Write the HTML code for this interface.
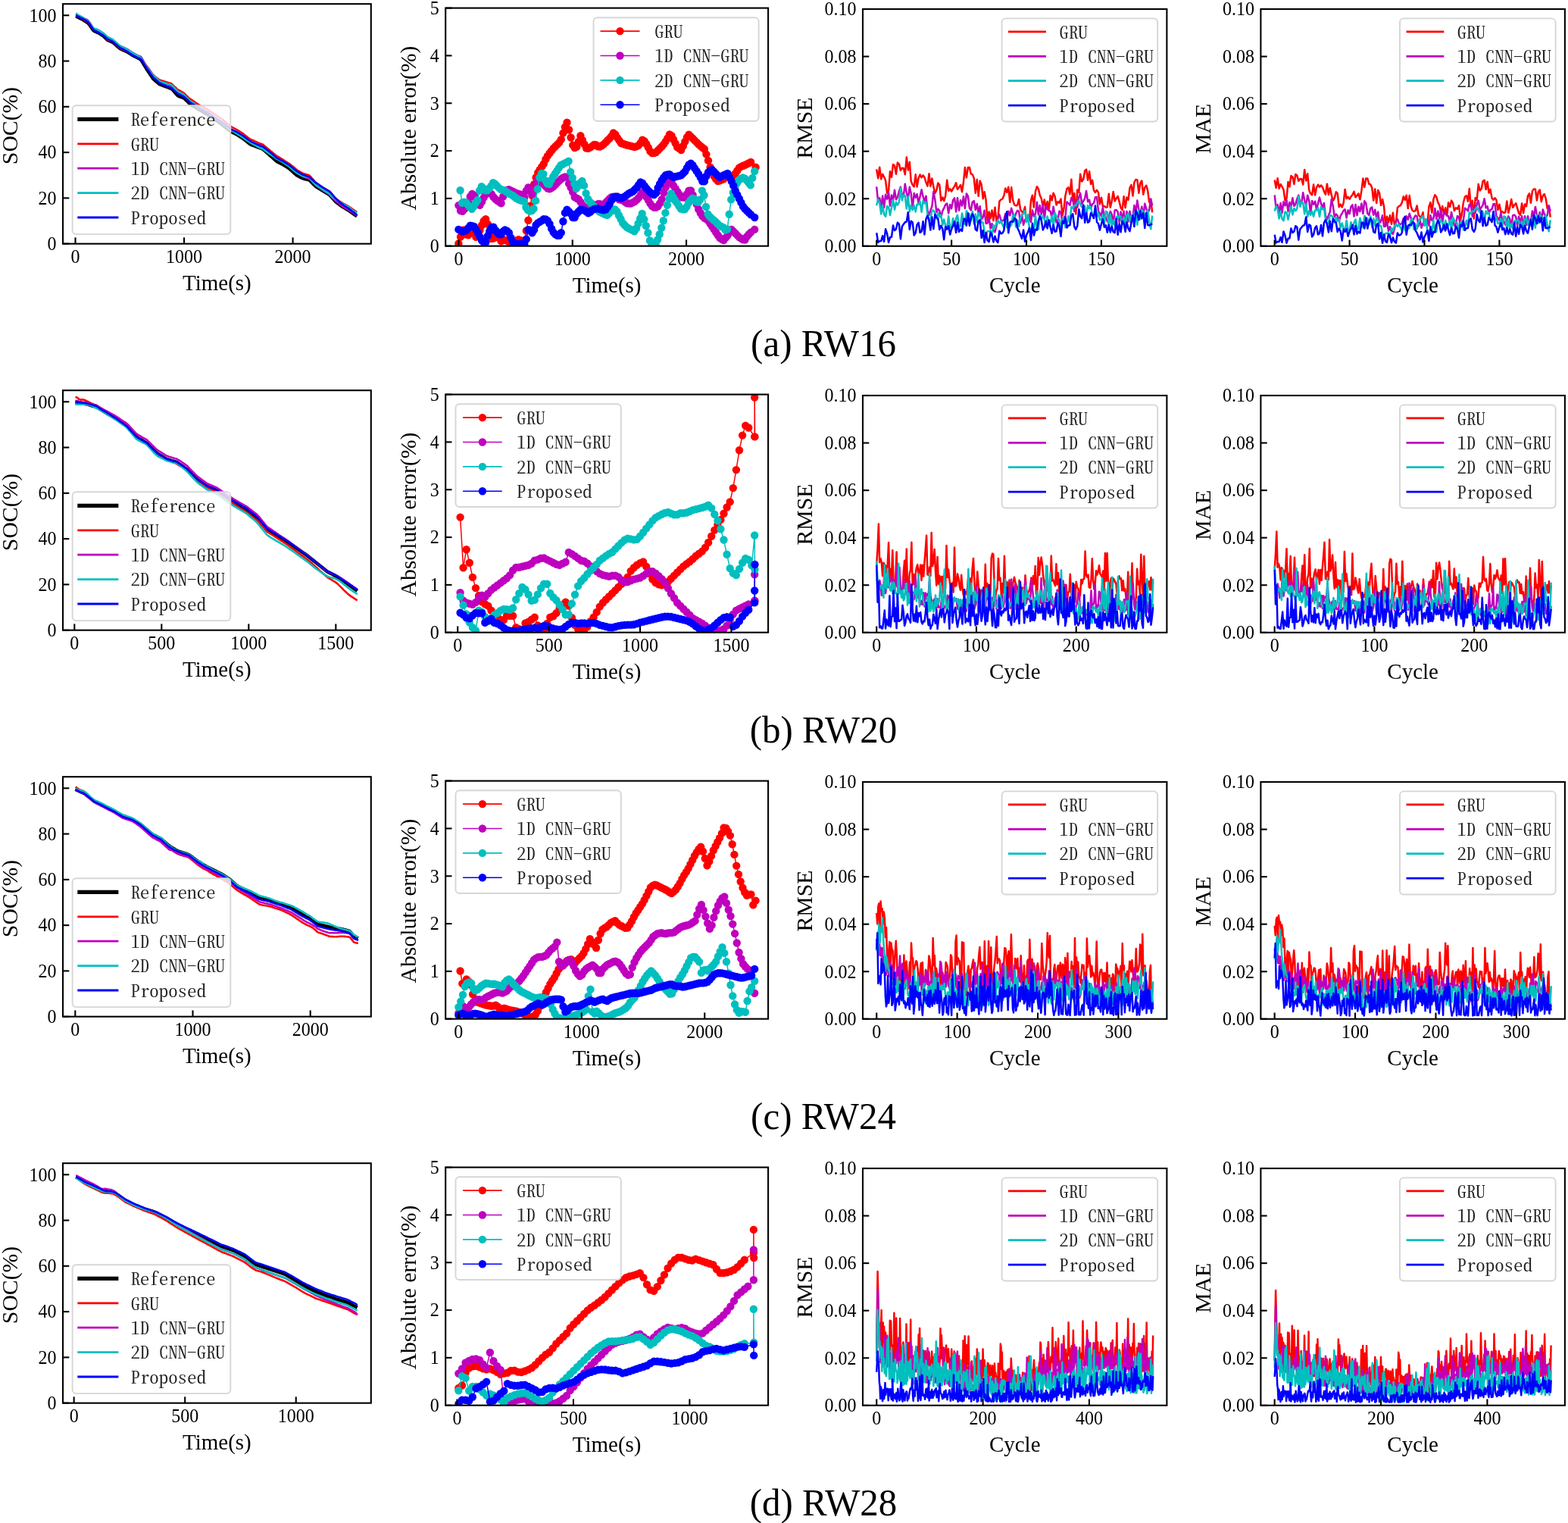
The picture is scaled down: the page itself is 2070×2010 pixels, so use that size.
<!DOCTYPE html>
<html><head><meta charset="utf-8"><title>SOC estimation results</title>
<style>
html,body{margin:0;padding:0;background:#fff;}
body{width:2070px;height:2010px;overflow:hidden;}
svg{display:block;}

.tk{stroke:#000;stroke-width:2.1;}
.fr{fill:none;stroke:#000;stroke-width:2.1;}
.lg{fill:#fff;fill-opacity:0.8;stroke:#d6d6d6;stroke-width:1.9;}
</style></head><body>
<svg width="2070" height="2010" viewBox="0 0 2070 2010">
<svg x="588.2" y="10.6" width="425.9" height="314.1" viewBox="588.2 10.6 425.9 314.1" overflow="hidden"><g>
<path d="M605.4 321.5l2.6-8.9 2.5-8.9 2.6 .1 2.5 5.8 2.6 .7 2.6-3.6 2.5-3.5 2.6 4.5 2.5 5.2 2.6-3.7 2.5-5.5 2.6-6.4 2.5-5.5 2.6-2.6 2.6 6.6 2.5 10.7 2.6 8.6 2.5-.5 2.6-7.6 2.5-.4 2.6 7.7 2.5 4.1 2.6-1.3 2.5-.5 2.6 1.3 2.6 1.3 2.5 .8 2.6-1 2.5-.9 2.6-1 2.5-.8 2.6 .8 2.5 .9 2.6 .8 2.5-14.3 2.6-13.7 2.6-19 2.5-13.7 2.6-14.9 2.5-9 2.6-6.3 2.5-4.3 2.6-3.7 2.5-3.6 2.6-6 2.5-4.6 2.6-3.4 2.6-3.4 2.5-3.1 2.6-2.5 2.5-2.6 2.6-2.6 2.5-4 2.6-8.5 2.5-7.9 2.6-6 2.6 9.5 2.5 10.3 2.6 10.1 2.5 3.4 2.6-1.3 2.5-6.8 2.6-7.6 2.5 5.6 2.6 5.5 2.5 5.1 2.6 .4 2.6-1.3 2.5-1.7 2.6-1.9 2.5 .3 2.6 2 2.5 .2 2.6-1.3 2.5-1.8 2.6-2.5 2.5-2.6 2.6-2.6 2.6-3 2.5-4.3 2.6 2 2.5 4.2 2.6 3.8 2.5 3.6 2.6 .8 2.5 .9 2.6 .8 2.6 .6 2.5 .7 2.6 .6 2.5 .7 2.6-1 2.5-1.2 2.6-3.2 2.5-3.9 2.6 1.3 2.5 3.9 2.6 4.6 2.6 5.1 2.5 2.4 2.6 0 2.5-1.1 2.6-2.5 2.5-2.6 2.6-2.5 2.5-3 2.6-3.8 2.5-4.1 2.6-5.1 2.6 1.5 2.5 5.1 2.6 5.1 2.5 5.1 2.6 1.9 2.5 1.9 2.6-5.2 2.5-5.8 2.6-5.9 2.5-3.4 2.6 2.6 2.6 2.5 2.5 2.6 2.6 2.5 2.5 2.6 2.6 2.2 2.5 2.1 2.6 2 2.5 6.8 2.6 8.3 2.6 8.7 2.5 6.4 2.6 5.6 2.5 3.8 2.6 2.7 2.5-.9 2.6-.8 2.5-1.1 2.6-2.6 2.5-2.3 2.6 1.3 2.6 1.2 2.5-2.4 2.6-2.6 2.5-3.7 2.6-3.8 2.5-1.5 2.6-1.1 2.5-1 2.6-1.3 2.5-1.3 2.6-1.3 6.4 6.8" fill="none" stroke="#ff0000" stroke-width="1.5"/>
<path d="M605.4 321.5h0M608 312.6h0M610.5 303.7h0M613.1 303.8h0M615.6 309.6h0M618.2 310.3h0M620.8 306.7h0M623.3 303.2h0M625.9 307.7h0M628.4 312.9h0M631 309.2h0M633.5 303.7h0M636.1 297.3h0M638.6 291.8h0M641.2 289.2h0M643.8 295.8h0M646.3 306.5h0M648.9 315.1h0M651.4 314.6h0M654 307h0M656.5 306.6h0M659.1 314.3h0M661.6 318.4h0M664.2 317.1h0M666.7 316.6h0M669.3 317.9h0M671.9 319.2h0M674.4 320h0M677 319h0M679.5 318.1h0M682.1 317.1h0M684.6 316.3h0M687.2 317.1h0M689.7 318h0M692.3 318.8h0M694.8 304.5h0M697.4 290.8h0M700 271.8h0M702.5 258.1h0M705.1 243.2h0M707.6 234.2h0M710.2 227.9h0M712.7 223.6h0M715.3 219.9h0M717.8 216.3h0M720.4 210.3h0M722.9 205.7h0M725.5 202.3h0M728.1 198.9h0M730.6 195.8h0M733.2 193.3h0M735.7 190.7h0M738.3 188.1h0M740.8 184.1h0M743.4 175.6h0M745.9 167.7h0M748.5 161.7h0M751.1 171.2h0M753.6 181.5h0M756.2 191.6h0M758.7 195h0M761.3 193.7h0M763.8 186.9h0M766.4 179.3h0M768.9 184.9h0M771.5 190.4h0M774 195.5h0M776.6 195.9h0M779.2 194.6h0M781.7 192.9h0M784.3 191h0M786.8 191.3h0M789.4 193.3h0M791.9 193.5h0M794.5 192.2h0M797 190.4h0M799.6 187.9h0M802.1 185.3h0M804.7 182.7h0M807.3 179.7h0M809.8 175.4h0M812.4 177.4h0M814.9 181.6h0M817.5 185.4h0M820 189h0M822.6 189.8h0M825.1 190.7h0M827.7 191.5h0M830.3 192.1h0M832.8 192.8h0M835.4 193.4h0M837.9 194.1h0M840.5 193.1h0M843 191.9h0M845.6 188.7h0M848.1 184.8h0M850.7 186.1h0M853.2 190h0M855.8 194.6h0M858.4 199.7h0M860.9 202.1h0M863.5 202.1h0M866 201h0M868.6 198.5h0M871.1 195.9h0M873.7 193.4h0M876.2 190.4h0M878.8 186.6h0M881.3 182.5h0M883.9 177.4h0M886.5 178.9h0M889 184h0M891.6 189.1h0M894.1 194.2h0M896.7 196.1h0M899.2 198h0M901.8 192.8h0M904.3 187h0M906.9 181.1h0M909.4 177.7h0M912 180.3h0M914.6 182.8h0M917.1 185.4h0M919.7 187.9h0M922.2 190.5h0M924.8 192.7h0M927.3 194.8h0M929.9 196.8h0M932.4 203.6h0M935 211.9h0M937.6 220.6h0M940.1 227h0M942.7 232.6h0M945.2 236.4h0M947.8 239.1h0M950.3 238.2h0M952.9 237.4h0M955.4 236.3h0M958 233.7h0M960.5 231.4h0M963.1 232.7h0M965.7 233.9h0M968.2 231.5h0M970.8 228.9h0M973.3 225.2h0M975.9 221.4h0M978.4 219.9h0M981 218.8h0M983.5 217.8h0M986.1 216.5h0M988.6 215.2h0M991.2 213.9h0M997.6 220.7h0" fill="none" stroke="#ff0000" stroke-width="10.4" stroke-linecap="round"/>
<path d="M605.4 271.1l2.6 6.9 2.5 .7 2.6-2.6 2.5-3.4 2.6-5.7 2.6-7.6 2.5-3.4 2.6 1.7 2.5 6.3 2.6 5 2.5 1.7 2.6-4.3 2.5-5.5 2.6-4.3 2.6-1.8 2.5-.7 2.6 2 2.5 3.9 2.6 2.8 2.5 1.9 2.6 1.9 2.5 1.7 2.6-8.8 2.5-7.4 2.6-1.2 2.6-.7 2.5 1.3 2.6 1.3 2.5 1.2 2.6 1.3 2.5 .6 2.6 .7 2.5 1.9 2.6 1.9 2.5-8.7 2.6-4.2 2.6 4.3 2.5 4.9 2.6-4.9 2.5-8.3 2.6-6.6 2.5 1.7 2.6 2.3 2.5 2.5 2.6 2.6 2.5 2.6 2.6 .7 2.6-1.3 2.5-1.8 2.6-2.5 2.5-2.6 2.6-2.5 2.5-2.4 2.6-1.7 2.5-1.1 2.6 .4 2.6 8.6 2.5 5.1 2.6 6 2.5 6.8 2.6 1.4 2.5 1.3 2.6 3.6 2.5 3.8 2.6 3.9 2.5 3.8 2.6-2.8 2.6-5.2 2.5-.8 2.6 1.3 2.5-.2 2.6-1.3 2.5 0 2.6 1.3 2.5-.4 2.6-2.6 2.5-2.5 2.6-2.6 2.6-2 2.5-.6 2.6-.1 2.5 1.9 2.6 1.7 2.5 .7 2.6 .7 2.5 1.9 2.6 1.9 2.6 .1 2.5 0 2.6-1.2 2.5-1.3 2.6-2.3 2.5-2.6 2.6-3.5 2.5-3.8 2.6 1.6 2.5 4.3 2.6 4.4 2.6 4.5 2.5 3.4 2.6 1.8 2.5 0 2.6-1.6 2.5-3.8 2.6-5.3 2.5-8.6 2.6-7.2 2.5-6.1 2.6-3.4 2.6 2.1 2.5 5 2.6 3.9 2.5 3.8 2.6 3.8 2.5 3.9 2.6 .2 2.5 0 2.6-4.4 2.5-4.3 2.6-.3 2.6 5.9 2.5 6 2.6 6.1 2.5 6.8 2.6 5 2.5 3.9 2.6 2.5 2.5 1.3 2.6 2.4 2.6 3.8 2.5 3.8 2.6 3.9 2.5 3.8 2.6 3.8 2.5 3.5 2.6 1.9 2.5 1.2 2.6-3.2 2.5-3.2 2.6-3.8 2.6-3.9 2.5 2.4 2.6 2.6 2.5 2.6 2.6 2.5 2.5 1.7 2.6 1.6 2.5 .2 2.6-4.3 2.5-3.1 2.6-2.6 5-3.7" fill="none" stroke="#bf00bf" stroke-width="1.5"/>
<path d="M605.4 271.1h0M608 278h0M610.5 278.7h0M613.1 276.1h0M615.6 272.7h0M618.2 267h0M620.8 259.4h0M623.3 256h0M625.9 257.7h0M628.4 264h0M631 269h0M633.5 270.7h0M636.1 266.4h0M638.6 260.9h0M641.2 256.6h0M643.8 254.8h0M646.3 254.1h0M648.9 256.1h0M651.4 260h0M654 262.8h0M656.5 264.7h0M659.1 266.6h0M661.6 268.3h0M664.2 259.5h0M666.7 252.1h0M669.3 250.9h0M671.9 250.2h0M674.4 251.5h0M677 252.8h0M679.5 254h0M682.1 255.3h0M684.6 255.9h0M687.2 256.6h0M689.7 258.5h0M692.3 260.4h0M694.8 251.7h0M697.4 247.5h0M700 251.8h0M702.5 256.7h0M705.1 251.8h0M707.6 243.5h0M710.2 236.9h0M712.7 238.6h0M715.3 240.9h0M717.8 243.4h0M720.4 246h0M722.9 248.6h0M725.5 249.3h0M728.1 248h0M730.6 246.2h0M733.2 243.7h0M735.7 241.1h0M738.3 238.6h0M740.8 236.2h0M743.4 234.5h0M745.9 233.4h0M748.5 233.8h0M751.1 242.4h0M753.6 247.5h0M756.2 253.5h0M758.7 260.3h0M761.3 261.7h0M763.8 263h0M766.4 266.6h0M768.9 270.4h0M771.5 274.3h0M774 278.1h0M776.6 275.3h0M779.2 270.1h0M781.7 269.3h0M784.3 270.6h0M786.8 270.4h0M789.4 269.1h0M791.9 269.1h0M794.5 270.4h0M797 270h0M799.6 267.4h0M802.1 264.9h0M804.7 262.3h0M807.3 260.3h0M809.8 259.7h0M812.4 259.6h0M814.9 261.5h0M817.5 263.2h0M820 263.9h0M822.6 264.6h0M825.1 266.5h0M827.7 268.4h0M830.3 268.5h0M832.8 268.5h0M835.4 267.3h0M837.9 266h0M840.5 263.7h0M843 261.1h0M845.6 257.6h0M848.1 253.8h0M850.7 255.4h0M853.2 259.7h0M855.8 264.1h0M858.4 268.6h0M860.9 272h0M863.5 273.8h0M866 273.8h0M868.6 272.2h0M871.1 268.4h0M873.7 263.1h0M876.2 254.5h0M878.8 247.3h0M881.3 241.2h0M883.9 237.8h0M886.5 239.9h0M889 244.9h0M891.6 248.8h0M894.1 252.6h0M896.7 256.4h0M899.2 260.3h0M901.8 260.5h0M904.3 260.5h0M906.9 256.1h0M909.4 251.8h0M912 251.5h0M914.6 257.4h0M917.1 263.4h0M919.7 269.5h0M922.2 276.3h0M924.8 281.3h0M927.3 285.2h0M929.9 287.7h0M932.4 289h0M935 291.4h0M937.6 295.2h0M940.1 299h0M942.7 302.9h0M945.2 306.7h0M947.8 310.5h0M950.3 314h0M952.9 315.9h0M955.4 317.1h0M958 313.9h0M960.5 310.7h0M963.1 306.9h0M965.7 303h0M968.2 305.4h0M970.8 308h0M973.3 310.6h0M975.9 313.1h0M978.4 314.8h0M981 316.4h0M983.5 316.6h0M986.1 312.3h0M988.6 309.2h0M991.2 306.6h0M996.2 302.9h0" fill="none" stroke="#bf00bf" stroke-width="10.4" stroke-linecap="round"/>
<path d="M607.6 251.2l2.5 16.6 2.6-1 2.5 .4 2.6 3.4 2.5 2.7 2.6 2.5 2.5-3.3 2.6-4.8 2.5-3.4 2.6-12.8 2.6-5.3 2.5 2.5 2.6 2.6 2.5 0 2.6-2.6 2.5-3.3 2.6-4.2 2.5 1.6 2.6 2.6 2.5 2.5 2.6 2.1 2.6 .7 2.5 .8 2.6 1.9 2.5 1.9 2.6 1.3 2.5 1.2 2.6 2 2.5 1.9 2.6 1.3 2.5 1.3 2.6 .7 2.6 .7 2.5 8 2.6 3.7 2.5 1.2 2.6-.6 2.5-2.6 2.6-10.5 2.5-15.3 2.6-15.3 2.6-5.3 2.5 .6 2.6 8.5 2.5 4.1 2.6 .8 2.5-5.1 2.6-4.8 2.5-3.8 2.6-3.9 2.5-3.8 2.6-3.6 2.6-1.3 2.5-1.3 2.6-1.3 2.5-1.3 2.6 14.1 2.5 7.8 2.6 7.9 2.5 6.3 2.6-3.4 2.5-4 2.6-2.5 2.6 5.9 2.5 10.2 2.6 7.6 2.5 3.8 2.6 3.2 2.5 2.6 2.6 2.5 2.5 2.6 2.6 2.1 2.6 1.3 2.5 1.3 2.6 1.2 2.5 .6 2.6-2.6 2.5-2.4 2.6-1.7 2.5-.8 2.6 2.7 2.5 5.1 2.6 5.1 2.6 5.1 2.5 2.8 2.6 2.6 2.5 1.5 2.6 1.3 2.5 1.3 2.6 1.3 2.5-3.8 2.6-6.4 2.5-6.6 2.6-6.5 2.6 7.6 2.5 8.5 2.6 9.3 2.5 10.2 2.6 4.3 2.5 1.8 2.6-1.7 2.5-5.5 2.6-7.1 2.6-8.5 2.5-9.6 2.6-10.3 2.5-10.2 2.6-8.4 2.5-6.8 2.6 4.6 2.5 4.4 2.6 3.4 2.5 3.8 2.6 3.8 2.6 .9 2.5 0 2.6-3.5 2.5-5.1 2.6-3.6 2.5-2.5 2.6 .9 2.5 3.8 2.6 .5 2.5-3.4 2.6-11.9 2.6 6.2 2.5 15.2 2.6 9.6 2.5 3.4 2.6 2.5 2.5 2 2.6 2.1 2.5 2.6 2.6 2.5 2.5 1.3 2.6 1.2 2.6 3.4 2.5-1.1 2.6-19.8 2.5-19.3 2.6-9.1 2.5-7.7 2.6-4.8 2.5-3.8 2.6-2.2 2.6-1.3 2.5 .9 2.6 2.6 2.5 3 2.6 3.4 2.5-9.4 2.9-9" fill="none" stroke="#00bfbf" stroke-width="1.5"/>
<path d="M607.6 251.2h0M610.1 267.8h0M612.7 266.8h0M615.2 267.2h0M617.8 270.6h0M620.3 273.3h0M622.9 275.8h0M625.4 272.5h0M628 267.7h0M630.5 264.3h0M633.1 251.5h0M635.7 246.2h0M638.2 248.7h0M640.8 251.3h0M643.3 251.3h0M645.9 248.7h0M648.4 245.4h0M651 241.2h0M653.5 242.8h0M656.1 245.4h0M658.6 247.9h0M661.2 250h0M663.8 250.7h0M666.3 251.5h0M668.9 253.4h0M671.4 255.3h0M674 256.6h0M676.5 257.8h0M679.1 259.8h0M681.6 261.7h0M684.2 263h0M686.7 264.3h0M689.3 265h0M691.9 265.7h0M694.4 273.7h0M697 277.4h0M699.5 278.6h0M702.1 278h0M704.6 275.4h0M707.2 264.9h0M709.7 249.6h0M712.3 234.3h0M714.9 229h0M717.4 229.6h0M720 238.1h0M722.5 242.2h0M725.1 243h0M727.6 237.9h0M730.2 233.1h0M732.7 229.3h0M735.3 225.4h0M737.8 221.6h0M740.4 218h0M743 216.7h0M745.5 215.4h0M748.1 214.1h0M750.6 212.8h0M753.2 226.9h0M755.7 234.7h0M758.3 242.6h0M760.8 248.9h0M763.4 245.5h0M765.9 241.5h0M768.5 239h0M771.1 244.9h0M773.6 255.1h0M776.2 262.7h0M778.7 266.5h0M781.3 269.7h0M783.8 272.3h0M786.4 274.8h0M788.9 277.4h0M791.5 279.5h0M794.1 280.8h0M796.6 282.1h0M799.2 283.3h0M801.7 283.9h0M804.3 281.3h0M806.8 278.9h0M809.4 277.2h0M811.9 276.4h0M814.5 279.1h0M817 284.2h0M819.6 289.3h0M822.2 294.4h0M824.7 297.2h0M827.3 299.8h0M829.8 301.3h0M832.4 302.6h0M834.9 303.9h0M837.5 305.2h0M840 301.4h0M842.6 295h0M845.1 288.4h0M847.7 281.9h0M850.3 289.5h0M852.8 298h0M855.4 307.3h0M857.9 317.5h0M860.5 321.8h0M863 323.6h0M865.6 321.9h0M868.1 316.4h0M870.7 309.3h0M873.3 300.8h0M875.8 291.2h0M878.4 280.9h0M880.9 270.7h0M883.5 262.3h0M886 255.5h0M888.6 260.1h0M891.1 264.5h0M893.7 267.9h0M896.2 271.7h0M898.8 275.5h0M901.4 276.4h0M903.9 276.4h0M906.5 272.9h0M909 267.8h0M911.6 264.2h0M914.1 261.7h0M916.7 262.6h0M919.2 266.4h0M921.8 266.9h0M924.3 263.5h0M926.9 251.6h0M929.5 257.8h0M932 273h0M934.6 282.6h0M937.1 286h0M939.7 288.5h0M942.2 290.5h0M944.8 292.6h0M947.3 295.2h0M949.9 297.7h0M952.4 299h0M955 300.2h0M957.6 303.6h0M960.1 302.5h0M962.7 282.7h0M965.2 263.4h0M967.8 254.3h0M970.3 246.6h0M972.9 241.8h0M975.4 238h0M978 235.8h0M980.6 234.5h0M983.1 235.4h0M985.7 238h0M988.2 241h0M990.8 244.4h0M993.3 235h0M996.2 226h0" fill="none" stroke="#00bfbf" stroke-width="10.4" stroke-linecap="round"/>
<path d="M605.4 302.9l2.6 1.5 2.5 1.1 2.6-.6 2.5-.8 2.6-3.2 2.6-3.2 2.5 .6 2.6 .6 2.5 4.1 2.6 4.5 2.5 5 2.6 5.1 2.5 2.5 2.6-.2 2.6-8.5 2.5-6.4 2.6-5.1 2.5-.1 2.6 3.8 2.5 3.2 2.6 2.6 2.5 0 2.6-3.9 2.5-2.1 2.6 1.2 2.6 2.6 2.5 6.4 2.6 5.6 2.5 1.9 2.6 1.7 2.5-.7 2.6-.6 2.5 .7 2.6 .6 2.5-7.1 2.6-12.6 2.6 .5 2.5 3.8 2.6-4.2 2.5-6.3 2.6-2.8 2.5-1.3 2.6-1.7 2.5-1.9 2.6 .2 2.5 1.9 2.6 4.1 2.6 6.4 2.5 4.8 2.6 2.6 2.5 1.7 2.6 0 2.5-3.8 2.6-14.8 2.5-11.4 2.6-4.1 2.6 2.5 2.5 2.7 2.6 5.1 2.5 0 2.6-5.1 2.5-2.7 2.6-2.5 2.5 .2 2.6 .6 2.5 1.6 2.6 2 2.6-1.3 2.5-2.5 2.6-1.4 2.5-.6 2.6 0 2.5 .7 2.6 .6 2.5 .7 2.6-.9 2.5-3.2 2.6-3.8 2.6-5.1 2.5-4.1 2.6-.6 2.5-.3 2.6 1.3 2.5 1 2.6-1.3 2.5-1.3 2.6-1.9 2.6-1.9 2.5-1.3 2.6-1.3 2.5-2.4 2.6-2.5 2.5-3.6 2.6-3.8 2.5 1.3 2.6 3.4 2.5 3.4 2.6 2.9 2.6 2.6 2.5 1.9 2.6 1.2 2.5-2.2 2.6-6.9 2.5-5.3 2.6-4.7 2.5-3.8 2.6-3 2.5-.7 2.6-.2 2.6 1.9 2.5 1.7 2.6-.6 2.5-.7 2.6-.6 2.5-.6 2.6-2.5 2.5-2.5 2.6-4.8 2.5-4.1 2.6-1.7 2.6 2.5 2.5 3.8 2.6 3.8 2.5 3.9 2.6 4.5 2.5 5 2.6 0 2.5-6.8 2.6-5 2.6-2.5 2.5-.7 2.6 2.5 2.5 2.6 2.6 2.5 2.5 1.8 2.6-1.3 2.5-1.2 2.6-1.3 2.5-1 2.6 5.2 2.6 5.1 2.5 5.8 2.6 6.9 2.5 5.2 2.6 5.1 2.5 5.2 2.6 5.1 2.5 3.2 2.6 2.5 2.5 2.6 2.6 2.5 5 3.7" fill="none" stroke="#0000ff" stroke-width="1.5"/>
<path d="M605.4 302.9h0M608 304.4h0M610.5 305.5h0M613.1 304.9h0M615.6 304.1h0M618.2 300.9h0M620.8 297.7h0M623.3 298.3h0M625.9 298.9h0M628.4 303h0M631 307.5h0M633.5 312.5h0M636.1 317.6h0M638.6 320.1h0M641.2 319.9h0M643.8 311.4h0M646.3 305h0M648.9 299.9h0M651.4 299.8h0M654 303.6h0M656.5 306.8h0M659.1 309.4h0M661.6 309.4h0M664.2 305.5h0M666.7 303.4h0M669.3 304.6h0M671.9 307.2h0M674.4 313.6h0M677 319.2h0M679.5 321.1h0M682.1 322.8h0M684.6 322.1h0M687.2 321.5h0M689.7 322.2h0M692.3 322.8h0M694.8 315.7h0M697.4 303.1h0M700 303.6h0M702.5 307.4h0M705.1 303.2h0M707.6 296.9h0M710.2 294.1h0M712.7 292.8h0M715.3 291.1h0M717.8 289.2h0M720.4 289.4h0M722.9 291.3h0M725.5 295.4h0M728.1 301.8h0M730.6 306.6h0M733.2 309.2h0M735.7 310.9h0M738.3 310.9h0M740.8 307.1h0M743.4 292.3h0M745.9 280.9h0M748.5 276.8h0M751.1 279.3h0M753.6 282h0M756.2 287.1h0M758.7 287.1h0M761.3 282h0M763.8 279.3h0M766.4 276.8h0M768.9 277h0M771.5 277.6h0M774 279.2h0M776.6 281.2h0M779.2 279.9h0M781.7 277.4h0M784.3 276h0M786.8 275.4h0M789.4 275.4h0M791.9 276.1h0M794.5 276.7h0M797 277.4h0M799.6 276.5h0M802.1 273.3h0M804.7 269.5h0M807.3 264.4h0M809.8 260.3h0M812.4 259.7h0M814.9 259.4h0M817.5 260.7h0M820 261.7h0M822.6 260.4h0M825.1 259.1h0M827.7 257.2h0M830.3 255.3h0M832.8 254h0M835.4 252.7h0M837.9 250.3h0M840.5 247.8h0M843 244.2h0M845.6 240.4h0M848.1 241.7h0M850.7 245.1h0M853.2 248.5h0M855.8 251.4h0M858.4 254h0M860.9 255.9h0M863.5 257.1h0M866 254.9h0M868.6 248h0M871.1 242.7h0M873.7 238h0M876.2 234.2h0M878.8 231.2h0M881.3 230.5h0M883.9 230.3h0M886.5 232.2h0M889 233.9h0M891.6 233.3h0M894.1 232.6h0M896.7 232h0M899.2 231.4h0M901.8 228.9h0M904.3 226.4h0M906.9 221.6h0M909.4 217.5h0M912 215.8h0M914.6 218.3h0M917.1 222.1h0M919.7 225.9h0M922.2 229.8h0M924.8 234.3h0M927.3 239.3h0M929.9 239.3h0M932.4 232.5h0M935 227.5h0M937.6 225h0M940.1 224.3h0M942.7 226.8h0M945.2 229.4h0M947.8 231.9h0M950.3 233.7h0M952.9 232.4h0M955.4 231.2h0M958 229.9h0M960.5 228.9h0M963.1 234.1h0M965.7 239.2h0M968.2 245h0M970.8 251.9h0M973.3 257.1h0M975.9 262.2h0M978.4 267.4h0M981 272.5h0M983.5 275.7h0M986.1 278.2h0M988.6 280.8h0M991.2 283.3h0M996.2 287h0" fill="none" stroke="#0000ff" stroke-width="10.4" stroke-linecap="round"/>
</g></svg>
<svg x="83" y="5.2" width="406.8" height="316.5" viewBox="83 5.2 406.8 316.5" overflow="hidden"><g fill="none" stroke-linejoin="round">
<path d="M100.2 21.2l1.4 .7 1.5 .8 1.4 .7 1.4 .7 1.5 .7 1.4 .8 1.5 .9 1.4 .9 1.4 .9 1.5 .9 1.4 .9 1.4 1.6 1.5 2 1.4 2.1 1.4 2 1.5 2.1 1.4 1.1 1.4 .6 1.5 .6 1.4 .7 1.4 .6 1.5 .8 1.4 1 1.5 .9 1.4 1 1.4 1.1 1.5 1.5 1.4 1.4 1.4 1.4 1.5 .8 1.4 .6 1.4 .6 1.5 .6 1.4 .6 1.4 1.2 1.5 1.3 1.4 1.3 1.5 1.3 1.4 1.2 1.4 1.3 1.5 1 1.4 .6 1.4 .7 1.5 .6 1.4 .6 1.4 .7 1.5 .6 1.4 .9 1.4 .9 1.5 .9 1.4 .9 1.4 .9 1.5 .8 1.4 .8 1.5 .7 1.4 .7 1.4 .7 1.5 .7 1.4 .8 1.4 1.1 1.5 2.4 1.4 2.3 1.4 2.3 1.5 2.4 1.4 2.3 1.4 2.2 1.5 2.2 1.4 2.1 1.4 2.2 1.5 2.1 1.4 2.2 1.5 1.3 1.4 1.3 1.4 1.2 1.5 1.3 1.4 1.2 1.4 1.1 1.5 .6 1.4 .5 1.4 .6 1.5 .5 1.4 .5 1.4 .6 1.5 .5 1.4 .5 1.5 .6 1.4 .5 1.4 .6 1.5 1.4 1.4 1.6 1.4 1.6 1.5 1.7 1.4 1.6 1.4 1.4 1.5 .6 1.4 .5 1.4 .5 1.5 .6 1.4 .5 1.4 1 1.5 1.4 1.4 1.4 1.5 1.5 1.4 1.4 1.4 1.5 1.5 1 1.4 .9 1.4 .9 1.5 .9 1.4 .8 1.4 .9 1.5 .9 1.4 .8 1.4 .8 1.5 .8 1.4 .8 1.4 .9 1.5 .8 1.4 .8 1.5 .8 1.4 .9 1.4 .9 1.5 1 1.4 .9 1.4 1 1.5 .9 1.4 1 1.4 1 1.5 .9 1.4 1 1.4 1.1 1.5 1.1 1.4 1.1 1.5 1.1 1.4 1 1.4 1.2 1.5 1.1 1.4 1.2 1.4 1.1 1.5 1.2 1.4 1.1 1.4 1.2 1.5 .8 1.4 .7 1.4 .7 1.5 .7 1.4 .7 1.4 .8 1.5 .9 1.4 .9 1.5 .9 1.4 .9 1.4 .9 1.5 1 1.4 1.1 1.4 1.2 1.5 1.1 1.4 1.2 1.4 1.1 1.5 1.2 1.4 .9 1.4 .5 1.5 .6 1.4 .5 1.4 .5 1.5 .6 1.4 .5 1.5 .6 1.4 .5 1.4 .5 1.5 .6 1.4 .5 1.4 1.3 1.5 1.2 1.4 1.3 1.4 1.2 1.5 1.3 1.4 1.2 1.4 1.3 1.5 1.3 1.4 1.3 1.5 1.3 1.4 1.3 1.4 1.3 1.5 1.2 1.4 .7 1.4 .7 1.5 .7 1.4 .8 1.4 .7 1.5 .8 1.4 .9 1.4 .9 1.5 .9 1.4 .9 1.4 .9 1.5 1.2 1.4 1.3 1.5 1.3 1.4 1.3 1.4 1.2 1.5 1.3 1.4 1.3 1.4 .9 1.5 .7 1.4 .8 1.4 .7 1.5 .7 1.4 .7 1.4 .4 1.5 .3 1.4 .4 1.5 .3 1.4 .4 1.4 .7 1.5 1.4 1.4 1.5 1.4 1.4 1.5 1.4 1.4 1.5 1.4 1.1 1.5 .9 1.4 .9 1.4 .9 1.5 .9 1.4 .9 1.4 .8 1.5 .9 1.4 .9 1.5 .8 1.4 .9 1.4 .8 1.5 .9 1.4 1.5 1.4 1.6 1.5 1.6 1.4 1.6 1.4 1.6 1.5 1.6 1.4 1.1 1.4 1 1.5 1.1 1.4 1.1 1.4 1.1 1.5 .9 1.4 .9 1.5 .9 1.4 .8 1.4 .9 1.5 .8 1.4 .9 1.4 .9 1.5 1.1 1.4 1 1.4 1.1 1.5 1 1.4 1.1 1.4 1 .7 .5" stroke="#000" stroke-width="4.6"/>
<path d="M100.2 20.9l1.4 .5 1.5 .5 1.4 .4 1.4 .7 1.5 .9 1.4 .9 1.5 1.1 1.4 .8 1.4 .8 1.5 .8 1.4 .8 1.4 1.6 1.5 2.2 1.4 2.2 1.4 2.2 1.5 1.9 1.4 1 1.4 .4 1.5 .5 1.4 .4 1.4 .5 1.5 .7 1.4 .9 1.5 .9 1.4 1.3 1.4 1.5 1.5 1.7 1.4 1.7 1.4 1.6 1.5 .6 1.4 .4 1.4 .4 1.5 .6 1.4 .8 1.4 1.4 1.5 1.5 1.4 1.3 1.5 1.2 1.4 1.3 1.4 1.2 1.5 1 1.4 .7 1.4 .7 1.5 .6 1.4 .7 1.4 .6 1.5 .7 1.4 .8 1.4 .9 1.5 .9 1.4 .8 1.4 .9 1.5 .9 1.4 .7 1.5 .7 1.4 .8 1.4 .7 1.5 .5 1.4 .3 1.4 .8 1.5 1.8 1.4 1.8 1.4 2 1.5 1.9 1.4 1.9 1.4 1.8 1.5 1.9 1.4 2 1.4 2 1.5 2 1.4 2 1.5 1.3 1.4 1.1 1.4 1.2 1.5 1.1 1.4 1.1 1.4 .9 1.5 .4 1.4 .5 1.4 .4 1.5 .5 1.4 .4 1.4 .5 1.5 .4 1.4 .5 1.5 .5 1.4 .4 1.4 .5 1.5 1.4 1.4 1.4 1.4 1.4 1.5 1.3 1.4 1.4 1.4 1.3 1.5 .4 1.4 .9 1.4 .8 1.5 .9 1.4 .8 1.4 1.2 1.5 1.5 1.4 1.6 1.5 1.3 1.4 1.3 1.4 1.2 1.5 .8 1.4 .8 1.4 1.1 1.5 1.1 1.4 1 1.4 1 1.5 1 1.4 .8 1.4 .8 1.5 .8 1.4 .8 1.4 .7 1.5 .8 1.4 .8 1.5 .8 1.4 .9 1.4 1 1.5 1 1.4 .9 1.4 .9 1.5 1 1.4 .9 1.4 .8 1.5 .9 1.4 1 1.4 1 1.5 1 1.4 1 1.5 1 1.4 .9 1.4 1.1 1.5 1.2 1.4 1.3 1.4 1.3 1.5 1.2 1.4 1.3 1.4 1.2 1.5 .9 1.4 .7 1.4 .7 1.5 .8 1.4 .7 1.4 .8 1.5 .9 1.4 .9 1.5 .9 1.4 1 1.4 .9 1.5 1 1.4 1.1 1.4 1.1 1.5 1.2 1.4 1.1 1.4 1 1.5 1.1 1.4 .8 1.4 .5 1.5 .7 1.4 .6 1.4 .7 1.5 .6 1.4 .7 1.5 .7 1.4 .6 1.4 .6 1.5 .5 1.4 .5 1.4 1.2 1.5 1.2 1.4 1.2 1.4 1.2 1.5 1.1 1.4 1.2 1.4 1.3 1.5 1.1 1.4 1.2 1.5 1.2 1.4 1.2 1.4 1.1 1.5 1.1 1.4 .7 1.4 .9 1.5 .9 1.4 .8 1.4 .9 1.5 .9 1.4 1 1.4 1 1.5 .9 1.4 1 1.4 .7 1.5 1.1 1.4 1.1 1.5 1.2 1.4 1.1 1.4 1.1 1.5 1.3 1.4 1.4 1.4 .9 1.5 .8 1.4 .8 1.4 .8 1.5 .8 1.4 .8 1.4 .4 1.5 .4 1.4 .5 1.5 .4 1.4 .4 1.4 .7 1.5 1.6 1.4 1.7 1.4 1.6 1.5 1.7 1.4 1.7 1.4 1.3 1.5 1.1 1.4 1 1.4 1.1 1.5 1 1.4 1 1.4 .9 1.5 .9 1.4 .8 1.5 .8 1.4 .9 1.4 .8 1.5 .8 1.4 1.4 1.4 1.6 1.5 1.5 1.4 1.7 1.4 1.6 1.5 1.6 1.4 1 1.4 1.1 1.5 1 1.4 1 1.4 .9 1.5 .9 1.4 .7 1.5 .9 1.4 .8 1.4 .8 1.5 .8 1.4 .9 1.4 .9 1.5 1 1.4 1 1.4 1 1.5 1 1.4 1 1.4 1.1 .7 .5" stroke="#ff0000" stroke-width="2.6"/>
<path d="M100.2 18.8l1.4 .9 1.5 .8 1.4 .7 1.4 .6 1.5 .6 1.4 .7 1.5 .8 1.4 .7 1.4 .7 1.5 .7 1.4 .8 1.4 1.6 1.5 2.1 1.4 2.2 1.4 2.3 1.5 2.2 1.4 1.2 1.4 .6 1.5 .6 1.4 .4 1.4 .5 1.5 .7 1.4 .8 1.5 .9 1.4 .9 1.4 1.2 1.5 1.4 1.4 1.5 1.4 1.5 1.5 .9 1.4 .7 1.4 .7 1.5 .6 1.4 .7 1.4 1.2 1.5 1.4 1.4 1.3 1.5 1 1.4 1 1.4 1 1.5 1 1.4 .6 1.4 .6 1.5 .6 1.4 .7 1.4 .7 1.5 .7 1.4 .9 1.4 .9 1.5 1 1.4 .9 1.4 .9 1.5 .9 1.4 .7 1.5 .8 1.4 .7 1.4 .8 1.5 .6 1.4 .4 1.4 1 1.5 2.4 1.4 2.5 1.4 2.4 1.5 2.5 1.4 2.3 1.4 2 1.5 1.9 1.4 1.9 1.4 2 1.5 2.2 1.4 2.2 1.5 1.4 1.4 1.3 1.4 1.3 1.5 1.3 1.4 1.4 1.4 1.1 1.5 .6 1.4 .6 1.4 .5 1.5 .5 1.4 .5 1.4 .5 1.5 .5 1.4 .4 1.5 .5 1.4 .5 1.4 .4 1.5 1.4 1.4 1.6 1.4 1.5 1.5 1.6 1.4 1.6 1.4 1.4 1.5 .7 1.4 .8 1.4 .7 1.5 .7 1.4 .6 1.4 1.2 1.5 1.6 1.4 1.6 1.5 1.5 1.4 1.4 1.4 1.5 1.5 1.1 1.4 1 1.4 1 1.5 1 1.4 1 1.4 1 1.5 1 1.4 .7 1.4 .6 1.5 .7 1.4 .8 1.4 .8 1.5 .9 1.4 .8 1.5 .8 1.4 .8 1.4 .9 1.5 1 1.4 1 1.4 1 1.5 1 1.4 .9 1.4 .9 1.5 .8 1.4 1 1.4 1 1.5 1 1.4 1 1.5 1.1 1.4 1 1.4 1.1 1.5 1.2 1.4 1.2 1.4 1.2 1.5 1.2 1.4 1.2 1.4 1.1 1.5 .9 1.4 .7 1.4 .8 1.5 .7 1.4 .8 1.4 .8 1.5 .9 1.4 .9 1.5 .9 1.4 .8 1.4 .9 1.5 1 1.4 1.1 1.4 1 1.5 1.1 1.4 1.1 1.4 1 1.5 1.1 1.4 .8 1.4 .5 1.5 .7 1.4 .6 1.4 .7 1.5 .7 1.4 .6 1.5 .7 1.4 .6 1.4 .7 1.5 .5 1.4 .6 1.4 1.2 1.5 1.3 1.4 1.1 1.4 1.1 1.5 1.2 1.4 1.1 1.4 1 1.5 1.1 1.4 1.1 1.5 1.1 1.4 1.1 1.4 1.2 1.5 1.1 1.4 .8 1.4 .8 1.5 .9 1.4 .8 1.4 .8 1.5 1 1.4 1 1.4 1 1.5 1 1.4 1 1.4 .9 1.5 1.2 1.4 1.3 1.5 1.2 1.4 1.2 1.4 1.1 1.5 1.2 1.4 1.2 1.4 1.1 1.5 .9 1.4 .9 1.4 .9 1.5 .8 1.4 .9 1.4 .6 1.5 .5 1.4 .5 1.5 .5 1.4 .4 1.4 .8 1.5 1.5 1.4 1.5 1.4 1.4 1.5 1.6 1.4 1.5 1.4 1.2 1.5 1 1.4 1 1.4 1 1.5 1 1.4 1 1.4 1 1.5 1 1.4 .9 1.5 1 1.4 .9 1.4 .9 1.5 .8 1.4 1.4 1.4 1.5 1.5 1.5 1.4 1.5 1.4 1.5 1.5 1.5 1.4 1.1 1.4 1.1 1.5 1.2 1.4 1.1 1.4 1.2 1.5 1 1.4 .9 1.5 1 1.4 .9 1.4 .9 1.5 .9 1.4 .8 1.4 .8 1.5 1 1.4 .9 1.4 1 1.5 1 1.4 .9 1.4 1 .7 .5" stroke="#bf00bf" stroke-width="2.6"/>
<path d="M100.2 17.7l1.4 .8 1.5 1.2 1.4 1 1.4 .6 1.5 .7 1.4 .8 1.5 1 1.4 1 1.4 1 1.5 1 1.4 .9 1.4 1.6 1.5 1.9 1.4 1.9 1.4 2 1.5 1.9 1.4 .9 1.4 .2 1.5 .3 1.4 .7 1.4 .7 1.5 .9 1.4 1.1 1.5 1 1.4 .8 1.4 1.1 1.5 1.4 1.4 1.3 1.4 1.3 1.5 .6 1.4 .7 1.4 .7 1.5 .7 1.4 .7 1.4 1.3 1.5 1.3 1.4 1.3 1.5 1.3 1.4 1.3 1.4 1.3 1.5 1 1.4 .7 1.4 .7 1.5 .7 1.4 .7 1.4 .6 1.5 .7 1.4 1 1.4 .9 1.5 1 1.4 .9 1.4 1 1.5 .8 1.4 .8 1.5 .7 1.4 .8 1.4 .7 1.5 .9 1.4 1 1.4 1.2 1.5 2.4 1.4 2.4 1.4 2.3 1.5 2.3 1.4 2.3 1.4 2 1.5 1.9 1.4 1.7 1.4 1.7 1.5 1.8 1.4 1.8 1.5 1.2 1.4 1.1 1.4 1.4 1.5 1.5 1.4 1.5 1.4 1.1 1.5 .7 1.4 .5 1.4 .4 1.5 .4 1.4 .4 1.4 .4 1.5 .5 1.4 .4 1.5 .4 1.4 .4 1.4 .5 1.5 1.3 1.4 1.6 1.4 1.6 1.5 1.5 1.4 1.6 1.4 1.4 1.5 .5 1.4 .5 1.4 .9 1.5 1 1.4 .7 1.4 1.2 1.5 1.6 1.4 1.7 1.5 1.5 1.4 1.4 1.4 1.3 1.5 .9 1.4 .8 1.4 .8 1.5 1.1 1.4 1.1 1.4 1.2 1.5 1.1 1.4 1 1.4 .9 1.5 1 1.4 .9 1.4 .9 1.5 .9 1.4 .8 1.5 .9 1.4 .9 1.4 1.1 1.5 1 1.4 1 1.4 1 1.5 1 1.4 1 1.4 1 1.5 1 1.4 1 1.4 1 1.5 1 1.4 1 1.5 1 1.4 1.1 1.4 1.1 1.5 1.1 1.4 1.2 1.4 1.3 1.5 1.3 1.4 1.3 1.4 1.3 1.5 .9 1.4 .9 1.4 .7 1.5 .8 1.4 .8 1.4 .8 1.5 1 1.4 .9 1.5 .9 1.4 1 1.4 .9 1.5 1 1.4 1.1 1.4 1 1.5 .9 1.4 1 1.4 1 1.5 .9 1.4 .9 1.4 .8 1.5 .7 1.4 .8 1.4 .8 1.5 .8 1.4 .8 1.5 .8 1.4 .6 1.4 .7 1.5 .5 1.4 .5 1.4 1.2 1.5 1.1 1.4 1 1.4 1.1 1.5 1 1.4 1 1.4 1 1.5 1 1.4 1 1.5 1 1.4 1.1 1.4 1 1.5 1 1.4 .5 1.4 .8 1.5 .9 1.4 .8 1.4 .8 1.5 .9 1.4 1 1.4 1 1.5 1 1.4 1 1.4 .9 1.5 1.3 1.4 1.3 1.5 1.2 1.4 1.1 1.4 1.2 1.5 1.1 1.4 1.2 1.4 .9 1.5 .6 1.4 .7 1.4 .8 1.5 .9 1.4 .8 1.4 .3 1.5 .3 1.4 .2 1.5 0 1.4 .1 1.4 1 1.5 2 1.4 1.8 1.4 1.7 1.5 1.6 1.4 1.5 1.4 1.2 1.5 .9 1.4 1 1.4 1 1.5 .9 1.4 1 1.4 .9 1.5 .9 1.4 1 1.5 .9 1.4 .9 1.4 .9 1.5 .9 1.4 1.6 1.4 1.6 1.5 1.4 1.4 1 1.4 .9 1.5 1.1 1.4 .8 1.4 .9 1.5 .8 1.4 .9 1.4 1 1.5 .9 1.4 .7 1.5 .8 1.4 .8 1.4 .9 1.5 .8 1.4 .9 1.4 1 1.5 1.2 1.4 1.1 1.4 1.1 1.5 1.2 1.4 .7 1.4 .8 .7 .3" stroke="#00bfbf" stroke-width="2.6"/>
<path d="M100.2 20.2l1.4 .8 1.5 .7 1.4 .8 1.4 .7 1.5 .7 1.4 .7 1.5 .8 1.4 .8 1.4 .8 1.5 .9 1.4 .9 1.4 1.6 1.5 2.1 1.4 2.2 1.4 2.1 1.5 2.2 1.4 1.3 1.4 .7 1.5 .8 1.4 .7 1.4 .7 1.5 .9 1.4 1 1.5 .7 1.4 .7 1.4 1 1.5 1.3 1.4 1.3 1.4 1.3 1.5 .8 1.4 .7 1.4 .7 1.5 .7 1.4 .7 1.4 1.3 1.5 1.3 1.4 1.2 1.5 1.2 1.4 1.2 1.4 1.2 1.5 1 1.4 .7 1.4 .6 1.5 .8 1.4 .8 1.4 .9 1.5 .8 1.4 .9 1.4 1 1.5 .9 1.4 .9 1.4 .9 1.5 .8 1.4 .7 1.5 .8 1.4 .7 1.4 .7 1.5 .6 1.4 .5 1.4 1 1.5 1.8 1.4 2.4 1.4 2.5 1.5 2.4 1.4 2.3 1.4 2.1 1.5 1.9 1.4 2 1.4 2.1 1.5 2.1 1.4 2.2 1.5 1.2 1.4 1.2 1.4 1.2 1.5 1.2 1.4 1.4 1.4 1.1 1.5 .6 1.4 .6 1.4 .8 1.5 .7 1.4 .7 1.4 .6 1.5 .6 1.4 .6 1.5 .6 1.4 .6 1.4 .5 1.5 1.5 1.4 1.2 1.4 1.2 1.5 1.2 1.4 1.4 1.4 1.3 1.5 .5 1.4 .6 1.4 .6 1.5 .6 1.4 .7 1.4 1.1 1.5 1.5 1.4 1.3 1.5 1.3 1.4 1.3 1.4 1.4 1.5 .9 1.4 .8 1.4 1 1.5 .9 1.4 .9 1.4 .9 1.5 .9 1.4 .9 1.4 .8 1.5 .8 1.4 .7 1.4 .8 1.5 .8 1.4 .8 1.5 .8 1.4 .8 1.4 1 1.5 .9 1.4 1 1.4 1 1.5 1 1.4 .9 1.4 1 1.5 .9 1.4 .9 1.4 1 1.5 1 1.4 .9 1.5 .9 1.4 1 1.4 1.1 1.5 1.1 1.4 1.1 1.4 1.2 1.5 1.2 1.4 1.2 1.4 1.1 1.5 .8 1.4 .7 1.4 .7 1.5 .6 1.4 .7 1.4 .7 1.5 .8 1.4 .9 1.5 .9 1.4 .8 1.4 .9 1.5 .9 1.4 1.1 1.4 1.1 1.5 1 1.4 1.1 1.4 1 1.5 1.1 1.4 1 1.4 .6 1.5 .7 1.4 .6 1.4 .7 1.5 .6 1.4 .6 1.5 .6 1.4 .6 1.4 .6 1.5 .5 1.4 .6 1.4 1.1 1.5 1 1.4 1.1 1.4 1.1 1.5 1.1 1.4 1.2 1.4 1.2 1.5 1.1 1.4 1.2 1.5 1.3 1.4 1.3 1.4 1.3 1.5 1.2 1.4 .7 1.4 .8 1.5 .8 1.4 .7 1.4 .7 1.5 .8 1.4 .9 1.4 .8 1.5 .9 1.4 .9 1.4 .8 1.5 1.2 1.4 1.2 1.5 1.2 1.4 1.1 1.4 1.2 1.5 1.2 1.4 1.2 1.4 .9 1.5 .8 1.4 .8 1.4 .9 1.5 .8 1.4 .8 1.4 .5 1.5 .5 1.4 .5 1.5 .5 1.4 .4 1.4 .7 1.5 1.3 1.4 1.3 1.4 1.2 1.5 1.4 1.4 1.3 1.4 1.1 1.5 .8 1.4 1 1.4 1 1.5 1 1.4 .9 1.4 1 1.5 .9 1.4 .9 1.5 .8 1.4 .8 1.4 .9 1.5 .8 1.4 1.4 1.4 1.6 1.5 1.7 1.4 1.7 1.4 1.8 1.5 1.6 1.4 1.3 1.4 1.2 1.5 1.3 1.4 1.3 1.4 1.2 1.5 1.1 1.4 1 1.5 1 1.4 1 1.4 1 1.5 1 1.4 .9 1.4 1 1.5 1.2 1.4 1.1 1.4 1.1 1.5 1.1 1.4 1.1 1.4 1.1 .7 .6" stroke="#0000ff" stroke-width="2.6"/>
</g></svg>
<svg x="1139" y="12" width="401.4" height="312.8" viewBox="1139 12 401.4 312.8" overflow="hidden"><g fill="none" stroke-linejoin="round">
<path d="M1157.2 223.4l2 11.9 2-14.6 2 15.7 2-6.6 1.9 3.7 2 4.7 2 16.6 2-3.2 1.9-25.3 2 7.5 2-16.9 2 1.6 2 11.2 1.9-15.1 2 1.8 2 8.5 2-3.2 1.9 .2 2 8.4 2-22.8 2 16.9 2-10.6 1.9 25.2 2 5 2 2.4 2-16.1 1.9 16.1 2-11.4 2-4.5 2 3.8 2-2.9 1.9 2.9 2 6.4 2 5 2-16.4 1.9 16.5 2-10.2 2 11 2 8.4 2-4 1.9-9.4 2 2.3 2 20.9 2-4.3 1.9 4.6 2-6.7 2-20.6 2 14.1 2-2.6 1.9 3.4 2-3.8 2-2.9 2-4.7 1.9 8.6 2-2.6 2-3.2 2 9.2 2-13.2 1.9-19 2 13.3 2-13.4 2 .1 1.9 8.4 2 .6 2 5 2 19.8 2-17.8 1.9 21.7 2-20 2 4.6 2 18.8 1.9-9.1 2 11.2 2 27.5 2-12.3 2 8.8 1.9-10.8 2 13.7 2-17.5 2 18.4 1.9-3.2 2-23.3 2-2.1 2-1 2-4.5 1.9-9.4 2 5.3 2-7.1 2 20.1 1.9-19.6 2 17 2 6.1 2 1.1 2-.9 1.9-7.7 2 13.8 2 2.7 2 1.4 2-7.8 1.9 19.7 2-2.6 2 .5 2-26 1.9-6.9 2 15.8 2-20.7 2-6.5 2 3.1 1.9 8.3 2 4.4 2 10.7 2-9.4 1.9 12.2 2-9.6 2 11.2 2-19.3 2 6.6 1.9-9.7 2 4.2 2 11.6 2-4.4 1.9 1.5 2-5.2 2 22.1 2-9.5 2-17.2 1.9-8.8 2-1.7 2 8.8 2-19.4 1.9 28.4 2-10.2 2 27.5 2-32 2 3.2 1.9-23.9 2 9.8 2-2.8 2-11.4 1.9-1.8 2 14.2 2-11.6 2 16.8 2-5.2 1.9 13.3 2 2.8 2-3 2 3.2 1.9 15.3 2-8.6 2 11.3 2-.2 2 1.9 1.9-.7 2-17.4 2 18.1 2-8.6 1.9-12.3 2 12.6 2-3.5 2-3 2 7.4 1.9 7.9 2 2.8 2-17.9 2 15 1.9-13.8 2 3.4 2-15.8 2-4 2 14.5 1.9-17.9 2-3.5 2 .3 2 17.4 1.9-13.1 2-3.2 2 18.2 2-9.3 2-2.6 1.9 6.9 2 15.2 2-3.8 2 17.2" stroke="#ff0000" stroke-width="2.5"/>
<path d="M1157.2 246.4l2 20 2-5.2 2 12.9 2-15.5 1.9 15.5 2-17.4 2 6 2-8.5 1.9 17.3 2-13.9 2 7 2-13.8 2 12.6 1.9-3 2-8.1 2-5.6 2 11.3 1.9 .4 2-15.7 2 11.8 2 7.9 2-15.6 1.9 8.5 2 19.5 2-19.7 2 5.8 1.9-4.8 2 12.5 2-9.4 2-9 2 9.4 1.9 6.1 2-7 2 19.3 2 5.8 1.9-6.2 2-5.3 2-19.3 2 10.8 2 16.1 1.9-4.2 2 2.4 2 8.7 2-8.5 1.9-3.6 2-4.6 2-1.6 2 13.1 2-11.7 1.9 5.5 2-11.1 2-2.9 2 18 1.9-18.3 2 16.6 2-13.5 2 7.4 2-12.3 1.9 15.7 2-19.5 2 3.4 2 15.8 1.9 2.7 2-10.6 2-1.7 2 11.9 2-8 1.9 12.8 2-9.6 2 17.4 2-3 1.9-8.9 2 17.2 2-.4 2-7.2 2 14.4 1.9-6.6 2 8.6 2 2.5 2-7.7 1.9-12.6 2-2.6 2 7.1 2 1.1 2-1.5 1.9-8 2 7.1 2-10.4 2 5.7 1.9-9.6 2 7.2 2 6.2 2-6.3 2-4.1 1.9 1.2 2 15.2 2-11.1 2 13.8 2-6.8 1.9-2.9 2 .5 2-2.6 2 8 1.9-15.7 2 8 2-2.8 2-15.8 2 16.6 1.9-12.4 2 11.9 2-13.2 2 19.8 1.9-18 2 4.3 2 2.3 2 .6 2 9.3 1.9-15.3 2 12.1 2 8.8 2-3.3 1.9-11.9 2 2.2 2 13.8 2-7.6 2-1.4 1.9-18.9 2 1.9 2 2.3 2-9.8 1.9 .5 2 17.6 2-14.4 2 9.2 2-13.6 1.9-5.3 2 14.2 2-3.7 2-3.6 1.9-9.7 2 14.1 2-2.4 2 10.7 2-5.2 1.9-1.2 2-7.8 2-.3 2 18.8 1.9 2.6 2 3.9 2-11.8 2 14.5 2-1.4 1.9 5.6 2-6.2 2-7 2 4.1 1.9 12.1 2-17.7 2-.6 2 2.8 2 13.9 1.9-14.2 2 10.6 2-11.2 2 19.9 1.9-19.8 2 13.5 2-13.6 2 14.8 2-6.5 1.9-16 2 8.5 2-15.2 2 12.6 1.9 5.5 2-9.7 2 13.4 2-17.5 2 7 1.9 4.8 2-3.1 2-15 2 8.9" stroke="#bf00bf" stroke-width="2.5"/>
<path d="M1157.2 271.2l2-8.1 2 4.4 2 15.1 2-11.5 1.9 11.8 2 3 2-13.8 2 1.2 1.9 10.8 2-10.4 2-10 2 13 2-9.9 1.9 3.8 2-3.4 2-19.2 2 16.4 1.9-7.4 2 1.5 2 17 2-16.1 2 20.1 1.9-8.8 2 6.5 2-5.9 2 8.2 1.9-9.7 2 .1 2-4 2 13.9 2-15.1 1.9 3.7 2-1.6 2 16.5 2 6.7 1.9 .1 2-12.7 2 .4 2 3.4 2 7.5 1.9-7.7 2 5.3 2-2.8 2 13.4 1.9-7.3 2 8.2 2 4.1 2-16.8 2 14.9 1.9 1.1 2-12.9 2 10.4 2-9.8 1.9-5 2 16.1 2-1.7 2-16.6 2 8.6 1.9 6.1 2-18 2 3.5 2 .5 1.9 9 2-12.3 2 16.7 2-13.2 2 10.9 1.9-12.3 2 3.1 2 9.2 2 .1 1.9 12.4 2 5.8 2-6.5 2-.3 2-.4 1.9 7.1 2-14.6 2 4.2 2-6.9 1.9-3.6 2 4 2-2.9 2 4.5 2 4.8 1.9-11.4 2 10.6 2-3.5 2 2 1.9-2.1 2-12.6 2-.9 2 16.3 2-8.9 1.9 8.1 2-11.3 2-2.8 2-3.1 2-3.4 1.9 15.2 2-10.1 2 18.4 2 1.4 1.9-2.4 2 3.9 2-19.8 2 15.8 2 2.2 1.9-19.1 2 5.6 2-4.1 2 4 1.9 10.5 2-14.2 2 11 2-2.8 2-8.9 1.9 14.8 2-18.8 2 4.7 2 3 1.9 1.5 2 10.4 2-10.9 2-2.5 2 13.3 1.9-3 2-12 2 8.6 2-20.9 1.9 2 2-3.7 2 .1 2-3.6 2-2.7 1.9 4.9 2 3.5 2-2.4 2 1.3 1.9 13.9 2-15.2 2 4.2 2-2.3 2 11.3 1.9 1.9 2-11.7 2 11.6 2-5.3 1.9 9.6 2-.6 2-6.8 2 12.6 2-16.5 1.9 .9 2 20.9 2-17.9 2 14.5 1.9-6.8 2 7.1 2-11.6 2 2.7 2-4.5 1.9 2.1 2 9.4 2-9.3 2 8.6 1.9-11.5 2-1.7 2 10.6 2-8.3 2-.6 1.9-1.9 2 1.4 2 13.7 2-19.1 1.9 11.7 2-12.4 2 2.6 2 2.6 2 4.8 1.9-10 2 15.6 2 9.7 2-17.7" stroke="#00bfbf" stroke-width="2.5"/>
<path d="M1157.2 307.3l2 12.5 2-1.6 2-.1 2-6.9 1.9 7.7 2-16.6 2 6.1 2 11.6 1.9-6.9 2-.2 2-15.3 2 6.6 2-1.9 1.9-8.5 2 1.8 2 19.8 2-16.6 1.9-2.8 2-2.7 2-.7 2-12.3 2 22.6 1.9-11.1 2 1.6 2 17.1 2-3.1 1.9-10.6 2-2.9 2 13.1 2-1.5 2-13.2 1.9 17.2 2-20.5 2-4.4 2 6.7 1.9 12.3 2-17.2 2 15.8 2-19.3 2 4.2 1.9 1.4 2 14.6 2-5.2 2 4.1 1.9 14.3 2-17.4 2 3.8 2-4.3 2 11.2 1.9-7.2 2-4.3 2-5.6 2 14.6 1.9-13.6 2 12.5 2-3.5 2 2.5 2-15.7 1.9-.7 2 9.1 2-16.2 2 16.3 1.9-9.9 2-5.8 2 4.6 2 16.1 2 1.6 1.9-12.2 2-2.1 2 23.9 2-9.9 1.9 15.9 2-13.1 2 10.6 2 1.6 2-12.6 1.9 3.9 2 9.2 2-7.9 2 6.1 1.9 2.3 2-15.4 2 3.6 2-.6 2-3.5 1.9-18.1 2-6.8 2 28.1 2-13.9 1.9-1.5 2 1 2-5 2 1.2 2 11.6 1.9 3.8 2 5.5 2 4.8 2-11.4 2 15.3 1.9-8.4 2-4.1 2-5.6 2 16.3 1.9-22.2 2 15.9 2-8 2 1 2-12.3 1.9-5.9 2 5.3 2 12.7 2-4.2 1.9-7.3 2 9.4 2-10.8 2 9.6 2 7.7 1.9-11.1 2 8.9 2-.4 2-11.5 1.9 4.9 2 13.3 2-20.2 2 2.9 2-8.3 1.9 14.1 2-3 2-.3 2-12.6 1.9-2.3 2 16.9 2 3.6 2-4.8 2-21.7 1.9 9.1 2 2.8 2-17.6 2 23.3 1.9-12.8 2 12.6 2-1.5 2-11.1 2 2.9 1.9 4.1 2-16.7 2 21.6 2 2.3 1.9 8.5 2-8.2 2-6.2 2 10.4 2-2.6 1.9 9.5 2-10 2 9.8 2-7.8 1.9 7.2 2 1.4 2-18.5 2 21 2-14.3 1.9 10.8 2-14.6 2 3.2 2 11 1.9-12.6 2 8.1 2 3.7 2-11.1 2-10 1.9 15.1 2-22.1 2 5.5 2 7.8 1.9-11.7 2 9.7 2-7.2 2 20 2-20.2 1.9 16.2 2 .3 2-1.1 2-1.2" stroke="#0000ff" stroke-width="2.5"/>
</g></svg>
<svg x="1664.4" y="12" width="401.5" height="312.8" viewBox="1664.4 12 401.5 312.8" overflow="hidden"><g fill="none" stroke-linejoin="round">
<path d="M1682.7 237.6l1.9 10.3 2-12.6 2 13.5 2-5.7 1.9 3.1 2 4.1 2 14.3 2-2.8 2-21.7 1.9 6.4 2-14.5 2 1.4 2 9.6 1.9-13 2 1.6 2 7.3 2-2.8 2 .2 1.9 7.2 2-19.6 2 14.6 2-9.2 2 21.7 1.9 4.4 2 2 2-13.8 2 13.8 1.9-9.8 2-3.9 2 3.2 2-2.4 2 2.5 1.9 5.5 2 4.3 2-14.1 2 14.2 1.9-8.8 2 9.5 2 7.2 2-3.5 2-8 1.9 1.9 2 18 2-3.7 2 4 2-5.8 1.9-17.7 2 12.1 2-2.2 2 2.9 1.9-3.3 2-2.5 2-4.1 2 7.4 2-2.2 1.9-2.7 2 7.9 2-11.4 2-16.3 1.9 11.4 2-11.5 2 .1 2 7.2 2 .6 1.9 4.3 2 17 2-15.3 2 18.6 2-17.1 1.9 3.9 2 16.2 2-7.9 2 9.6 1.9 23.7 2-10.6 2 7.6 2-9.2 2 11.7 1.9-15.1 2 15.8 2-2.7 2-20 2-1.8 1.9-.9 2-3.8 2-8.1 2 4.6 1.9-6.2 2 17.3 2-16.9 2 14.6 2 5.3 1.9 1 2-.8 2-6.7 2 11.9 1.9 2.4 2 1.1 2-6.6 2 16.9 2-2.2 1.9 .4 2-22.4 2-5.9 2 13.6 2-17.8 1.9-5.6 2 2.6 2 7.2 2 3.8 1.9 9.2 2-8.1 2 10.5 2-8.2 2 9.6 1.9-16.6 2 5.7 2-8.4 2 3.6 1.9 10 2-3.8 2 1.3 2-4.5 2 19 1.9-8.1 2-14.9 2-7.5 2-1.4 2 7.5 1.9-16.7 2 24.4 2-8.7 2 23.6 1.9-27.5 2 2.8 2-20.6 2 8.4 2-2.3 1.9-9.9 2-1.5 2 12.2 2-10 1.9 14.4 2-4.5 2 11.5 2 2.4 2-2.6 1.9 2.8 2 13.1 2-7.3 2 9.7 2-.2 1.9 1.7 2-.6 2-15 2 15.5 1.9-7.4 2-10.6 2 10.9 2-3 2-2.6 1.9 6.4 2 6.8 2 2.3 2-15.3 2 12.8 1.9-11.8 2 2.9 2-13.6 2-3.4 1.9 12.5 2-15.4 2-3 2 .3 2 14.9 1.9-11.3 2-2.7 2 15.6 2-8 1.9-2.2 2 5.9 2 13.1 2-3.3 2 14.9" stroke="#ff0000" stroke-width="2.5"/>
<path d="M1682.7 257.4l1.9 17.2 2-4.5 2 11.1 2-13.3 1.9 13.3 2-15 2 5.2 2-7.3 2 14.9 1.9-12 2 6 2-11.8 2 10.8 1.9-2.6 2-6.9 2-4.9 2 9.8 2 .3 1.9-13.5 2 10.1 2 6.9 2-13.5 2 7.3 1.9 16.8 2-16.9 2 4.9 2-4.1 1.9 10.8 2-8.1 2-7.8 2 8.1 2 5.3 1.9-6 2 16.6 2 4.9 2-5.3 1.9-4.5 2-16.7 2 9.3 2 13.9 2-3.6 1.9 2 2 7.6 2-7.4 2-3.1 2-3.9 1.9-1.5 2 11.3 2-10 2 4.7 1.9-9.5 2-2.5 2 15.4 2-15.7 2 14.3 1.9-11.6 2 6.4 2-10.6 2 13.5 1.9-16.8 2 2.9 2 13.6 2 2.3 2-9.1 1.9-1.5 2 10.3 2-6.9 2 11.1 2-8.3 1.9 14.9 2-2.5 2-7.7 2 14.8 1.9-.4 2-6.1 2 12.3 2-5.7 2 7.5 1.9 2.1 2-6.6 2-10.9 2-2.2 2 6.1 1.9 .9 2-1.3 2-6.8 2 6.1 1.9-8.9 2 4.8 2-8.2 2 6.2 2 5.4 1.9-5.5 2-3.5 2 1 2 13.1 1.9-9.5 2 11.8 2-5.8 2-2.6 2 .5 1.9-2.3 2 7 2-13.5 2 6.8 2-2.4 1.9-13.6 2 14.3 2-10.7 2 10.2 1.9-11.3 2 17.1 2-15.6 2 3.7 2 2 1.9 .6 2 8 2-13.2 2 10.4 1.9 7.6 2-2.9 2-10.2 2 1.9 2 11.8 1.9-6.5 2-1.2 2-16.2 2 1.6 2 2 1.9-8.4 2 .4 2 15.2 2-12.5 1.9 8 2-11.7 2-4.6 2 12.2 2-3.2 1.9-3.1 2-8.3 2 12.1 2-2.1 1.9 9.2 2-4.4 2-1 2-6.8 2-.2 1.9 16.1 2 2.3 2 3.4 2-10.2 2 12.4 1.9-1.1 2 4.8 2-5.3 2-6.1 1.9 3.5 2 10.5 2-15.2 2-.6 2 2.4 1.9 11.9 2-12.2 2 9.1 2-9.6 2 17.1 1.9-17 2 11.6 2-11.6 2 12.7 1.9-5.7 2-13.7 2 7.3 2-13 2 10.8 1.9 4.7 2-8.3 2 11.5 2-15 1.9 5.9 2 4.2 2-2.7 2-12.8 2 7.6" stroke="#bf00bf" stroke-width="2.5"/>
<path d="M1682.7 278.7l1.9-6.9 2 3.7 2 13 2-9.8 1.9 10.1 2 2.5 2-11.8 2 1 2 9.3 1.9-8.9 2-8.6 2 11.1 2-8.4 1.9 3.2 2-3 2-16.5 2 14.1 2-6.3 1.9 1.3 2 14.6 2-13.9 2 17.4 2-7.6 1.9 5.5 2-5 2 7 2-8.3 1.9 .1 2-3.4 2 11.9 2-13 2 3.2 1.9-1.4 2 14.2 2 5.7 2 .1 1.9-10.9 2 .4 2 2.9 2 6.4 2-6.5 1.9 4.5 2-2.4 2 11.5 2-6.2 2 7 1.9 3.5 2-14.4 2 12.7 2 1 1.9-11.1 2 9 2-8.4 2-4.4 2 13.9 1.9-1.4 2-14.3 2 7.3 2 5.3 1.9-15.5 2 3 2 .4 2 7.8 2-10.6 1.9 14.4 2-11.3 2 9.3 2-10.6 2 2.7 1.9 7.9 2 .1 2 10.7 2 4.9 1.9-5.6 2-.2 2-.3 2 6 2-12.5 1.9 3.6 2-6 2-3 2 3.4 2-2.5 1.9 3.8 2 4.2 2-9.8 2 9.2 1.9-3.1 2 1.7 2-1.8 2-10.8 2-.8 1.9 14.1 2-7.7 2 6.9 2-9.7 1.9-2.4 2-2.7 2-2.8 2 13 2-8.7 1.9 15.9 2 1.1 2-2 2 3.3 2-17 1.9 13.6 2 1.9 2-16.4 2 4.8 1.9-3.6 2 3.5 2 9 2-12.2 2 9.5 1.9-2.4 2-7.7 2 12.7 2-16.1 1.9 4 2 2.6 2 1.3 2 8.9 2-9.4 1.9-2.1 2 11.4 2-2.5 2-10.3 2 7.3 1.9-18 2 1.8 2-3.2 2 .1 1.9-3.1 2-2.3 2 4.2 2 3 2-2 1.9 1 2 12 2-13.1 2 3.7 1.9-2 2 9.7 2 1.6 2-10 2 9.9 1.9-4.5 2 8.2 2-.5 2-5.9 2 10.9 1.9-14.2 2 .8 2 18 2-15.4 1.9 12.4 2-5.8 2 6.1 2-10 2 2.3 1.9-3.8 2 1.7 2 8.2 2-8 2 7.3 1.9-9.8 2-1.5 2 9.1 2-7.1 1.9-.5 2-1.6 2 1.1 2 11.8 2-16.4 1.9 10.1 2-10.8 2 2.3 2 2.3 1.9 4.1 2-8.6 2 13.4 2 8.3 2-15.1" stroke="#00bfbf" stroke-width="2.5"/>
<path d="M1682.7 309.8l1.9 10.7 2-1.4 2-.1 2-5.9 1.9 6.7 2-14.3 2 5.2 2 10 2-5.9 1.9-.2 2-13.2 2 5.7 2-1.6 1.9-7.3 2 1.5 2 17 2-14.3 2-2.4 1.9-2.3 2-.6 2-10.6 2 19.5 2-9.6 1.9 1.4 2 14.7 2-2.7 2-9.1 1.9-2.5 2 11.3 2-1.3 2-11.3 2 14.7 1.9-17.6 2-3.8 2 5.8 2 10.5 1.9-14.7 2 13.5 2-16.6 2 3.7 2 1.2 1.9 12.5 2-4.5 2 3.6 2 12.3 2-15 1.9 3.3 2-3.7 2 9.7 2-6.3 1.9-3.7 2-4.8 2 12.5 2-11.6 2 10.8 1.9-3.1 2 2.1 2-13.5 2-.5 1.9 7.8 2-13.9 2 14 2-8.6 2-4.9 1.9 3.9 2 13.9 2 1.4 2-10.6 2-1.8 1.9 20.6 2-8.5 2 13.7 2-11.3 1.9 9.1 2 1.4 2-10.9 2 3.4 2 7.9 1.9-6.8 2 5.3 2 1.9 2-13.2 2 3.1 1.9-.5 2-3 2-15.6 2-5.8 1.9 24.1 2-11.9 2-1.3 2 .8 2-4.3 1.9 1.1 2 10 2 3.2 2 4.8 1.9 4.1 2-9.8 2 13.1 2-7.2 2-3.5 1.9-4.9 2 14.1 2-19.1 2 13.7 2-6.9 1.9 .9 2-10.6 2-5.1 2 4.6 1.9 10.9 2-3.6 2-6.3 2 8 2-9.2 1.9 8.3 2 6.6 2-9.6 2 7.7 1.9-.4 2-9.8 2 4.2 2 11.4 2-17.4 1.9 2.5 2-7.2 2 12.2 2-2.6 2-.2 1.9-10.9 2-1.9 2 14.5 2 3.1 1.9-4.1 2-18.7 2 7.8 2 2.4 2-15.1 1.9 20 2-11 2 10.8 2-1.2 1.9-9.6 2 2.5 2 3.5 2-14.3 2 18.5 1.9 2 2 7.3 2-7 2-5.4 2 9 1.9-2.2 2 8.1 2-8.5 2 8.3 1.9-6.6 2 6.1 2 1.3 2-16 2 18.1 1.9-12.3 2 9.3 2-12.5 2 2.7 2 9.4 1.9-10.8 2 7 2 3.1 2-9.5 1.9-8.6 2 13 2-19 2 4.7 2 6.7 1.9-10 2 8.3 2-6.1 2 17.1 1.9-17.3 2 13.9 2 .2 2-.9 2-1.1" stroke="#0000ff" stroke-width="2.5"/>
</g></svg>
<line x1="99.51" y1="321.7" x2="99.51" y2="313.4" class="tk"/>
<text transform="translate(99.51 347.3) scale(1 1.05)" font-family="'Liberation Serif', serif" font-size="24" text-anchor="middle">0</text>
<line x1="243.05" y1="321.7" x2="243.05" y2="313.4" class="tk"/>
<text transform="translate(243.05 347.3) scale(1 1.05)" font-family="'Liberation Serif', serif" font-size="24" text-anchor="middle">1000</text>
<line x1="386.59" y1="321.7" x2="386.59" y2="313.4" class="tk"/>
<text transform="translate(386.59 347.3) scale(1 1.05)" font-family="'Liberation Serif', serif" font-size="24" text-anchor="middle">2000</text>
<line x1="83" y1="321.7" x2="91.3" y2="321.7" class="tk"/>
<text transform="translate(74.6 330.02) scale(1 1.05)" font-family="'Liberation Serif', serif" font-size="24" text-anchor="end">0</text>
<line x1="83" y1="261.41" x2="91.3" y2="261.41" class="tk"/>
<text transform="translate(74.6 269.73) scale(1 1.05)" font-family="'Liberation Serif', serif" font-size="24" text-anchor="end">20</text>
<line x1="83" y1="201.13" x2="91.3" y2="201.13" class="tk"/>
<text transform="translate(74.6 209.44) scale(1 1.05)" font-family="'Liberation Serif', serif" font-size="24" text-anchor="end">40</text>
<line x1="83" y1="140.84" x2="91.3" y2="140.84" class="tk"/>
<text transform="translate(74.6 149.16) scale(1 1.05)" font-family="'Liberation Serif', serif" font-size="24" text-anchor="end">60</text>
<line x1="83" y1="80.56" x2="91.3" y2="80.56" class="tk"/>
<text transform="translate(74.6 88.87) scale(1 1.05)" font-family="'Liberation Serif', serif" font-size="24" text-anchor="end">80</text>
<line x1="83" y1="20.27" x2="91.3" y2="20.27" class="tk"/>
<text transform="translate(74.6 28.59) scale(1 1.05)" font-family="'Liberation Serif', serif" font-size="24" text-anchor="end">100</text>
<text transform="translate(286.4 382.8) scale(1 1.03)" font-family="'Liberation Serif', serif" font-size="29" text-anchor="middle">Time(s)</text>
<text transform="translate(23 165.95) rotate(-90) scale(1.025 1)" font-family="'Liberation Serif', serif" font-size="29" text-anchor="middle">SOC(%)</text>
<line x1="605.48" y1="324.7" x2="605.48" y2="316.4" class="tk"/>
<text transform="translate(605.48 350.3) scale(1 1.05)" font-family="'Liberation Serif', serif" font-size="24" text-anchor="middle">0</text>
<line x1="755.76" y1="324.7" x2="755.76" y2="316.4" class="tk"/>
<text transform="translate(755.76 350.3) scale(1 1.05)" font-family="'Liberation Serif', serif" font-size="24" text-anchor="middle">1000</text>
<line x1="906.05" y1="324.7" x2="906.05" y2="316.4" class="tk"/>
<text transform="translate(906.05 350.3) scale(1 1.05)" font-family="'Liberation Serif', serif" font-size="24" text-anchor="middle">2000</text>
<line x1="588.2" y1="324.7" x2="596.5" y2="324.7" class="tk"/>
<text transform="translate(579.8 333.02) scale(1 1.05)" font-family="'Liberation Serif', serif" font-size="24" text-anchor="end">0</text>
<line x1="588.2" y1="261.88" x2="596.5" y2="261.88" class="tk"/>
<text transform="translate(579.8 270.2) scale(1 1.05)" font-family="'Liberation Serif', serif" font-size="24" text-anchor="end">1</text>
<line x1="588.2" y1="199.06" x2="596.5" y2="199.06" class="tk"/>
<text transform="translate(579.8 207.38) scale(1 1.05)" font-family="'Liberation Serif', serif" font-size="24" text-anchor="end">2</text>
<line x1="588.2" y1="136.24" x2="596.5" y2="136.24" class="tk"/>
<text transform="translate(579.8 144.56) scale(1 1.05)" font-family="'Liberation Serif', serif" font-size="24" text-anchor="end">3</text>
<line x1="588.2" y1="73.42" x2="596.5" y2="73.42" class="tk"/>
<text transform="translate(579.8 81.74) scale(1 1.05)" font-family="'Liberation Serif', serif" font-size="24" text-anchor="end">4</text>
<line x1="588.2" y1="10.6" x2="596.5" y2="10.6" class="tk"/>
<text transform="translate(579.8 18.92) scale(1 1.05)" font-family="'Liberation Serif', serif" font-size="24" text-anchor="end">5</text>
<text transform="translate(801.15 385.8) scale(1 1.03)" font-family="'Liberation Serif', serif" font-size="29" text-anchor="middle">Time(s)</text>
<text transform="translate(548.5 169.05) rotate(-90) scale(1.025 1)" font-family="'Liberation Serif', serif" font-size="29" text-anchor="middle">Absolute error(%)</text>
<line x1="1157.25" y1="324.8" x2="1157.25" y2="316.5" class="tk"/>
<text transform="translate(1157.25 350.4) scale(1 1.05)" font-family="'Liberation Serif', serif" font-size="24" text-anchor="middle">0</text>
<line x1="1256.14" y1="324.8" x2="1256.14" y2="316.5" class="tk"/>
<text transform="translate(1256.14 350.4) scale(1 1.05)" font-family="'Liberation Serif', serif" font-size="24" text-anchor="middle">50</text>
<line x1="1355.03" y1="324.8" x2="1355.03" y2="316.5" class="tk"/>
<text transform="translate(1355.03 350.4) scale(1 1.05)" font-family="'Liberation Serif', serif" font-size="24" text-anchor="middle">100</text>
<line x1="1453.92" y1="324.8" x2="1453.92" y2="316.5" class="tk"/>
<text transform="translate(1453.92 350.4) scale(1 1.05)" font-family="'Liberation Serif', serif" font-size="24" text-anchor="middle">150</text>
<line x1="1139" y1="324.8" x2="1147.3" y2="324.8" class="tk"/>
<text transform="translate(1130.6 333.12) scale(1 1.05)" font-family="'Liberation Serif', serif" font-size="24" text-anchor="end">0.00</text>
<line x1="1139" y1="262.24" x2="1147.3" y2="262.24" class="tk"/>
<text transform="translate(1130.6 270.56) scale(1 1.05)" font-family="'Liberation Serif', serif" font-size="24" text-anchor="end">0.02</text>
<line x1="1139" y1="199.68" x2="1147.3" y2="199.68" class="tk"/>
<text transform="translate(1130.6 208) scale(1 1.05)" font-family="'Liberation Serif', serif" font-size="24" text-anchor="end">0.04</text>
<line x1="1139" y1="137.12" x2="1147.3" y2="137.12" class="tk"/>
<text transform="translate(1130.6 145.44) scale(1 1.05)" font-family="'Liberation Serif', serif" font-size="24" text-anchor="end">0.06</text>
<line x1="1139" y1="74.56" x2="1147.3" y2="74.56" class="tk"/>
<text transform="translate(1130.6 82.88) scale(1 1.05)" font-family="'Liberation Serif', serif" font-size="24" text-anchor="end">0.08</text>
<line x1="1139" y1="12" x2="1147.3" y2="12" class="tk"/>
<text transform="translate(1130.6 20.32) scale(1 1.05)" font-family="'Liberation Serif', serif" font-size="24" text-anchor="end">0.10</text>
<text transform="translate(1339.7 385.9) scale(1 1.03)" font-family="'Liberation Serif', serif" font-size="29" text-anchor="middle">Cycle</text>
<text transform="translate(1072 169) rotate(-90) scale(1.025 1)" font-family="'Liberation Serif', serif" font-size="29" text-anchor="middle">RMSE</text>
<line x1="1682.65" y1="324.8" x2="1682.65" y2="316.5" class="tk"/>
<text transform="translate(1682.65 350.4) scale(1 1.05)" font-family="'Liberation Serif', serif" font-size="24" text-anchor="middle">0</text>
<line x1="1781.57" y1="324.8" x2="1781.57" y2="316.5" class="tk"/>
<text transform="translate(1781.57 350.4) scale(1 1.05)" font-family="'Liberation Serif', serif" font-size="24" text-anchor="middle">50</text>
<line x1="1880.48" y1="324.8" x2="1880.48" y2="316.5" class="tk"/>
<text transform="translate(1880.48 350.4) scale(1 1.05)" font-family="'Liberation Serif', serif" font-size="24" text-anchor="middle">100</text>
<line x1="1979.4" y1="324.8" x2="1979.4" y2="316.5" class="tk"/>
<text transform="translate(1979.4 350.4) scale(1 1.05)" font-family="'Liberation Serif', serif" font-size="24" text-anchor="middle">150</text>
<line x1="1664.4" y1="324.8" x2="1672.7" y2="324.8" class="tk"/>
<text transform="translate(1656 333.12) scale(1 1.05)" font-family="'Liberation Serif', serif" font-size="24" text-anchor="end">0.00</text>
<line x1="1664.4" y1="262.24" x2="1672.7" y2="262.24" class="tk"/>
<text transform="translate(1656 270.56) scale(1 1.05)" font-family="'Liberation Serif', serif" font-size="24" text-anchor="end">0.02</text>
<line x1="1664.4" y1="199.68" x2="1672.7" y2="199.68" class="tk"/>
<text transform="translate(1656 208) scale(1 1.05)" font-family="'Liberation Serif', serif" font-size="24" text-anchor="end">0.04</text>
<line x1="1664.4" y1="137.12" x2="1672.7" y2="137.12" class="tk"/>
<text transform="translate(1656 145.44) scale(1 1.05)" font-family="'Liberation Serif', serif" font-size="24" text-anchor="end">0.06</text>
<line x1="1664.4" y1="74.56" x2="1672.7" y2="74.56" class="tk"/>
<text transform="translate(1656 82.88) scale(1 1.05)" font-family="'Liberation Serif', serif" font-size="24" text-anchor="end">0.08</text>
<line x1="1664.4" y1="12" x2="1672.7" y2="12" class="tk"/>
<text transform="translate(1656 20.32) scale(1 1.05)" font-family="'Liberation Serif', serif" font-size="24" text-anchor="end">0.10</text>
<text transform="translate(1865.15 385.9) scale(1 1.03)" font-family="'Liberation Serif', serif" font-size="29" text-anchor="middle">Cycle</text>
<text transform="translate(1598.2 169.8) rotate(-90) scale(1.025 1)" font-family="'Liberation Serif', serif" font-size="29" text-anchor="middle">MAE</text>
<rect x="95.6" y="139.3" width="208.7" height="169.8" rx="5" ry="5" class="lg"/>
<line x1="102.3" y1="157.4" x2="156.4" y2="157.4" stroke="#000000" stroke-width="5.1"/>
<text transform="translate(172.4 166.1) scale(1 0.9)" font-family="'Noto Serif CJK SC', 'IPAGothic', monospace" font-size="24.9" text-anchor="start" fill="#222" style="font-feature-settings:'hwid'">Reference</text>
<line x1="102.3" y1="189.8" x2="156.4" y2="189.8" stroke="#ff0000" stroke-width="2.8"/>
<text transform="translate(172.4 198.5) scale(1 0.9)" font-family="'Noto Serif CJK SC', 'IPAGothic', monospace" font-size="24.9" text-anchor="start" fill="#222" style="font-feature-settings:'hwid'">GRU</text>
<line x1="102.3" y1="222.2" x2="156.4" y2="222.2" stroke="#bf00bf" stroke-width="2.8"/>
<text transform="translate(172.4 230.9) scale(1 0.9)" font-family="'Noto Serif CJK SC', 'IPAGothic', monospace" font-size="24.9" text-anchor="start" fill="#222" style="font-feature-settings:'hwid'">1D CNN-GRU</text>
<line x1="102.3" y1="254.6" x2="156.4" y2="254.6" stroke="#00bfbf" stroke-width="2.8"/>
<text transform="translate(172.4 263.3) scale(1 0.9)" font-family="'Noto Serif CJK SC', 'IPAGothic', monospace" font-size="24.9" text-anchor="start" fill="#222" style="font-feature-settings:'hwid'">2D CNN-GRU</text>
<line x1="102.3" y1="287" x2="156.4" y2="287" stroke="#0000ff" stroke-width="2.8"/>
<text transform="translate(172.4 295.7) scale(1 0.9)" font-family="'Noto Serif CJK SC', 'IPAGothic', monospace" font-size="24.9" text-anchor="start" fill="#222" style="font-feature-settings:'hwid'">Proposed</text>
<rect x="783.5" y="23.3" width="218.1" height="136.4" rx="5" ry="5" class="lg"/>
<line x1="792.5" y1="41.1" x2="844.5" y2="41.1" stroke="#ff0000" stroke-width="1.6"/>
<circle cx="818.5" cy="41.1" r="5.2" fill="#ff0000"/>
<text transform="translate(863.9 49.8) scale(1 0.9)" font-family="'Noto Serif CJK SC', 'IPAGothic', monospace" font-size="24.9" text-anchor="start" fill="#222" style="font-feature-settings:'hwid'">GRU</text>
<line x1="792.5" y1="73.5" x2="844.5" y2="73.5" stroke="#bf00bf" stroke-width="1.6"/>
<circle cx="818.5" cy="73.5" r="5.2" fill="#bf00bf"/>
<text transform="translate(863.9 82.2) scale(1 0.9)" font-family="'Noto Serif CJK SC', 'IPAGothic', monospace" font-size="24.9" text-anchor="start" fill="#222" style="font-feature-settings:'hwid'">1D CNN-GRU</text>
<line x1="792.5" y1="105.9" x2="844.5" y2="105.9" stroke="#00bfbf" stroke-width="1.6"/>
<circle cx="818.5" cy="105.9" r="5.2" fill="#00bfbf"/>
<text transform="translate(863.9 114.6) scale(1 0.9)" font-family="'Noto Serif CJK SC', 'IPAGothic', monospace" font-size="24.9" text-anchor="start" fill="#222" style="font-feature-settings:'hwid'">2D CNN-GRU</text>
<line x1="792.5" y1="138.3" x2="844.5" y2="138.3" stroke="#0000ff" stroke-width="1.6"/>
<circle cx="818.5" cy="138.3" r="5.2" fill="#0000ff"/>
<text transform="translate(863.9 147) scale(1 0.9)" font-family="'Noto Serif CJK SC', 'IPAGothic', monospace" font-size="24.9" text-anchor="start" fill="#222" style="font-feature-settings:'hwid'">Proposed</text>
<rect x="1322.6" y="24.4" width="205.6" height="136.1" rx="5" ry="5" class="lg"/>
<line x1="1331" y1="41.9" x2="1381" y2="41.9" stroke="#ff0000" stroke-width="2.8"/>
<text transform="translate(1398.3 50.6) scale(1 0.9)" font-family="'Noto Serif CJK SC', 'IPAGothic', monospace" font-size="24.9" text-anchor="start" fill="#222" style="font-feature-settings:'hwid'">GRU</text>
<line x1="1331" y1="74.3" x2="1381" y2="74.3" stroke="#bf00bf" stroke-width="2.8"/>
<text transform="translate(1398.3 83) scale(1 0.9)" font-family="'Noto Serif CJK SC', 'IPAGothic', monospace" font-size="24.9" text-anchor="start" fill="#222" style="font-feature-settings:'hwid'">1D CNN-GRU</text>
<line x1="1331" y1="106.7" x2="1381" y2="106.7" stroke="#00bfbf" stroke-width="2.8"/>
<text transform="translate(1398.3 115.4) scale(1 0.9)" font-family="'Noto Serif CJK SC', 'IPAGothic', monospace" font-size="24.9" text-anchor="start" fill="#222" style="font-feature-settings:'hwid'">2D CNN-GRU</text>
<line x1="1331" y1="139.1" x2="1381" y2="139.1" stroke="#0000ff" stroke-width="2.8"/>
<text transform="translate(1398.3 147.8) scale(1 0.9)" font-family="'Noto Serif CJK SC', 'IPAGothic', monospace" font-size="24.9" text-anchor="start" fill="#222" style="font-feature-settings:'hwid'">Proposed</text>
<rect x="1848" y="24.4" width="205.6" height="136.1" rx="5" ry="5" class="lg"/>
<line x1="1856.5" y1="41.9" x2="1906.3" y2="41.9" stroke="#ff0000" stroke-width="2.8"/>
<text transform="translate(1923.4 50.6) scale(1 0.9)" font-family="'Noto Serif CJK SC', 'IPAGothic', monospace" font-size="24.9" text-anchor="start" fill="#222" style="font-feature-settings:'hwid'">GRU</text>
<line x1="1856.5" y1="74.3" x2="1906.3" y2="74.3" stroke="#bf00bf" stroke-width="2.8"/>
<text transform="translate(1923.4 83) scale(1 0.9)" font-family="'Noto Serif CJK SC', 'IPAGothic', monospace" font-size="24.9" text-anchor="start" fill="#222" style="font-feature-settings:'hwid'">1D CNN-GRU</text>
<line x1="1856.5" y1="106.7" x2="1906.3" y2="106.7" stroke="#00bfbf" stroke-width="2.8"/>
<text transform="translate(1923.4 115.4) scale(1 0.9)" font-family="'Noto Serif CJK SC', 'IPAGothic', monospace" font-size="24.9" text-anchor="start" fill="#222" style="font-feature-settings:'hwid'">2D CNN-GRU</text>
<line x1="1856.5" y1="139.1" x2="1906.3" y2="139.1" stroke="#0000ff" stroke-width="2.8"/>
<text transform="translate(1923.4 147.8) scale(1 0.9)" font-family="'Noto Serif CJK SC', 'IPAGothic', monospace" font-size="24.9" text-anchor="start" fill="#222" style="font-feature-settings:'hwid'">Proposed</text>
<rect x="83" y="5.2" width="406.8" height="316.5" class="fr"/>
<rect x="588.2" y="10.6" width="425.9" height="314.1" class="fr"/>
<rect x="1139" y="12" width="401.4" height="312.8" class="fr"/>
<rect x="1664.4" y="12" width="401.5" height="312.8" class="fr"/>
<text transform="translate(1087 469.6) scale(1 1.02)" font-family="'Liberation Serif', serif" font-size="49" text-anchor="middle">(a) RW16</text>
<svg x="588.2" y="520.6" width="425.9" height="314.1" viewBox="588.2 520.6 425.9 314.1" overflow="hidden"><g>
<path d="M607.6 682.6l4 66.6 4.1-23.9 4.1 17.4 4.1 19.2 4.1 14.2 4.1 10.1 4.1 8.2 4.1 2.8 4.1 2.4 4.1 6.1 4.1 4.9 4.1 3.4 4.1 4.1 4.1 .1 4.1-5.5 4.1 0 4 0 4.1 15.6 4.1 1.8 4.1 1.1 4.1-8.7 4.1-1.8 4.1-3 4.1-2.9 4.1 10.6 4.1 6 4.1 0 4.1-8.4 4.1-8.2 4.1-1.6 4.1-4.1 4.1-5.9 4.1-4.9 4-3.7 4.1 4.9 4.1 15.8 4.1 9.8 4.1 5.2 4.1 1.7 4.1-.9 4.1-3.8 4.1-7.1 4.1-5.4 4.1-6.9 4.1-7.3 4.1-5.1 4.1-4.2 4.1-4 4.1-4.1 4.1-4.1 4-4.1 4.1-4.1 4.1-4.1 4.1-5 4.1-8.2 4.1-4.4 4.1-3.5 4.1-2.6 4.1-1.6 4.1 6.2 4.1 9.3 4.1 7.5 4.1 4.6 4.1 2.1 4.1 1.2 4.1-1.3 4.1-3.3 4-4.1 4.1-4.1 4.1-4.1 4.1-4.1 4.1-4 4.1-3.1 4.1-3 4.1-3.6 4.1-3.9 4.1-3.1 4.1-3.1 4.1-4.8 4.1-6.8 4.1-8.2 4.1-8.2 4.1-7.1 4-6.6 4.1-8.2 4.1-8.2 4.1-7.1 4.1-18.3 4.1-24 4.1-25.8 4.1-19.7 4.1-12.8 4.1 2.7 7.9 11.9 0-51.8 .3 51.8" fill="none" stroke="#ff0000" stroke-width="1.5"/>
<path d="M607.6 682.6h0M611.6 749.2h0M615.7 725.3h0M619.8 742.7h0M623.9 761.9h0M628 776.1h0M632.1 786.2h0M636.2 794.4h0M640.3 797.2h0M644.4 799.6h0M648.5 805.7h0M652.6 810.6h0M656.7 814h0M660.8 818.1h0M664.9 818.2h0M669 812.7h0M673.1 812.7h0M677.1 812.7h0M681.2 828.3h0M685.3 830.1h0M689.4 831.2h0M693.5 822.5h0M697.6 820.7h0M701.7 817.7h0M705.8 814.8h0M709.9 825.4h0M714 831.4h0M718.1 831.4h0M722.2 823h0M726.3 814.8h0M730.4 813.2h0M734.5 809.1h0M738.6 803.2h0M742.7 798.3h0M746.7 794.6h0M750.8 799.5h0M754.9 815.3h0M759 825.1h0M763.1 830.3h0M767.2 832h0M771.3 831.1h0M775.4 827.3h0M779.5 820.2h0M783.6 814.8h0M787.7 807.9h0M791.8 800.6h0M795.9 795.5h0M800 791.3h0M804.1 787.3h0M808.2 783.2h0M812.3 779.1h0M816.3 775h0M820.4 770.9h0M824.5 766.8h0M828.6 761.8h0M832.7 753.6h0M836.8 749.2h0M840.9 745.7h0M845 743.1h0M849.1 741.5h0M853.2 747.7h0M857.3 757h0M861.4 764.5h0M865.5 769.1h0M869.6 771.2h0M873.7 772.4h0M877.8 771.1h0M881.9 767.8h0M885.9 763.7h0M890 759.6h0M894.1 755.5h0M898.2 751.4h0M902.3 747.4h0M906.4 744.3h0M910.5 741.3h0M914.6 737.7h0M918.7 733.8h0M922.8 730.7h0M926.9 727.6h0M931 722.8h0M935.1 716h0M939.2 707.8h0M943.3 699.6h0M947.4 692.5h0M951.4 685.9h0M955.5 677.7h0M959.6 669.5h0M963.7 662.4h0M967.8 644.1h0M971.9 620.1h0M976 594.3h0M980.1 574.6h0M984.2 561.8h0M988.3 564.5h0M996.2 576.4h0M996.2 524.6h0M996.5 576.4h0" fill="none" stroke="#ff0000" stroke-width="10.4" stroke-linecap="round"/>
<path d="M607.6 782.1l4 10.7 4.1 2.7 4.1 1.3 4.1 1 4.1-2.8 4.1-5.3 4.1-3.9 4.1 2.1 4.1-4.7 4.1-4.6 4.1-3.1 4.1-3 4.1-3.1 4.1-3.1 4.1-3.1 4.1-4.1 4-6.3 4.1-3.9 4.1-.2 4.1-1 4.1-1 4.1-1 4.1-2 4.1-4.1 4.1-1 4.1-1.8 4.1-.3 4.1 2.1 4.1 2 4.1 2.1 4.1 2 4.1 1.1 4.1-2.1 4-2 4.1-12.7 4.1 2.1 4.1 2.8 4.1 3 4.1 2.9 4.1 1 4.1 2.7 4.1 3.6 4.1 3.9 4.1 3 4.1 3.1 4.1 1.8 4.1 1 4.1 .9 4.1-1 4.1-.2 4 1.8 4.1 4 4.1 3 4.1-.4 4.1-1.6 4.1-1.8 4.1-1 4.1-1.1 4.1-2.4 4.1-3 4.1-2.8 4.1 0 4.1 2.4 4.1 3.6 4.1 4 4.1 4.1 4.1 7.8 4 7 4.1 6.1 4.1 6.2 4.1 4.1 4.1 4.1 4.1 4 4.1 4.1 4.1 4.1 4.1 2.4 4.1 2.1 4.1 2.3 4.1 3.1 4.1 3 4.1 2.4 4.1 1.4 4.1 0 4-.7 4.1-1.6 4.1-4.7 4.1-7.6 4.1-7.2 4.1-5.2 4.1-2.1 4.1-2 4.1-2.1 4.1-2 7.9-4.7 0-34.5 .3 34.5" fill="none" stroke="#bf00bf" stroke-width="1.5"/>
<path d="M607.6 782.1h0M611.6 792.8h0M615.7 795.5h0M619.8 796.8h0M623.9 797.8h0M628 795h0M632.1 789.7h0M636.2 785.8h0M640.3 787.9h0M644.4 783.2h0M648.5 778.6h0M652.6 775.5h0M656.7 772.5h0M660.8 769.4h0M664.9 766.3h0M669 763.2h0M673.1 759.1h0M677.1 752.8h0M681.2 748.9h0M685.3 748.7h0M689.4 747.7h0M693.5 746.7h0M697.6 745.7h0M701.7 743.7h0M705.8 739.6h0M709.9 738.6h0M714 736.8h0M718.1 736.5h0M722.2 738.6h0M726.3 740.6h0M730.4 742.7h0M734.5 744.7h0M738.6 745.8h0M742.7 743.7h0M746.7 741.7h0M750.8 729h0M754.9 731.1h0M759 733.9h0M763.1 736.9h0M767.2 739.8h0M771.3 740.8h0M775.4 743.5h0M779.5 747.1h0M783.6 751h0M787.7 754h0M791.8 757.1h0M795.9 758.9h0M800 759.9h0M804.1 760.8h0M808.2 759.8h0M812.3 759.6h0M816.3 761.4h0M820.4 765.4h0M824.5 768.4h0M828.6 768h0M832.7 766.4h0M836.8 764.6h0M840.9 763.6h0M845 762.5h0M849.1 760.1h0M853.2 757.1h0M857.3 754.3h0M861.4 754.3h0M865.5 756.7h0M869.6 760.3h0M873.7 764.3h0M877.8 768.4h0M881.9 776.2h0M885.9 783.2h0M890 789.3h0M894.1 795.5h0M898.2 799.6h0M902.3 803.7h0M906.4 807.7h0M910.5 811.8h0M914.6 815.9h0M918.7 818.3h0M922.8 820.4h0M926.9 822.7h0M931 825.8h0M935.1 828.8h0M939.2 831.2h0M943.3 832.6h0M947.4 832.6h0M951.4 831.9h0M955.5 830.3h0M959.6 825.6h0M963.7 818h0M967.8 810.8h0M971.9 805.6h0M976 803.5h0M980.1 801.5h0M984.2 799.4h0M988.3 797.4h0M996.2 792.7h0M996.2 758.2h0M996.5 792.7h0" fill="none" stroke="#bf00bf" stroke-width="10.4" stroke-linecap="round"/>
<path d="M607.6 787.4l4 11.4 4.1 11.6 4.1 11.1 4.1 6.7 4.1 3.9 4.1-26.3 4.1 1.8 4.1 6.4 4.1 5.8 4.1-3.6 4.1-4.8 4.1-2.4 4.1-3.1 4.1-2 4.1 .2 4.1 .6 4-2.2 4.1-11.2 4.1-8.2 4.1-8.2 4.1 3 4.1 6.7 4.1 8.1 4.1-1 4.1-7.3 4.1-8.2 4.1-5.6 4.1 .1 4.1 12.3 4.1 5.2 4.1 4.1 4.1 5.9 4.1 6.2 4 6.8 4.1 0 4.1-14.4 4.1-12 4.1-11.4 4.1-6.4 4.1-4.2 4.1-5.1 4.1-4.3 4.1-4.1 4.1-4.3 4.1-5.2 4.1-3.1 4.1-3.1 4.1-2.7 4.1-2.2 4.1-4.1 4-4.1 4.1-4.1 4.1-3.7 4.1-2 4.1 .7 4.1 1 4.1-.5 4.1-4.1 4.1-5.1 4.1-5.2 4.1-5.1 4.1-5 4.1-4.1 4.1-2.4 4.1-2.1 4.1-1.8 4.1-1 4 1.8 4.1 1.4 4.1 0 4.1-1.9 4.1 0 4.1-.8 4.1-1.5 4.1-1.9 4.1-1 4.1-1 4.1-1.1 4.1-1.3 4.1-2 4.1 3.9 4.1 8.2 4.1 8.3 4 11.2 4.1 14.2 4.1 19.3 4.1 18.3 4.1 6.5 4.1 2.5 4.1-8.2 4.1-8.2 4.1-5.7 4.1 1.8 4.1 7.4 3.8-39.7 .3 45.1" fill="none" stroke="#00bfbf" stroke-width="1.5"/>
<path d="M607.6 787.4h0M611.6 798.8h0M615.7 810.4h0M619.8 821.5h0M623.9 828.2h0M628 832.1h0M632.1 805.8h0M636.2 807.6h0M640.3 814h0M644.4 819.8h0M648.5 816.2h0M652.6 811.4h0M656.7 809h0M660.8 805.9h0M664.9 803.9h0M669 804.1h0M673.1 804.7h0M677.1 802.5h0M681.2 791.3h0M685.3 783.1h0M689.4 774.9h0M693.5 777.9h0M697.6 784.6h0M701.7 792.7h0M705.8 791.7h0M709.9 784.4h0M714 776.2h0M718.1 770.6h0M722.2 770.7h0M726.3 783h0M730.4 788.2h0M734.5 792.3h0M738.6 798.2h0M742.7 804.4h0M746.7 811.2h0M750.8 811.2h0M754.9 796.8h0M759 784.8h0M763.1 773.4h0M767.2 767h0M771.3 762.8h0M775.4 757.7h0M779.5 753.4h0M783.6 749.3h0M787.7 745h0M791.8 739.8h0M795.9 736.7h0M800 733.6h0M804.1 730.9h0M808.2 728.7h0M812.3 724.6h0M816.3 720.5h0M820.4 716.4h0M824.5 712.7h0M828.6 710.7h0M832.7 711.4h0M836.8 712.4h0M840.9 711.9h0M845 707.8h0M849.1 702.7h0M853.2 697.5h0M857.3 692.4h0M861.4 687.4h0M865.5 683.3h0M869.6 680.9h0M873.7 678.8h0M877.8 677h0M881.9 676h0M885.9 677.8h0M890 679.2h0M894.1 679.2h0M898.2 677.3h0M902.3 677.3h0M906.4 676.5h0M910.5 675h0M914.6 673.1h0M918.7 672.1h0M922.8 671.1h0M926.9 670h0M931 668.7h0M935.1 666.7h0M939.2 670.6h0M943.3 678.8h0M947.4 687.1h0M951.4 698.3h0M955.5 712.5h0M959.6 731.8h0M963.7 750.1h0M967.8 756.6h0M971.9 759.1h0M976 750.9h0M980.1 742.7h0M984.2 737h0M988.3 738.8h0M992.4 746.2h0M996.2 706.5h0M996.5 751.6h0" fill="none" stroke="#00bfbf" stroke-width="10.4" stroke-linecap="round"/>
<path d="M607.6 808.7l4 2.7 4.1 4 4.1 .9 4.1-4.1 4.1-3.3 4.1 .4 4.1-.1 4.1 12.5 4.1-2.4 4.1-2.6 4.1 5.2 4.1 1.1 4.1 2.4 4.1 3.1 4.1 2.8 4.1 1.1 4 .2 4.1 0 4.1-.2 4.1-1.1 4.1-1 4.1-.6 4.1-.5 4.1-.6 4.1 1 4.1-1.9 4.1-1.8 4.1 .3 4.1 2.1 4.1 1.2 4.1 1 4.1 .5 4.1-1 4-3 4.1-3.1 4.1-1.9 4.1 0 4.1 1 4.1-.5 4.1-.1 4.1 .7 4.1-1 4.1-.1 4.1 1.1 4.1 1.8 4.1 1 4.1 1.1 4.1 1 4.1 .2 4.1-1 4-1.1 4.1-.7 4.1-.5 4.1-.3 4.1 0 4.1-.4 4.1-1.1 4.1-1.5 4.1-1 4.1-1 4.1-1.1 4.1-1 4.1-1 4.1-1 4.1-1 4.1-.7 4.1-.2 4 .4 4.1 1 4.1 1 4.1 1 4.1 1 4.1 1.1 4.1 1.8 4.1 2.5 4.1 3.1 4.1 3.1 4.1 2.1 4.1 .3 4.1-1.4 4.1-2 4.1-3.1 4.1-3.8 4-3.6 4.1-2.9 4.1-1 4.1 .6 4.1 12.1 4.1-2.1 4.1-5.1 4.1-6.1 4.1-4.8 4.1-4.1 7.9-9.3 0-15.9 .3-34.5" fill="none" stroke="#0000ff" stroke-width="1.5"/>
<path d="M607.6 808.7h0M611.6 811.4h0M615.7 815.4h0M619.8 816.3h0M623.9 812.2h0M628 808.9h0M632.1 809.3h0M636.2 809.2h0M640.3 821.7h0M644.4 819.3h0M648.5 816.7h0M652.6 821.9h0M656.7 823h0M660.8 825.4h0M664.9 828.5h0M669 831.3h0M673.1 832.4h0M677.1 832.6h0M681.2 832.6h0M685.3 832.4h0M689.4 831.3h0M693.5 830.3h0M697.6 829.7h0M701.7 829.2h0M705.8 828.6h0M709.9 829.6h0M714 827.7h0M718.1 825.9h0M722.2 826.2h0M726.3 828.3h0M730.4 829.5h0M734.5 830.5h0M738.6 831h0M742.7 830h0M746.7 827h0M750.8 823.9h0M754.9 822h0M759 822h0M763.1 823h0M767.2 822.5h0M771.3 822.4h0M775.4 823.1h0M779.5 822.1h0M783.6 822h0M787.7 823.1h0M791.8 824.9h0M795.9 825.9h0M800 827h0M804.1 828h0M808.2 828.2h0M812.3 827.2h0M816.3 826.1h0M820.4 825.4h0M824.5 824.9h0M828.6 824.6h0M832.7 824.6h0M836.8 824.2h0M840.9 823.1h0M845 821.6h0M849.1 820.6h0M853.2 819.6h0M857.3 818.5h0M861.4 817.5h0M865.5 816.5h0M869.6 815.5h0M873.7 814.5h0M877.8 813.8h0M881.9 813.6h0M885.9 814h0M890 815h0M894.1 816h0M898.2 817h0M902.3 818h0M906.4 819.1h0M910.5 820.9h0M914.6 823.4h0M918.7 826.5h0M922.8 829.6h0M926.9 831.7h0M931 832h0M935.1 830.6h0M939.2 828.6h0M943.3 825.5h0M947.4 821.7h0M951.4 818.1h0M955.5 815.2h0M959.6 814.2h0M963.7 814.8h0M967.8 826.9h0M971.9 824.8h0M976 819.7h0M980.1 813.6h0M984.2 808.8h0M988.3 804.7h0M996.2 795.4h0M996.2 779.5h0M996.5 745h0" fill="none" stroke="#0000ff" stroke-width="10.4" stroke-linecap="round"/>
</g></svg>
<svg x="83" y="515.2" width="406.8" height="316.5" viewBox="83 515.2 406.8 316.5" overflow="hidden"><g fill="none" stroke-linejoin="round">
<path d="M99.5 531.3l2.3 .3 2.3 .3 2.3 .3 2.3 .3 2.3 .3 2.3 .3 2.3 .5 2.3 .7 2.3 .7 2.3 .7 2.3 .7 2.3 .7 2.3 1.3 2.3 1.4 2.3 1.3 2.3 1.4 2.3 1.4 2.3 1.4 2.3 1.4 2.3 1.3 2.3 1.4 2.3 1.4 2.3 1.4 2.3 1.4 2.3 1.6 2.3 1.7 2.3 1.6 2.3 1.6 2.3 1.6 2.3 2.1 2.3 2.6 2.3 2.5 2.3 2.5 2.3 2.6 2.3 2.5 2.3 1.6 2.3 1.4 2.3 1.3 2.3 1.4 2.3 1.4 2.3 1.4 2.3 2.3 2.3 2.3 2.3 2.3 2.3 2.3 2.3 2.3 2.3 2.1 2.3 1.3 2.3 1.4 2.3 1.4 2.3 1.4 2.3 1.4 2.3 1 2.3 .7 2.3 .7 2.3 .7 2.3 .6 2.3 .7 2.3 1.4 2.3 1.6 2.3 1.6 2.3 1.6 2.3 1.7 2.3 1.6 2.3 2.3 2.3 2.3 2.3 2.3 2.3 2.3 2.3 2.3 2.3 2.1 2.3 1.6 2.3 1.6 2.3 1.6 2.3 1.6 2.3 1.7 2.3 1.3 2.3 .9 2.3 .9 2.3 .9 2.3 .9 2.3 1 2.3 1.4 2.3 1.6 2.3 1.6 2.3 1.6 2.3 1.6 2.3 1.6 2.3 1.4 2.3 1.4 2.3 1.4 2.3 1.3 2.3 1.4 2.3 1.4 2.3 1.4 2.3 1.4 2.3 1.3 2.3 1.4 2.3 1.4 2.3 1.6 2.3 1.8 2.3 1.8 2.3 1.9 2.3 1.8 2.3 1.9 2.3 2.4 2.3 2.7 2.3 2.8 2.3 2.8 2.3 2.7 2.3 2.8 2.3 1.6 2.3 1.3 2.3 1.4 2.3 1.4 2.3 1.4 2.3 1.4 2.3 1.3 2.3 1.4 2.3 1.4 2.3 1.4 2.3 1.4 2.3 1.4 2.3 1.6 2.3 1.6 2.3 1.6 2.3 1.7 2.3 1.6 2.3 1.6 2.3 1.6 2.3 1.6 2.3 1.6 2.3 1.6 2.3 1.6 2.3 1.8 2.3 1.9 2.3 1.8 2.3 1.8 2.3 1.9 2.3 1.8 2.3 1.9 2.3 1.8 2.3 1.8 2.3 1.9 2.3 1.8 2.3 1.7 2.3 1.1 2.3 1.2 2.3 1.1 2.3 1.2 2.3 1.1 2.3 1.4 2.3 1.6 2.3 1.6 2.3 1.6 2.3 1.6 2.3 1.7 2.3 1.6 2.3 1.7 2.3 1.7 2.3 1.6 2.3 1.7 1.9 1.4" stroke="#000" stroke-width="4.6"/>
<path d="M99.5 524l2.3 .6 2.3 2.2 2.3 .8 2.3-.4 2.3 .6 2.3 .9 2.3 1.1 2.3 1.2 2.3 1.1 2.3 1 2.3 .9 2.3 1 2.3 1.5 2.3 1.4 2.3 1.5 2.3 1.4 2.3 1.5 2.3 1.6 2.3 1.5 2.3 1.5 2.3 1.5 2.3 1.5 2.3 1.5 2.3 1.6 2.3 1.4 2.3 1.4 2.3 1.6 2.3 1.6 2.3 1.6 2.3 4.3 2.3 1.8 2.3 2.5 2.3 2.5 2.3 2.5 2.3 2.5 2.3 1.8 2.3 1.6 2.3 1.4 2.3 1.4 2.3 1.5 2.3 1.5 2.3 2.4 2.3 1.9 2.3 1.9 2.3 2.3 2.3 2.2 2.3 2.1 2.3 1.6 2.3 1.8 2.3 1.6 2.3 1.4 2.3 1.4 2.3 1.1 2.3 .9 2.3 .8 2.3 .9 2.3 .8 2.3 .8 2.3 1.5 2.3 1.5 2.3 1.1 2.3 1.2 2.3 1.3 2.3 1.4 2.3 2.1 2.3 2.2 2.3 2.3 2.3 2.3 2.3 2.3 2.3 2.3 2.3 1.8 2.3 1.8 2.3 1.8 2.3 1.7 2.3 1.8 2.3 1.5 2.3 1.2 2.3 1 2.3 1.1 2.3 1 2.3 1.1 2.3 1.5 2.3 1.7 2.3 1.7 2.3 1.8 2.3 1.7 2.3 1.7 2.3 1.5 2.3 1.5 2.3 1.5 2.3 1.5 2.3 1.5 2.3 1.6 2.3 1.6 2.3 1.5 2.3 1.5 2.3 1.5 2.3 1.5 2.3 1.6 2.3 1.9 2.3 1.9 2.3 1.8 2.3 1.6 2.3 1.5 2.3 2.2 2.3 2.5 2.3 2.7 2.3 2.6 2.3 2.7 2.3 2.7 2.3 1.6 2.3 1.3 2.3 1.5 2.3 1.4 2.3 1.5 2.3 1.5 2.3 1.5 2.3 1.5 2.3 1.5 2.3 1.5 2.3 1.5 2.3 1.6 2.3 1.7 2.3 1.7 2.3 1.7 2.3 1.7 2.3 1.7 2.3 1.7 2.3 1.7 2.3 1.7 2.3 1.7 2.3 1.7 2.3 1.7 2.3 1.9 2.3 2 2.3 2 2.3 2.1 2.3 2 2.3 2.1 2.3 2.1 2.3 2 2.3 2.1 2.3 2 2.3 2 2.3 1.9 2.3 1.4 2.3 1.4 2.3 1.4 2.3 1.3 2.3 1.7 2.3 2 2.3 2.3 2.3 2.3 2.3 2.4 2.3 2.1 2.3 2.2 2.3 2 2.3 1.7 2.3 1.5 2.3 1.5 2.3 1.5 1.9 1.2" stroke="#ff0000" stroke-width="2.6"/>
<path d="M99.5 528.8l2.3 .3 2.3 .6 2.3 .5 2.3 .4 2.3 .3 2.3 .3 2.3 .6 2.3 .7 2.3 .6 2.3 .6 2.3 .5 2.3 .3 2.3 1.6 2.3 1.5 2.3 1.2 2.3 1.3 2.3 1.2 2.3 1.3 2.3 1.3 2.3 1.3 2.3 1.2 2.3 1.3 2.3 1.3 2.3 1.4 2.3 1.5 2.3 1.6 2.3 1.5 2.3 1.5 2.3 1.4 2.3 2 2.3 2.4 2.3 2.5 2.3 2.5 2.3 2.5 2.3 2.5 2.3 1.6 2.3 1.3 2.3 1.4 2.3 1.3 2.3 1.3 2.3 1.3 2.3 2.3 2.3 2.2 2.3 2.3 2.3 2.2 2.3 2.3 2.3 2.1 2.3 1.4 2.3 1.4 2.3 1.5 2.3 1.4 2.3 1.5 2.3 1 2.3 .8 2.3 .7 2.3 .6 2.3 .7 2.3 .6 2.3 1.3 2.3 1.2 2.3 1.5 2.3 1.7 2.3 1.7 2.3 1.6 2.3 2.4 2.3 2.4 2.3 2.4 2.3 2.3 2.3 2.4 2.3 2.2 2.3 1.7 2.3 1.7 2.3 1.7 2.3 1.7 2.3 1.7 2.3 1.4 2.3 1 2.3 1 2.3 1 2.3 .9 2.3 1 2.3 1.4 2.3 1.6 2.3 1.6 2.3 1.6 2.3 1.6 2.3 1.6 2.3 1.5 2.3 1.5 2.3 1.5 2.3 1.5 2.3 1.3 2.3 1.4 2.3 1.3 2.3 1.3 2.3 1.4 2.3 1.3 2.3 1.4 2.3 1.5 2.3 1.8 2.3 1.8 2.3 1.7 2.3 1.8 2.3 1.7 2.3 2.4 2.3 2.8 2.3 2.8 2.3 2.8 2.3 2.9 2.3 2.8 2.3 1.7 2.3 1.5 2.3 1.5 2.3 1.6 2.3 1.6 2.3 1.6 2.3 1.6 2.3 1.5 2.3 1.6 2.3 1.5 2.3 1.5 2.3 1.6 2.3 1.7 2.3 1.7 2.3 1.8 2.3 1.7 2.3 1.7 2.3 1.7 2.3 1.7 2.3 1.7 2.3 1.7 2.3 1.6 2.3 1.7 2.3 1.9 2.3 1.9 2.3 1.9 2.3 2 2.3 1.9 2.3 1.9 2.3 1.9 2.3 1.8 2.3 1.8 2.3 1.9 2.3 1.8 2.3 1.6 2.3 1.1 2.3 1 2.3 .9 2.3 .9 2.3 1 2.3 1.2 2.3 1.4 2.3 1.6 2.3 1.5 2.3 1.6 2.3 1.5 2.3 1.6 2.3 1.7 2.3 1.6 2.3 1.6 2.3 1.6 1.9 1.3" stroke="#bf00bf" stroke-width="2.6"/>
<path d="M99.5 533.6l2.3 .2 2.3 0 2.3 0 2.3 0 2.3-.2 2.3 .1 2.3 .4 2.3 .4 2.3 .7 2.3 .9 2.3 1.6 2.3 .8 2.3 1.1 2.3 1.2 2.3 1.2 2.3 1.3 2.3 1.2 2.3 1.7 2.3 1.5 2.3 1.5 2.3 1.4 2.3 1.5 2.3 1.5 2.3 1.5 2.3 1.6 2.3 1.6 2.3 1.6 2.3 1.6 2.3 1.6 2.3 2.4 2.3 2.8 2.3 2.8 2.3 2.8 2.3 2.7 2.3 2.8 2.3 1.5 2.3 1.2 2.3 1.2 2.3 1.2 2.3 1.1 2.3 1.4 2.3 2.4 2.3 2.6 2.3 2.5 2.3 2.5 2.3 2.6 2.3 2 2.3 1.5 2.3 1.1 2.3 1 2.3 1.2 2.3 1.3 2.3 .9 2.3 .5 2.3 .6 2.3 .5 2.3 .5 2.3 .5 2.3 1.2 2.3 1.5 2.3 2.1 2.3 1.9 2.3 2 2.3 2 2.3 2.6 2.3 2.5 2.3 2.5 2.3 2.4 2.3 2.4 2.3 2.3 2.3 1.8 2.3 1.7 2.3 1.7 2.3 1.7 2.3 1.8 2.3 1.4 2.3 1.1 2.3 1 2.3 1 2.3 1 2.3 1 2.3 1.5 2.3 1.7 2.3 1.6 2.3 1.8 2.3 1.7 2.3 1.7 2.3 1.5 2.3 1.5 2.3 1.5 2.3 1.5 2.3 1.4 2.3 1.5 2.3 1.3 2.3 1.4 2.3 1.3 2.3 1.4 2.3 1.4 2.3 1.7 2.3 2 2.3 2 2.3 1.9 2.3 2 2.3 2 2.3 2.6 2.3 2.9 2.3 2.8 2.3 2.9 2.3 2.9 2.3 2.8 2.3 1.6 2.3 1.5 2.3 1.4 2.3 1.4 2.3 1.4 2.3 1.3 2.3 1.3 2.3 1.4 2.3 1.3 2.3 1.4 2.3 1.5 2.3 1.5 2.3 1.6 2.3 1.6 2.3 1.6 2.3 1.7 2.3 1.6 2.3 1.7 2.3 1.7 2.3 1.6 2.3 1.6 2.3 1.7 2.3 1.6 2.3 1.8 2.3 1.9 2.3 1.9 2.3 1.9 2.3 1.7 2.3 1.7 2.3 1.6 2.3 1.6 2.3 1.6 2.3 1.5 2.3 1.5 2.3 1.3 2.3 .7 2.3 .6 2.3 .5 2.3 .8 2.3 1 2.3 1.2 2.3 1.5 2.3 1.8 2.3 1.9 2.3 1.8 2.3 1.9 2.3 1.8 2.3 1.7 2.3 1.6 2.3 1.5 2.3 1.4 1.9 1.6" stroke="#00bfbf" stroke-width="2.6"/>
<path d="M99.5 530.1l2.3 .3 2.3 .3 2.3 .4 2.3 .4 2.3 .4 2.3 .3 2.3 .4 2.3 .6 2.3 .6 2.3 .7 2.3 .7 2.3 .5 2.3 1.6 2.3 1.8 2.3 1.4 2.3 1.3 2.3 1.2 2.3 1.4 2.3 1.6 2.3 1.4 2.3 1.4 2.3 1.5 2.3 1.4 2.3 1.6 2.3 1.7 2.3 1.7 2.3 1.6 2.3 1.7 2.3 1.6 2.3 2.1 2.3 2.6 2.3 2.5 2.3 2.5 2.3 2.5 2.3 2.5 2.3 1.6 2.3 1.3 2.3 1.4 2.3 1.4 2.3 1.3 2.3 1.4 2.3 2.3 2.3 2.4 2.3 2.3 2.3 2.2 2.3 2.2 2.3 2 2.3 1.4 2.3 1.4 2.3 1.5 2.3 1.4 2.3 1.4 2.3 1.1 2.3 .7 2.3 .7 2.3 .7 2.3 .6 2.3 .6 2.3 1.3 2.3 1.5 2.3 1.6 2.3 1.5 2.3 1.6 2.3 1.7 2.3 2.3 2.3 2.3 2.3 2.3 2.3 2.3 2.3 2.3 2.3 2.2 2.3 1.5 2.3 1.6 2.3 1.6 2.3 1.6 2.3 1.7 2.3 1.3 2.3 1 2.3 .9 2.3 1 2.3 .9 2.3 1 2.3 1.4 2.3 1.7 2.3 1.6 2.3 1.5 2.3 1.6 2.3 1.6 2.3 1.4 2.3 1.3 2.3 1.4 2.3 1.4 2.3 1.3 2.3 1.4 2.3 1.4 2.3 1.4 2.3 1.3 2.3 1.4 2.3 1.3 2.3 1.5 2.3 1.9 2.3 1.8 2.3 1.8 2.3 1.8 2.3 1.8 2.3 2.4 2.3 2.7 2.3 2.7 2.3 2.8 2.3 2.7 2.3 2.7 2.3 1.6 2.3 1.3 2.3 1.4 2.3 1.4 2.3 1.4 2.3 1.4 2.3 1.4 2.3 1.4 2.3 1.4 2.3 1.4 2.3 1.4 2.3 1.5 2.3 1.6 2.3 1.7 2.3 1.6 2.3 1.7 2.3 1.6 2.3 1.7 2.3 1.7 2.3 1.7 2.3 1.7 2.3 1.7 2.3 1.7 2.3 1.8 2.3 1.8 2.3 1.8 2.3 1.8 2.3 1.8 2.3 1.8 2.3 1.7 2.3 1.8 2.3 1.7 2.3 1.7 2.3 1.8 2.3 1.6 2.3 1.1 2.3 1.1 2.3 1.2 2.3 1.1 2.3 1.5 2.3 1.7 2.3 1.5 2.3 1.4 2.3 1.5 2.3 1.4 2.3 1.5 2.3 1.5 2.3 1.6 2.3 1.5 2.3 1.6 2.3 1.5 1.9 1.3" stroke="#0000ff" stroke-width="2.6"/>
</g></svg>
<svg x="1139" y="522" width="401.4" height="312.8" viewBox="1139 522 401.4 312.8" overflow="hidden"><g fill="none" stroke-linejoin="round">
<path d="M1157.2 745.3l1.4-21.9 1.3-32 1.3 50.7 1.3-4.9 1.3 4.8 1.3 18.2 1.4-17.4 1.3 2.2 1.3 1.8 1.3 9.6 1.3-10.4 1.4-30 1.3 48.3 1.3-13.2 1.3 8.8 1.3-33.6 1.3 43.6 1.4 8.9 1.3-16.7 1.3-33.7 1.3 47.3 1.3-18.7 1.3-3.7 1.4 29 1.3-5 1.3 1.4 1.3-23.3 1.3-15.6 1.3 29.5 1.4-44.7 1.3 52.6 1.3-2.6 1.3-16.7 1.3-6 1.4-36.1 1.3 56.3 1.3-14 1.3 12.9 1.3-13.4 1.3-8.3 1.4-4.2 1.3 14.7 1.3-5.2 1.3-9 1.3 20.3 1.3-20.1 1.4 14.9 1.3-19.2 1.3-16.2 1.3-18.5 1.3 51.4 1.3 .8 1.4-10.6 1.3 11.7 1.3-57.2 1.3 44.4 1.3-5.4 1.4-17 1.3 28.8 1.3 19 1.3-37.8 1.3 35.7 1.3-10.8 1.4 23.8 1.3-22.7 1.3 .1 1.3 22 1.3-25.8 1.3 19.8 1.4-57.1 1.3 42.1 1.3-10.5 1.3 12.8 1.3 10.5 1.3-3 1.4-2.7 1.3 12.4 1.3-59 1.3 51.2 1.3-1.4 1.4-15.1 1.3 5.8 1.3 9.8 1.3 5.9 1.3-19.9 1.3 16.7 1.4 9.7 1.3-4.3 1.3 .4 1.3 3 1.3-8.1 1.3-16.8 1.4 28.3 1.3-24.2 1.3 9.2 1.3-21.9 1.3-13.9 1.3 30.1 1.4 25.8 1.3-15 1.3-23.4 1.3 16.4 1.3 22.4 1.4-12.2 1.3-2.5 1.3 10.6 1.3-4.4 1.3 5.1 1.3-45.1 1.4 45.7 1.3-20.4 1.3 12.3 1.3-8.8 1.3 17.1 1.3-54.2 1.4-5.9 1.3 1.2 1.3 39.7 1.3 17.7 1.3-9.2 1.3-3 1.4-39.9 1.3 28.8 1.3-2.9 1.3 24.2 1.3-17 1.4 13 1.3-49.3 1.3 40.8 1.3 7.6 1.3-13.9 1.3 20.3 1.4-23 1.3 24.9 1.3 .2 1.3-15.6 1.3-7 1.3-6.3 1.4 6.8 1.3 3.9 1.3 3.9 1.3 5.9 1.3-16.6 1.3 21.5 1.4-11.8 1.3 0 1.3 5.5 1.3 5.3 1.3-27 1.3 17.5 1.4 8.9 1.3-5 1.3-.9 1.3-6.4 1.3-10.9 1.4 14.2 1.3-16.7 1.3 10.9 1.3-23.8 1.3 37.8 1.3-1.7 1.4-47.2 1.3 23.1 1.3-15.4 1.3-8.1 1.3 9.5 1.3 14.8 1.4 13.1 1.3-4.5 1.3 11.3 1.3-23 1.3 24.5 1.3-6.9 1.4 4.9 1.3-45.6 1.3 33 1.3-1.6 1.3 4.7 1.4 3.4 1.3-28.9 1.3 27.1 1.3-15.4 1.3 24.2 1.3 7.2 1.4 9.6 1.3-8.6 1.3 9.1 1.3-17 1.3-.6 1.3-7.7 1.4 19.3 1.3-9.4 1.3-1.3 1.3-23 1.3 25.6 1.3 6.1 1.4-13.3 1.3-4.4 1.3 23.6 1.3-27.5 1.3 6.8 1.4 2 1.3 12.9 1.3-4.3 1.3-20.3 1.3 5.4 1.3-5.8 1.4-.9 1.3-36 1.3 31.8 1.3 2.3 1.3-3.1 1.3 16.5 1.4 .9 1.3-11.4 1.3-27.4 1.3 28.2 1.3 12.1 1.3-7.7 1.4-16.6 1.3 5.4 1.3-4.3 1.3-8 1.3 11 1.4 1.9 1.3 2.7 1.3-8.4 1.3 25.6 1.3-49 1.3 36.7 1.4-36.9 1.3 37.1 1.3 16.3 1.3-14 1.3-6.3 1.3 18.2 1.4-18 1.3 2 1.3 2.7 1.3 2.7 1.3 13.4 1.3-18.2 1.4-5.6 1.3 3.8 1.3-.7 1.3 16 1.3-13.1 1.4 13.6 1.3-2.7 1.3 12.2 1.3 .6 1.3-35.1 1.3 40.9 1.4-12.2 1.3 1.7 1.3-41.9 1.3 39.9 1.3 8.3 1.3 4.2 1.4-7.6 1.3-37.4 1.3 20.6 1.3-4.2 1.3 18.7 1.3-54 1.4 33.4 1.3 23.1 1.3-54.2 1.3 46.3 1.3 7.9 1.4-10.2 1.3-6.7 1.3-4.1 1.3 11.1 1.3-16.3 1.3 16.9 1.4-10.9" stroke="#ff0000" stroke-width="2.5"/>
<path d="M1157.2 764.1l1.4 2 1.3 11.2 1.3-11.6 1.3 5.9 1.3 14.2 1.3-11.5 1.4-1 1.3-24.9 1.3 34.7 1.3-9.8 1.3-1 1.4 3 1.3-9 1.3 1.2 1.3-6.7 1.3 6.5 1.3 8.3 1.4-8 1.3 6.6 1.3-26.6 1.3 26.2 1.3-22.5 1.3-2.5 1.4 29.4 1.3 5.9 1.3-5.8 1.3-13.9 1.3 12.1 1.3 .5 1.4 6.9 1.3-4.2 1.3 4.2 1.3-16.9 1.3 17.4 1.4 6.6 1.3-9.4 1.3 10 1.3-1.8 1.3-29.5 1.3 20.8 1.4 7.1 1.3-7.7 1.3 14.5 1.3 2.9 1.3-5.2 1.3 5.4 1.4-15.8 1.3 18.3 1.3-18 1.3 7.2 1.3-6 1.3 .9 1.4-20 1.3 20.7 1.3 6.8 1.3 10.1 1.3-9.7 1.4-2.2 1.3 11.2 1.3 1.1 1.3-12.5 1.3 11.3 1.3-.2 1.4 .7 1.3-9.3 1.3 5.4 1.3 .8 1.3 3.3 1.3-1.1 1.4-5 1.3-10.3 1.3 14.8 1.3-14.3 1.3 4.5 1.3 2.3 1.4 7.4 1.3-10.7 1.3 3.2 1.3-1.1 1.3-1.9 1.4 13.8 1.3-4.3 1.3 8.9 1.3-16.9 1.3 11.9 1.3 2.1 1.4-6.2 1.3-7.4 1.3-1.3 1.3 16.1 1.3-15.4 1.3-18.7 1.4 33.2 1.3 .1 1.3-11.7 1.3 10.2 1.3-21.9 1.3 21.5 1.4-5.2 1.3-24.5 1.3 20 1.3 9.5 1.3-3.2 1.4-6.3 1.3-.6 1.3 .6 1.3-2.4 1.3 11.9 1.3-1.3 1.4-14.8 1.3-.7 1.3 5.7 1.3 12.8 1.3-.7 1.3-.1 1.4-15.9 1.3 15.8 1.3-17 1.3-1.7 1.3 17.4 1.3-10.9 1.4 5.9 1.3 1.2 1.3-12.4 1.3 16 1.3-17.6 1.4 15 1.3-6.6 1.3-26.7 1.3 23.1 1.3-2.9 1.3 14.8 1.4-2.9 1.3 3.4 1.3-38.1 1.3 28.2 1.3-4.7 1.3-13.4 1.4-3.8 1.3 33.4 1.3-16.6 1.3-11.8 1.3 27.2 1.3-32.6 1.4 32.1 1.3-1.4 1.3-3.5 1.3-13.3 1.3-18.1 1.3 29.9 1.4-7 1.3 1.1 1.3 .9 1.3 3.7 1.3-30.4 1.4 10.9 1.3 13.5 1.3 8.5 1.3 4.8 1.3-11.7 1.3-4.8 1.4 11 1.3-4.1 1.3 3.3 1.3-32.9 1.3 41.5 1.3-.7 1.4-12.8 1.3-24.7 1.3 24.8 1.3 1.5 1.3-2.5 1.3-13 1.4 14.9 1.3 6.1 1.3-10.6 1.3 15.7 1.3-2 1.4-12.3 1.3 8.1 1.3-18.4 1.3 12.6 1.3 1.8 1.3 2.3 1.4-1.9 1.3 6.2 1.3-33.2 1.3 35.1 1.3-29.9 1.3 17.7 1.4 12.5 1.3 3.1 1.3-9.4 1.3-7 1.3 3.7 1.3-14.2 1.4 28.2 1.3-3.1 1.3 4.8 1.3-8.5 1.3-2.7 1.4-14.4 1.3-1.1 1.3 22.8 1.3 3.2 1.3 1.2 1.3 2.1 1.4-3.2 1.3 3.9 1.3 .2 1.3-.8 1.3 0 1.3 2.8 1.4-8.2 1.3-25.8 1.3 23.2 1.3-4.6 1.3-2.7 1.3-23.8 1.4 35.3 1.3-8 1.3 1.7 1.3-19.7 1.3 1.3 1.4 14.1 1.3-23.4 1.3 32.6 1.3 .5 1.3-5.3 1.3 .9 1.4-3.8 1.3 12.2 1.3-34.7 1.3 35.4 1.3-2.1 1.3-17 1.4 2.9 1.3 11.3 1.3-9.9 1.3-10.9 1.3 19.6 1.3-10.6 1.4 10.2 1.3-1.7 1.3 7.6 1.3-12.9 1.3 9.9 1.4-15.8 1.3-.3 1.3 14.3 1.3-23 1.3 28.7 1.3-19.1 1.4-1.1 1.3 11.1 1.3-21 1.3-11 1.3 28.4 1.3 6.4 1.4-10.6 1.3 9.2 1.3-2.3 1.3-5.6 1.3 .5 1.3-6.1 1.4 1.2 1.3 3 1.3 8.2 1.3-1.4 1.3-9.7 1.4 3.1 1.3 13.9 1.3-1.8 1.3-1.3 1.3 1.8 1.3-1.4 1.4-8.1" stroke="#bf00bf" stroke-width="2.5"/>
<path d="M1157.2 740.3l1.4 24.5 1.3 5.1 1.3 8.2 1.3-4.4 1.3-1.7 1.3 6.4 1.4 10.4 1.3-43.2 1.3 28.1 1.3 3.4 1.3-26.5 1.4 21.2 1.3 4.4 1.3 3.4 1.3-10.5 1.3 14.1 1.3-14.8 1.4 3.1 1.3 11.5 1.3-.1 1.3 8.1 1.3-47.3 1.3 39.3 1.4-3.1 1.3 8.9 1.3-10.2 1.3 13.9 1.3-2.4 1.3-16.3 1.4-4 1.3 28.9 1.3-15.8 1.3 13.2 1.3-3.6 1.4-5.2 1.3 11.9 1.3-15.1 1.3-1.1 1.3-6.6 1.3 17.2 1.4-17.5 1.3-18.9 1.3 43.2 1.3-20.3 1.3-2.8 1.3 7.9 1.4 9.9 1.3 2.7 1.3 .4 1.3 10.9 1.3-21.4 1.3 19.4 1.4-50.4 1.3 49.8 1.3-5.3 1.3-7.1 1.3 13.4 1.4-3.8 1.3-18.2 1.3 14.4 1.3-8.3 1.3 5 1.3-4.9 1.4-22.1 1.3 13.4 1.3 24.8 1.3-11.9 1.3-44.4 1.3 34.7 1.4 19.8 1.3-1.6 1.3-10.7 1.3-3 1.3 22.6 1.3-25.6 1.4 24.4 1.3-19 1.3-4.9 1.3 5 1.3-2.5 1.4 4.2 1.3-4.3 1.3 18.4 1.3-17.7 1.3 4.9 1.3-4.4 1.4 11.8 1.3-8.1 1.3 3.4 1.3 3.2 1.3-7.6 1.3-43.5 1.4 48.6 1.3-9.1 1.3-21 1.3 25.9 1.3 6.6 1.3-21.9 1.4 1.8 1.3 10.4 1.3-7.2 1.3 21.6 1.3-13.5 1.4 14 1.3-10 1.3-14.7 1.3 16.2 1.3 8.2 1.3-10.4 1.4-19.9 1.3 10.5 1.3-6.2 1.3 .1 1.3 3 1.3 19.4 1.4-8.6 1.3-2 1.3-28.1 1.3 33.8 1.3 2.9 1.3-1 1.4-14.8 1.3 17.4 1.3-17.4 1.3 8.3 1.3 7.1 1.4-7.1 1.3-9.9 1.3-19.5 1.3 30.7 1.3-5.9 1.3 5.8 1.4 6.2 1.3-5.4 1.3 2.2 1.3 2.5 1.3-21.8 1.3 18.1 1.4 1.4 1.3-7 1.3-7.9 1.3 14.5 1.3-28.4 1.3 30.4 1.4-6.8 1.3-11.2 1.3-4.3 1.3 15.3 1.3 6.1 1.3-26.2 1.4 14.5 1.3-2.9 1.3 4 1.3 1.2 1.3 1.5 1.4 11.5 1.3-1.6 1.3-12.8 1.3 15 1.3-10.1 1.3-12.8 1.4 18.2 1.3-9.4 1.3-10 1.3 3.1 1.3 11.3 1.3-5.8 1.4-9.4 1.3 16.7 1.3-48.3 1.3 .4 1.3 37.8 1.3 10.6 1.4-39.5 1.3 32.5 1.3 3.1 1.3 4.9 1.3 .1 1.4-1.3 1.3 .7 1.3-14.1 1.3 10.4 1.3 12.3 1.3-15.4 1.4-36.7 1.3 35.8 1.3 24.9 1.3-15.9 1.3 21.1 1.3-10.2 1.4 6.3 1.3-9.1 1.3-6.5 1.3 7.6 1.3-10.6 1.3-26.4 1.4 39.7 1.3-14.6 1.3 23.8 1.3-15.5 1.3 14.9 1.4-3.6 1.3-19.9 1.3 18.5 1.3-4.9 1.3-7 1.3 5.4 1.4-4.5 1.3 12.1 1.3-9.1 1.3 .9 1.3-.5 1.3-5.4 1.4 23.2 1.3-15.7 1.3 14.8 1.3-22.1 1.3 1.7 1.3 2.1 1.4 3.8 1.3-3.6 1.3 7.8 1.3-7.9 1.3-5.6 1.4 23.6 1.3-58.8 1.3 29.7 1.3 10.7 1.3-26.6 1.3 33.1 1.4-19.1 1.3-22.1 1.3 31.2 1.3 19.8 1.3-24.5 1.3-33.5 1.4 48.9 1.3 9.2 1.3-26.6 1.3 20.7 1.3-16.3 1.3-36.4 1.4 36.7 1.3-5 1.3 19.8 1.3-18.2 1.3 0 1.4 13.5 1.3-1.5 1.3-13.1 1.3 .9 1.3-1.3 1.3 22 1.4-54.4 1.3 37 1.3 6.3 1.3 12.1 1.3-6.8 1.3 4.1 1.4-5.6 1.3-5.3 1.3-14.9 1.3 19.9 1.3 9.4 1.3-14.5 1.4-7.7 1.3-7.4 1.3 21.5 1.3-2.8 1.3-8.8 1.4-33 1.3 25.9 1.3 .5 1.3 20.9 1.3-19.2 1.3 17.2 1.4-45.8" stroke="#00bfbf" stroke-width="2.5"/>
<path d="M1157.2 745.6l1.4 49.1 1.3-27 1.3 60.6 1.3-1.9 1.3 2.8 1.3 .3 1.4-11.6 1.3-12.4 1.3 23.9 1.3-12 1.3 6.3 1.4 2.3 1.3-39.7 1.3 40.9 1.3-13.3 1.3-.4 1.3-33.9 1.4 40.6 1.3-17.7 1.3 26.6 1.3-44.9 1.3 35.6 1.3-.1 1.4-1.6 1.3-.6 1.3-18.8 1.3 9.6 1.3 17.5 1.3-4.5 1.4-8.5 1.3-2.4 1.3 6.5 1.3 .8 1.3 4.1 1.4-50.5 1.3 32.5 1.3 15.7 1.3-8.7 1.3 9.6 1.3-20.7 1.4 21.6 1.3-12.3 1.3 4.1 1.3-5.1 1.3 12.8 1.3 2.6 1.4-3.9 1.3 .8 1.3-11.2 1.3-13.9 1.3 19.4 1.3 10.6 1.4-7.7 1.3 12.4 1.3-3.8 1.3-1.9 1.3-13.5 1.4 6.8 1.3 5.2 1.3-18.1 1.3 25.4 1.3-11.4 1.3-7.6 1.4-6.7 1.3 10.3 1.3-11.2 1.3 .1 1.3 17.9 1.3-9.6 1.4-4.1 1.3-3.1 1.3 5.5 1.3 19.8 1.3-54.3 1.3-5.4 1.4 51.7 1.3-11.4 1.3-4.5 1.3-4.2 1.3 16 1.4 9.8 1.3-8.3 1.3-4.5 1.3-12.6 1.3 9.1 1.3 12.3 1.4-23.8 1.3-21.9 1.3 43.9 1.3-5.5 1.3 3.1 1.3 .9 1.4-22.3 1.3 27.2 1.3-39.1 1.3 27 1.3-14.3 1.3 14.4 1.4 12.1 1.3-14.6 1.3 13.3 1.3-12.6 1.3-33.9 1.4 29.5 1.3 12.7 1.3-7.1 1.3-37.1 1.3 30.7 1.3 18.3 1.4-23 1.3 18.4 1.3-14.7 1.3-33.1 1.3 30.9 1.3 3 1.4 20.2 1.3-22.1 1.3 7.2 1.3 16.7 1.3 .3 1.3-23.3 1.4 21 1.3-37.3 1.3 20.1 1.3 3.7 1.3-5.9 1.4 1.8 1.3-5.6 1.3 2.9 1.3-1.4 1.3-29.4 1.3 43.8 1.4-6.7 1.3 7.4 1.3 5.6 1.3-19.9 1.3-29.2 1.3 44.9 1.4-4.1 1.3-.4 1.3-18.4 1.3 15.1 1.3 10 1.3-55.1 1.4 35.5 1.3-5.2 1.3-1.7 1.3 25.8 1.3-14 1.3-1.5 1.4 8.1 1.3-9.2 1.3-6.4 1.3 20.6 1.3-26.8 1.4 25.5 1.3-12.1 1.3 12.5 1.3-3.2 1.3-22.4 1.3 12.9 1.4 2.9 1.3-10.5 1.3 10.1 1.3-1.3 1.3-10.1 1.3 19.6 1.4-14.1 1.3 15.2 1.3-22.5 1.3-.2 1.3 14 1.3-15.3 1.4 20.1 1.3-6 1.3-4 1.3 7.5 1.3-8.8 1.4-3.2 1.3-16.6 1.3 30.5 1.3 10.7 1.3-21.7 1.3-38.1 1.4 44.5 1.3-1.1 1.3 7.2 1.3-39.6 1.3 50.5 1.3-6 1.4-30 1.3 22.7 1.3 .9 1.3-25.7 1.3 18.8 1.3-2.4 1.4-34.2 1.3 35.4 1.3 19 1.3-15.7 1.3 13.2 1.4 3.3 1.3-2.6 1.3-9.3 1.3 5.3 1.3-2.2 1.3 6.5 1.4-37.7 1.3 29.3 1.3 14.8 1.3 .5 1.3-34.4 1.3 33.9 1.4-19.5 1.3-4.4 1.3 7.3 1.3 2.4 1.3-5 1.3 11.8 1.4-4.7 1.3 9.6 1.3-12.6 1.3 14.7 1.3-20.4 1.4 21.2 1.3 .2 1.3-22.1 1.3 11.2 1.3-9.2 1.3 7.5 1.4 7.8 1.3-15 1.3 9.3 1.3-22.4 1.3 31.2 1.3-49.9 1.4 50 1.3-38.2 1.3 5.5 1.3 26.8 1.3-15.6 1.3 18.8 1.4 .5 1.3-.4 1.3-14.3 1.3-2.4 1.3 18.3 1.4 2.5 1.3-12.6 1.3-5.5 1.3 3.3 1.3 2 1.3 10.5 1.4-15.3 1.3-25.6 1.3 42.7 1.3-3.8 1.3-18.2 1.3 22.4 1.4 .1 1.3-10.5 1.3 0 1.3-32.3 1.3 19.1 1.3-21.4 1.4 38.1 1.3 5.9 1.3-55.3 1.3-3.1 1.3 42.5 1.4 2.3 1.3 5.9 1.3-2.1 1.3-34.8 1.3 40.5 1.3-9.9 1.4-13.5" stroke="#0000ff" stroke-width="2.5"/>
</g></svg>
<svg x="1664.4" y="522" width="401.5" height="312.8" viewBox="1664.4 522 401.5 312.8" overflow="hidden"><g fill="none" stroke-linejoin="round">
<path d="M1682.7 751.6l1.3-20.4 1.3-29.7 1.3 47.1 1.3-4.6 1.3 4.5 1.4 16.9 1.3-16.2 1.3 2.1 1.3 1.7 1.3 8.9 1.3-9.7 1.4-27.9 1.3 44.9 1.3-12.2 1.3 8.2 1.3-31.3 1.4 40.6 1.3 8.2 1.3-15.5 1.3-31.4 1.3 44.1 1.3-17.4 1.4-3.5 1.3 27 1.3-4.6 1.3 1.2 1.3-21.6 1.3-14.6 1.4 27.5 1.3-41.6 1.3 49 1.3-2.5 1.3-15.5 1.4-5.6 1.3-33.6 1.3 52.4 1.3-13 1.3 12 1.3-12.5 1.4-7.8 1.3-3.8 1.3 13.7 1.3-4.9 1.3-8.3 1.3 18.8 1.4-18.7 1.3 13.9 1.3-17.9 1.3-15 1.3-17.3 1.4 47.9 1.3 .7 1.3-9.8 1.3 10.8 1.3-53.2 1.3 41.3 1.4-5 1.3-15.8 1.3 26.8 1.3 17.6 1.3-35.1 1.3 33.2 1.4-10.1 1.3 22.2 1.3-21.1 1.3 .1 1.3 20.4 1.4-23.9 1.3 18.4 1.3-53.2 1.3 39.2 1.3-9.8 1.3 12 1.4 9.7 1.3-2.8 1.3-2.5 1.3 11.5 1.3-54.8 1.3 47.6 1.4-1.3 1.3-14.1 1.3 5.4 1.3 9.2 1.3 5.4 1.4-18.4 1.3 15.5 1.3 9 1.3-4 1.3 .3 1.3 2.9 1.4-7.6 1.3-15.6 1.3 26.3 1.3-22.5 1.3 8.6 1.3-20.5 1.4-12.8 1.3 28 1.3 23.9 1.3-13.9 1.3-21.7 1.4 15.2 1.3 20.9 1.3-11.4 1.3-2.4 1.3 9.9 1.3-4.1 1.4 4.8 1.3-42 1.3 42.5 1.3-19 1.3 11.5 1.3-8.2 1.4 15.9 1.3-50.4 1.3-5.5 1.3 1.1 1.3 37 1.4 16.4 1.3-8.5 1.3-2.9 1.3-37.1 1.3 26.8 1.3-2.6 1.4 22.4 1.3-15.8 1.3 12.1 1.3-45.9 1.3 38 1.3 7.1 1.4-12.9 1.3 18.9 1.3-21.5 1.3 23.2 1.3 .2 1.4-14.5 1.3-6.5 1.3-5.9 1.3 6.4 1.3 3.6 1.3 3.6 1.4 5.5 1.3-15.4 1.3 20 1.3-11 1.3 0 1.4 5.1 1.3 4.9 1.3-25.1 1.3 16.3 1.3 8.2 1.3-4.6 1.4-.8 1.3-6 1.3-10.1 1.3 13.2 1.3-15.6 1.3 10.1 1.4-22.1 1.3 35.2 1.3-1.6 1.3-43.9 1.3 21.5 1.4-14.3 1.3-7.6 1.3 8.9 1.3 13.7 1.3 12.2 1.3-4.2 1.4 10.6 1.3-21.4 1.3 22.8 1.3-6.5 1.3 4.6 1.3-42.4 1.4 30.7 1.3-1.5 1.3 4.3 1.3 3.3 1.3-27 1.4 25.2 1.3-14.3 1.3 22.5 1.3 6.7 1.3 8.9 1.3-8 1.4 8.6 1.3-15.9 1.3-.5 1.3-7.2 1.3 17.9 1.3-8.7 1.4-1.2 1.3-21.4 1.3 23.8 1.3 5.7 1.3-12.4 1.4-4.1 1.3 21.9 1.3-25.5 1.3 6.3 1.3 1.8 1.3 12 1.4-3.9 1.3-18.9 1.3 5 1.3-5.4 1.3-.8 1.3-33.5 1.4 29.6 1.3 2.1 1.3-2.9 1.3 15.4 1.3 .8 1.4-10.6 1.3-25.5 1.3 26.3 1.3 11.3 1.3-7.3 1.3-15.4 1.4 5.1 1.3-4.1 1.3-7.4 1.3 10.2 1.3 1.8 1.3 2.5 1.4-7.8 1.3 23.8 1.3-45.6 1.3 34.1 1.3-34.3 1.4 34.6 1.3 15.1 1.3-13 1.3-5.9 1.3 17 1.3-16.7 1.4 1.8 1.3 2.5 1.3 2.5 1.3 12.5 1.3-17 1.3-5.2 1.4 3.5 1.3-.6 1.3 14.8 1.3-12.1 1.3 12.7 1.4-2.5 1.3 11.3 1.3 .5 1.3-32.6 1.3 38.1 1.3-11.4 1.4 1.6 1.3-39 1.3 37.1 1.3 7.8 1.3 3.8 1.3-7.1 1.4-34.7 1.3 19.2 1.3-3.9 1.3 17.3 1.3-50.2 1.4 31.1 1.3 21.5 1.3-50.5 1.3 43.1 1.3 7.3 1.3-9.4 1.4-6.2 1.3-3.9 1.3 10.4 1.3-15.2 1.3 15.7 1.4-10.1" stroke="#ff0000" stroke-width="2.5"/>
<path d="M1682.7 769.1l1.3 1.8 1.3 10.4 1.3-10.7 1.3 5.4 1.3 13.2 1.4-10.6 1.3-1 1.3-23.1 1.3 32.2 1.3-9.1 1.3-1 1.4 2.9 1.3-8.4 1.3 1.1 1.3-6.2 1.3 6 1.4 7.8 1.3-7.5 1.3 6.1 1.3-24.7 1.3 24.4 1.3-21 1.4-2.3 1.3 27.3 1.3 5.6 1.3-5.4 1.3-13 1.3 11.3 1.4 .5 1.3 6.4 1.3-4 1.3 3.9 1.3-15.7 1.4 16.3 1.3 6.1 1.3-8.7 1.3 9.2 1.3-1.7 1.3-27.4 1.4 19.4 1.3 6.5 1.3-7.1 1.3 13.5 1.3 2.7 1.3-4.8 1.4 5 1.3-14.8 1.3 17.1 1.3-16.8 1.3 6.8 1.4-5.6 1.3 .8 1.3-18.6 1.3 19.2 1.3 6.4 1.3 9.4 1.4-9.1 1.3-2 1.3 10.4 1.3 1 1.3-11.6 1.3 10.6 1.4-.2 1.3 .6 1.3-8.7 1.3 5.1 1.3 .7 1.4 3.1 1.3-1.1 1.3-4.6 1.3-9.6 1.3 13.8 1.3-13.3 1.4 4.2 1.3 2.2 1.3 6.8 1.3-9.9 1.3 2.9 1.3-1 1.4-1.8 1.3 12.9 1.3-4.1 1.3 8.3 1.3-15.7 1.4 11.1 1.3 2 1.3-5.8 1.3-6.9 1.3-1.2 1.3 15 1.4-14.3 1.3-17.4 1.3 30.9 1.3 .1 1.3-10.9 1.3 9.5 1.4-20.4 1.3 20 1.3-4.9 1.3-22.7 1.3 18.5 1.4 8.9 1.3-3 1.3-5.9 1.3-.5 1.3 .5 1.3-2.2 1.4 11.1 1.3-1.2 1.3-13.8 1.3-.6 1.3 5.2 1.3 12 1.4-.7 1.3-.1 1.3-14.8 1.3 14.7 1.3-15.8 1.4-1.5 1.3 16.1 1.3-10.1 1.3 5.4 1.3 1.1 1.3-11.5 1.4 14.9 1.3-16.3 1.3 13.9 1.3-6.2 1.3-24.8 1.3 21.5 1.4-2.6 1.3 13.7 1.3-2.7 1.3 3.2 1.3-35.5 1.4 26.2 1.3-4.4 1.3-12.4 1.3-3.5 1.3 31 1.3-15.4 1.4-11 1.3 25.3 1.3-30.3 1.3 29.8 1.3-1.3 1.4-3.2 1.3-12.4 1.3-16.8 1.3 27.8 1.3-6.5 1.3 1 1.4 .9 1.3 3.4 1.3-28.2 1.3 10.1 1.3 12.5 1.3 7.9 1.4 4.5 1.3-10.9 1.3-4.5 1.3 10.3 1.3-3.8 1.4 3.1 1.3-30.7 1.3 38.6 1.3-.6 1.3-11.9 1.3-23 1.4 23 1.3 1.4 1.3-2.3 1.3-12.1 1.3 13.9 1.3 5.7 1.4-9.9 1.3 14.6 1.3-1.9 1.3-11.4 1.3 7.6 1.4-17.2 1.3 11.7 1.3 1.7 1.3 2.1 1.3-1.7 1.3 5.7 1.4-30.9 1.3 32.7 1.3-27.7 1.3 16.4 1.3 11.6 1.3 2.9 1.4-8.7 1.3-6.5 1.3 3.4 1.3-13.2 1.3 26.2 1.4-2.9 1.3 4.5 1.3-7.9 1.3-2.5 1.3-13.4 1.3-1 1.4 21.1 1.3 3 1.3 1.1 1.3 2 1.3-3 1.3 3.6 1.4 .2 1.3-.7 1.3 0 1.3 2.6 1.3-7.7 1.4-23.9 1.3 21.5 1.3-4.2 1.3-2.6 1.3-22.1 1.3 32.8 1.4-7.4 1.3 1.6 1.3-18.3 1.3 1.2 1.3 13.1 1.3-21.8 1.4 30.3 1.3 .5 1.3-4.9 1.3 .8 1.3-3.5 1.4 11.4 1.3-32.3 1.3 32.9 1.3-2 1.3-15.7 1.3 2.7 1.4 10.4 1.3-9.2 1.3-10.1 1.3 18.2 1.3-9.9 1.3 9.6 1.4-1.7 1.3 7.1 1.3-12 1.3 9.2 1.3-14.7 1.4-.3 1.3 13.4 1.3-21.4 1.3 26.6 1.3-17.7 1.3-1 1.4 10.3 1.3-19.5 1.3-10.3 1.3 26.4 1.3 6 1.3-9.8 1.4 8.5 1.3-2.1 1.3-5.2 1.3 .4 1.3-5.6 1.4 1 1.3 2.9 1.3 7.6 1.3-1.3 1.3-9 1.3 2.9 1.4 12.9 1.3-1.7 1.3-1.2 1.3 1.6 1.3-1.3 1.4-7.5" stroke="#bf00bf" stroke-width="2.5"/>
<path d="M1682.7 746.9l1.3 22.8 1.3 4.7 1.3 7.6 1.3-4 1.3-1.6 1.4 6 1.3 9.6 1.3-40.2 1.3 26.2 1.3 3.1 1.3-24.6 1.4 19.7 1.3 4.1 1.3 3.2 1.3-9.8 1.3 13.2 1.4-13.8 1.3 2.9 1.3 10.6 1.3-.1 1.3 7.6 1.3-44 1.4 36.5 1.3-2.9 1.3 8.3 1.3-9.5 1.3 13 1.3-2.3 1.4-15.1 1.3-3.7 1.3 26.8 1.3-14.7 1.3 12.3 1.4-3.4 1.3-4.7 1.3 11 1.3-14.1 1.3-1 1.3-6.1 1.4 16 1.3-16.3 1.3-17.6 1.3 40.2 1.3-18.9 1.3-2.6 1.4 7.4 1.3 9.2 1.3 2.5 1.3 .4 1.3 10.1 1.4-19.9 1.3 18.1 1.3-46.9 1.3 46.3 1.3-5 1.3-6.5 1.4 12.4 1.3-3.6 1.3-16.9 1.3 13.5 1.3-7.8 1.3 4.7 1.4-4.6 1.3-20.6 1.3 12.5 1.3 23.1 1.3-11.1 1.4-41.2 1.3 32.2 1.3 18.4 1.3-1.4 1.3-10.1 1.3-2.7 1.4 21 1.3-23.8 1.3 22.7 1.3-17.7 1.3-4.5 1.3 4.6 1.4-2.3 1.3 3.9 1.3-4 1.3 17.2 1.3-16.6 1.4 4.6 1.3-4.1 1.3 11 1.3-7.5 1.3 3.1 1.3 3 1.4-7 1.3-40.6 1.3 45.2 1.3-8.4 1.3-19.5 1.3 24 1.4 6.2 1.3-20.3 1.3 1.6 1.3 9.7 1.3-6.7 1.4 20.1 1.3-12.5 1.3 13 1.3-9.4 1.3-13.7 1.3 15.1 1.4 7.6 1.3-9.7 1.3-18.4 1.3 9.7 1.3-5.7 1.3 .1 1.4 2.8 1.3 18 1.3-8 1.3-1.9 1.3-26.1 1.4 31.5 1.3 2.7 1.3-1 1.3-13.7 1.3 16.2 1.3-16.2 1.4 7.7 1.3 6.6 1.3-6.6 1.3-9.3 1.3-18.1 1.3 28.6 1.4-5.5 1.3 5.4 1.3 5.8 1.3-5.1 1.3 2.1 1.4 2.3 1.3-20.3 1.3 16.8 1.3 1.4 1.3-6.6 1.3-7.3 1.4 13.5 1.3-26.4 1.3 28.2 1.3-6.3 1.3-10.4 1.4-4 1.3 14.2 1.3 5.7 1.3-24.4 1.3 13.5 1.3-2.6 1.4 3.6 1.3 1.2 1.3 1.3 1.3 10.8 1.3-1.5 1.3-12 1.4 14 1.3-9.4 1.3-11.8 1.3 16.8 1.3-8.7 1.4-9.3 1.3 2.9 1.3 10.5 1.3-5.4 1.3-8.7 1.3 15.5 1.4-44.9 1.3 .3 1.3 35.2 1.3 9.8 1.3-36.7 1.3 30.3 1.4 2.9 1.3 4.5 1.3 .1 1.3-1.3 1.3 .7 1.4-13.1 1.3 9.6 1.3 11.5 1.3-14.3 1.3-34.1 1.3 33.3 1.4 23.1 1.3-14.7 1.3 19.5 1.3-9.4 1.3 5.8 1.3-8.4 1.4-6.1 1.3 7.1 1.3-9.8 1.3-24.7 1.3 37 1.4-13.6 1.3 22.1 1.3-14.4 1.3 13.9 1.3-3.3 1.3-18.6 1.4 17.2 1.3-4.6 1.3-6.4 1.3 5 1.3-4.2 1.3 11.3 1.4-8.5 1.3 .9 1.3-.5 1.3-5.1 1.3 21.6 1.4-14.5 1.3 13.7 1.3-20.5 1.3 1.5 1.3 2 1.3 3.5 1.4-3.4 1.3 7.3 1.3-7.3 1.3-5.2 1.3 21.9 1.3-54.7 1.4 27.7 1.3 9.9 1.3-24.8 1.3 30.8 1.3-17.7 1.4-20.6 1.3 29 1.3 18.4 1.3-22.7 1.3-31.2 1.3 45.5 1.4 8.6 1.3-24.8 1.3 19.3 1.3-15.2 1.3-33.8 1.3 34.1 1.4-4.7 1.3 18.4 1.3-16.9 1.3 0 1.3 12.6 1.4-1.4 1.3-12.2 1.3 .8 1.3-1.2 1.3 20.4 1.3-50.5 1.4 34.4 1.3 5.9 1.3 11.2 1.3-6.3 1.3 3.8 1.3-5.3 1.4-4.9 1.3-13.8 1.3 18.5 1.3 8.8 1.3-13.5 1.4-7.2 1.3-6.9 1.3 20 1.3-2.5 1.3-8.2 1.3-30.8 1.4 24.2 1.3 .4 1.3 19.4 1.3-17.8 1.3 16 1.4-42.6" stroke="#00bfbf" stroke-width="2.5"/>
<path d="M1682.7 751.8l1.3 45.7 1.3-25.1 1.3 56.3 1.3-1.7 1.3 2.6 1.4 .3 1.3-10.8 1.3-11.5 1.3 22.2 1.3-11.2 1.3 5.8 1.4 2.3 1.3-37 1.3 38 1.3-12.4 1.3-.3 1.4-31.5 1.3 37.7 1.3-16.4 1.3 24.7 1.3-41.8 1.3 33.1 1.4-.1 1.3-1.4 1.3-.6 1.3-17.5 1.3 9 1.3 16.3 1.4-4.3 1.3-7.9 1.3-2.2 1.3 6.1 1.3 .7 1.4 3.8 1.3-46.9 1.3 30.1 1.3 14.6 1.3-8 1.3 8.9 1.4-19.2 1.3 20 1.3-11.4 1.3 3.8 1.3-4.7 1.3 11.9 1.4 2.4 1.3-3.6 1.3 .7 1.3-10.4 1.3-12.9 1.4 18 1.3 9.8 1.3-7 1.3 11.4 1.3-3.5 1.3-1.7 1.4-12.6 1.3 6.3 1.3 4.8 1.3-16.8 1.3 23.6 1.3-10.5 1.4-7.1 1.3-6.3 1.3 9.6 1.3-10.4 1.3 .1 1.4 16.6 1.3-8.9 1.3-3.8 1.3-2.9 1.3 5.1 1.3 18.5 1.4-50.6 1.3-5 1.3 48.1 1.3-10.6 1.3-4.1 1.3-4 1.4 14.9 1.3 9.1 1.3-7.7 1.3-4.2 1.3-11.8 1.4 8.6 1.3 11.4 1.3-22.2 1.3-20.3 1.3 40.8 1.3-5.1 1.4 2.9 1.3 .9 1.3-20.8 1.3 25.3 1.3-36.4 1.3 25.1 1.4-13.3 1.3 13.4 1.3 11.2 1.3-13.5 1.3 12.3 1.4-11.7 1.3-31.5 1.3 27.4 1.3 11.9 1.3-6.7 1.3-34.4 1.4 28.5 1.3 17 1.3-21.4 1.3 17.1 1.3-13.7 1.3-30.7 1.4 28.8 1.3 2.7 1.3 18.8 1.3-20.5 1.3 6.7 1.4 15.5 1.3 .2 1.3-21.6 1.3 19.5 1.3-34.6 1.3 18.6 1.4 3.5 1.3-5.5 1.3 1.6 1.3-5.2 1.3 2.8 1.3-1.4 1.4-27.3 1.3 40.7 1.3-6.2 1.3 6.9 1.3 5.2 1.4-18.5 1.3-27.2 1.3 41.8 1.3-3.8 1.3-.4 1.3-17.1 1.4 14 1.3 9.4 1.3-51.3 1.3 33 1.3-4.8 1.4-1.6 1.3 24 1.3-13.1 1.3-1.3 1.3 7.5 1.3-8.5 1.4-6 1.3 19.2 1.3-25 1.3 23.8 1.3-11.3 1.3 11.6 1.4-3 1.3-20.8 1.3 12 1.3 2.7 1.3-9.8 1.4 9.4 1.3-1.2 1.3-9.4 1.3 18.2 1.3-13.1 1.3 14.2 1.4-20.9 1.3-.3 1.3 13.1 1.3-14.3 1.3 18.7 1.3-5.5 1.4-3.8 1.3 7 1.3-8.2 1.3-2.9 1.3-15.5 1.4 28.4 1.3 9.9 1.3-20.1 1.3-35.5 1.3 41.4 1.3-1.1 1.4 6.8 1.3-36.8 1.3 46.9 1.3-5.6 1.3-27.9 1.3 21.1 1.4 .9 1.3-23.9 1.3 17.5 1.3-2.3 1.3-31.7 1.4 32.9 1.3 17.6 1.3-14.6 1.3 12.3 1.3 3.1 1.3-2.5 1.4-8.6 1.3 4.9 1.3-2 1.3 6 1.3-35 1.3 27.2 1.4 13.8 1.3 .5 1.3-32.1 1.3 31.6 1.3-18.1 1.4-4.1 1.3 6.8 1.3 2.2 1.3-4.7 1.3 11 1.3-4.4 1.4 8.9 1.3-11.7 1.3 13.7 1.3-18.9 1.3 19.6 1.3 .2 1.4-20.5 1.3 10.4 1.3-8.6 1.3 7.1 1.3 7.2 1.4-14 1.3 8.6 1.3-20.8 1.3 29.1 1.3-46.4 1.3 46.4 1.4-35.5 1.3 5.1 1.3 25 1.3-14.6 1.3 17.5 1.3 .5 1.4-.3 1.3-13.3 1.3-2.3 1.3 17 1.3 2.4 1.4-11.8 1.3-5.1 1.3 3.1 1.3 1.9 1.3 9.7 1.3-14.3 1.4-23.8 1.3 39.8 1.3-3.5 1.3-17 1.3 20.9 1.3 0 1.4-9.7 1.3 0 1.3-30.1 1.3 17.8 1.3-19.9 1.4 35.4 1.3 5.5 1.3-51.4 1.3-2.9 1.3 39.6 1.3 2.1 1.4 5.5 1.3-2 1.3-32.3 1.3 37.6 1.3-9.2 1.4-12.6" stroke="#0000ff" stroke-width="2.5"/>
</g></svg>
<line x1="98.3" y1="831.7" x2="98.3" y2="823.4" class="tk"/>
<text transform="translate(98.3 857.3) scale(1 1.05)" font-family="'Liberation Serif', serif" font-size="24" text-anchor="middle">0</text>
<line x1="213.31" y1="831.7" x2="213.31" y2="823.4" class="tk"/>
<text transform="translate(213.31 857.3) scale(1 1.05)" font-family="'Liberation Serif', serif" font-size="24" text-anchor="middle">500</text>
<line x1="328.32" y1="831.7" x2="328.32" y2="823.4" class="tk"/>
<text transform="translate(328.32 857.3) scale(1 1.05)" font-family="'Liberation Serif', serif" font-size="24" text-anchor="middle">1000</text>
<line x1="443.33" y1="831.7" x2="443.33" y2="823.4" class="tk"/>
<text transform="translate(443.33 857.3) scale(1 1.05)" font-family="'Liberation Serif', serif" font-size="24" text-anchor="middle">1500</text>
<line x1="83" y1="831.7" x2="91.3" y2="831.7" class="tk"/>
<text transform="translate(74.6 840.02) scale(1 1.05)" font-family="'Liberation Serif', serif" font-size="24" text-anchor="end">0</text>
<line x1="83" y1="771.41" x2="91.3" y2="771.41" class="tk"/>
<text transform="translate(74.6 779.73) scale(1 1.05)" font-family="'Liberation Serif', serif" font-size="24" text-anchor="end">20</text>
<line x1="83" y1="711.13" x2="91.3" y2="711.13" class="tk"/>
<text transform="translate(74.6 719.44) scale(1 1.05)" font-family="'Liberation Serif', serif" font-size="24" text-anchor="end">40</text>
<line x1="83" y1="650.84" x2="91.3" y2="650.84" class="tk"/>
<text transform="translate(74.6 659.16) scale(1 1.05)" font-family="'Liberation Serif', serif" font-size="24" text-anchor="end">60</text>
<line x1="83" y1="590.56" x2="91.3" y2="590.56" class="tk"/>
<text transform="translate(74.6 598.87) scale(1 1.05)" font-family="'Liberation Serif', serif" font-size="24" text-anchor="end">80</text>
<line x1="83" y1="530.27" x2="91.3" y2="530.27" class="tk"/>
<text transform="translate(74.6 538.59) scale(1 1.05)" font-family="'Liberation Serif', serif" font-size="24" text-anchor="end">100</text>
<text transform="translate(286.4 892.8) scale(1 1.03)" font-family="'Liberation Serif', serif" font-size="29" text-anchor="middle">Time(s)</text>
<text transform="translate(23 675.95) rotate(-90) scale(1.025 1)" font-family="'Liberation Serif', serif" font-size="29" text-anchor="middle">SOC(%)</text>
<line x1="604.21" y1="834.7" x2="604.21" y2="826.4" class="tk"/>
<text transform="translate(604.21 860.3) scale(1 1.05)" font-family="'Liberation Serif', serif" font-size="24" text-anchor="middle">0</text>
<line x1="724.63" y1="834.7" x2="724.63" y2="826.4" class="tk"/>
<text transform="translate(724.63 860.3) scale(1 1.05)" font-family="'Liberation Serif', serif" font-size="24" text-anchor="middle">500</text>
<line x1="845.04" y1="834.7" x2="845.04" y2="826.4" class="tk"/>
<text transform="translate(845.04 860.3) scale(1 1.05)" font-family="'Liberation Serif', serif" font-size="24" text-anchor="middle">1000</text>
<line x1="965.45" y1="834.7" x2="965.45" y2="826.4" class="tk"/>
<text transform="translate(965.45 860.3) scale(1 1.05)" font-family="'Liberation Serif', serif" font-size="24" text-anchor="middle">1500</text>
<line x1="588.2" y1="834.7" x2="596.5" y2="834.7" class="tk"/>
<text transform="translate(579.8 843.02) scale(1 1.05)" font-family="'Liberation Serif', serif" font-size="24" text-anchor="end">0</text>
<line x1="588.2" y1="771.88" x2="596.5" y2="771.88" class="tk"/>
<text transform="translate(579.8 780.2) scale(1 1.05)" font-family="'Liberation Serif', serif" font-size="24" text-anchor="end">1</text>
<line x1="588.2" y1="709.06" x2="596.5" y2="709.06" class="tk"/>
<text transform="translate(579.8 717.38) scale(1 1.05)" font-family="'Liberation Serif', serif" font-size="24" text-anchor="end">2</text>
<line x1="588.2" y1="646.24" x2="596.5" y2="646.24" class="tk"/>
<text transform="translate(579.8 654.56) scale(1 1.05)" font-family="'Liberation Serif', serif" font-size="24" text-anchor="end">3</text>
<line x1="588.2" y1="583.42" x2="596.5" y2="583.42" class="tk"/>
<text transform="translate(579.8 591.74) scale(1 1.05)" font-family="'Liberation Serif', serif" font-size="24" text-anchor="end">4</text>
<line x1="588.2" y1="520.6" x2="596.5" y2="520.6" class="tk"/>
<text transform="translate(579.8 528.92) scale(1 1.05)" font-family="'Liberation Serif', serif" font-size="24" text-anchor="end">5</text>
<text transform="translate(801.15 895.8) scale(1 1.03)" font-family="'Liberation Serif', serif" font-size="29" text-anchor="middle">Time(s)</text>
<text transform="translate(548.5 679.05) rotate(-90) scale(1.025 1)" font-family="'Liberation Serif', serif" font-size="29" text-anchor="middle">Absolute error(%)</text>
<line x1="1157.25" y1="834.8" x2="1157.25" y2="826.5" class="tk"/>
<text transform="translate(1157.25 860.4) scale(1 1.05)" font-family="'Liberation Serif', serif" font-size="24" text-anchor="middle">0</text>
<line x1="1288.98" y1="834.8" x2="1288.98" y2="826.5" class="tk"/>
<text transform="translate(1288.98 860.4) scale(1 1.05)" font-family="'Liberation Serif', serif" font-size="24" text-anchor="middle">100</text>
<line x1="1420.72" y1="834.8" x2="1420.72" y2="826.5" class="tk"/>
<text transform="translate(1420.72 860.4) scale(1 1.05)" font-family="'Liberation Serif', serif" font-size="24" text-anchor="middle">200</text>
<line x1="1139" y1="834.8" x2="1147.3" y2="834.8" class="tk"/>
<text transform="translate(1130.6 843.12) scale(1 1.05)" font-family="'Liberation Serif', serif" font-size="24" text-anchor="end">0.00</text>
<line x1="1139" y1="772.24" x2="1147.3" y2="772.24" class="tk"/>
<text transform="translate(1130.6 780.56) scale(1 1.05)" font-family="'Liberation Serif', serif" font-size="24" text-anchor="end">0.02</text>
<line x1="1139" y1="709.68" x2="1147.3" y2="709.68" class="tk"/>
<text transform="translate(1130.6 718) scale(1 1.05)" font-family="'Liberation Serif', serif" font-size="24" text-anchor="end">0.04</text>
<line x1="1139" y1="647.12" x2="1147.3" y2="647.12" class="tk"/>
<text transform="translate(1130.6 655.44) scale(1 1.05)" font-family="'Liberation Serif', serif" font-size="24" text-anchor="end">0.06</text>
<line x1="1139" y1="584.56" x2="1147.3" y2="584.56" class="tk"/>
<text transform="translate(1130.6 592.88) scale(1 1.05)" font-family="'Liberation Serif', serif" font-size="24" text-anchor="end">0.08</text>
<line x1="1139" y1="522" x2="1147.3" y2="522" class="tk"/>
<text transform="translate(1130.6 530.32) scale(1 1.05)" font-family="'Liberation Serif', serif" font-size="24" text-anchor="end">0.10</text>
<text transform="translate(1339.7 895.9) scale(1 1.03)" font-family="'Liberation Serif', serif" font-size="29" text-anchor="middle">Cycle</text>
<text transform="translate(1072 679) rotate(-90) scale(1.025 1)" font-family="'Liberation Serif', serif" font-size="29" text-anchor="middle">RMSE</text>
<line x1="1682.65" y1="834.8" x2="1682.65" y2="826.5" class="tk"/>
<text transform="translate(1682.65 860.4) scale(1 1.05)" font-family="'Liberation Serif', serif" font-size="24" text-anchor="middle">0</text>
<line x1="1814.42" y1="834.8" x2="1814.42" y2="826.5" class="tk"/>
<text transform="translate(1814.42 860.4) scale(1 1.05)" font-family="'Liberation Serif', serif" font-size="24" text-anchor="middle">100</text>
<line x1="1946.19" y1="834.8" x2="1946.19" y2="826.5" class="tk"/>
<text transform="translate(1946.19 860.4) scale(1 1.05)" font-family="'Liberation Serif', serif" font-size="24" text-anchor="middle">200</text>
<line x1="1664.4" y1="834.8" x2="1672.7" y2="834.8" class="tk"/>
<text transform="translate(1656 843.12) scale(1 1.05)" font-family="'Liberation Serif', serif" font-size="24" text-anchor="end">0.00</text>
<line x1="1664.4" y1="772.24" x2="1672.7" y2="772.24" class="tk"/>
<text transform="translate(1656 780.56) scale(1 1.05)" font-family="'Liberation Serif', serif" font-size="24" text-anchor="end">0.02</text>
<line x1="1664.4" y1="709.68" x2="1672.7" y2="709.68" class="tk"/>
<text transform="translate(1656 718) scale(1 1.05)" font-family="'Liberation Serif', serif" font-size="24" text-anchor="end">0.04</text>
<line x1="1664.4" y1="647.12" x2="1672.7" y2="647.12" class="tk"/>
<text transform="translate(1656 655.44) scale(1 1.05)" font-family="'Liberation Serif', serif" font-size="24" text-anchor="end">0.06</text>
<line x1="1664.4" y1="584.56" x2="1672.7" y2="584.56" class="tk"/>
<text transform="translate(1656 592.88) scale(1 1.05)" font-family="'Liberation Serif', serif" font-size="24" text-anchor="end">0.08</text>
<line x1="1664.4" y1="522" x2="1672.7" y2="522" class="tk"/>
<text transform="translate(1656 530.32) scale(1 1.05)" font-family="'Liberation Serif', serif" font-size="24" text-anchor="end">0.10</text>
<text transform="translate(1865.15 895.9) scale(1 1.03)" font-family="'Liberation Serif', serif" font-size="29" text-anchor="middle">Cycle</text>
<text transform="translate(1598.2 679.8) rotate(-90) scale(1.025 1)" font-family="'Liberation Serif', serif" font-size="29" text-anchor="middle">MAE</text>
<rect x="95.6" y="649.3" width="208.7" height="169.8" rx="5" ry="5" class="lg"/>
<line x1="102.3" y1="667.4" x2="156.4" y2="667.4" stroke="#000000" stroke-width="5.1"/>
<text transform="translate(172.4 676.1) scale(1 0.9)" font-family="'Noto Serif CJK SC', 'IPAGothic', monospace" font-size="24.9" text-anchor="start" fill="#222" style="font-feature-settings:'hwid'">Reference</text>
<line x1="102.3" y1="699.8" x2="156.4" y2="699.8" stroke="#ff0000" stroke-width="2.8"/>
<text transform="translate(172.4 708.5) scale(1 0.9)" font-family="'Noto Serif CJK SC', 'IPAGothic', monospace" font-size="24.9" text-anchor="start" fill="#222" style="font-feature-settings:'hwid'">GRU</text>
<line x1="102.3" y1="732.2" x2="156.4" y2="732.2" stroke="#bf00bf" stroke-width="2.8"/>
<text transform="translate(172.4 740.9) scale(1 0.9)" font-family="'Noto Serif CJK SC', 'IPAGothic', monospace" font-size="24.9" text-anchor="start" fill="#222" style="font-feature-settings:'hwid'">1D CNN-GRU</text>
<line x1="102.3" y1="764.6" x2="156.4" y2="764.6" stroke="#00bfbf" stroke-width="2.8"/>
<text transform="translate(172.4 773.3) scale(1 0.9)" font-family="'Noto Serif CJK SC', 'IPAGothic', monospace" font-size="24.9" text-anchor="start" fill="#222" style="font-feature-settings:'hwid'">2D CNN-GRU</text>
<line x1="102.3" y1="797" x2="156.4" y2="797" stroke="#0000ff" stroke-width="2.8"/>
<text transform="translate(172.4 805.7) scale(1 0.9)" font-family="'Noto Serif CJK SC', 'IPAGothic', monospace" font-size="24.9" text-anchor="start" fill="#222" style="font-feature-settings:'hwid'">Proposed</text>
<rect x="601.5" y="533.2" width="218.3" height="135.8" rx="5" ry="5" class="lg"/>
<line x1="611" y1="551.1" x2="662.8" y2="551.1" stroke="#ff0000" stroke-width="1.6"/>
<circle cx="636.9" cy="551.1" r="5.2" fill="#ff0000"/>
<text transform="translate(682 559.8) scale(1 0.9)" font-family="'Noto Serif CJK SC', 'IPAGothic', monospace" font-size="24.9" text-anchor="start" fill="#222" style="font-feature-settings:'hwid'">GRU</text>
<line x1="611" y1="583.5" x2="662.8" y2="583.5" stroke="#bf00bf" stroke-width="1.6"/>
<circle cx="636.9" cy="583.5" r="5.2" fill="#bf00bf"/>
<text transform="translate(682 592.2) scale(1 0.9)" font-family="'Noto Serif CJK SC', 'IPAGothic', monospace" font-size="24.9" text-anchor="start" fill="#222" style="font-feature-settings:'hwid'">1D CNN-GRU</text>
<line x1="611" y1="615.9" x2="662.8" y2="615.9" stroke="#00bfbf" stroke-width="1.6"/>
<circle cx="636.9" cy="615.9" r="5.2" fill="#00bfbf"/>
<text transform="translate(682 624.6) scale(1 0.9)" font-family="'Noto Serif CJK SC', 'IPAGothic', monospace" font-size="24.9" text-anchor="start" fill="#222" style="font-feature-settings:'hwid'">2D CNN-GRU</text>
<line x1="611" y1="648.3" x2="662.8" y2="648.3" stroke="#0000ff" stroke-width="1.6"/>
<circle cx="636.9" cy="648.3" r="5.2" fill="#0000ff"/>
<text transform="translate(682 657) scale(1 0.9)" font-family="'Noto Serif CJK SC', 'IPAGothic', monospace" font-size="24.9" text-anchor="start" fill="#222" style="font-feature-settings:'hwid'">Proposed</text>
<rect x="1322.6" y="534.4" width="205.6" height="136.1" rx="5" ry="5" class="lg"/>
<line x1="1331" y1="551.9" x2="1381" y2="551.9" stroke="#ff0000" stroke-width="2.8"/>
<text transform="translate(1398.3 560.6) scale(1 0.9)" font-family="'Noto Serif CJK SC', 'IPAGothic', monospace" font-size="24.9" text-anchor="start" fill="#222" style="font-feature-settings:'hwid'">GRU</text>
<line x1="1331" y1="584.3" x2="1381" y2="584.3" stroke="#bf00bf" stroke-width="2.8"/>
<text transform="translate(1398.3 593) scale(1 0.9)" font-family="'Noto Serif CJK SC', 'IPAGothic', monospace" font-size="24.9" text-anchor="start" fill="#222" style="font-feature-settings:'hwid'">1D CNN-GRU</text>
<line x1="1331" y1="616.7" x2="1381" y2="616.7" stroke="#00bfbf" stroke-width="2.8"/>
<text transform="translate(1398.3 625.4) scale(1 0.9)" font-family="'Noto Serif CJK SC', 'IPAGothic', monospace" font-size="24.9" text-anchor="start" fill="#222" style="font-feature-settings:'hwid'">2D CNN-GRU</text>
<line x1="1331" y1="649.1" x2="1381" y2="649.1" stroke="#0000ff" stroke-width="2.8"/>
<text transform="translate(1398.3 657.8) scale(1 0.9)" font-family="'Noto Serif CJK SC', 'IPAGothic', monospace" font-size="24.9" text-anchor="start" fill="#222" style="font-feature-settings:'hwid'">Proposed</text>
<rect x="1848" y="534.4" width="205.6" height="136.1" rx="5" ry="5" class="lg"/>
<line x1="1856.5" y1="551.9" x2="1906.3" y2="551.9" stroke="#ff0000" stroke-width="2.8"/>
<text transform="translate(1923.4 560.6) scale(1 0.9)" font-family="'Noto Serif CJK SC', 'IPAGothic', monospace" font-size="24.9" text-anchor="start" fill="#222" style="font-feature-settings:'hwid'">GRU</text>
<line x1="1856.5" y1="584.3" x2="1906.3" y2="584.3" stroke="#bf00bf" stroke-width="2.8"/>
<text transform="translate(1923.4 593) scale(1 0.9)" font-family="'Noto Serif CJK SC', 'IPAGothic', monospace" font-size="24.9" text-anchor="start" fill="#222" style="font-feature-settings:'hwid'">1D CNN-GRU</text>
<line x1="1856.5" y1="616.7" x2="1906.3" y2="616.7" stroke="#00bfbf" stroke-width="2.8"/>
<text transform="translate(1923.4 625.4) scale(1 0.9)" font-family="'Noto Serif CJK SC', 'IPAGothic', monospace" font-size="24.9" text-anchor="start" fill="#222" style="font-feature-settings:'hwid'">2D CNN-GRU</text>
<line x1="1856.5" y1="649.1" x2="1906.3" y2="649.1" stroke="#0000ff" stroke-width="2.8"/>
<text transform="translate(1923.4 657.8) scale(1 0.9)" font-family="'Noto Serif CJK SC', 'IPAGothic', monospace" font-size="24.9" text-anchor="start" fill="#222" style="font-feature-settings:'hwid'">Proposed</text>
<rect x="83" y="515.2" width="406.8" height="316.5" class="fr"/>
<rect x="588.2" y="520.6" width="425.9" height="314.1" class="fr"/>
<rect x="1139" y="522" width="401.4" height="312.8" class="fr"/>
<rect x="1664.4" y="522" width="401.5" height="312.8" class="fr"/>
<text transform="translate(1087 979.6) scale(1 1.02)" font-family="'Liberation Serif', serif" font-size="49" text-anchor="middle">(b) RW20</text>
<svg x="588.2" y="1030.6" width="425.9" height="314.1" viewBox="588.2 1030.6 425.9 314.1" overflow="hidden"><g>
<path d="M607.6 1281.5l2.7 16.6 2.8 2.1 2.7-7.7 2.8 2.7 2.8 4.7 2.7 12.4 2.8 9.3 2.8 .9 2.7 .9 2.8 1 2.7 .9 2.8 .9 2.8 .7 2.7 .4 2.8 .5 2.7-.3 2.8-.7 2.8 1.8 2.7 2.8 2.8 0 2.8-.7 2.7 .7 2.8 1 2.7 .9 2.8 .4 2.8 .5 2.7 .5 2.8 .9 2.8 1 2.7 1.1 2.8 1.8 2.7 1.9 2.8 1 2.8-.4 2.7-.5 2.8-2.5 2.8-4.8 2.7-6 2.8-6.9 2.7-6.1 2.8-5.5 2.8-5.5 2.7-5.6 2.8-4.4 2.8-4.1 2.7-5.4 2.8-5.5 2.7-2.9 2.8-2.8 2.8-2.8 2.7-2.6 2.8-1.4 2.8-.6 2.7 2.7 2.8 1.4 2.7-2.8 2.8-2.8 2.8-2.7 2.7-3.9 2.8-5.6 2.8-6.4 2.7-6.8 2.8 3.7 2.7 4 2.8 4.1 2.8-10.2 2.7-8.5 2.8-5.5 2.8-2.2 2.7-1.4 2.8-2.6 2.7-2.7 2.8-1.5 2.8-1.1 2.7 2.7 2.8 2.6 2.8 1.4 2.7 1.4 2.8 1.4 2.7-.2 2.8-4.2 2.8-4.6 2.7-5.6 2.8-4.9 2.8-4.1 2.7-4.2 2.8-4.1 2.7-5 2.8-5.5 2.8-5.6 2.7-5.5 2.8-2.4 2.8-1.3 2.7 .9 2.8 1.4 2.7 1.4 2.8 1.3 2.8 1.4 2.7 1.5 2.8 2 2.8 1.5 2.7-2.1 2.8-2.6 2.7-4.1 2.8-4.6 2.8-5.5 2.7-5 2.8-4.2 2.8-4.8 2.7-5.5 2.8-5.5 2.7-5.6 2.8-4.6 2.8-4.2 2.7-3.1 2.8 6.2 2.8 9.2 2.7 9.2 2.8-5.2 2.7-7.3 2.8-7.4 2.8-5.6 2.7-5.5 2.8-5.5 2.8-5.8 2.7-7.4 2.8 .4 2.7 4.2 2.8 5.5 2.8 11.7 2.7 13.6 2.8 14.7 2.8 11.3 2.7 9.6 2.8 8.3 2.7 5.9 2.8 4.2 2.8-1.1 2.7-.4 2.8 13.9 3.3-5.7" fill="none" stroke="#ff0000" stroke-width="1.5"/>
<path d="M607.6 1281.5h0M610.3 1298.1h0M613.1 1300.2h0M615.8 1292.5h0M618.6 1295.2h0M621.4 1299.9h0M624.1 1312.3h0M626.9 1321.6h0M629.7 1322.5h0M632.4 1323.4h0M635.2 1324.4h0M637.9 1325.3h0M640.7 1326.2h0M643.5 1326.9h0M646.2 1327.3h0M649 1327.8h0M651.7 1327.5h0M654.5 1326.8h0M657.3 1328.6h0M660 1331.4h0M662.8 1331.4h0M665.6 1330.7h0M668.3 1331.4h0M671.1 1332.4h0M673.8 1333.3h0M676.6 1333.7h0M679.4 1334.2h0M682.1 1334.7h0M684.9 1335.6h0M687.7 1336.6h0M690.4 1337.7h0M693.2 1339.5h0M695.9 1341.4h0M698.7 1342.4h0M701.5 1342h0M704.2 1341.5h0M707 1339h0M709.8 1334.2h0M712.5 1328.2h0M715.3 1321.3h0M718 1315.2h0M720.8 1309.7h0M723.6 1304.2h0M726.3 1298.6h0M729.1 1294.2h0M731.9 1290.1h0M734.6 1284.7h0M737.4 1279.2h0M740.1 1276.3h0M742.9 1273.5h0M745.7 1270.7h0M748.4 1268.1h0M751.2 1266.7h0M754 1266.1h0M756.7 1268.8h0M759.5 1270.2h0M762.2 1267.4h0M765 1264.6h0M767.8 1261.9h0M770.5 1258h0M773.3 1252.4h0M776.1 1246h0M778.8 1239.2h0M781.6 1242.9h0M784.3 1246.9h0M787.1 1251h0M789.9 1240.8h0M792.6 1232.3h0M795.4 1226.8h0M798.2 1224.6h0M800.9 1223.2h0M803.7 1220.6h0M806.4 1217.9h0M809.2 1216.4h0M812 1215.3h0M814.7 1218h0M817.5 1220.6h0M820.3 1222h0M823 1223.4h0M825.8 1224.8h0M828.5 1224.6h0M831.3 1220.4h0M834.1 1215.8h0M836.8 1210.2h0M839.6 1205.3h0M842.4 1201.2h0M845.1 1197h0M847.9 1192.9h0M850.6 1187.9h0M853.4 1182.4h0M856.2 1176.8h0M858.9 1171.3h0M861.7 1168.9h0M864.5 1167.6h0M867.2 1168.5h0M870 1169.9h0M872.7 1171.3h0M875.5 1172.6h0M878.3 1174h0M881 1175.5h0M883.8 1177.5h0M886.6 1179h0M889.3 1176.9h0M892.1 1174.3h0M894.8 1170.2h0M897.6 1165.6h0M900.4 1160.1h0M903.1 1155.1h0M905.9 1150.9h0M908.7 1146.1h0M911.4 1140.6h0M914.2 1135.1h0M916.9 1129.5h0M919.7 1124.9h0M922.5 1120.7h0M925.2 1117.6h0M928 1123.8h0M930.8 1133h0M933.5 1142.2h0M936.3 1137h0M939 1129.7h0M941.8 1122.3h0M944.6 1116.7h0M947.3 1111.2h0M950.1 1105.7h0M952.9 1099.9h0M955.6 1092.5h0M958.4 1092.9h0M961.1 1097.1h0M963.9 1102.6h0M966.7 1114.3h0M969.4 1127.9h0M972.2 1142.6h0M975 1153.9h0M977.7 1163.5h0M980.5 1171.8h0M983.2 1177.7h0M986 1181.9h0M988.8 1180.8h0M991.5 1180.4h0M994.3 1194.3h0M997.6 1188.6h0" fill="none" stroke="#ff0000" stroke-width="10.4" stroke-linecap="round"/>
<path d="M605.4 1337.3l2.8-6.2 2.8-3.3 2.7 4.1 2.8 1.3 2.7-4.2 2.8-3.5 2.8-2.8 2.7-2.1 2.8-1.4 2.8-.1 2.7 .7 2.8-1.2 2.7-2 2.8-1.6 2.8-1.4 2.7-1.4 2.8-1.4 2.8-.7 2.7-.7 2.8 .7 2.7 .5 2.8-1.4 2.8-1.5 2.7-2.8 2.8-2.5 2.8-1.3 2.7-1.6 2.8-2.1 2.7-2.6 2.8-3.5 2.8-3.7 2.7-4.2 2.8-4.1 2.8-4.2 2.7-4.1 2.8-4.2 2.7-2.2 2.8-1.4 2.8-.3 2.7 0 2.8-1.2 2.8-1.3 2.7-3.4 2.8-3.4 2.7-2.1 2.8-2.4 2.8-5.5 2.7 25.6 2.8 5.5 2.7-.5 2.8-3 2.8-3.4 2.7-.9 2.8 3.4 2.8 4.7 2.7 6.2 2.8 4.4 2.7 2.8 2.8-1.9 2.8-4.8 2.7-2.9 2.8-2.1 2.8-1.6 2.7-1.3 2.8 2.1 2.7 2.7 2.8 5.4 2.8 .1 2.7-5.4 2.8-2.7 2.8-2.6 2.7-1.4 2.8-1.4 2.7-1.4 2.8-.6 2.8 1.4 2.7 2.4 2.8 4.1 2.8 4.2 2.7 4.1 2.8 2 2.7-.7 2.8-9.2 2.8-6.9 2.7-5.5 2.8-4.5 2.8-4.2 2.7-3 2.8-2.8 2.7-2.8 2.8-2.7 2.8-4.1 2.7-4.1 2.8-2.1 2.8-1.9 2.7-.7 2.8-.4 2.7 .7 2.8 .3 2.8-.7 2.7-.4 2.8 0 2.8-.9 2.7-2.1 2.8-2.1 2.7-2 2.8-1.3 2.8-.7 2.7-.7 2.8-.7 2.8-1.5 2.7-1.9 2.8-1.8 2.7-8.2 2.8-7.7 2.8-5.5 2.7 7.1 2.8 8.4 2.8 9 2.7 7.4 2.8-4.8 2.7-10.4 2.8-8.3 2.8-7.5 2.7-5.5 2.8-4.2 2.8-1.8 2.7 8.5 2.8 8.8 2.7 8.3 2.8 10.6 2.8 12.5 2.7 12.4 2.8 12.5 2.8 8.3 2.7 7 2.8 3.5 2.7 2.8 2.8 1.5 2.8 1.4 4 29.2" fill="none" stroke="#bf00bf" stroke-width="1.5"/>
<path d="M605.4 1337.3h0M608.2 1331.1h0M611 1327.8h0M613.7 1331.9h0M616.5 1333.2h0M619.2 1329h0M622 1325.5h0M624.8 1322.7h0M627.5 1320.6h0M630.3 1319.2h0M633.1 1319.1h0M635.8 1319.8h0M638.6 1318.6h0M641.3 1316.6h0M644.1 1315h0M646.9 1313.6h0M649.6 1312.2h0M652.4 1310.8h0M655.2 1310.1h0M657.9 1309.4h0M660.7 1310.1h0M663.4 1310.6h0M666.2 1309.2h0M669 1307.7h0M671.7 1304.9h0M674.5 1302.4h0M677.3 1301.1h0M680 1299.5h0M682.8 1297.4h0M685.5 1294.8h0M688.3 1291.3h0M691.1 1287.6h0M693.8 1283.4h0M696.6 1279.3h0M699.4 1275.1h0M702.1 1271h0M704.9 1266.8h0M707.6 1264.6h0M710.4 1263.2h0M713.2 1262.9h0M715.9 1262.9h0M718.7 1261.7h0M721.5 1260.4h0M724.2 1257h0M727 1253.6h0M729.7 1251.5h0M732.5 1249.1h0M735.3 1243.6h0M738 1269.2h0M740.8 1274.7h0M743.5 1274.2h0M746.3 1271.2h0M749.1 1267.8h0M751.8 1266.9h0M754.6 1270.3h0M757.4 1275h0M760.1 1281.2h0M762.9 1285.6h0M765.6 1288.4h0M768.4 1286.5h0M771.2 1281.7h0M773.9 1278.8h0M776.7 1276.7h0M779.5 1275.1h0M782.2 1273.8h0M785 1275.9h0M787.7 1278.6h0M790.5 1284h0M793.3 1284.1h0M796 1278.7h0M798.8 1276h0M801.6 1273.4h0M804.3 1272h0M807.1 1270.6h0M809.8 1269.2h0M812.6 1268.6h0M815.4 1270h0M818.1 1272.4h0M820.9 1276.5h0M823.7 1280.7h0M826.4 1284.8h0M829.2 1286.8h0M831.9 1286.1h0M834.7 1276.9h0M837.5 1270h0M840.2 1264.5h0M843 1260h0M845.8 1255.8h0M848.5 1252.8h0M851.3 1250h0M854 1247.2h0M856.8 1244.5h0M859.6 1240.4h0M862.3 1236.3h0M865.1 1234.2h0M867.9 1232.3h0M870.6 1231.6h0M873.4 1231.2h0M876.1 1231.9h0M878.9 1232.2h0M881.7 1231.5h0M884.4 1231.1h0M887.2 1231.1h0M890 1230.2h0M892.7 1228.1h0M895.5 1226h0M898.2 1224h0M901 1222.7h0M903.8 1222h0M906.5 1221.3h0M909.3 1220.6h0M912.1 1219.1h0M914.8 1217.2h0M917.6 1215.4h0M920.3 1207.2h0M923.1 1199.5h0M925.9 1194h0M928.6 1201.1h0M931.4 1209.5h0M934.2 1218.5h0M936.9 1225.9h0M939.7 1221.1h0M942.4 1210.7h0M945.2 1202.4h0M948 1194.9h0M950.7 1189.4h0M953.5 1185.2h0M956.3 1183.4h0M959 1191.9h0M961.8 1200.7h0M964.5 1209h0M967.3 1219.6h0M970.1 1232.1h0M972.8 1244.5h0M975.6 1257h0M978.4 1265.3h0M981.1 1272.3h0M983.9 1275.8h0M986.6 1278.6h0M989.4 1280.1h0M992.2 1281.5h0M996.2 1310.7h0" fill="none" stroke="#bf00bf" stroke-width="10.4" stroke-linecap="round"/>
<path d="M605.4 1329.3l2.8-7.7 2.8-8.6 2.7-11 2.8-4.2 2.7-1.3 2.8 .9 2.8 7 2.7 3 2.8-1.4 2.8-2.2 2.7-2.8 2.8-1.8 2.7-1.4 2.8 .2 2.8 .6 2.7 .2 2.8 0 2.8 .6 2.7 .7 2.8 1.4 2.7 .9 2.8-5.5 2.8-3 2.7-1.4 2.8 2.2 2.8 3.5 2.7 2.7 2.8 2.8 2.7 2.8 2.8 2.1 2.8 1.4 2.7 1.4 2.8 1.4 2.8 1.4 2.7 1.4 2.8 .9 2.7 .7 2.8-.4 2.8-.6 2.7 .4 2.8 .7 2.8 .7 2.7 .7 2.8 6.7 2.7 6.8 2.8 5.6 2.8 4.8 2.7 .5 2.8 .5 2.7 .2 2.8-.5 2.8-.4 2.7-.7 2.8-.9 2.8-.9 2.7-.9 2.8-1 2.7-.9 2.8-1.5 2.8-1.8 2.7-1.8 2.8-17.9 2.8-8.8 2.7 29.5 2.8 2.3 2.7-2.8 2.8 2.4 2.8 2.7 2.7 2.7 2.8-.5 2.8-.5 2.7-.6 2.8-1.4 2.7-1.3 2.8-1.3 2.8-.9 2.7-.9 2.8-1.3 2.8-1.9 2.7-1.8 2.8-3 2.7-4.2 2.8-3.3 2.8-2.8 2.7-4.6 2.8-5.5 2.8-5.6 2.7-5.5 2.8-4.4 2.7-4.1 2.8-2.9 2.8-2.8 2.7 2.8 2.8 2.8 2.8 4.2 2.7 4.1 2.8 4.2 2.7 3.8 2.8 2.7 2.8 2.8 2.7 2.8 2.8-.5 2.8-5.5 2.7-5.5 2.8-5.6 2.7-4.7 2.8-4.2 2.8-5 2.7-5.5 2.8-5.6 2.8-5.5 2.7-1.2 2.8 0 2.7 3 2.8 3.5 2.8 14.5 2.7-3.4 2.8-.6 2.8 1.3 2.7-2.7 2.8-2.8 2.7-2.8 2.8-3.8 2.8-6.9 2.7-6.5 2.8-5.5 2.8 7.7 2.7 11.3 2.8 15.2 2.7 15.6 2.8 14.4 2.8 11.1 2.7 7.4 2.8 4 2.8-1.9 2.7 .1 2.8 .7 2.7-14.8 2.8-12.6 2.8-5.5 4-8.1" fill="none" stroke="#00bfbf" stroke-width="1.5"/>
<path d="M605.4 1329.3h0M608.2 1321.6h0M611 1313h0M613.7 1302h0M616.5 1297.8h0M619.2 1296.5h0M622 1297.4h0M624.8 1304.4h0M627.5 1307.4h0M630.3 1306h0M633.1 1303.8h0M635.8 1301h0M638.6 1299.2h0M641.3 1297.8h0M644.1 1298h0M646.9 1298.6h0M649.6 1298.8h0M652.4 1298.8h0M655.2 1299.4h0M657.9 1300.1h0M660.7 1301.5h0M663.4 1302.4h0M666.2 1296.9h0M669 1293.9h0M671.7 1292.5h0M674.5 1294.7h0M677.3 1298.2h0M680 1300.9h0M682.8 1303.7h0M685.5 1306.5h0M688.3 1308.6h0M691.1 1310h0M693.8 1311.4h0M696.6 1312.8h0M699.4 1314.2h0M702.1 1315.6h0M704.9 1316.5h0M707.6 1317.2h0M710.4 1316.8h0M713.2 1316.2h0M715.9 1316.6h0M718.7 1317.3h0M721.5 1318h0M724.2 1318.7h0M727 1325.4h0M729.7 1332.2h0M732.5 1337.8h0M735.3 1342.6h0M738 1343.1h0M740.8 1343.6h0M743.5 1343.8h0M746.3 1343.3h0M749.1 1342.9h0M751.8 1342.2h0M754.6 1341.3h0M757.4 1340.4h0M760.1 1339.5h0M762.9 1338.5h0M765.6 1337.6h0M768.4 1336.1h0M771.2 1334.3h0M773.9 1332.5h0M776.7 1314.6h0M779.5 1305.8h0M782.2 1335.3h0M785 1337.6h0M787.7 1334.8h0M790.5 1337.2h0M793.3 1339.9h0M796 1342.6h0M798.8 1342.1h0M801.6 1341.6h0M804.3 1341h0M807.1 1339.6h0M809.8 1338.3h0M812.6 1337h0M815.4 1336.1h0M818.1 1335.2h0M820.9 1333.9h0M823.7 1332h0M826.4 1330.2h0M829.2 1327.2h0M831.9 1323h0M834.7 1319.7h0M837.5 1316.9h0M840.2 1312.3h0M843 1306.8h0M845.8 1301.2h0M848.5 1295.7h0M851.3 1291.3h0M854 1287.2h0M856.8 1284.3h0M859.6 1281.5h0M862.3 1284.3h0M865.1 1287.1h0M867.9 1291.3h0M870.6 1295.4h0M873.4 1299.6h0M876.1 1303.4h0M878.9 1306.1h0M881.7 1308.9h0M884.4 1311.7h0M887.2 1311.2h0M890 1305.7h0M892.7 1300.2h0M895.5 1294.6h0M898.2 1289.9h0M901 1285.7h0M903.8 1280.7h0M906.5 1275.2h0M909.3 1269.6h0M912.1 1264.1h0M914.8 1262.9h0M917.6 1262.9h0M920.3 1265.9h0M923.1 1269.4h0M925.9 1283.9h0M928.6 1280.5h0M931.4 1279.9h0M934.2 1281.2h0M936.9 1278.5h0M939.7 1275.7h0M942.4 1272.9h0M945.2 1269.1h0M948 1262.2h0M950.7 1255.7h0M953.5 1250.2h0M956.3 1257.9h0M959 1269.2h0M961.8 1284.4h0M964.5 1300h0M967.3 1314.4h0M970.1 1325.5h0M972.8 1332.9h0M975.6 1336.9h0M978.4 1335h0M981.1 1335.1h0M983.9 1335.8h0M986.6 1321h0M989.4 1308.4h0M992.2 1302.9h0M996.2 1294.8h0" fill="none" stroke="#00bfbf" stroke-width="10.4" stroke-linecap="round"/>
<path d="M605.4 1339.9l2.8-1.5 2.8-.8 2.7 1.4 2.8 .9 2.7 0 2.8-.6 2.8-1.4 2.7-.3 2.8 .7 2.8 .7 2.7 .7 2.8 1.1 2.7 1.4 2.8-.7 2.8-1.3 2.7-.8 2.8-.7 2.8 .5 2.7 .7 2.8 0 2.7 .1 2.8 .7 2.8 .5 2.7-.7 2.8-.7 2.8-.7 2.7-.7 2.8-.7 2.7-.7 2.8-.7 2.8-.7 2.7-.7 2.8-1.8 2.8-2.7 2.7-2 2.8-1.3 2.7-1.4 2.8-1.4 2.8 .8 2.7 1.3 2.8-1.5 2.8-2.1 2.7-1.4 2.8-1.4 2.7-.7 2.8-.6 2.8 0 2.7 .1 2.8 .7 2.7 8.8 2.8 6.9 2.8-1.5 2.7-2.8 2.8-1.9 2.8-.7 2.7-.3 2.8 0 2.7-.8 2.8-1.4 2.8-1.4 2.7-1.4 2.8-1.3 2.8-1.4 2.7 .8 2.8 1.4 2.7-1.1 2.8-1.3 2.8-.8 2.7-.6 2.8 1.4 2.8 1 2.7-2.1 2.8-1.8 2.7-.7 2.8-.7 2.8-.7 2.7-.7 2.8-.6 2.8-.7 2.7-.7 2.8-.7 2.7-.7 2.8-.3 2.8 0 2.7 0 2.8 0 2.8-.5 2.7-.7 2.8-.7 2.7-.7 2.8-.7 2.8-.7 2.7-1.3 2.8-1.4 2.8-.7 2.7-.7 2.8-.6 2.7-.7 2.8-.7 2.8-.7 2.7-.7 2.8 .1 2.8 1.4 2.7 .7 2.8 0 2.7 .4 2.8 .7 2.8-.2 2.7-.7 2.8-.7 2.8-.7 2.7-.6 2.8-.7 2.7-.7 2.8-.7 2.8-.1 2.7 0 2.8-.7 2.8-.9 2.7-2.7 2.8-3.4 2.7-3.2 2.8-1.4 2.8-.9 2.7 0 2.8 .2 2.8 .7 2.7 .7 2.8 .7 2.7 .7 2.8 .7 2.8 .7 2.7 .7 2.8 .7 2.8 .6 2.7-.3 2.8-.7 2.7-.7 2.8-.7 2.8-.7 4-8.6" fill="none" stroke="#0000ff" stroke-width="1.5"/>
<path d="M605.4 1339.9h0M608.2 1338.4h0M611 1337.6h0M613.7 1339h0M616.5 1339.9h0M619.2 1339.9h0M622 1339.3h0M624.8 1337.9h0M627.5 1337.6h0M630.3 1338.3h0M633.1 1339h0M635.8 1339.7h0M638.6 1340.8h0M641.3 1342.2h0M644.1 1341.5h0M646.9 1340.2h0M649.6 1339.4h0M652.4 1338.7h0M655.2 1339.2h0M657.9 1339.9h0M660.7 1339.9h0M663.4 1340h0M666.2 1340.7h0M669 1341.2h0M671.7 1340.5h0M674.5 1339.8h0M677.3 1339.1h0M680 1338.4h0M682.8 1337.7h0M685.5 1337h0M688.3 1336.3h0M691.1 1335.6h0M693.8 1334.9h0M696.6 1333.1h0M699.4 1330.4h0M702.1 1328.4h0M704.9 1327.1h0M707.6 1325.7h0M710.4 1324.3h0M713.2 1325.1h0M715.9 1326.4h0M718.7 1324.9h0M721.5 1322.8h0M724.2 1321.4h0M727 1320h0M729.7 1319.3h0M732.5 1318.7h0M735.3 1318.7h0M738 1318.8h0M740.8 1319.5h0M743.5 1328.3h0M746.3 1335.2h0M749.1 1333.7h0M751.8 1330.9h0M754.6 1329h0M757.4 1328.3h0M760.1 1328h0M762.9 1328h0M765.6 1327.2h0M768.4 1325.8h0M771.2 1324.4h0M773.9 1323h0M776.7 1321.7h0M779.5 1320.3h0M782.2 1321.1h0M785 1322.5h0M787.7 1321.4h0M790.5 1320.1h0M793.3 1319.3h0M796 1318.7h0M798.8 1320.1h0M801.6 1321.1h0M804.3 1319h0M807.1 1317.2h0M809.8 1316.5h0M812.6 1315.8h0M815.4 1315.1h0M818.1 1314.4h0M820.9 1313.8h0M823.7 1313.1h0M826.4 1312.4h0M829.2 1311.7h0M831.9 1311h0M834.7 1310.7h0M837.5 1310.7h0M840.2 1310.7h0M843 1310.7h0M845.8 1310.2h0M848.5 1309.5h0M851.3 1308.8h0M854 1308.1h0M856.8 1307.4h0M859.6 1306.7h0M862.3 1305.4h0M865.1 1304h0M867.9 1303.3h0M870.6 1302.6h0M873.4 1302h0M876.1 1301.3h0M878.9 1300.6h0M881.7 1299.9h0M884.4 1299.2h0M887.2 1299.3h0M890 1300.7h0M892.7 1301.4h0M895.5 1301.4h0M898.2 1301.8h0M901 1302.5h0M903.8 1302.3h0M906.5 1301.6h0M909.3 1300.9h0M912.1 1300.2h0M914.8 1299.6h0M917.6 1298.9h0M920.3 1298.2h0M923.1 1297.5h0M925.9 1297.4h0M928.6 1297.4h0M931.4 1296.7h0M934.2 1295.8h0M936.9 1293.1h0M939.7 1289.7h0M942.4 1286.5h0M945.2 1285.1h0M948 1284.2h0M950.7 1284.2h0M953.5 1284.4h0M956.3 1285.1h0M959 1285.8h0M961.8 1286.5h0M964.5 1287.2h0M967.3 1287.9h0M970.1 1288.6h0M972.8 1289.3h0M975.6 1290h0M978.4 1290.6h0M981.1 1290.3h0M983.9 1289.6h0M986.6 1288.9h0M989.4 1288.2h0M992.2 1287.5h0M996.2 1278.9h0" fill="none" stroke="#0000ff" stroke-width="10.4" stroke-linecap="round"/>
</g></svg>
<svg x="83" y="1025.2" width="406.8" height="316.5" viewBox="83 1025.2 406.8 316.5" overflow="hidden"><g fill="none" stroke-linejoin="round">
<path d="M99.5 1041.8l1.5 .7 1.6 .7 1.5 .7 1.6 .7 1.6 .7 1.5 .7 1.6 .7 1.5 .8 1.6 1.3 1.5 1.2 1.6 1.3 1.5 1.2 1.6 1.2 1.5 1.3 1.6 1.2 1.5 1.3 1.6 .8 1.5 .8 1.6 .8 1.5 .8 1.6 .7 1.5 .8 1.6 .8 1.5 .8 1.6 .8 1.5 .7 1.6 .8 1.5 .8 1.6 .8 1.6 .7 1.5 .8 1.6 .8 1.5 .8 1.6 .9 1.5 .9 1.6 1 1.5 1 1.6 .9 1.5 1 1.6 1 1.5 .5 1.6 .5 1.5 .5 1.6 .4 1.5 .5 1.6 .5 1.5 .4 1.6 .5 1.5 .6 1.6 1 1.5 .9 1.6 1 1.6 1 1.5 1 1.6 .9 1.5 1.1 1.6 1.3 1.5 1.3 1.6 1.3 1.5 1.3 1.6 1.3 1.5 1.3 1.6 1.3 1.5 1.3 1.6 1.3 1.5 1.2 1.6 .8 1.5 .7 1.6 .8 1.5 .8 1.6 .8 1.5 .7 1.6 1 1.5 1.4 1.6 1.3 1.5 1.4 1.6 1.3 1.6 1.4 1.5 1.4 1.6 1.1 1.5 1 1.6 1 1.5 .9 1.6 1 1.5 1 1.6 .9 1.5 .7 1.6 .5 1.5 .5 1.6 .6 1.5 .5 1.6 .5 1.5 .5 1.6 .5 1.5 .5 1.6 .6 1.5 .8 1.6 1.1 1.5 1.2 1.6 1.1 1.5 1.2 1.6 1.2 1.6 1.1 1.5 1.1 1.6 1 1.5 .9 1.6 1 1.5 1 1.6 .9 1.5 1 1.6 .8 1.5 .8 1.6 .8 1.5 .8 1.6 .7 1.5 .8 1.6 .8 1.5 .8 1.6 .7 1.5 .8 1.6 .8 1.5 .8 1.6 .7 1.5 .8 1.6 1 1.6 1 1.5 .9 1.6 1 1.5 1 1.6 1 1.5 1 1.6 1.4 1.5 1.3 1.6 1.4 1.5 1.3 1.6 1.4 1.5 1.4 1.6 1.1 1.5 .8 1.6 .7 1.5 .8 1.6 .8 1.5 .8 1.6 .7 1.5 .8 1.6 .8 1.5 .8 1.6 .8 1.5 .9 1.6 .9 1.6 1 1.5 .9 1.6 .9 1.5 1 1.6 .9 1.5 .9 1.6 .6 1.5 .3 1.6 .3 1.5 .3 1.6 .3 1.5 .3 1.6 .3 1.5 .4 1.6 .3 1.5 .5 1.6 .5 1.5 .5 1.6 .5 1.5 .6 1.6 .5 1.5 .5 1.6 .5 1.6 .5 1.5 .6 1.6 .6 1.5 .6 1.6 .6 1.5 .6 1.6 .6 1.5 .7 1.6 .6 1.5 .6 1.6 .7 1.5 .9 1.6 1 1.5 .9 1.6 .9 1.5 1 1.6 .9 1.5 .9 1.6 .9 1.5 .9 1.6 .7 1.5 .8 1.6 .8 1.5 .8 1.6 .7 1.6 .8 1.5 1.1 1.6 1.2 1.5 1.2 1.6 1.1 1.5 1.2 1.6 1.2 1.5 1.1 1.6 .4 1.5 .4 1.6 .4 1.5 .4 1.6 .3 1.5 .4 1.6 .4 1.5 .4 1.6 .4 1.5 .4 1.6 .3 1.5 .2 1.6 .3 1.5 .2 1.6 .3 1.6 .3 1.5 .2 1.6 .3 1.5 .2 1.6 .3 1.5 .3 1.6 .4 1.5 .4 1.6 .4 1.5 .4 1.6 .4 1.5 .4 1.6 1.4 1.5 1.9 1.6 2 1.5 1.6 1.6 .7 1.5 .7 1.6 .7 .8 .4" stroke="#000" stroke-width="4.6"/>
<path d="M99.5 1038.8l1.5 .7 1.6 1 1.5 1.2 1.6 .9 1.6 .5 1.5 .4 1.6 .7 1.5 .9 1.6 1.4 1.5 1.4 1.6 1.6 1.5 1.6 1.6 1.5 1.5 1.3 1.6 1.3 1.5 1.2 1.6 .9 1.5 .8 1.6 .8 1.5 .8 1.6 .8 1.5 .8 1.6 .8 1.5 .8 1.6 .8 1.5 .8 1.6 .8 1.5 .8 1.6 .7 1.6 .8 1.5 .8 1.6 .8 1.5 .9 1.6 1 1.5 .9 1.6 1 1.5 .9 1.6 1 1.5 1 1.6 1 1.5 .6 1.6 .5 1.5 .4 1.6 .5 1.5 .5 1.6 .5 1.5 .4 1.6 .5 1.5 .7 1.6 1 1.5 1 1.6 1 1.6 1 1.5 1 1.6 1 1.5 1.2 1.6 1.3 1.5 1.3 1.6 1.3 1.5 1.3 1.6 1.3 1.5 1.2 1.6 1.2 1.5 1.1 1.6 1.2 1.5 1 1.6 .5 1.5 .6 1.6 .6 1.5 3.7 1.6 .9 1.5 1 1.6 1.1 1.5 1.5 1.6 1.5 1.5 1.5 1.6 1.5 1.6 1.5 1.5 1.5 1.6 1.3 1.5 1.1 1.6 1.1 1.5 1 1.6 1.1 1.5 1 1.6 1.1 1.5 .7 1.6 .6 1.5 .6 1.6 .5 1.5 .6 1.6 .4 1.5 .5 1.6 .4 1.5 .5 1.6 .6 1.5 .9 1.6 1.2 1.5 1.3 1.6 1.2 1.5 1.3 1.6 1.3 1.6 1.3 1.5 1.2 1.6 1.2 1.5 1.2 1.6 1 1.5 .9 1.6 .9 1.5 .8 1.6 .7 1.5 .7 1.6 1 1.5 1.3 1.6 .9 1.5 .9 1.6 1 1.5 .8 1.6 .8 1.5 .8 1.6 .9 1.5 .8 1.6 .9 1.5 .8 1.6 1 1.6 1.1 1.5 1 1.6 .9 1.5 .8 1.6 .9 1.5 1 1.6 1.4 1.5 1.3 1.6 1.3 1.5 1.3 1.6 1.3 1.5 1.4 1.6 1.2 1.5 .9 1.6 .9 1.5 1 1.6 .9 1.5 .9 1.6 .9 1.5 .9 1.6 .9 1.5 .9 1.6 .9 1.5 1.1 1.6 1 1.6 1.1 1.5 1.1 1.6 1.1 1.5 1.1 1.6 1.1 1.5 1 1.6 .7 1.5 .3 1.6 .4 1.5 .3 1.6 .3 1.5 .3 1.6 .2 1.5 .3 1.6 .3 1.5 .5 1.6 .4 1.5 .5 1.6 .5 1.5 .5 1.6 .4 1.5 .5 1.6 .5 1.6 .5 1.5 .6 1.6 .7 1.5 .7 1.6 .8 1.5 .7 1.6 .8 1.5 .7 1.6 .8 1.5 .8 1.6 .8 1.5 1 1.6 1.1 1.5 1.1 1.6 1.1 1.5 1.1 1.6 1 1.5 1.1 1.6 1.1 1.5 1 1.6 .9 1.5 .9 1.6 .8 1.5 .9 1.6 .6 1.6 .5 1.5 .8 1.6 .9 1.5 .9 1.6 1.4 1.5 1.3 1.6 1.4 1.5 1.4 1.6 .6 1.5 .5 1.6 .6 1.5 .5 1.6 .5 1.5 .6 1.6 .5 1.5 .6 1.6 .6 1.5 .6 1.6 .2 1.5 .1 1.6 .1 1.5 .2 1.6 0 1.6-.1 1.5-.1 1.6-.1 1.5-.2 1.6-.1 1.5 0 1.6 .1 1.5 .1 1.6 .2 1.5 .1 1.6 .2 1.5 .3 1.6 1.3 1.5 1.9 1.6 2 1.5 1.8 1.6 .4 1.5 .4 1.6 .1 .8 .1" stroke="#ff0000" stroke-width="2.6"/>
<path d="M99.5 1042.2l1.5 .9 1.6 .8 1.5 .9 1.6 .5 1.6 .6 1.5 .6 1.6 .7 1.5 1 1.6 1.4 1.5 1.3 1.6 1.3 1.5 1.4 1.6 1.3 1.5 1.2 1.6 1.3 1.5 1.3 1.6 .9 1.5 .7 1.6 .8 1.5 .8 1.6 .8 1.5 .9 1.6 .8 1.5 .8 1.6 .8 1.5 .8 1.6 .9 1.5 .8 1.6 .8 1.6 .8 1.5 .8 1.6 .8 1.5 .7 1.6 .9 1.5 1 1.6 1 1.5 1 1.6 1 1.5 1 1.6 1 1.5 .7 1.6 .5 1.5 .5 1.6 .5 1.5 .5 1.6 .5 1.5 .6 1.6 .5 1.5 .7 1.6 1 1.5 1.1 1.6 1.1 1.6 1.1 1.5 1.1 1.6 1 1.5 1.3 1.6 1.4 1.5 1.4 1.6 1.4 1.5 1.4 1.6 1.4 1.5 1.4 1.6 1.3 1.5 1.4 1.6 1.3 1.5 1.2 1.6 .8 1.5 .8 1.6 .8 1.5 .8 1.6 .8 1.5 .8 1.6 1.1 1.5 1.5 1.6 1.4 1.5 1.4 1.6 1.4 1.6 1.5 1.5 1.5 1.6 1.3 1.5 .2 1.6 .4 1.5 .8 1.6 .9 1.5 1.1 1.6 1 1.5 .8 1.6 .6 1.5 .6 1.6 .5 1.5 .4 1.6 .4 1.5 .4 1.6 .4 1.5 .3 1.6 .4 1.5 .7 1.6 1.1 1.5 1 1.6 1.3 1.5 1.3 1.6 1.3 1.6 1.3 1.5 1.1 1.6 1 1.5 1 1.6 1 1.5 1 1.6 1 1.5 .9 1.6 .8 1.5 .7 1.6 .6 1.5 .7 1.6 .7 1.5 .9 1.6 .9 1.5 .9 1.6 .8 1.5 .9 1.6 .8 1.5 .8 1.6 .9 1.5 .8 1.6 1 1.6 1 1.5 1 1.6 .9 1.5 1 1.6 .9 1.5 1 1.6 1.2 1.5 1.3 1.6 1.2 1.5 1.2 1.6 1.3 1.5 1.2 1.6 1.2 1.5 .7 1.6 1 1.5 1.1 1.6 1 1.5 .9 1.6 .9 1.5 1 1.6 .8 1.5 .9 1.6 1 1.5 1 1.6 1 1.6 1 1.5 1 1.6 1 1.5 1 1.6 1 1.5 1.1 1.6 .7 1.5 .4 1.6 .4 1.5 .3 1.6 .4 1.5 .3 1.6 .4 1.5 .3 1.6 .3 1.5 .5 1.6 .5 1.5 .5 1.6 .6 1.5 .5 1.6 .5 1.5 .6 1.6 .5 1.6 .5 1.5 .5 1.6 .7 1.5 .7 1.6 .7 1.5 .6 1.6 .7 1.5 .7 1.6 .6 1.5 .7 1.6 .7 1.5 .9 1.6 1 1.5 .9 1.6 1 1.5 1 1.6 1 1.5 1 1.6 .9 1.5 1.1 1.6 1 1.5 1 1.6 .9 1.5 1 1.6 .6 1.6 .6 1.5 .9 1.6 .9 1.5 .9 1.6 .9 1.5 1 1.6 1.2 1.5 1.4 1.6 .7 1.5 .7 1.6 .6 1.5 .6 1.6 .6 1.5 .5 1.6 .6 1.5 .4 1.6 .5 1.5 .4 1.6 .1 1.5-.1 1.6 .1 1.5 0 1.6 0 1.6 0 1.5-.1 1.6-.1 1.5-.1 1.6-.1 1.5 0 1.6 0 1.5 .2 1.6 .2 1.5 .2 1.6 .2 1.5 .3 1.6 1.4 1.5 1.9 1.6 1.9 1.5 1.6 1.6 .6 1.5 .2 1.6 .1 .8 .1" stroke="#bf00bf" stroke-width="2.6"/>
<path d="M99.5 1041.1l1.5 .5 1.6 .4 1.5 .5 1.6 .4 1.6 .4 1.5 .5 1.6 .6 1.5 .8 1.6 1.3 1.5 1.2 1.6 1.4 1.5 1.5 1.6 1.4 1.5 1.2 1.6 1.2 1.5 1.2 1.6 .8 1.5 .7 1.6 .7 1.5 .7 1.6 .7 1.5 .8 1.6 .7 1.5 .8 1.6 .8 1.5 .8 1.6 .8 1.5 .8 1.6 .8 1.6 .7 1.5 .8 1.6 .8 1.5 .8 1.6 1 1.5 1 1.6 .9 1.5 .8 1.6 .9 1.5 .9 1.6 .9 1.5 .5 1.6 .6 1.5 .5 1.6 .6 1.5 .5 1.6 .6 1.5 .5 1.6 .6 1.5 .7 1.6 1 1.5 1 1.6 1 1.6 1 1.5 1 1.6 1.1 1.5 1.1 1.6 1.3 1.5 1.4 1.6 1.3 1.5 1.3 1.6 1.4 1.5 1.3 1.6 1.3 1.5 1.3 1.6 1.2 1.5 1.2 1.6 .8 1.5 .8 1.6 .8 1.5 .8 1.6 .8 1.5 .8 1.6 1 1.5 1.5 1.6 1.5 1.5 1.6 1.6 1.5 1.6 1.5 1.5 1.6 1.6 1.2 1.5 1 1.6 1 1.5 1 1.6 1 1.5 .9 1.6 1 1.5 .6 1.6 .5 1.5 .5 1.6 .5 1.5 .5 1.6 .5 1.5 .5 1.6 .5 1.5 .5 1.6 .5 1.5 .8 1.6 1.1 1.5 1.1 1.6 1.1 1.5 1.2 1.6 1.1 1.6 1.1 1.5 1 1.6 .4 1.5 .3 1.6 .9 1.5 1.8 1.6 1.8 1.5 .9 1.6 .8 1.5 .6 1.6 .9 1.5 .8 1.6 .9 1.5 .8 1.6 .9 1.5 .8 1.6 .7 1.5 .8 1.6 .7 1.5 .8 1.6 .7 1.5 .8 1.6 .9 1.6 1 1.5 .9 1.6 .9 1.5 1 1.6 .9 1.5 1.1 1.6 1.3 1.5 1.3 1.6 1.3 1.5 1.3 1.6 1.3 1.5 1.3 1.6 1 1.5 .7 1.6 .6 1.5 .7 1.6 .7 1.5 .7 1.6 .7 1.5 .6 1.6 .6 1.5 .6 1.6 .7 1.5 .7 1.6 .8 1.6 .8 1.5 .9 1.6 .8 1.5 .8 1.6 .9 1.5 .8 1.6 .6 1.5 .4 1.6 .4 1.5 .4 1.6 .4 1.5 .4 1.6 .5 1.5 .4 1.6 .4 1.5 .7 1.6 .6 1.5 .6 1.6 .6 1.5 .6 1.6 .5 1.5 .6 1.6 .6 1.6 .3 1.5 .4 1.6 .4 1.5 .5 1.6 .5 1.5 .4 1.6 .5 1.5 .5 1.6 .5 1.5 .5 1.6 .6 1.5 .7 1.6 .8 1.5 .8 1.6 .8 1.5 .7 1.6 1 1.5 .9 1.6 .9 1.5 .9 1.6 .9 1.5 .9 1.6 1 1.5 1.2 1.6 .8 1.6 .6 1.5 1.1 1.6 1.2 1.5 1.2 1.6 1.1 1.5 1.1 1.6 1.1 1.5 1.1 1.6 .3 1.5 .3 1.6 .3 1.5 .1 1.6 .2 1.5 .2 1.6 .3 1.5 .2 1.6 .5 1.5 .6 1.6 .6 1.5 .7 1.6 .7 1.5 .7 1.6 .7 1.6 .6 1.5 .7 1.6 .5 1.5 .6 1.6 .4 1.5 .5 1.6 .4 1.5 .4 1.6 .3 1.5 .4 1.6 .4 1.5 .4 1.6 1 1.5 1.5 1.6 1.6 1.5 1.4 1.6 .6 1.5 1.3 1.6 .5 .8-.4" stroke="#00bfbf" stroke-width="2.6"/>
<path d="M99.5 1042.1l1.5 .7 1.6 .7 1.5 .8 1.6 .6 1.6 .7 1.5 .6 1.6 .7 1.5 .9 1.6 1.2 1.5 1.3 1.6 1.2 1.5 1.3 1.6 1.3 1.5 1.2 1.6 1.2 1.5 1.3 1.6 .8 1.5 .8 1.6 .7 1.5 .8 1.6 .7 1.5 .7 1.6 .8 1.5 .8 1.6 .9 1.5 .8 1.6 .8 1.5 .8 1.6 .8 1.6 .7 1.5 .8 1.6 .7 1.5 .8 1.6 .9 1.5 1 1.6 .9 1.5 1 1.6 .9 1.5 1 1.6 1 1.5 .5 1.6 .5 1.5 .5 1.6 .5 1.5 .5 1.6 .5 1.5 .5 1.6 .4 1.5 .7 1.6 1 1.5 1 1.6 .9 1.6 1 1.5 1 1.6 1 1.5 1.2 1.6 1.4 1.5 1.3 1.6 1.4 1.5 1.3 1.6 1.3 1.5 1.4 1.6 1.3 1.5 1.3 1.6 1.4 1.5 1.1 1.6 .8 1.5 .7 1.6 .8 1.5 .9 1.6 .8 1.5 .8 1.6 1 1.5 1.4 1.6 1.4 1.5 1.4 1.6 1.4 1.6 1.4 1.5 1.3 1.6 1.2 1.5 .9 1.6 1 1.5 .9 1.6 1 1.5 .5 1.6 .7 1.5 .7 1.6 .5 1.5 .6 1.6 .6 1.5 .6 1.6 .5 1.5 .6 1.6 .5 1.5 .5 1.6 .6 1.5 .8 1.6 1.1 1.5 1.2 1.6 1.2 1.5 1.2 1.6 1.2 1.6 1.2 1.5 1.1 1.6 1 1.5 1.1 1.6 1 1.5 .9 1.6 1 1.5 .9 1.6 .8 1.5 .8 1.6 .8 1.5 .8 1.6 .8 1.5 .8 1.6 .8 1.5 .8 1.6 .7 1.5 .8 1.6 .7 1.5 .9 1.6 .8 1.5 .9 1.6 .9 1.6 1 1.5 1 1.6 1 1.5 1 1.6 1 1.5 1.1 1.6 1.3 1.5 1.4 1.6 1.4 1.5 1.4 1.6 1.4 1.5 1.3 1.6 1.2 1.5 .8 1.6 .8 1.5 .8 1.6 .7 1.5 .8 1.6 .8 1.5 .8 1.6 .7 1.5 .8 1.6 .8 1.5 1 1.6 .9 1.6 1 1.5 .9 1.6 1 1.5 .9 1.6 1 1.5 .9 1.6 .6 1.5 .4 1.6 .3 1.5 .4 1.6 .3 1.5 .3 1.6 .4 1.5 .3 1.6 .3 1.5 .6 1.6 .5 1.5 .5 1.6 .6 1.5 .5 1.6 .6 1.5 .5 1.6 .5 1.6 .5 1.5 .5 1.6 .5 1.5 .6 1.6 .7 1.5 .6 1.6 .6 1.5 .6 1.6 .6 1.5 .6 1.6 .7 1.5 1 1.6 .9 1.5 1 1.6 .9 1.5 1 1.6 .9 1.5 1 1.6 .9 1.5 .9 1.6 .8 1.5 .8 1.6 .8 1.5 .7 1.6 .8 1.6 .8 1.5 1.1 1.6 1.2 1.5 1.2 1.6 1.2 1.5 1.3 1.6 1.2 1.5 1.3 1.6 .5 1.5 .4 1.6 .4 1.5 .4 1.6 .4 1.5 .4 1.6 .4 1.5 .4 1.6 .4 1.5 .3 1.6 .3 1.5 .2 1.6 .3 1.5 .2 1.6 .3 1.6 .2 1.5 .2 1.6 .3 1.5 .2 1.6 .3 1.5 .3 1.6 .3 1.5 .4 1.6 .4 1.5 .4 1.6 .4 1.5 .4 1.6 1.4 1.5 2 1.6 2 1.5 1.6 1.6 .7 1.5 .8 1.6 .8 .8 .6" stroke="#0000ff" stroke-width="2.6"/>
</g></svg>
<svg x="1139" y="1032" width="401.4" height="312.8" viewBox="1139 1032 401.4 312.8" overflow="hidden"><g fill="none" stroke-linejoin="round">
<path d="M1157.2 1204.9l1.1 14.5 1.1-23.5 1-3.5 1.1 32.4 1.1-35.4 1 12.7 1.1-2.9 1.1 20.5 1-16.3 1.1 8.4 1 25.1 1.1-13 1.1 38.3 1 16 1.1-22.3 1.1-13 1 39.2 1.1-37.5 1.1 8.3 1 1.8 1.1 35.8 1.1-18 1-16 1.1-14.7 1 18.1 1.1 36.5 1.1 5.2 1-9.5 1.1-18.2 1.1 23.9 1-11.1 1.1 18.1 1.1-.2 1-44 1.1 44.5 1-31.7 1.1-4.9 1.1 15.3 1 4.7 1.1 16 1.1-34.8 1 25.8 1.1-51.1 1.1 19.8 1 .3 1.1 32.6 1-20.6 1.1-2.8 1.1-5.5 1 .9 1.1 8.6 1.1 19.3 1-3.5 1.1-12 1.1-10.3 1 35.8 1.1-36.9 1.1 31.8 1-.8 1.1-4.4 1-16.9 1.1 7.7 1.1 6.5 1-11.5 1.1-20.9 1.1 5.3 1 13 1.1 15.5 1.1-10.9 1-46.4 1.1 35.9 1-12.9 1.1 28.7 1.1-11.8 1 5.4 1.1 14 1.1 2 1 5.1 1.1-14.3 1.1-12.5 1 27.6 1.1-21.5 1 20.1 1.1-1 1.1-14.5 1-18.5 1.1 2.7 1.1 3 1 16.4 1.1 1.7 1.1-5.1 1-28.3 1.1 2.2 1 20.6 1.1 13.5 1.1-6.8 1 13.9 1.1-61 1.1-8.1 1 38.4 1.1-8.7 1.1 2.9 1 1.2 1.1 31.1 1.1 11.2 1-67.5 1.1 6.6 1-5.9 1.1 60 1.1 10.1 1-1.5 1.1-13.4 1.1-17.3 1-7 1.1 16.1 1.1 21.7 1-33.3 1.1-1.2 1-6.3 1.1-5.3 1.1 18.4 1 11.5 1.1-1.7 1.1-4.5 1-12.3 1.1-4.7 1.1-13.9 1-9.4 1.1 29 1-4.4 1.1-4.8 1.1 15.1 1 20.3 1.1-62.9 1.1 51.5 1-13.9 1.1-5.1 1.1 27 1-59.7 1.1 47.4 1.1 13.4 1-52.5 1.1 54.5 1-19 1.1 .8 1.1-12 1-7.1 1.1-13.8 1.1-17.8 1 35.3 1.1-6.3 1.1 1.1 1 1.6 1.1 22.8 1-7.7 1.1 8.5 1.1-1 1-19.1 1.1-20.1 1.1 .8 1 8.9 1.1 29.2 1.1-24.9 1-9.7 1.1 34.8 1-10.9 1.1-46 1.1 35.7 1 31.2 1.1-3.4 1.1 6.9 1-38.7 1.1 2.4 1.1 11.2 1-13.4 1.1 29.3 1.1-16.6 1 18 1.1-34.5 1 23.2 1.1 .6 1.1 16.1 1-27 1.1 31.7 1.1-15.5 1 10.2 1.1-31.8 1.1-2.4 1 33.2 1.1-59.5 1 39.6 1.1 1.6 1.1-15.5 1 19.2 1.1-.5 1.1-9.7 1 20.4 1.1-2.1 1.1-18.5 1-3.2 1.1 7 1 14 1.1-.2 1.1 .8 1-48.1 1.1 26.2 1.1 12.1 1 4.9 1.1-.3 1.1-7.5 1-10.7 1.1-38.4 1.1 27.4 1 5.3 1.1-28.9 1 59.7 1.1 3.7 1.1-6.4 1 10.5 1.1-23.3 1.1-6.2 1 25.1 1.1-4.3 1.1-13 1-6.3 1.1-.4 1 24.2 1.1-27.8 1.1 7 1 13.4 1.1-18.1 1.1 4.4 1 20.2 1.1-33.3 1.1 15.7 1 15.6 1.1-37.5 1 44.3 1.1-19.6 1.1 5.7 1 1.5 1.1-20.9 1.1 24.1 1-17.9 1.1 27.6 1.1-64.6 1 65.1 1.1-39.6 1.1 28.5 1-22.6 1.1 20.2 1-.1 1.1 7.7 1.1-13 1-11 1.1 3.2 1.1-2.7 1 23.8 1.1-13.5 1.1 20.3 1-66 1.1 38.1 1-11.7 1.1-3.6 1.1 12.2 1 16 1.1-14.7 1.1 12.9 1-3.7 1.1 5.4 1.1 15.8 1-24.2 1.1-38.3 1 44.8 1.1 23.1 1.1-12.2 1-14.2 1.1-4 1.1-.6 1 7.9 1.1 18.2 1.1-21.7 1 11.1 1.1-10.7 1 16.4 1.1-30.1 1.1 33.1 1-15.8 1.1-.8 1.1 25.7 1-21.9 1.1 13.7 1.1-19.2 1 2.1 1.1 23.3 1.1-.1 1-38.2 1.1 4.8 1 1.1 1.1 28.2 1.1-24.5 1-.7 1.1-6.6 1.1 30.9 1-60.7 1.1 35.7 1.1-6.4 1 43.1 1.1-31.9 1 9 1.1-12.7 1.1 32.7 1-29.2 1.1-16.6 1.1 1 1 12.7 1.1-15.1 1.1 13.7 1 16.9 1.1-14.3 1-3 1.1-28.6 1.1 30.6 1-.7 1.1-3.1 1.1-7.5 1-24.8 1.1 1.5 1.1 35.9 1-51.2 1.1 54.7 1.1-3.9 1-9.2 1.1 16 1 8.1 1.1 13.1 1.1-6.2 1 13.3 1.1-36.8 1.1-8.1 1 51.1 1.1-1.2 1.1 2.9" stroke="#ff0000" stroke-width="2.5"/>
<path d="M1157.2 1238.9l1.1 12.4 1.1-16.5 1-11.2 1.1 37.1 1.1-10.2 1 11.9 1.1-11.1 1.1 13.9 1 13.9 1.1-15.9 1 24 1.1-1.5 1.1-25.4 1 17.7 1.1 8 1.1 2.1 1-17.1 1.1 2.5 1.1 .7 1 21.1 1.1-17 1.1 11.4 1-6.3 1.1 16 1-16.5 1.1-6.4 1.1 13.9 1-9.9 1.1-19.1 1.1 30.3 1-11 1.1-8.9 1.1 28.3 1-18 1.1 9.8 1-2.2 1.1 1.5 1.1-9.7 1 21.4 1.1-3.9 1.1-10.1 1 8.4 1.1 2.2 1.1-.7 1-4.5 1.1-5.8 1 17.5 1.1-5.7 1.1 5.4 1-8 1.1-.2 1.1 4.2 1-2 1.1-15 1.1 12.5 1 9.5 1.1-18.9 1.1 1 1 4 1.1 7.6 1-14.6 1.1-4 1.1 17.4 1-14.6 1.1 22.1 1.1-8.5 1-2.5 1.1-4.4 1.1 11.3 1-18.1 1.1-.9 1 10.4 1.1-3.1 1.1 9.1 1 6.3 1.1-20.4 1.1 0 1 2.9 1.1-19.8 1.1 1.8 1 11.7 1.1 23.1 1-4 1.1-13.3 1.1-2 1 16.1 1.1-19.7 1.1 4.8 1 12.9 1.1 2.6 1.1 1.9 1-8.8 1.1-3.8 1 7.7 1.1-17.9 1.1 3.2 1 14.6 1.1-14.5 1.1 13 1 7.3 1.1-18 1.1 1 1 2.9 1.1 .8 1.1-7 1-.1 1.1 19.2 1-9.4 1.1 8.8 1.1-4.6 1 1.9 1.1-8.4 1.1 10.4 1-15.9 1.1 11.9 1.1 4.9 1-2.1 1.1-.3 1-6 1.1 14.3 1.1-24.1 1-15.2 1.1 28.3 1.1-12.3 1-1.5 1.1 22.8 1.1-12.9 1 10.5 1.1-20.1 1 19.7 1.1-20.2 1.1-11.8 1 27.5 1.1-11.6 1.1 14.4 1-12.1 1.1 1.7 1.1 13.8 1-29.5 1.1 26.1 1.1-15.6 1 14.2 1.1-1.7 1-9.9 1.1 2.3 1.1 11 1-2.1 1.1-3.4 1.1-14.6 1-.9 1.1 2.2 1.1 2.6 1 21 1.1-24.1 1 13.5 1.1-25.6 1.1-1.3 1 25.3 1.1-12.7 1.1-.1 1 11.8 1.1 8.1 1.1-20.4 1 24 1.1-1.1 1-16.3 1.1-15.5 1.1 19.7 1-5.8 1.1 16.7 1.1-30.6 1 19.8 1.1 2.5 1.1 10.5 1-16.7 1.1 4 1.1-7.3 1-3.8 1.1-14.9 1 39.4 1.1-9.6 1.1 1.2 1 5.1 1.1 .1 1.1-15.9 1 17.2 1.1-11.2 1.1-5.5 1-4.5 1.1-16.1 1 25.6 1.1 10.2 1.1 1.1 1-4.3 1.1-29.8 1.1 35.7 1-22.7 1.1 26.9 1.1-5.6 1-27.1 1.1 6 1 22.2 1.1 .5 1.1-3 1-7.7 1.1 13.7 1.1-21.9 1 13.6 1.1-14.2 1.1 6.4 1 13.1 1.1-14.3 1.1 9.5 1-21.2 1.1 9.8 1 10.4 1.1-3.3 1.1-5.1 1 10.7 1.1-8.1 1.1 8.6 1-20.3 1.1 10.2 1.1 1.3 1-.4 1.1-1.8 1 .4 1.1 20.6 1.1-17.9 1 8.8 1.1-15.4 1.1 27.5 1-17.8 1.1-4.7 1.1 2.3 1 12.7 1.1-28 1 10.5 1.1 20.2 1.1-.3 1-8.8 1.1 7.7 1.1-6.5 1 14.3 1.1 .1 1.1-5.7 1-10.9 1.1-23.5 1.1 31.1 1 7.1 1.1-15.9 1 15.6 1.1-3.6 1.1-8.8 1-11.3 1.1 4.6 1.1 .3 1-9.6 1.1 6.9 1.1 3.5 1 11 1.1 7.8 1 2.5 1.1-22 1.1 9 1-1.2 1.1-2.3 1.1 10.6 1-1.8 1.1 8.9 1.1-24.9 1 10.9 1.1-6.5 1 19.1 1.1-15.2 1.1-5.8 1 14.4 1.1-5.5 1.1-4.7 1 13.8 1.1-20 1.1 20.9 1-17.7 1.1 1.8 1-4.7 1.1 9.5 1.1 2 1-5.8 1.1 .3 1.1-.6 1 18.1 1.1-1.1 1.1-18.5 1 13.8 1.1 0 1.1-1.1 1-18.1 1.1 7.4 1 12 1.1 0 1.1-12 1 9.4 1.1 7.6 1.1-17.7 1 .8 1.1 4.7 1.1 2.9 1-15.8 1.1-2.3 1 5.7 1.1 18.6 1.1-19.7 1 18.8 1.1-2.4 1.1-10.1 1 10 1.1-22.1 1.1 8.7 1-17.2 1.1-5.4 1 4.9 1.1 24.7 1.1-3.5 1-15.5 1.1 2.5 1.1 .5 1 13.5 1.1-20.9 1.1 27 1-9.1 1.1 .5 1.1-5.9 1 13.2 1.1-12.7 1-2.6 1.1 10.4 1.1 3 1 15.9 1.1 3 1.1 1 1 1.8 1.1-10.9 1.1 8.6" stroke="#bf00bf" stroke-width="2.5"/>
<path d="M1157.2 1255.2l1.1-11.1 1.1 12.5 1-36.4 1.1 24.1 1.1-19.6 1 5.6 1.1-19.3 1.1 20.1 1 19.5 1.1 9.4 1 22 1.1-19.4 1.1 4.1 1 11 1.1 2.2 1.1 2 1 6.6 1.1 6.3 1.1 3.6 1 .4 1.1-5.2 1.1 15.9 1-5 1.1 5.5 1 0 1.1-20.3 1.1 18.5 1-12.8 1.1-.1 1.1 17.5 1-11.3 1.1-6.8 1.1 27 1-17.7 1.1-4.7 1-3.2 1.1-1.9 1.1 9.1 1 10.2 1.1-2.6 1.1 12.8 1-21.8 1.1-5.1 1.1 2.7 1 24.1 1.1-18.5 1-24.4 1.1 34.9 1.1-19.1 1 16 1.1-23.4 1.1 23.6 1 5.3 1.1 7.5 1.1-17.3 1 .1 1.1 4.4 1.1-11.7 1-3 1.1 25.4 1-16.6 1.1 2.2 1.1 18.1 1-24.8 1.1 2.8 1.1-3.4 1 5.8 1.1-3.4 1.1-5.6 1 25.3 1.1-41.3 1 32.8 1.1-24.9 1.1 14.7 1-2.4 1.1 1.7 1.1-13.5 1 22.6 1.1-11.9 1.1 17.2 1-18.6 1.1 3.8 1 1.3 1.1-7.4 1.1 12 1 8.5 1.1 6.4 1.1-15.3 1 12.3 1.1 .7 1.1-29.9 1 10.9 1.1 10.6 1-7.9 1.1 3.8 1.1-30.4 1 45.4 1.1-6 1.1-12 1 20.2 1.1 1 1.1 0 1 1.2 1.1-17.3 1.1-5.9 1 .9 1.1 2.1 1 15.6 1.1 6.4 1.1-26 1-20.5 1.1-.2 1.1 36.4 1 6.2 1.1-13.2 1.1 4.8 1-5.9 1.1-3.8 1 21.9 1.1-1.4 1.1-15.1 1 8.3 1.1-21.1 1.1 23.8 1-11 1.1 9.5 1.1-34.6 1 13.2 1.1 18.6 1-10.8 1.1 18.4 1.1-5.1 1-7.9 1.1-11.5 1.1 .4 1 15.8 1.1-8.5 1.1-9.4 1 24.3 1.1-3 1.1-3.4 1-23.9 1.1 6.1 1 13.1 1.1-1 1.1 9.1 1-38.1 1.1 31.3 1.1-32.1 1 18.7 1.1-6.5 1.1-2 1 26.6 1.1-2.8 1 1.7 1.1-.6 1.1 0 1-8.9 1.1-3.5 1.1-32.8 1 31.8 1.1-13.2 1.1 7.2 1 4.8 1.1-14.6 1 22.2 1.1 .8 1.1-10 1-4.8 1.1 22 1.1-28 1-13.1 1.1 34.4 1.1-20.7 1-2.5 1.1 14.1 1.1 11.1 1 .1 1.1 2.2 1-2.5 1.1-18 1.1 13 1 5.5 1.1-1.3 1.1-18.8 1-4.5 1.1 10.2 1.1 9 1-11.6 1.1 17.1 1-17.3 1.1 5.1 1.1 2.8 1 2.3 1.1-27.6 1.1 16.4 1 17.9 1.1-8.3 1.1-2.3 1-9.7 1.1-1.3 1 7.2 1.1 9 1.1 2.1 1 7.3 1.1-4.7 1.1-19.3 1 10.8 1.1 12.6 1.1-8.6 1 .9 1.1-7.9 1.1 19.4 1-24.9 1.1 14.6 1 6.3 1.1 5.6 1.1-7 1-22.5 1.1 23.8 1.1-19.9 1 1.6 1.1-.5 1.1-4.3 1 23.2 1.1 4 1-27.2 1.1 10.6 1.1-8.8 1 18.9 1.1 4.3 1.1-13.3 1-11.3 1.1 11.3 1.1-9.2 1 14.4 1.1-12.2 1 8.6 1.1 9.6 1.1-16.1 1-.6 1.1-22.5 1.1 17.1 1 4.6 1.1 20.7 1.1-10.6 1-6.1 1.1 12.7 1.1 .1 1-10.8 1.1 6.6 1-.9 1.1-4.6 1.1-4.1 1-3.9 1.1 5.3 1.1-11.9 1 28.3 1.1-21.1 1.1 13.7 1 9.7 1.1-30.3 1 19.7 1.1-9 1.1 14 1-21 1.1 3 1.1 9.9 1 11.7 1.1-19.3 1.1 15.3 1 3.9 1.1-17.9 1 .2 1.1 7.5 1.1 4.3 1 9.2 1.1-11.4 1.1-6.4 1 16.2 1.1-3.5 1.1 3.2 1-15.6 1.1 11.4 1 9.4 1.1-23.8 1.1 21.8 1-13.4 1.1-23.4 1.1 27.2 1-11.5 1.1 16.8 1.1 1.8 1-15.5 1.1 16.5 1.1 .8 1-24.2 1.1 .6 1 22.2 1.1-37.9 1.1 18.1 1-1.4 1.1 8.6 1.1-2.3 1-16.8 1.1 32.8 1.1-44.5 1 20.1 1.1 16.9 1-28.2 1.1 28.6 1.1-21.5 1 3.5 1.1-2 1.1 23.3 1-.5 1.1-5 1.1-22.2 1 13.7 1.1-13 1 16.7 1.1-17.6 1.1 10.7 1 12.1 1.1-15.3 1.1-3.4 1-1.2 1.1-16.8 1.1 24.2 1 .2 1.1-.3 1.1 14.8 1-42.4 1.1 31.6 1 6.3 1.1-4 1.1 8.5 1 6.4 1.1-15 1.1-4.2 1 28.4 1.1-12.1 1.1-27.7" stroke="#00bfbf" stroke-width="2.5"/>
<path d="M1157.2 1253l1.1-21.7 1.1 66.6 1-10 1.1 .3 1.1 11.2 1-34.1 1.1 18.6 1.1-12 1 3 1.1 9.9 1 30.2 1.1 13.4 1.1-5 1-35.6 1.1 36 1.1-8.1 1-7.4 1.1-32.1 1.1 50.6 1-2.5 1.1-17.4 1.1-23.2 1 49.8 1.1-7.4 1-8 1.1 3.3 1.1-6.2 1 10.8 1.1-26.5 1.1 15 1 5.8 1.1-39.1 1.1 35.5 1 7.7 1.1-2.9 1 8.7 1.1-6.1 1.1 2.2 1-9.1 1.1 8.2 1.1 6.7 1-30.9 1.1 13.9 1.1 9.5 1-35.9 1.1 49.3 1-9.9 1.1-26.5 1.1 13.7 1-6.9 1.1 8 1.1-6.1 1 22.6 1.1-22.6 1.1 14.4 1 3.3 1.1 12 1.1-20.6 1-13.5 1.1 14.6 1-3.9 1.1 8.2 1.1-11.9 1 15 1.1-19.4 1.1 20.8 1-22.3 1.1 11.6 1.1 9.1 1-8.1 1.1-7.9 1 13.3 1.1-18.5 1.1 8.6 1 9.1 1.1-27.1 1.1 18.7 1 20.9 1.1-29 1.1 7.1 1 6.7 1.1 17.9 1-3.8 1.1-18.4 1.1 8 1-10.8 1.1 22.1 1.1-6.4 1 9.1 1.1-24.7 1.1 .8 1 4.8 1.1 19.9 1-53.4 1.1 21.6 1.1 21.8 1-19.6 1.1 4.7 1.1 4.6 1 9.6 1.1-10.6 1.1-22.9 1 37.1 1.1-6.4 1.1-2.1 1-35.3 1.1 41.8 1-1.8 1.1 8.2 1.1-8.6 1 11.2 1.1-16.2 1.1-14.1 1 1.9 1.1-.4 1.1 8.3 1-11 1.1 26.3 1-1.2 1.1-44.9 1.1 45 1-19.7 1.1 15.8 1.1-25.3 1 25 1.1-5 1.1 14.2 1-32.1 1.1-18.1 1 45 1.1-31.6 1.1 12.9 1 11.9 1.1-40.5 1.1 49.4 1-12.3 1.1-15.1 1.1-6 1 18.7 1.1-11.8 1.1-23.2 1 38.5 1.1 12.8 1-3.5 1.1-32.4 1.1-17.6 1 39.1 1.1-2.4 1.1 8.2 1-13.9 1.1 20 1.1-15.9 1-12.3 1.1-3.9 1 31.6 1.1-18.4 1.1-25.7 1 26.2 1.1-9.1 1.1 8.2 1-6.9 1.1-2.5 1.1 27 1-31.8 1.1 13.9 1-5 1.1-1.7 1.1-4.7 1 27.7 1.1 5.1 1.1-19.2 1-17.3 1.1 34 1.1-7.2 1 1 1.1-13.7 1.1-10.6 1 18.3 1.1-19.7 1 4.1 1.1 12.9 1.1-23.3 1 28.7 1.1-2 1.1-21.1 1 4.8 1.1 26.7 1.1-26 1 15.1 1.1 6.5 1-23 1.1-25.7 1.1 55.4 1-49.4 1.1 37.3 1.1-13 1 8.4 1.1-3.2 1.1-12.2 1 18.2 1.1 10.1 1-23.2 1.1 18.7 1.1 10.1 1-12.1 1.1-13.5 1.1-1.6 1 4.9 1.1 24.5 1.1-34.9 1 11.6 1.1-19.4 1.1 9 1 11.7 1.1-34.8 1 31.5 1.1-17 1.1 22.6 1 13.6 1.1 6.9 1.1-5.3 1-.5 1.1-11.9 1.1-16.5 1 15.4 1.1 18.5 1-27.7 1.1-7.1 1.1 33.3 1-.8 1.1 1.5 1.1-20.8 1-29.3 1.1 24.5 1.1 25.1 1 1.3 1.1-.2 1-13.7 1.1 6.4 1.1 8 1-17.5 1.1-14.1 1.1 5.4 1 2.6 1.1-9.3 1.1 32.6 1-12.6 1.1 12 1.1-53.3 1 15 1.1 38.4 1-3.4 1.1 3.4 1.1-5.9 1-6.1 1.1-1.5 1.1 13.9 1-31.3 1.1 3.6 1.1-22.6 1 35.2 1.1-2.7 1 8.7 1.1-21.4 1.1 30.3 1-9.3 1.1 2.9 1.1-21.1 1 26.6 1.1-13.4 1.1-11.5 1 14.6 1.1-14.1 1-.4 1.1 17 1.1-.1 1-2.1 1.1 6.9 1.1-32.4 1 7.5 1.1 28.5 1.1-24.6 1 16.9 1.1-9.8 1-4.2 1.1 19.9 1.1-4.1 1-3.9 1.1-12.6 1.1 20.9 1-28.3 1.1 28.4 1.1-7 1 9.1 1.1-24.2 1.1-4.7 1 28.1 1.1 0 1-26.4 1.1 25.3 1.1-24.6 1 4.3 1.1-5.6 1.1 27.1 1-37 1.1 12.4 1.1-2.3 1 24.1 1.1-18 1 4.4 1.1-8 1.1 12.6 1-14.8 1.1 21.5 1.1-16.8 1-4.5 1.1-2.6 1.1 25.2 1-5.8 1.1 .9 1-6.5 1.1-9 1.1 24.7 1-15.9 1.1 10.9 1.1 4.9 1-8.4 1.1-23.9 1.1 15.3 1 10.3 1.1-23.7 1.1 21.6 1-17.3 1.1-29.5 1 53.3 1.1-15.6 1.1-15.4 1 25.1 1.1-23.8 1.1 19.6 1 9.8 1.1-13.2 1.1 8.2" stroke="#0000ff" stroke-width="2.5"/>
</g></svg>
<svg x="1664.4" y="1032" width="401.5" height="312.8" viewBox="1664.4 1032 401.5 312.8" overflow="hidden"><g fill="none" stroke-linejoin="round">
<path d="M1682.7 1221.7l1 12.8 1.1-20.8 1-3 1.1 28.5 1.1-31.2 1 11.2 1.1-2.5 1.1 18 1-14.3 1.1 7.3 1.1 22.2 1-11.5 1.1 33.7 1 14.1 1.1-19.6 1.1-11.5 1 34.6 1.1-33 1.1 7.2 1 1.6 1.1 31.6 1.1-15.9 1-14.1 1.1-12.9 1.1 15.9 1 32.1 1.1 4.6 1-8.3 1.1-16.1 1.1 21 1-9.7 1.1 15.9 1.1-.2 1-38.7 1.1 39.2 1.1-28 1-4.3 1.1 13.5 1.1 4.1 1 14.1 1.1-30.6 1 22.7 1.1-44.9 1.1 17.4 1 .3 1.1 28.6 1.1-18.1 1-2.5 1.1-4.8 1.1 .8 1 7.6 1.1 17 1-3.2 1.1-10.5 1.1-9 1 31.4 1.1-32.4 1.1 27.9 1-.7 1.1-3.8 1.1-14.9 1 6.8 1.1 5.7 1.1-10.1 1-18.4 1.1 4.7 1 11.4 1.1 13.6 1.1-9.6 1-40.8 1.1 31.6 1.1-11.3 1 25.2 1.1-10.4 1.1 4.8 1 12.3 1.1 1.8 1.1 4.4 1-12.5 1.1-11 1 24.2 1.1-18.9 1.1 17.7 1-.9 1.1-12.7 1.1-16.3 1 2.3 1.1 2.7 1.1 14.5 1 1.4 1.1-4.5 1.1-24.9 1 2 1.1 18.1 1 11.9 1.1-6 1.1 12.2 1-53.7 1.1-7 1.1 33.8 1-7.7 1.1 2.5 1.1 1 1 27.4 1.1 9.9 1-59.4 1.1 5.8 1.1-5.2 1 52.8 1.1 8.9 1.1-1.3 1-11.9 1.1-15.2 1.1-6.1 1 14.2 1.1 19.1 1.1-29.3 1-1.1 1.1-5.5 1-4.7 1.1 16.2 1.1 10.1 1-1.5 1.1-3.9 1.1-10.9 1-4.1 1.1-12.3 1.1-8.2 1 25.5 1.1-3.9 1.1-4.2 1 13.3 1.1 17.9 1-55.4 1.1 45.4 1.1-12.3 1-4.5 1.1 23.8 1.1-52.6 1 41.7 1.1 11.8 1.1-46.2 1 48 1.1-16.7 1.1 .7 1-10.6 1.1-6.2 1-12.1 1.1-15.8 1.1 31.2 1-5.6 1.1 .9 1.1 1.4 1 20.1 1.1-6.7 1.1 7.4 1-.9 1.1-16.8 1-17.6 1.1 .6 1.1 7.9 1 25.7 1.1-21.9 1.1-8.5 1 30.6 1.1-9.6 1.1-40.5 1 31.4 1.1 27.5 1.1-3 1 6.1 1.1-34.1 1 2.1 1.1 9.9 1.1-11.8 1 25.8 1.1-14.7 1.1 15.8 1-30.3 1.1 20.4 1.1 .6 1 14.1 1.1-23.7 1.1 27.9 1-13.6 1.1 8.9 1-28 1.1-2.1 1.1 29.2 1-52.3 1.1 34.9 1.1 1.3 1-13.6 1.1 16.8 1.1-.3 1-8.6 1.1 18 1-1.9 1.1-16.2 1.1-2.9 1 6.1 1.1 12.4 1.1-.2 1 .7 1.1-42.3 1.1 23.1 1 10.6 1.1 4.3 1.1-.2 1-6.7 1.1-9.3 1-33.9 1.1 24.1 1.1 4.7 1-25.4 1.1 52.5 1.1 3.3 1-5.7 1.1 9.3 1.1-20.5 1-5.5 1.1 22.1 1.1-3.8 1-11.4 1.1-5.5 1-.4 1.1 21.3 1.1-24.5 1 6.2 1.1 11.8 1.1-15.9 1 3.8 1.1 17.8 1.1-29.3 1 13.8 1.1 13.7 1.1-33 1 39 1.1-17.2 1 5 1.1 1.3 1.1-18.4 1 21.2 1.1-15.7 1.1 24.2 1-56.8 1.1 57.3 1.1-34.8 1 25 1.1-19.8 1 17.7 1.1-.1 1.1 6.8 1-11.4 1.1-9.7 1.1 2.8 1-2.4 1.1 21 1.1-12 1 18 1.1-58.2 1.1 33.6 1-10.3 1.1-3.2 1 10.8 1.1 14 1.1-12.9 1 11.3 1.1-3.2 1.1 4.8 1 13.9 1.1-21.3 1.1-33.7 1 39.4 1.1 20.3 1.1-10.7 1-12.5 1.1-3.5 1-.6 1.1 7 1.1 16 1-19.1 1.1 9.8 1.1-9.4 1 14.4 1.1-26.5 1.1 29.2 1-14 1.1-.6 1.1 22.6 1-19.3 1.1 12.1 1-17 1.1 1.9 1.1 20.4 1 0 1.1-33.6 1.1 4.2 1 1 1.1 24.8 1.1-21.6 1-.6 1.1-5.8 1 27.2 1.1-53.4 1.1 31.4 1-5.6 1.1 37.9 1.1-28.1 1 7.9 1.1-11.2 1.1 28.8 1-25.6 1.1-14.7 1.1 .9 1 11.2 1.1-13.3 1 12 1.1 15 1.1-12.7 1-2.6 1.1-25.2 1.1 27 1-.7 1.1-2.7 1.1-6.6 1-21.8 1.1 1.3 1.1 31.6 1-45 1.1 48.1 1-3.5 1.1-8 1.1 14 1 7.2 1.1 11.5 1.1-5.4 1 11.7 1.1-32.5 1.1-7.1 1 45 1.1-1.1 1.1 2.6" stroke="#ff0000" stroke-width="2.5"/>
<path d="M1682.7 1251.6l1 10.9 1.1-14.5 1-9.8 1.1 32.6 1.1-9 1 10.5 1.1-9.8 1.1 12.3 1 12.2 1.1-14 1.1 21.1 1-1.3 1.1-22.3 1 15.5 1.1 7 1.1 1.9 1-15.1 1.1 2.2 1.1 .7 1 18.6 1.1-15 1.1 10 1-5.6 1.1 14.2 1.1-14.5 1-5.7 1.1 12.2 1-8.7 1.1-16.8 1.1 26.7 1-9.7 1.1-7.8 1.1 24.9 1-15.9 1.1 8.7 1.1-2 1 1.3 1.1-8.5 1.1 18.8 1-3.4 1.1-8.9 1 7.4 1.1 1.9 1.1-.6 1-4 1.1-5.1 1.1 15.4 1-5 1.1 4.8 1.1-7.1 1-.1 1.1 3.7 1-1.8 1.1-13.2 1.1 11 1 8.3 1.1-16.6 1.1 1 1 3.4 1.1 6.7 1.1-12.8 1-3.5 1.1 15.3 1.1-12.9 1 19.4 1.1-7.4 1-2.2 1.1-3.9 1.1 9.9 1-15.9 1.1-.7 1.1 9.1 1-2.8 1.1 8.1 1.1 5.6 1-18 1.1 0 1.1 2.5 1-17.4 1.1 1.6 1 10.3 1.1 20.3 1.1-3.5 1-11.7 1.1-1.8 1.1 14.2 1-17.4 1.1 4.2 1.1 11.4 1 2.3 1.1 1.6 1.1-7.7 1-3.3 1.1 6.8 1-15.8 1.1 2.8 1.1 12.9 1-12.8 1.1 11.5 1.1 6.4 1-15.8 1.1 .8 1.1 2.6 1 .7 1.1-6.2 1-.1 1.1 16.9 1.1-8.3 1 7.8 1.1-4 1.1 1.6 1-7.4 1.1 9.2 1.1-14 1 10.4 1.1 4.4 1.1-1.8 1-.3 1.1-5.3 1 12.6 1.1-21.2 1.1-13.4 1 24.9 1.1-10.8 1.1-1.3 1 20 1.1-11.4 1.1 9.3 1-17.7 1.1 17.4 1.1-17.8 1-10.4 1.1 24.2 1-10.2 1.1 12.7 1.1-10.7 1 1.5 1.1 12.2 1.1-26 1 23 1.1-13.8 1.1 12.5 1-1.5 1.1-8.7 1.1 2 1 9.7 1.1-1.8 1-3 1.1-12.9 1.1-.8 1 2 1.1 2.2 1.1 18.5 1-21.2 1.1 11.9 1.1-22.5 1-1.1 1.1 22.2 1-11.2 1.1 0 1.1 10.3 1 7.2 1.1-18 1.1 21.2 1-1 1.1-14.4 1.1-13.6 1 17.3 1.1-5.1 1.1 14.7 1-26.9 1.1 17.4 1 2.2 1.1 9.3 1.1-14.7 1 3.5 1.1-6.5 1.1-3.3 1-13.1 1.1 34.6 1.1-8.4 1 1.1 1.1 4.5 1.1 0 1-14 1.1 15.1 1-9.8 1.1-4.8 1.1-4 1-14.1 1.1 22.5 1.1 8.9 1 1 1.1-3.8 1.1-26.2 1 31.4 1.1-20 1 23.7 1.1-4.9 1.1-23.8 1 5.3 1.1 19.5 1.1 .4 1-2.7 1.1-6.7 1.1 12.1 1-19.3 1.1 12 1.1-12.5 1 5.6 1.1 11.5 1-12.5 1.1 8.3 1.1-18.7 1 8.7 1.1 9.1 1.1-2.9 1-4.4 1.1 9.3 1.1-7.1 1 7.6 1.1-17.9 1.1 8.9 1 1.2 1.1-.4 1-1.5 1.1 .3 1.1 18.2 1-15.8 1.1 7.8 1.1-13.6 1 24.2 1.1-15.6 1.1-4.2 1 2.1 1.1 11.1 1.1-24.7 1 9.3 1.1 17.8 1-.3 1.1-7.7 1.1 6.8 1-5.7 1.1 12.5 1.1 .1 1-5 1.1-9.6 1.1-20.7 1 27.4 1.1 6.2 1-13.9 1.1 13.7 1.1-3.2 1-7.7 1.1-10 1.1 4 1 .3 1.1-8.4 1.1 6.1 1 3 1.1 9.7 1.1 6.9 1 2.2 1.1-19.4 1 7.9 1.1-1 1.1-2.1 1 9.4 1.1-1.6 1.1 7.8 1-21.9 1.1 9.6 1.1-5.7 1 16.8 1.1-13.4 1.1-5.1 1 12.7 1.1-4.9 1-4.1 1.1 12.2 1.1-17.7 1 18.5 1.1-15.6 1.1 1.6 1-4.2 1.1 8.4 1.1 1.8 1-5.2 1.1 .3 1.1-.5 1 15.9 1.1-.9 1-16.3 1.1 12.1 1.1 0 1-.9 1.1-16 1.1 6.5 1 10.6 1.1 0 1.1-10.6 1 8.3 1.1 6.7 1-15.6 1.1 .7 1.1 4.2 1 2.5 1.1-13.9 1.1-2 1 5 1.1 16.4 1.1-17.4 1 16.5 1.1-2 1.1-8.9 1 8.7 1.1-19.4 1 7.7 1.1-15.2 1.1-4.8 1 4.4 1.1 21.7 1.1-3 1-13.7 1.1 2.2 1.1 .4 1 11.9 1.1-18.4 1.1 23.8 1-8 1.1 .4 1-5.2 1.1 11.6 1.1-11.2 1-2.2 1.1 9.1 1.1 2.7 1 14 1.1 2.6 1.1 .9 1 1.6 1.1-9.6 1.1 7.5" stroke="#bf00bf" stroke-width="2.5"/>
<path d="M1682.7 1265.9l1-9.7 1.1 11 1-32 1.1 21.1 1.1-17.2 1 5 1.1-17.1 1.1 17.7 1 17.2 1.1 8.3 1.1 19.3 1-17 1.1 3.6 1 9.6 1.1 2 1.1 1.7 1 5.9 1.1 5.5 1.1 3.2 1 .3 1.1-4.6 1.1 14 1-4.3 1.1 4.8 1.1-.1 1-17.8 1.1 16.3 1-11.2 1.1-.1 1.1 15.3 1-9.9 1.1-6 1.1 23.8 1-15.6 1.1-4.2 1.1-2.7 1-1.7 1.1 8 1.1 9 1-2.4 1.1 11.4 1-19.2 1.1-4.5 1.1 2.3 1 21.3 1.1-16.4 1.1-21.4 1 30.7 1.1-16.8 1.1 14.1 1-20.6 1.1 20.8 1 4.7 1.1 6.5 1.1-15.2 1 .1 1.1 3.8 1.1-10.3 1-2.6 1.1 22.3 1.1-14.5 1 1.9 1.1 16 1.1-21.9 1 2.5 1.1-3 1 5.1 1.1-3 1.1-4.9 1 22.2 1.1-36.3 1.1 28.9 1-22 1.1 13 1.1-2.1 1 1.4 1.1-11.8 1.1 19.9 1-10.5 1.1 15.1 1-16.3 1.1 3.3 1.1 1.2 1-6.6 1.1 10.6 1.1 7.4 1 5.7 1.1-13.5 1.1 10.8 1 .6 1.1-26.2 1.1 9.5 1 9.3 1.1-6.9 1 3.4 1.1-26.8 1.1 40 1-5.3 1.1-10.6 1.1 17.8 1 .9 1.1 0 1.1 1.1 1-15.3 1.1-5.1 1 .7 1.1 1.9 1.1 13.7 1 5.6 1.1-22.8 1.1-18.1 1-.2 1.1 32.1 1.1 5.4 1-11.6 1.1 4.2 1.1-5.2 1-3.3 1.1 19.3 1-1.3 1.1-13.3 1.1 7.3 1-18.5 1.1 21 1.1-9.8 1 8.4 1.1-30.5 1.1 11.7 1 16.3 1.1-9.5 1.1 16.3 1-4.6 1.1-6.9 1-10.1 1.1 .3 1.1 14 1-7.6 1.1-8.3 1.1 21.5 1-2.6 1.1-3.1 1.1-21 1 5.3 1.1 11.6 1.1-.9 1 8.1 1.1-33.6 1 27.6 1.1-28.3 1.1 16.5 1-5.8 1.1-1.7 1.1 23.4 1-2.5 1.1 1.5 1.1-.5 1 0 1.1-7.8 1-3.1 1.1-28.9 1.1 28 1-11.6 1.1 6.3 1.1 4.3 1-12.9 1.1 19.5 1.1 .8 1-8.8 1.1-4.3 1.1 19.4 1-24.7 1.1-11.5 1 30.2 1.1-18.2 1.1-2.2 1 12.5 1.1 9.7 1.1 .1 1 2 1.1-2.3 1.1-15.8 1 11.5 1.1 4.8 1.1-1.2 1-16.5 1.1-4 1 9 1.1 7.9 1.1-10.2 1 15.1 1.1-15.3 1.1 4.5 1 2.5 1.1 2 1.1-24.3 1 14.5 1.1 15.7 1-7.2 1.1-2.1 1.1-8.5 1-1.2 1.1 6.4 1.1 7.8 1 1.9 1.1 6.4 1.1-4.1 1-17 1.1 9.5 1.1 11.1 1-7.6 1.1 .8 1-6.9 1.1 17.1 1.1-21.9 1 12.8 1.1 5.6 1.1 4.8 1-6.1 1.1-19.8 1.1 20.9 1-17.5 1.1 1.5 1.1-.5 1-3.8 1.1 20.4 1 3.6 1.1-24 1.1 9.3 1-7.7 1.1 16.6 1.1 3.8 1-11.6 1.1-10 1.1 9.9 1-8 1.1 12.6 1.1-10.8 1 7.6 1.1 8.4 1-14.1 1.1-.5 1.1-19.9 1 15.1 1.1 4.1 1.1 18.2 1-9.3 1.1-5.4 1.1 11.2 1 0 1.1-9.5 1 5.9 1.1-.8 1.1-4.1 1-3.6 1.1-3.4 1.1 4.7 1-10.6 1.1 25 1.1-18.6 1 12.1 1.1 8.5 1.1-26.7 1 17.3 1.1-7.8 1 12.3 1.1-18.5 1.1 2.6 1 8.7 1.1 10.3 1.1-17 1 13.5 1.1 3.4 1.1-15.7 1 .2 1.1 6.6 1.1 3.7 1 8.1 1.1-10 1-5.6 1.1 14.2 1.1-3 1 2.8 1.1-13.7 1.1 10 1 8.3 1.1-20.9 1.1 19.1 1-11.8 1.1-20.6 1.1 24 1-10.1 1.1 14.7 1 1.6 1.1-13.7 1.1 14.6 1 .6 1.1-21.2 1.1 .6 1 19.4 1.1-33.3 1.1 15.9 1-1.2 1.1 7.6 1-2.1 1.1-14.7 1.1 28.8 1-39.1 1.1 17.7 1.1 14.8 1-24.8 1.1 25.2 1.1-18.9 1 3 1.1-1.7 1.1 20.5 1-.5 1.1-4.4 1-19.5 1.1 12.1 1.1-11.5 1 14.7 1.1-15.4 1.1 9.4 1 10.6 1.1-13.5 1.1-2.9 1-1.2 1.1-14.7 1.1 21.3 1 .1 1.1-.2 1 13 1.1-37.3 1.1 27.8 1 5.6 1.1-3.6 1.1 7.5 1 5.7 1.1-13.3 1.1-3.6 1 25 1.1-10.7 1.1-24.4" stroke="#00bfbf" stroke-width="2.5"/>
<path d="M1682.7 1264l1-19 1.1 58.6 1-8.8 1.1 .2 1.1 9.9 1-30 1.1 16.3 1.1-10.5 1 2.6 1.1 8.7 1.1 26.6 1 11.7 1.1-4.3 1-31.4 1.1 31.7 1.1-7.1 1-6.5 1.1-28.2 1.1 44.5 1-2.2 1.1-15.4 1.1-20.4 1 43.9 1.1-6.5 1.1-7.1 1 2.9 1.1-5.4 1 9.4 1.1-23.3 1.1 13.2 1 5.1 1.1-34.3 1.1 31.2 1 6.7 1.1-2.5 1.1 7.6 1-5.3 1.1 1.9 1.1-8 1 7.2 1.1 5.9 1-27.2 1.1 12.2 1.1 8.4 1-31.5 1.1 43.3 1.1-8.7 1-23.4 1.1 12.1 1.1-6.1 1 7.1 1.1-5.3 1 19.8 1.1-19.9 1.1 12.7 1 2.9 1.1 10.6 1.1-18.2 1-11.8 1.1 12.8 1.1-3.4 1 7.2 1.1-10.5 1.1 13.2 1-17.1 1.1 18.4 1-19.6 1.1 10.1 1.1 8.1 1-7.2 1.1-6.9 1.1 11.7 1-16.3 1.1 7.6 1.1 7.9 1-23.7 1.1 16.4 1.1 18.4 1-25.5 1.1 6.2 1 5.9 1.1 15.8 1.1-3.4 1-16.2 1.1 7 1.1-9.5 1 19.5 1.1-5.6 1.1 8 1-21.8 1.1 .7 1.1 4.2 1 17.6 1.1-47 1 19 1.1 19.2 1.1-17.3 1 4.2 1.1 4 1.1 8.4 1-9.3 1.1-20.1 1.1 32.7 1-5.7 1.1-1.8 1-31.1 1.1 36.8 1.1-1.6 1 7.2 1.1-7.6 1.1 9.9 1-14.3 1.1-12.4 1.1 1.7 1-.4 1.1 7.4 1.1-9.7 1 23.1 1.1-1.1 1-39.5 1.1 39.7 1.1-17.4 1 13.9 1.1-22.3 1.1 22.1 1-4.4 1.1 12.4 1.1-28.2 1-16 1.1 39.7 1.1-27.8 1 11.3 1.1 10.5 1-35.7 1.1 43.5 1.1-10.8 1-13.3 1.1-5.3 1.1 16.5 1-10.4 1.1-20.4 1.1 33.9 1 11.2 1.1-3.1 1.1-28.4 1-15.5 1.1 34.4 1-2.2 1.1 7.2 1.1-12.2 1 17.7 1.1-14.1 1.1-10.8 1-3.5 1.1 27.9 1.1-16.2 1-22.6 1.1 23 1-8 1.1 7.3 1.1-6.1 1-2.2 1.1 23.7 1.1-28 1 12.3 1.1-4.4 1.1-1.5 1-4.2 1.1 24.4 1.1 4.5 1-16.8 1.1-15.3 1 29.9 1.1-6.3 1.1 .9 1-12.1 1.1-9.3 1.1 16 1-17.2 1.1 3.6 1.1 11.3 1-20.5 1.1 25.2 1.1-1.7 1-18.6 1.1 4.2 1 23.6 1.1-22.9 1.1 13.2 1 5.8 1.1-20.2 1.1-22.7 1 48.8 1.1-43.5 1.1 32.8 1-11.4 1.1 7.4 1-2.9 1.1-10.7 1.1 16 1 8.9 1.1-20.4 1.1 16.5 1 8.8 1.1-10.6 1.1-11.8 1-1.5 1.1 4.3 1.1 21.5 1-30.7 1.1 10.2 1-17 1.1 7.9 1.1 10.3 1-30.6 1.1 27.7 1.1-14.9 1 19.8 1.1 12 1.1 6.1 1-4.7 1.1-.4 1.1-10.4 1-14.6 1.1 13.5 1 16.3 1.1-24.3 1.1-6.3 1 29.3 1.1-.7 1.1 1.3 1-18.2 1.1-25.9 1.1 21.6 1 22.1 1.1 1.1 1.1-.1 1-12.1 1.1 5.6 1 7 1.1-15.4 1.1-12.3 1 4.7 1.1 2.3 1.1-8.2 1 28.7 1.1-11.1 1.1 10.6 1-46.9 1.1 13.1 1 33.9 1.1-3 1.1 3 1-5.2 1.1-5.4 1.1-1.3 1 12.2 1.1-27.6 1.1 3.2 1-19.9 1.1 31.1 1.1-2.4 1 7.6 1.1-18.8 1 26.7 1.1-8.2 1.1 2.5 1-18.6 1.1 23.4 1.1-11.8 1-10 1.1 12.8 1.1-12.4 1-.4 1.1 15 1.1-.1 1-1.9 1.1 6.1 1-28.5 1.1 6.6 1.1 25.1 1-21.7 1.1 14.9 1.1-8.6 1-3.7 1.1 17.5 1.1-3.6 1-3.4 1.1-11.1 1.1 18.3 1-24.9 1.1 25 1-6.1 1.1 8 1.1-21.3 1-4.1 1.1 24.7 1.1 0 1-23.2 1.1 22.2 1.1-21.6 1 3.8 1.1-4.9 1 23.8 1.1-32.5 1.1 10.8 1-2 1.1 21.2 1.1-15.8 1 3.9 1.1-7.1 1.1 11.1 1-13 1.1 18.9 1.1-14.8 1-3.9 1.1-2.4 1 22.2 1.1-5.1 1.1 .9 1-5.8 1.1-7.9 1.1 21.7 1-13.9 1.1 9.5 1.1 4.4 1-7.5 1.1-21 1.1 13.5 1 9.1 1.1-20.9 1 19 1.1-15.2 1.1-26 1 46.9 1.1-13.7 1.1-13.6 1 22.1 1.1-20.9 1.1 17.2 1 8.6 1.1-11.5 1.1 7.2" stroke="#0000ff" stroke-width="2.5"/>
</g></svg>
<line x1="99.3" y1="1341.7" x2="99.3" y2="1333.4" class="tk"/>
<text transform="translate(99.3 1367.3) scale(1 1.05)" font-family="'Liberation Serif', serif" font-size="24" text-anchor="middle">0</text>
<line x1="254.5" y1="1341.7" x2="254.5" y2="1333.4" class="tk"/>
<text transform="translate(254.5 1367.3) scale(1 1.05)" font-family="'Liberation Serif', serif" font-size="24" text-anchor="middle">1000</text>
<line x1="409.71" y1="1341.7" x2="409.71" y2="1333.4" class="tk"/>
<text transform="translate(409.71 1367.3) scale(1 1.05)" font-family="'Liberation Serif', serif" font-size="24" text-anchor="middle">2000</text>
<line x1="83" y1="1341.7" x2="91.3" y2="1341.7" class="tk"/>
<text transform="translate(74.6 1350.02) scale(1 1.05)" font-family="'Liberation Serif', serif" font-size="24" text-anchor="end">0</text>
<line x1="83" y1="1281.41" x2="91.3" y2="1281.41" class="tk"/>
<text transform="translate(74.6 1289.73) scale(1 1.05)" font-family="'Liberation Serif', serif" font-size="24" text-anchor="end">20</text>
<line x1="83" y1="1221.13" x2="91.3" y2="1221.13" class="tk"/>
<text transform="translate(74.6 1229.44) scale(1 1.05)" font-family="'Liberation Serif', serif" font-size="24" text-anchor="end">40</text>
<line x1="83" y1="1160.84" x2="91.3" y2="1160.84" class="tk"/>
<text transform="translate(74.6 1169.16) scale(1 1.05)" font-family="'Liberation Serif', serif" font-size="24" text-anchor="end">60</text>
<line x1="83" y1="1100.56" x2="91.3" y2="1100.56" class="tk"/>
<text transform="translate(74.6 1108.87) scale(1 1.05)" font-family="'Liberation Serif', serif" font-size="24" text-anchor="end">80</text>
<line x1="83" y1="1040.27" x2="91.3" y2="1040.27" class="tk"/>
<text transform="translate(74.6 1048.59) scale(1 1.05)" font-family="'Liberation Serif', serif" font-size="24" text-anchor="end">100</text>
<text transform="translate(286.4 1402.8) scale(1 1.03)" font-family="'Liberation Serif', serif" font-size="29" text-anchor="middle">Time(s)</text>
<text transform="translate(23 1185.95) rotate(-90) scale(1.025 1)" font-family="'Liberation Serif', serif" font-size="29" text-anchor="middle">SOC(%)</text>
<line x1="605.26" y1="1344.7" x2="605.26" y2="1336.4" class="tk"/>
<text transform="translate(605.26 1370.3) scale(1 1.05)" font-family="'Liberation Serif', serif" font-size="24" text-anchor="middle">0</text>
<line x1="767.76" y1="1344.7" x2="767.76" y2="1336.4" class="tk"/>
<text transform="translate(767.76 1370.3) scale(1 1.05)" font-family="'Liberation Serif', serif" font-size="24" text-anchor="middle">1000</text>
<line x1="930.25" y1="1344.7" x2="930.25" y2="1336.4" class="tk"/>
<text transform="translate(930.25 1370.3) scale(1 1.05)" font-family="'Liberation Serif', serif" font-size="24" text-anchor="middle">2000</text>
<line x1="588.2" y1="1344.7" x2="596.5" y2="1344.7" class="tk"/>
<text transform="translate(579.8 1353.02) scale(1 1.05)" font-family="'Liberation Serif', serif" font-size="24" text-anchor="end">0</text>
<line x1="588.2" y1="1281.88" x2="596.5" y2="1281.88" class="tk"/>
<text transform="translate(579.8 1290.2) scale(1 1.05)" font-family="'Liberation Serif', serif" font-size="24" text-anchor="end">1</text>
<line x1="588.2" y1="1219.06" x2="596.5" y2="1219.06" class="tk"/>
<text transform="translate(579.8 1227.38) scale(1 1.05)" font-family="'Liberation Serif', serif" font-size="24" text-anchor="end">2</text>
<line x1="588.2" y1="1156.24" x2="596.5" y2="1156.24" class="tk"/>
<text transform="translate(579.8 1164.56) scale(1 1.05)" font-family="'Liberation Serif', serif" font-size="24" text-anchor="end">3</text>
<line x1="588.2" y1="1093.42" x2="596.5" y2="1093.42" class="tk"/>
<text transform="translate(579.8 1101.74) scale(1 1.05)" font-family="'Liberation Serif', serif" font-size="24" text-anchor="end">4</text>
<line x1="588.2" y1="1030.6" x2="596.5" y2="1030.6" class="tk"/>
<text transform="translate(579.8 1038.92) scale(1 1.05)" font-family="'Liberation Serif', serif" font-size="24" text-anchor="end">5</text>
<text transform="translate(801.15 1405.8) scale(1 1.03)" font-family="'Liberation Serif', serif" font-size="29" text-anchor="middle">Time(s)</text>
<text transform="translate(548.5 1189.05) rotate(-90) scale(1.025 1)" font-family="'Liberation Serif', serif" font-size="29" text-anchor="middle">Absolute error(%)</text>
<line x1="1157.25" y1="1344.8" x2="1157.25" y2="1336.5" class="tk"/>
<text transform="translate(1157.25 1370.4) scale(1 1.05)" font-family="'Liberation Serif', serif" font-size="24" text-anchor="middle">0</text>
<line x1="1263.63" y1="1344.8" x2="1263.63" y2="1336.5" class="tk"/>
<text transform="translate(1263.63 1370.4) scale(1 1.05)" font-family="'Liberation Serif', serif" font-size="24" text-anchor="middle">100</text>
<line x1="1370.02" y1="1344.8" x2="1370.02" y2="1336.5" class="tk"/>
<text transform="translate(1370.02 1370.4) scale(1 1.05)" font-family="'Liberation Serif', serif" font-size="24" text-anchor="middle">200</text>
<line x1="1476.41" y1="1344.8" x2="1476.41" y2="1336.5" class="tk"/>
<text transform="translate(1476.41 1370.4) scale(1 1.05)" font-family="'Liberation Serif', serif" font-size="24" text-anchor="middle">300</text>
<line x1="1139" y1="1344.8" x2="1147.3" y2="1344.8" class="tk"/>
<text transform="translate(1130.6 1353.12) scale(1 1.05)" font-family="'Liberation Serif', serif" font-size="24" text-anchor="end">0.00</text>
<line x1="1139" y1="1282.24" x2="1147.3" y2="1282.24" class="tk"/>
<text transform="translate(1130.6 1290.56) scale(1 1.05)" font-family="'Liberation Serif', serif" font-size="24" text-anchor="end">0.02</text>
<line x1="1139" y1="1219.68" x2="1147.3" y2="1219.68" class="tk"/>
<text transform="translate(1130.6 1228) scale(1 1.05)" font-family="'Liberation Serif', serif" font-size="24" text-anchor="end">0.04</text>
<line x1="1139" y1="1157.12" x2="1147.3" y2="1157.12" class="tk"/>
<text transform="translate(1130.6 1165.44) scale(1 1.05)" font-family="'Liberation Serif', serif" font-size="24" text-anchor="end">0.06</text>
<line x1="1139" y1="1094.56" x2="1147.3" y2="1094.56" class="tk"/>
<text transform="translate(1130.6 1102.88) scale(1 1.05)" font-family="'Liberation Serif', serif" font-size="24" text-anchor="end">0.08</text>
<line x1="1139" y1="1032" x2="1147.3" y2="1032" class="tk"/>
<text transform="translate(1130.6 1040.32) scale(1 1.05)" font-family="'Liberation Serif', serif" font-size="24" text-anchor="end">0.10</text>
<text transform="translate(1339.7 1405.9) scale(1 1.03)" font-family="'Liberation Serif', serif" font-size="29" text-anchor="middle">Cycle</text>
<text transform="translate(1072 1189) rotate(-90) scale(1.025 1)" font-family="'Liberation Serif', serif" font-size="29" text-anchor="middle">RMSE</text>
<line x1="1682.65" y1="1344.8" x2="1682.65" y2="1336.5" class="tk"/>
<text transform="translate(1682.65 1370.4) scale(1 1.05)" font-family="'Liberation Serif', serif" font-size="24" text-anchor="middle">0</text>
<line x1="1789.06" y1="1344.8" x2="1789.06" y2="1336.5" class="tk"/>
<text transform="translate(1789.06 1370.4) scale(1 1.05)" font-family="'Liberation Serif', serif" font-size="24" text-anchor="middle">100</text>
<line x1="1895.48" y1="1344.8" x2="1895.48" y2="1336.5" class="tk"/>
<text transform="translate(1895.48 1370.4) scale(1 1.05)" font-family="'Liberation Serif', serif" font-size="24" text-anchor="middle">200</text>
<line x1="2001.89" y1="1344.8" x2="2001.89" y2="1336.5" class="tk"/>
<text transform="translate(2001.89 1370.4) scale(1 1.05)" font-family="'Liberation Serif', serif" font-size="24" text-anchor="middle">300</text>
<line x1="1664.4" y1="1344.8" x2="1672.7" y2="1344.8" class="tk"/>
<text transform="translate(1656 1353.12) scale(1 1.05)" font-family="'Liberation Serif', serif" font-size="24" text-anchor="end">0.00</text>
<line x1="1664.4" y1="1282.24" x2="1672.7" y2="1282.24" class="tk"/>
<text transform="translate(1656 1290.56) scale(1 1.05)" font-family="'Liberation Serif', serif" font-size="24" text-anchor="end">0.02</text>
<line x1="1664.4" y1="1219.68" x2="1672.7" y2="1219.68" class="tk"/>
<text transform="translate(1656 1228) scale(1 1.05)" font-family="'Liberation Serif', serif" font-size="24" text-anchor="end">0.04</text>
<line x1="1664.4" y1="1157.12" x2="1672.7" y2="1157.12" class="tk"/>
<text transform="translate(1656 1165.44) scale(1 1.05)" font-family="'Liberation Serif', serif" font-size="24" text-anchor="end">0.06</text>
<line x1="1664.4" y1="1094.56" x2="1672.7" y2="1094.56" class="tk"/>
<text transform="translate(1656 1102.88) scale(1 1.05)" font-family="'Liberation Serif', serif" font-size="24" text-anchor="end">0.08</text>
<line x1="1664.4" y1="1032" x2="1672.7" y2="1032" class="tk"/>
<text transform="translate(1656 1040.32) scale(1 1.05)" font-family="'Liberation Serif', serif" font-size="24" text-anchor="end">0.10</text>
<text transform="translate(1865.15 1405.9) scale(1 1.03)" font-family="'Liberation Serif', serif" font-size="29" text-anchor="middle">Cycle</text>
<text transform="translate(1598.2 1189.8) rotate(-90) scale(1.025 1)" font-family="'Liberation Serif', serif" font-size="29" text-anchor="middle">MAE</text>
<rect x="95.6" y="1159.3" width="208.7" height="169.8" rx="5" ry="5" class="lg"/>
<line x1="102.3" y1="1177.4" x2="156.4" y2="1177.4" stroke="#000000" stroke-width="5.1"/>
<text transform="translate(172.4 1186.1) scale(1 0.9)" font-family="'Noto Serif CJK SC', 'IPAGothic', monospace" font-size="24.9" text-anchor="start" fill="#222" style="font-feature-settings:'hwid'">Reference</text>
<line x1="102.3" y1="1209.8" x2="156.4" y2="1209.8" stroke="#ff0000" stroke-width="2.8"/>
<text transform="translate(172.4 1218.5) scale(1 0.9)" font-family="'Noto Serif CJK SC', 'IPAGothic', monospace" font-size="24.9" text-anchor="start" fill="#222" style="font-feature-settings:'hwid'">GRU</text>
<line x1="102.3" y1="1242.2" x2="156.4" y2="1242.2" stroke="#bf00bf" stroke-width="2.8"/>
<text transform="translate(172.4 1250.9) scale(1 0.9)" font-family="'Noto Serif CJK SC', 'IPAGothic', monospace" font-size="24.9" text-anchor="start" fill="#222" style="font-feature-settings:'hwid'">1D CNN-GRU</text>
<line x1="102.3" y1="1274.6" x2="156.4" y2="1274.6" stroke="#00bfbf" stroke-width="2.8"/>
<text transform="translate(172.4 1283.3) scale(1 0.9)" font-family="'Noto Serif CJK SC', 'IPAGothic', monospace" font-size="24.9" text-anchor="start" fill="#222" style="font-feature-settings:'hwid'">2D CNN-GRU</text>
<line x1="102.3" y1="1307" x2="156.4" y2="1307" stroke="#0000ff" stroke-width="2.8"/>
<text transform="translate(172.4 1315.7) scale(1 0.9)" font-family="'Noto Serif CJK SC', 'IPAGothic', monospace" font-size="24.9" text-anchor="start" fill="#222" style="font-feature-settings:'hwid'">Proposed</text>
<rect x="601.5" y="1043.2" width="218.3" height="135.8" rx="5" ry="5" class="lg"/>
<line x1="611" y1="1061.1" x2="662.8" y2="1061.1" stroke="#ff0000" stroke-width="1.6"/>
<circle cx="636.9" cy="1061.1" r="5.2" fill="#ff0000"/>
<text transform="translate(682 1069.8) scale(1 0.9)" font-family="'Noto Serif CJK SC', 'IPAGothic', monospace" font-size="24.9" text-anchor="start" fill="#222" style="font-feature-settings:'hwid'">GRU</text>
<line x1="611" y1="1093.5" x2="662.8" y2="1093.5" stroke="#bf00bf" stroke-width="1.6"/>
<circle cx="636.9" cy="1093.5" r="5.2" fill="#bf00bf"/>
<text transform="translate(682 1102.2) scale(1 0.9)" font-family="'Noto Serif CJK SC', 'IPAGothic', monospace" font-size="24.9" text-anchor="start" fill="#222" style="font-feature-settings:'hwid'">1D CNN-GRU</text>
<line x1="611" y1="1125.9" x2="662.8" y2="1125.9" stroke="#00bfbf" stroke-width="1.6"/>
<circle cx="636.9" cy="1125.9" r="5.2" fill="#00bfbf"/>
<text transform="translate(682 1134.6) scale(1 0.9)" font-family="'Noto Serif CJK SC', 'IPAGothic', monospace" font-size="24.9" text-anchor="start" fill="#222" style="font-feature-settings:'hwid'">2D CNN-GRU</text>
<line x1="611" y1="1158.3" x2="662.8" y2="1158.3" stroke="#0000ff" stroke-width="1.6"/>
<circle cx="636.9" cy="1158.3" r="5.2" fill="#0000ff"/>
<text transform="translate(682 1167) scale(1 0.9)" font-family="'Noto Serif CJK SC', 'IPAGothic', monospace" font-size="24.9" text-anchor="start" fill="#222" style="font-feature-settings:'hwid'">Proposed</text>
<rect x="1322.6" y="1044.4" width="205.6" height="136.1" rx="5" ry="5" class="lg"/>
<line x1="1331" y1="1061.9" x2="1381" y2="1061.9" stroke="#ff0000" stroke-width="2.8"/>
<text transform="translate(1398.3 1070.6) scale(1 0.9)" font-family="'Noto Serif CJK SC', 'IPAGothic', monospace" font-size="24.9" text-anchor="start" fill="#222" style="font-feature-settings:'hwid'">GRU</text>
<line x1="1331" y1="1094.3" x2="1381" y2="1094.3" stroke="#bf00bf" stroke-width="2.8"/>
<text transform="translate(1398.3 1103) scale(1 0.9)" font-family="'Noto Serif CJK SC', 'IPAGothic', monospace" font-size="24.9" text-anchor="start" fill="#222" style="font-feature-settings:'hwid'">1D CNN-GRU</text>
<line x1="1331" y1="1126.7" x2="1381" y2="1126.7" stroke="#00bfbf" stroke-width="2.8"/>
<text transform="translate(1398.3 1135.4) scale(1 0.9)" font-family="'Noto Serif CJK SC', 'IPAGothic', monospace" font-size="24.9" text-anchor="start" fill="#222" style="font-feature-settings:'hwid'">2D CNN-GRU</text>
<line x1="1331" y1="1159.1" x2="1381" y2="1159.1" stroke="#0000ff" stroke-width="2.8"/>
<text transform="translate(1398.3 1167.8) scale(1 0.9)" font-family="'Noto Serif CJK SC', 'IPAGothic', monospace" font-size="24.9" text-anchor="start" fill="#222" style="font-feature-settings:'hwid'">Proposed</text>
<rect x="1848" y="1044.4" width="205.6" height="136.1" rx="5" ry="5" class="lg"/>
<line x1="1856.5" y1="1061.9" x2="1906.3" y2="1061.9" stroke="#ff0000" stroke-width="2.8"/>
<text transform="translate(1923.4 1070.6) scale(1 0.9)" font-family="'Noto Serif CJK SC', 'IPAGothic', monospace" font-size="24.9" text-anchor="start" fill="#222" style="font-feature-settings:'hwid'">GRU</text>
<line x1="1856.5" y1="1094.3" x2="1906.3" y2="1094.3" stroke="#bf00bf" stroke-width="2.8"/>
<text transform="translate(1923.4 1103) scale(1 0.9)" font-family="'Noto Serif CJK SC', 'IPAGothic', monospace" font-size="24.9" text-anchor="start" fill="#222" style="font-feature-settings:'hwid'">1D CNN-GRU</text>
<line x1="1856.5" y1="1126.7" x2="1906.3" y2="1126.7" stroke="#00bfbf" stroke-width="2.8"/>
<text transform="translate(1923.4 1135.4) scale(1 0.9)" font-family="'Noto Serif CJK SC', 'IPAGothic', monospace" font-size="24.9" text-anchor="start" fill="#222" style="font-feature-settings:'hwid'">2D CNN-GRU</text>
<line x1="1856.5" y1="1159.1" x2="1906.3" y2="1159.1" stroke="#0000ff" stroke-width="2.8"/>
<text transform="translate(1923.4 1167.8) scale(1 0.9)" font-family="'Noto Serif CJK SC', 'IPAGothic', monospace" font-size="24.9" text-anchor="start" fill="#222" style="font-feature-settings:'hwid'">Proposed</text>
<rect x="83" y="1025.2" width="406.8" height="316.5" class="fr"/>
<rect x="588.2" y="1030.6" width="425.9" height="314.1" class="fr"/>
<rect x="1139" y="1032" width="401.4" height="312.8" class="fr"/>
<rect x="1664.4" y="1032" width="401.5" height="312.8" class="fr"/>
<text transform="translate(1087 1489.6) scale(1 1.02)" font-family="'Liberation Serif', serif" font-size="49" text-anchor="middle">(c) RW24</text>
<svg x="588.2" y="1540.6" width="425.9" height="314.1" viewBox="588.2 1540.6 425.9 314.1" overflow="hidden"><g>
<path d="M605.4 1831.9l4.6-3.4 4.6-16.7 4.6-6.2 4.6-2.3 4.6-.6 4.6 1.6 4.6 2 4.6 1.1 4.7-1 4.6 1.8 4.6 2.6 4.6 2.9 4.6-1.1 4.6-.9 4.6-2.7 4.6-.3 4.6 1.9 4.6 .4 4.6-1.5 4.6-1.9 4.6-2.3 4.6-4.1 4.6-4.7 4.6-4.6 4.6-4.1 4.6-3 4.6-5.4 4.6-5.9 4.6-4.6 4.6-4.6 4.6-4.6 4.6-6.9 4.6-5 4.6-4.6 4.6-4.6 4.6-4.6 4.6-4.6 4.6-3.6 4.6-3.1 4.6-3.4 4.6-3.5 4.6-4.1 4.6-4.6 4.6-4.6 4.6-4.6 4.7-4.6 4.6-4 4.6-3.1 4.6-1.7 4.6-1.1 4.6-1.5 4.6-1.8 4.6 6 4.6 9.2 4.6 7.1 4.6 1.5 4.6-5.8 4.6-8.1 4.6-7.6 4.6-8.7 4.6-6.2 4.6-4.8 4.6-3.1 4.6 .2 4.6 1.6 4.6 1.5 4.6 .6 4.6-1.9 4.6 1.5 4.6 1.5 4.6 1.6 4.6 1.5 4.6 1.5 4.6 5.8 4.6 5 4.6 0 4.6-.7 4.6-1.5 4.6-2.1 4.6-3.6 4.6-4.6 4.6-4.7 12.1-9.4 0-30.5 .3 37.2" fill="none" stroke="#ff0000" stroke-width="1.5"/>
<path d="M605.4 1831.9h0M610 1828.5h0M614.6 1811.8h0M619.2 1805.6h0M623.8 1803.3h0M628.4 1802.7h0M633 1804.3h0M637.6 1806.3h0M642.2 1807.4h0M646.9 1806.4h0M651.5 1808.2h0M656.1 1810.8h0M660.7 1813.7h0M665.3 1812.6h0M669.9 1811.7h0M674.5 1809h0M679.1 1808.7h0M683.7 1810.6h0M688.3 1811h0M692.9 1809.5h0M697.5 1807.6h0M702.1 1805.3h0M706.7 1801.2h0M711.3 1796.5h0M715.9 1791.9h0M720.5 1787.8h0M725.1 1784.8h0M729.7 1779.4h0M734.3 1773.5h0M738.9 1768.9h0M743.5 1764.3h0M748.1 1759.7h0M752.7 1752.8h0M757.3 1747.8h0M761.9 1743.2h0M766.5 1738.6h0M771.1 1734h0M775.7 1729.4h0M780.3 1725.8h0M784.9 1722.7h0M789.5 1719.3h0M794.1 1715.8h0M798.7 1711.7h0M803.3 1707.1h0M807.9 1702.5h0M812.5 1697.9h0M817.2 1693.3h0M821.8 1689.3h0M826.4 1686.2h0M831 1684.5h0M835.6 1683.4h0M840.2 1681.9h0M844.8 1680.1h0M849.4 1686.1h0M854 1695.3h0M858.6 1702.4h0M863.2 1703.9h0M867.8 1698.1h0M872.4 1690h0M877 1682.4h0M881.6 1673.7h0M886.2 1667.5h0M890.8 1662.7h0M895.4 1659.6h0M900 1659.8h0M904.6 1661.4h0M909.2 1662.9h0M913.8 1663.5h0M918.4 1661.6h0M923 1663.1h0M927.6 1664.6h0M932.2 1666.2h0M936.8 1667.7h0M941.4 1669.2h0M946 1675h0M950.6 1680h0M955.2 1680h0M959.8 1679.3h0M964.4 1677.8h0M969 1675.7h0M973.6 1672.1h0M978.2 1667.5h0M982.8 1662.8h0M994.9 1653.4h0M994.9 1622.9h0M995.2 1660.1h0" fill="none" stroke="#ff0000" stroke-width="10.4" stroke-linecap="round"/>
<path d="M605.4 1812.7l4.6-6.3 4.6-8 4.6-2.5 4.6-1.9 4.6-.6 4.6 1.6 4.6 5.5 4.6 4.6 4.7-20.1 4.6 11.3 4.6 6.6 4.6 5 4.6 39.6 4.6 1.3 4.6 .8 4.6-.5 4.6-1.6 4.6-.9 4.6-.4 4.6 3.1 4.6 2.2 4.6 .5 4.6 .5 4.6-.5 4.6-.6 4.6 .3 4.6 .6 4.6-.8 4.6-2.3 4.6-3.4 4.6-3.8 4.6-6.9 4.6-5 4.6-5.6 4.6-6.2 4.6-6.1 4.6-5.8 4.6-4.6 4.6-4.6 4.6-4.6 4.6-4.6 4.6-4.6 4.6-4.6 4.6-3.9 4.6-2.3 4.7-1.7 4.6-1.1 4.6-1.3 4.6-1.5 4.6-2.3 4.6-2.9 4.6-1.2 4.6 3.8 4.6 3.4 4.6 3.1 4.6-5.6 4.6-4.9 4.6-3.1 4.6-3.1 4.6-2.3 4.6 1.1 4.6 1.2 4.6-.9 4.6-1.1 4.6 1.2 4.6 3.1 4.6 1.8 4.6 1.4 4.6 .8 4.6-.9 4.6-3.9 4.6-3.8 4.6-3.9 4.6-3.8 4.6-4 4.6-4.6 4.6-5.3 4.6-6.1 4.6-7.3 4.6-7.6 4.6-3.9 4.6-3.9 4.6-3.8 7.5-8.4 0-39.8" fill="none" stroke="#bf00bf" stroke-width="1.5"/>
<path d="M605.4 1812.7h0M610 1806.4h0M614.6 1798.4h0M619.2 1795.9h0M623.8 1794h0M628.4 1793.4h0M633 1795h0M637.6 1800.5h0M642.2 1805.1h0M646.9 1785h0M651.5 1796.3h0M656.1 1802.9h0M660.7 1807.9h0M665.3 1847.5h0M669.9 1848.8h0M674.5 1849.6h0M679.1 1849.1h0M683.7 1847.5h0M688.3 1846.6h0M692.9 1846.2h0M697.5 1849.3h0M702.1 1851.5h0M706.7 1852h0M711.3 1852.5h0M715.9 1852h0M720.5 1851.4h0M725.1 1851.7h0M729.7 1852.3h0M734.3 1851.5h0M738.9 1849.2h0M743.5 1845.8h0M748.1 1842h0M752.7 1835.1h0M757.3 1830.1h0M761.9 1824.5h0M766.5 1818.3h0M771.1 1812.2h0M775.7 1806.4h0M780.3 1801.8h0M784.9 1797.2h0M789.5 1792.6h0M794.1 1788h0M798.7 1783.4h0M803.3 1778.8h0M807.9 1774.9h0M812.5 1772.6h0M817.2 1770.9h0M821.8 1769.8h0M826.4 1768.5h0M831 1767h0M835.6 1764.7h0M840.2 1761.8h0M844.8 1760.6h0M849.4 1764.4h0M854 1767.8h0M858.6 1770.9h0M863.2 1765.3h0M867.8 1760.4h0M872.4 1757.3h0M877 1754.2h0M881.6 1751.9h0M886.2 1753h0M890.8 1754.2h0M895.4 1753.3h0M900 1752.2h0M904.6 1753.4h0M909.2 1756.5h0M913.8 1758.3h0M918.4 1759.7h0M923 1760.5h0M927.6 1759.6h0M932.2 1755.7h0M936.8 1751.9h0M941.4 1748h0M946 1744.2h0M950.6 1740.2h0M955.2 1735.6h0M959.8 1730.3h0M964.4 1724.2h0M969 1716.9h0M973.6 1709.3h0M978.2 1705.4h0M982.8 1701.5h0M987.4 1697.7h0M994.9 1689.3h0M994.9 1649.5h0" fill="none" stroke="#bf00bf" stroke-width="10.4" stroke-linecap="round"/>
<path d="M605.4 1835.3l4.6-19.2 4.6 2.6 4.6 16.8 4.6-5.5 4.6 0 4.6 3.6 4.6 4 4.6 4.2 4.7-2.2 4.6 1.9 4.6 2.7 4.6 3.1 4.6 5.3 4.6-7.3 4.6-2.3 4.6-1.9 4.6-1.5 4.6-.9 4.6-.5 4.6 2.3 4.6 2.6 4.6 3 4.6 2.1 4.6 1.6 4.6-2 4.6-3.1 4.6-6.9 4.6-5.9 4.6-4.6 4.6-4.6 4.6-4.6 4.6-4.6 4.6-4.6 4.6-4.6 4.6-4.6 4.6-4.6 4.6-4.6 4.6-4.6 4.6-3.8 4.6-3.6 4.6-3.1 4.6-2.6 4.6-2.3 4.6-.2 4.6-.1 4.7-.6 4.6-.6 4.6-.5 4.6-.6 4.6-1.2 4.6-1.8 4.6-.5 4.6 3 4.6 3.5 4.6 3.8 4.6-2.7 4.6-4.6 4.6-4.6 4.6-4.1 4.6-3.1 4.6-1.3 4.6 0 4.6 1.4 4.6 1.6 4.6 2.3 4.6 2 4.6 1.5 4.6 2.6 4.6 3.1 4.6 3.8 4.6 3.3 4.6 1.5 4.6 2.3 4.6 3.1 4.6 .7 4.6 0 4.6-.5 4.6-1.1 4.6-1.5 4.6-3 4.6-2.5 4.6-1.8 12.1-.2 0-45.1 .3 43.8" fill="none" stroke="#00bfbf" stroke-width="1.5"/>
<path d="M605.4 1835.3h0M610 1816.1h0M614.6 1818.7h0M619.2 1835.5h0M623.8 1830h0M628.4 1830h0M633 1833.6h0M637.6 1837.6h0M642.2 1841.8h0M646.9 1839.6h0M651.5 1841.5h0M656.1 1844.2h0M660.7 1847.3h0M665.3 1852.6h0M669.9 1845.3h0M674.5 1843h0M679.1 1841.1h0M683.7 1839.6h0M688.3 1838.7h0M692.9 1838.2h0M697.5 1840.5h0M702.1 1843.1h0M706.7 1846.1h0M711.3 1848.2h0M715.9 1849.8h0M720.5 1847.8h0M725.1 1844.7h0M729.7 1837.8h0M734.3 1831.9h0M738.9 1827.3h0M743.5 1822.7h0M748.1 1818.1h0M752.7 1813.5h0M757.3 1808.9h0M761.9 1804.3h0M766.5 1799.7h0M771.1 1795.1h0M775.7 1790.5h0M780.3 1785.9h0M784.9 1782.1h0M789.5 1778.5h0M794.1 1775.4h0M798.7 1772.8h0M803.3 1770.5h0M807.9 1770.3h0M812.5 1770.2h0M817.2 1769.6h0M821.8 1769h0M826.4 1768.5h0M831 1767.9h0M835.6 1766.7h0M840.2 1764.9h0M844.8 1764.4h0M849.4 1767.4h0M854 1770.9h0M858.6 1774.7h0M863.2 1772h0M867.8 1767.4h0M872.4 1762.8h0M877 1758.7h0M881.6 1755.6h0M886.2 1754.3h0M890.8 1754.3h0M895.4 1755.7h0M900 1757.3h0M904.6 1759.6h0M909.2 1761.6h0M913.8 1763.1h0M918.4 1765.7h0M923 1768.8h0M927.6 1772.6h0M932.2 1775.9h0M936.8 1777.4h0M941.4 1779.7h0M946 1782.8h0M950.6 1783.5h0M955.2 1783.5h0M959.8 1783h0M964.4 1781.9h0M969 1780.4h0M973.6 1777.4h0M978.2 1774.9h0M982.8 1773.1h0M994.9 1772.9h0M994.9 1727.8h0M995.2 1771.6h0" fill="none" stroke="#00bfbf" stroke-width="10.4" stroke-linecap="round"/>
<path d="M605.4 1852.6l4.6-5 4.6 .2 4.6 1 4.6-5.1 4.6-11.5 4.6-1.9 4.6-3 4.6-3.7 4.7 26.3 4.6-1.4 4.6-4.6 4.6-4.6 4.6-3.5 4.6-9.7 4.6 1.8 4.6 .8 4.6 0 4.6-.7 4.6-.4 4.6 2.3 4.6 2.3 4.6 2.3 4.6 3 4.6-.4 4.6-3.6 4.6-1.6 4.6-.1 4.6 .8 4.6-1.9 4.6-2.2 4.6-1.6 4.6-1.5 4.6-1.5 4.6-3.2 4.6-3.8 4.6-2.4 4.6-2.1 4.6-1.5 4.6-1.6 4.6-1.5 4.6-.4 4.6 .1 4.6 .7 4.6 .6 4.6 0 4.7 1.3 4.6 2.3 4.6-1 4.6-1.5 4.6-1.5 4.6-1.6 4.6-1.5 4.6-1.5 4.6-1.6 4.6-2.9 4.6-2.5 4.6 0 4.6 .4 4.6 .7 4.6 .8 4.6 .8 4.6-.6 4.6-.6 4.6-1.8 4.6-2.3 4.6-.8 4.6-.9 4.6-1.6 4.6-2.7 4.6-3.9 4.6-1.4 4.6-.8 4.6-1.5 4.6-.7 4.6 1.2 4.6 1.1 4.6-1.2 4.6-1.1 4.6-1.2 4.6-1.1 4.6-.5 4.6 .6 12.1-3.4 .3 14.6" fill="none" stroke="#0000ff" stroke-width="1.5"/>
<path d="M605.4 1852.6h0M610 1847.6h0M614.6 1847.8h0M619.2 1848.8h0M623.8 1843.7h0M628.4 1832.2h0M633 1830.3h0M637.6 1827.3h0M642.2 1823.6h0M646.9 1849.9h0M651.5 1848.5h0M656.1 1843.9h0M660.7 1839.3h0M665.3 1835.8h0M669.9 1826.1h0M674.5 1827.9h0M679.1 1828.7h0M683.7 1828.7h0M688.3 1828h0M692.9 1827.6h0M697.5 1829.9h0M702.1 1832.2h0M706.7 1834.5h0M711.3 1837.5h0M715.9 1837.1h0M720.5 1833.5h0M725.1 1831.9h0M729.7 1831.8h0M734.3 1832.6h0M738.9 1830.7h0M743.5 1828.5h0M748.1 1826.9h0M752.7 1825.4h0M757.3 1823.9h0M761.9 1820.7h0M766.5 1816.9h0M771.1 1814.5h0M775.7 1812.4h0M780.3 1810.9h0M784.9 1809.3h0M789.5 1807.8h0M794.1 1807.4h0M798.7 1807.5h0M803.3 1808.2h0M807.9 1808.8h0M812.5 1808.8h0M817.2 1810.1h0M821.8 1812.4h0M826.4 1811.4h0M831 1809.9h0M835.6 1808.4h0M840.2 1806.8h0M844.8 1805.3h0M849.4 1803.8h0M854 1802.2h0M858.6 1799.3h0M863.2 1796.8h0M867.8 1796.8h0M872.4 1797.2h0M877 1797.9h0M881.6 1798.7h0M886.2 1799.5h0M890.8 1798.9h0M895.4 1798.3h0M900 1796.5h0M904.6 1794.2h0M909.2 1793.4h0M913.8 1792.5h0M918.4 1790.9h0M923 1788.2h0M927.6 1784.3h0M932.2 1782.9h0M936.8 1782.1h0M941.4 1780.6h0M946 1779.9h0M950.6 1781.1h0M955.2 1782.2h0M959.8 1781h0M964.4 1779.9h0M969 1778.7h0M973.6 1777.6h0M978.2 1777.1h0M982.8 1777.7h0M994.9 1774.3h0M995.2 1788.9h0" fill="none" stroke="#0000ff" stroke-width="10.4" stroke-linecap="round"/>
</g></svg>
<svg x="83" y="1535.2" width="406.8" height="316.5" viewBox="83 1535.2 406.8 316.5" overflow="hidden"><g fill="none" stroke-linejoin="round">
<path d="M100.3 1553.2l2.9 1.7 2.9 1.8 3 1.7 2.9 1.7 2.9 1.5 3 1.4 2.9 1.5 2.9 1.4 3 1.5 2.9 1.5 2.9 1.4 3 1.4 2.9 .3 2.9 .3 2.9 .3 3 .3 2.9 .9 2.9 1.5 3 2 2.9 2.2 2.9 2.2 3 2.1 2.9 1.5 2.9 1.4 3 1.5 2.9 1.5 2.9 1.3 2.9 1.1 3 1.2 2.9 1.2 2.9 1.1 3 .9 2.9 .9 2.9 .9 3 .9 2.9 1.1 2.9 1.5 3 1.5 2.9 1.4 2.9 1.5 2.9 1.5 3 1.8 2.9 1.7 2.9 1.8 3 1.7 2.9 1.6 2.9 1.5 3 1.5 2.9 1.4 2.9 1.5 3 1.5 2.9 1.4 2.9 1.5 3 1.5 2.9 1.4 2.9 1.5 2.9 1.4 3 1.5 2.9 1.5 2.9 1.4 3 1.5 2.9 1.5 2.9 1.4 3 1.5 2.9 1.5 2.9 1.1 3 1 2.9 1 2.9 1 2.9 .9 3 1.1 2.9 1.5 2.9 1.4 3 1.5 2.9 1.5 2.9 1.4 3 2.2 2.9 2.3 2.9 2.4 3 2.3 2.9 2 2.9 1 2.9 1 3 1 2.9 .9 2.9 1 3 1 2.9 1 2.9 .9 3 1 2.9 1 2.9 1 3 .9 2.9 1 2.9 1.5 2.9 1.8 3 1.7 2.9 1.8 2.9 1.8 3 1.7 2.9 1.8 2.9 1.7 3 1.8 2.9 1.6 2.9 1.4 3 1.5 2.9 1.5 2.9 1.4 2.9 1.2 3 1.1 2.9 1.2 2.9 1.2 3 1.1 2.9 .9 2.9 1 3 1 2.9 1 2.9 .9 3 .9 2.9 .9 2.9 .9 2.9 .8 3 1.3 2.9 1.5 2.9 1.6 3 1.5 2.1 1.1" stroke="#000" stroke-width="4.6"/>
<path d="M100.3 1554.3l2.9 1.8 2.9 2.1 3 2.5 2.9 1.7 2.9 1.6 3 1.5 2.9 1.5 2.9 1.4 3 1.4 2.9 1.4 2.9 1.4 3 1.4 2.9 .4 2.9 .2 2.9 .2 3 .3 2.9 .7 2.9 1.5 3 2 2.9 2.2 2.9 2.3 3 2.2 2.9 1.5 2.9 1.4 3 1.4 2.9 1.5 2.9 1.3 2.9 1.2 3 1.2 2.9 1.3 2.9 1.2 3 1 2.9 1 2.9 1 3 1.1 2.9 1.3 2.9 1.6 3 1.6 2.9 1.5 2.9 1.7 2.9 1.7 3 1.9 2.9 1.9 2.9 1.9 3 1.9 2.9 1.8 2.9 1.6 3 1.7 2.9 1.6 2.9 1.6 3 1.6 2.9 1.7 2.9 1.6 3 1.6 2.9 1.6 2.9 1.6 2.9 1.6 3 1.5 2.9 1.6 2.9 1.6 3 1.5 2.9 1.6 2.9 1.6 3 1.7 2.9 1.6 2.9 1.3 3 1.1 2.9 1.1 2.9 1.1 2.9 1.1 3 1.2 2.9 1.6 2.9 1.5 3 1.5 2.9 1.5 2.9 1.5 3 2.2 2.9 2.4 2.9 2.1 3 2.1 2.9 1.7 2.9 .8 2.9 .8 3 1 2.9 1.2 2.9 1.2 3 1.2 2.9 1.3 2.9 1.2 3 1.3 2.9 1.1 2.9 1.2 3 1.1 2.9 1.1 2.9 1.5 2.9 1.7 3 1.7 2.9 1.7 2.9 1.7 3 1.8 2.9 1.8 2.9 1.8 3 1.7 2.9 1.5 2.9 1.4 3 1.5 2.9 1.4 2.9 1.4 2.9 1.1 3 1 2.9 1 2.9 1 3 1 2.9 1 2.9 1 3 1 2.9 1.1 2.9 1 3 1 2.9 1 2.9 1 2.9 1 3 1.5 2.9 1.6 2.9 1.7 3 1.6 2.1 .9" stroke="#ff0000" stroke-width="2.6"/>
<path d="M100.3 1551.1l2.9 1.5 2.9 1.5 3 1.5 2.9 1.7 2.9 1.4 3 1.4 2.9 1.4 2.9 1.5 3 1.6 2.9 1.5 2.9 2.1 3 1 2.9-.4 2.9 .5 2.9 .6 3 .5 2.9 1.1 2.9 2 3 3.4 2.9 2.3 2.9 2.2 3 2.2 2.9 1.4 2.9 1.5 3 1.4 2.9 1.4 2.9 1.3 2.9 1.1 3 1.3 2.9 1.7 2.9 1.1 3 .9 2.9 .8 2.9 .9 3 .9 2.9 1.2 2.9 1.5 3 1.4 2.9 1.5 2.9 1.4 2.9 1.5 3 1.8 2.9 1.9 2.9 1.8 3 1.9 2.9 1.7 2.9 1.7 3 1.7 2.9 1.6 2.9 1.6 3 1.7 2.9 1.6 2.9 1.7 3 1.6 2.9 1.7 2.9 1.6 2.9 1.6 3 1.6 2.9 1.7 2.9 1.6 3 1.6 2.9 1.6 2.9 1.6 3 1.6 2.9 1.6 2.9 1.3 3 1 2.9 1.1 2.9 1 2.9 1 3 1.1 2.9 1.5 2.9 1.5 3 1.6 2.9 1.5 2.9 1.6 3 2.2 2.9 2.3 2.9 2.2 3 2.3 2.9 1.9 2.9 .8 2.9 1.1 3 1.2 2.9 1.1 2.9 1.1 3 1.1 2.9 1.1 2.9 1 3 1 2.9 1 2.9 .9 3 1 2.9 1 2.9 1.5 2.9 1.8 3 1.7 2.9 1.7 2.9 1.6 3 1.8 2.9 1.7 2.9 1.7 3 1.7 2.9 1.6 2.9 1.5 3 1.6 2.9 1.6 2.9 1.6 2.9 1.3 3 1.3 2.9 1.3 2.9 1.3 3 1.2 2.9 1.1 2.9 1.1 3 1.2 2.9 1.2 2.9 1.2 3 1.1 2.9 1.1 2.9 1 2.9 1 3 1.4 2.9 1.6 2.9 1.7 3 1.7 2.1 3.2" stroke="#bf00bf" stroke-width="2.6"/>
<path d="M100.3 1554.3l2.9 2.3 2.9 1.9 3 1.6 2.9 1 2.9 1.5 3 1.6 2.9 1.5 2.9 1.3 3 1.4 2.9 1.3 2.9 1.4 3 1.3 2.9 .4 2.9 .2 2.9 .2 3 .2 2.9 .9 2.9 1.3 3 1.7 2.9 2.5 2.9 2.4 3 2.2 2.9 1.5 2.9 1.5 3 1.5 2.9 1.5 2.9 1.3 2.9 1.2 3 1.2 2.9 1 2.9 1.1 3 .8 2.9 .8 2.9 .8 3 .8 2.9 1.2 2.9 1.5 3 1.6 2.9 1.6 2.9 1.7 2.9 1.7 3 1.9 2.9 1.9 2.9 1.9 3 1.9 2.9 1.8 2.9 1.6 3 1.6 2.9 1.6 2.9 1.6 3 1.6 2.9 1.6 2.9 1.6 3 1.7 2.9 1.6 2.9 1.6 2.9 1.6 3 1.6 2.9 1.6 2.9 1.5 3 1.6 2.9 1.5 2.9 1.6 3 1.5 2.9 1.5 2.9 1.2 3 1 2.9 .9 2.9 1 2.9 1 3 1.1 2.9 1.5 2.9 1.5 3 1.5 2.9 1.5 2.9 1.5 3 2.2 2.9 2.3 2.9 2.3 3 2.2 2.9 1.9 2.9 .9 2.9 .9 3 1.2 2.9 1.1 2.9 1.1 3 1.1 2.9 1.1 2.9 1.1 3 1.1 2.9 1 2.9 1 3 1 2.9 .9 2.9 1.4 2.9 1.7 3 1.7 2.9 1.7 2.9 1.7 3 1.7 2.9 1.7 2.9 1.7 3 1.6 2.9 1.5 2.9 1.3 3 1.4 2.9 1.4 2.9 1.4 2.9 1.1 3 1.1 2.9 1 2.9 1.2 3 1.1 2.9 .9 2.9 1 3 1.1 2.9 1 2.9 1 3 .9 2.9 1 2.9 1 2.9 .9 3 1.3 2.9 1.6 2.9 1.5 3 1.5 2.1 1.2" stroke="#00bfbf" stroke-width="2.6"/>
<path d="M100.3 1553l2.9 1.6 2.9 1.7 3 1.8 2.9 1.7 2.9 1.4 3 1.2 2.9 1.1 2.9 1.3 3 1.4 2.9 1.4 2.9 1.3 3 1.7 2.9 1.2 2.9 .3 2.9 .2 3 .1 2.9 .8 2.9 1.3 3 1.9 2.9 2 2.9 1.9 3 2.2 2.9 1.5 2.9 1.5 3 1.5 2.9 1.4 2.9 1.3 2.9 1.1 3 1.3 2.9 1.2 2.9 1.3 3 .9 2.9 1 2.9 .9 3 1 2.9 1.1 2.9 1.3 3 1.4 2.9 1.4 2.9 1.5 2.9 1.5 3 1.8 2.9 1.7 2.9 1.7 3 1.7 2.9 1.5 2.9 1.4 3 1.4 2.9 1.5 2.9 1.3 3 1.4 2.9 1.3 2.9 1.4 3 1.4 2.9 1.4 2.9 1.4 2.9 1.4 3 1.4 2.9 1.5 2.9 1.4 3 1.4 2.9 1.5 2.9 1.5 3 1.5 2.9 1.5 2.9 1.1 3 1 2.9 1 2.9 1 2.9 1.1 3 1.1 2.9 1.4 2.9 1.4 3 1.4 2.9 1.4 2.9 1.5 3 2.1 2.9 2.2 2.9 2.3 3 2.3 2.9 2 2.9 .9 2.9 .8 3 1 2.9 1 2.9 .9 3 1 2.9 1 2.9 1 3 1 2.9 1 2.9 1 3 1 2.9 .9 2.9 1.5 2.9 1.7 3 1.7 2.9 1.7 2.9 1.7 3 1.7 2.9 1.8 2.9 1.7 3 1.6 2.9 1.5 2.9 1.3 3 1.5 2.9 1.4 2.9 1.4 2.9 1.1 3 1.2 2.9 1.1 2.9 1.3 3 1 2.9 1 2.9 1 3 .9 2.9 1 2.9 .9 3 .8 2.9 .9 2.9 .8 2.9 .9 3 1.3 2.9 1.6 2.9 1.4 3 1.5 2.1 1.8" stroke="#0000ff" stroke-width="2.6"/>
</g></svg>
<svg x="1139" y="1542" width="401.4" height="312.8" viewBox="1139 1542 401.4 312.8" overflow="hidden"><g fill="none" stroke-linejoin="round">
<path d="M1157.2 1786.2l.7-58.5 .7-49.6 .8 30.3 .7 48.8 .7 21 .7-17.1 .7 24.2 .7-22.1 .7-34.3 .7 50.4 .7-2 .7-31.8 .7 26.3 .7-21 .7 18.5 .7-11.2 .7 1.6 .7 26.7 .7-21.8 .7 23.7 .7 1 .7-15.1 .7 5.4 .7 16.6 .7-53.5 .7 38.4 .7-37.5 .7 30.6 .7 1 .7 5.3 .7 22.6 .7-17.4 .7-53 .7 62.8 .7-21.7 .7 4.2 .7-38.6 .7 53.3 .7-19.8 .7 22.7 .7-.6 .7 11.1 .7-16.4 .7-49.6 .7 34.3 .7 27.9 .7 4.6 .7-15.7 .7-11.9 .7-7.9 .7 14.5 .7 8.5 .7 3.1 .7-8 .7 16.2 .7-58.1 .7 49.2 .7 11.4 .7-24.9 .8-11.3 .7 12.7 .7 13.2 .7 2.3 .7-58.6 .7 66.8 .7-19.4 .7 8.3 .7 7.3 .7-15.2 .7 5.7 .7 3.2 .7-4.1 .7-10.7 .7 26.7 .7-28.7 .7 4.4 .7-8.5 .7 27.9 .7-44 .7 46.3 .7-54.6 .7 48.3 .7-22.7 .7 24.3 .7 2.9 .7-22.6 .7 2.4 .7 4.1 .7 12.5 .7-18.4 .7 13 .7-13.8 .7 19.7 .7-1.5 .7-1.7 .7-13.2 .7 16.4 .7-19.2 .7 2.1 .7 12.6 .7 5 .7-4.6 .7 1.9 .7-17 .7 25.8 .7-5.4 .7-13 .7 18.3 .7 7.8 .7-2.2 .7-9.4 .7-6.4 .7-8 .7 10 .7 6.4 .7-17.2 .7 15.3 .8-.7 .7-11.5 .7-40.1 .7 39.7 .7-30.8 .7 16.2 .7 .2 .7 27.6 .7 8.9 .7-5.1 .7-25.3 .7-3.2 .7-1.5 .7-4.4 .7 20.8 .7 2 .7-2.2 .7-16 .7 12.4 .7 1.3 .7 18.6 .7-7.2 .7 .6 .7-25.2 .7 14.9 .7-1.9 .7-4.3 .7 18.2 .7-24.1 .7 31.5 .7-5.5 .7 4.9 .7-23.4 .7 12.5 .7-4 .7 3.3 .7-6.2 .7-7 .7 15.7 .7 6.8 .7-4.9 .7 17.6 .7-9 .7 3.4 .7-3 .7-46.8 .7 35.6 .7 16.7 .7-58.4 .7 29.7 .7-17.6 .7 50.1 .7-50.5 .7 25.9 .7-5.1 .7-32.1 .7 37.9 .8 27 .7 .1 .7-19.6 .7 9.2 .7-21.8 .7 26.5 .7-6.5 .7-12.9 .7 9.2 .7-20 .7 0 .7 23.6 .7-5.4 .7 1.4 .7-31.7 .7 33.8 .7 2 .7-22.7 .7 8.7 .7-3.2 .7 26.3 .7-12.4 .7-3.3 .7-14.6 .7 24.4 .7-39.1 .7 35.2 .7-17 .7-3.8 .7 27.8 .7-1.6 .7-10.1 .7 9.2 .7-14.3 .7-7.1 .7 .8 .7 6.1 .7 27.7 .7-12.5 .7-19.2 .7 11.7 .7-2.3 .7 4.3 .7-13.1 .7 20.4 .7 4.2 .7-11.8 .7-15.5 .7 15.6 .7-3.4 .7 11.1 .7-6.2 .7 10.8 .7 5.9 .7-33.8 .7 6.5 .7 25.5 .8-21.8 .7-36.4 .7 4.3 .7 29.1 .7-22 .7 45.9 .7 3.8 .7-25.5 .7 5.8 .7 8.2 .7-11.9 .7 22.9 .7-23.3 .7 10.5 .7-12.7 .7 20.9 .7-22.5 .7 16.4 .7 12.7 .7-17.7 .7 6.4 .7-32 .7 13.8 .7 36.4 .7-8.8 .7-25.2 .7 1 .7 27.8 .7-16.1 .7 9.8 .7-16.7 .7 18.3 .7 4.3 .7-8.6 .7-13.5 .7 28.6 .7-21.2 .7-1.2 .7-3.5 .7 8.4 .7-6.7 .7 24.7 .7-24.5 .7-8.2 .7 29.9 .7 .5 .7-15.6 .7-2.3 .7-1.6 .7 10.9 .7-12.5 .7 4.2 .7-18.3 .7 7.3 .7 1.1 .7-25.5 .7 29 .8 16.1 .7-17.8 .7 6.7 .7 11.4 .7-27 .7 9.5 .7-9.2 .7-13.3 .7 15.1 .7 6.6 .7-9.8 .7 18.7 .7-16.7 .7 18.4 .7 2.9 .7-16.7 .7-7.1 .7-8.2 .7 15.1 .7-42 .7 2 .7 28.4 .7-8.9 .7 5.4 .7 11.3 .7-21.9 .7 11.2 .7 20.5 .7-2.2 .7 2.8 .7-23 .7 14.1 .7-23.9 .7 4 .7-20.3 .7 20.7 .7 19.6 .7 6.3 .7-6.9 .7-19.9 .7 7.2 .7-2.6 .7-43 .7 40.6 .7 26.2 .7-1.2 .7-30.5 .7 24.4 .7-40.8 .7 12.3 .7 18.4 .7-18.4 .7 10.2 .7-26.9 .7 40.7 .7-2.2 .7-8.1 .8 11.6 .7-13.2 .7-8.9 .7 30.5 .7-25.5 .7 1 .7-29.4 .7 24.9 .7 14.9 .7 .7 .7-22.7 .7 31.9 .7-2.2 .7-24.2 .7 2.5 .7-43.6 .7 33.1 .7 1.1 .7 15.5 .7 18 .7-7.2 .7-29.5 .7 25.2 .7-14.4 .7-31.3 .7 45.6 .7 1.4 .7-24.6 .7 10.2 .7 1.3 .7 6.2 .7-4.1 .7 2.5 .7-.2 .7 7.5 .7-12.4 .7-10.7 .7 32.5 .7-16.9 .7 18.4 .7-26.8 .7 6.3 .7-48.4 .7 37.7 .7 20.6 .7-7.4 .7 6.3 .7-7.7 .7 7.1 .7-9.5 .7-35 .7 24.3 .7 2.5 .7-4.8 .7 23.5 .7-11.8 .7-17 .7 18.3 .8 6.2 .7 8.3 .7-16.2 .7-.3 .7-16.4 .7 32.6 .7-31 .7 26.3 .7-1.9 .7-53.2 .7 31.9 .7 9.7 .7-15.4 .7 33.3 .7-14.9 .7-4.1 .7 9.1 .7-14 .7-9.3 .7 5.2 .7 6.8 .7-4.8 .7 24.4 .7-19.4 .7 15.4 .7-14 .7 4.4 .7-10.3 .7 1.3 .7 4.5 .7 19.8 .7-21.8 .7 12.8 .7 11.7 .7-15.7 .7-9.1 .7 21.9 .7-32.1 .7 21.1 .7-10.2 .7-14.5 .7 32.5 .7-1 .7 3.2 .7-7.8 .7-17.5 .7 7.3 .7 10.8 .7-50.3 .7 55.3 .7-8.2 .7 6.1 .7-.6 .7-17 .7 3.6 .7 17.3 .7-8.1 .8-1.3 .7 11.5 .7-31 .7 30.9 .7-11.2 .7-12.2 .7 25.4 .7-20.5 .7 4.3 .7 4.1 .7-14.9 .7 3 .7-42.1 .7 63.1 .7-28.9 .7 2.8 .7 27.2 .7-2.1 .7-23.9 .7 20.7 .7-.6 .7-25.9 .7 8.9 .7-34.6 .7 37.4 .7 6 .7 15.6 .7-17 .7 17.5 .7-27.8 .7 4.2 .7 20.3 .7-30.3 .7 2.2 .7 33.7 .7-13.4 .7-21.8 .7 33.5 .7 3 .7-3.4 .7-5.9 .7 8.3 .7-46.3 .7 39.4 .7 2.7 .7-31.4 .7 5.9 .7-34.1 .7 57.2 .7 2.8 .7-1.1 .7-11.5 .7 14.7 .7 3.4 .7-18 .7 18.1 .7-9.3 .8-18.3 .7 21.1 .7-41.9" stroke="#ff0000" stroke-width="2.5"/>
<path d="M1157.2 1785.7l.7-40.9 .7-43.2 .8 21 .7 27.3 .7-3.9 .7 17 .7 34 .7 1.6 .7-20.5 .7-1.8 .7 4.7 .7 7.6 .7-3 .7 16.4 .7-37.9 .7 34.3 .7-15.7 .7 18.7 .7 2.8 .7-41.4 .7 23.7 .7 16.5 .7-31.6 .7 33.6 .7 1.3 .7-13.4 .7-7.1 .7 14.9 .7-14.9 .7 12.3 .7-.3 .7 8.9 .7-.8 .7-8.8 .7 4.5 .7-17.9 .7 15.5 .7-15.3 .7 3.5 .7-2.7 .7-18.9 .7 38.8 .7-18 .7 23.4 .7-17.7 .7-1.1 .7 3.1 .7 7.6 .7 1 .7-25.7 .7 25.4 .7 8.4 .7-5.9 .7-17.3 .7 20.1 .7-37 .7 40.3 .7-12.2 .7 13.7 .8-4.2 .7-.6 .7-12.4 .7 18.2 .7-42.1 .7 37.3 .7-32.1 .7 35.2 .7-12.7 .7 10.2 .7 9.4 .7-21.3 .7 7 .7-6.3 .7 10.4 .7-29.6 .7 21.8 .7-3.9 .7-3.2 .7 10.2 .7 13.4 .7-7.6 .7-26.7 .7 33.4 .7-41.6 .7 46.6 .7-18.2 .7-2.3 .7-18.8 .7 15.1 .7 24.6 .7-4.8 .7 4.7 .7-1.3 .7 4.3 .7-26 .7-19.6 .7 45.7 .7-11 .7-2.4 .7 2.6 .7 3 .7 4.7 .7-8.8 .7-5.8 .7 9.2 .7-7.2 .7-9 .7 4 .7 3.4 .7 1.9 .7 15.1 .7-11.4 .7 11.6 .7-13.7 .7-32 .7 28.7 .7-6 .8 9.8 .7 4.5 .7 11.9 .7-22.5 .7 9.1 .7 11.3 .7-12.4 .7 .3 .7-35.4 .7 24.8 .7 24 .7-10.5 .7-12.6 .7 17.6 .7-6.3 .7-6.9 .7 16.9 .7-6 .7 8.5 .7-12.6 .7 14.3 .7-17.9 .7-19.6 .7 33.7 .7-2.8 .7 5.2 .7-19.6 .7-3 .7-18.6 .7 27.3 .7-28.2 .7 18.4 .7 15.8 .7-.6 .7-36.3 .7 35.6 .7-2.7 .7-3.1 .7 5.7 .7-18.8 .7 9.9 .7 14.7 .7 3.5 .7-9.2 .7 16.5 .7-25.4 .7 18.5 .7-28.4 .7 37 .7-11.4 .7-3.3 .7 6.3 .7 8 .7-23.5 .7-9.3 .7 32.3 .7-22 .8 20.4 .7-3.8 .7-7.1 .7-26 .7 36.8 .7-6.7 .7 12.9 .7-7.8 .7 .1 .7-8 .7-4.7 .7 11.4 .7 .8 .7-2.6 .7-6.6 .7 12.3 .7 6.5 .7-5.8 .7 5.2 .7-18.3 .7-27.6 .7 45.3 .7-18.6 .7 15.3 .7-5.4 .7 8.4 .7-15.7 .7 15.9 .7-.5 .7-16.5 .7 9.5 .7-7 .7 17.2 .7-2.1 .7 .4 .7-24.9 .7 12.3 .7-4.2 .7 1.7 .7-7.9 .7 15.6 .7-7.2 .7-7.7 .7 18.7 .7-2 .7-14.4 .7 12.1 .7-10.3 .7 4.8 .7-6.2 .7 15.1 .7 5.3 .7-22.1 .7 2 .7 1.7 .7 3.5 .7 13.4 .8 2.7 .7-24 .7 1.5 .7 20.7 .7-12.3 .7 8.5 .7-4.6 .7-5.5 .7-1.9 .7 1.7 .7 4.4 .7-3.5 .7-2 .7-1.4 .7 18.4 .7-34.1 .7 32.7 .7-15.2 .7-8.6 .7-12.5 .7 21.9 .7 9.1 .7-.3 .7-2.1 .7-17.5 .7 1.7 .7 12.5 .7 4.5 .7 .8 .7-5.5 .7 2 .7-2 .7-2.3 .7 5.9 .7-12.7 .7 2.6 .7 8.3 .7-18.8 .7 11.3 .7 11.6 .7-15.1 .7 6.4 .7-3.8 .7-7.1 .7 4.3 .7 5 .7-14.7 .7 21.8 .7-21 .7 11.2 .7-6.5 .7-26.3 .7 34.5 .7-8.3 .7 7.9 .7-15.1 .7 12.2 .8-6 .7-4.5 .7 5.1 .7 4.6 .7 9.8 .7-4.6 .7 .7 .7-4.9 .7-9.1 .7 0 .7 4.2 .7 14.3 .7-22.5 .7 14.4 .7 2.2 .7 .5 .7-13.8 .7 2.2 .7-9.6 .7-22.2 .7 31.2 .7 10.9 .7-13.9 .7-7.5 .7 10.3 .7 9.6 .7-4.7 .7-9.6 .7-14.1 .7 33.2 .7-23.4 .7 2.7 .7-29.2 .7 28.3 .7-2.2 .7 12.7 .7 3.5 .7-11.4 .7-3.8 .7 18.7 .7-11.6 .7-1.3 .7 14.4 .7-5.2 .7-11.7 .7-30.2 .7 38.4 .7-12.1 .7-17.9 .7 34.7 .7-2.2 .7-6.3 .7-6.1 .7 15.2 .7-25 .7 23.3 .7 .8 .8-16.6 .7 16.2 .7-47.4 .7 47.8 .7-1.1 .7-44.2 .7 40.4 .7-16.2 .7 9.5 .7 10.9 .7-9.2 .7-6.6 .7 7.5 .7-4 .7 2.1 .7-15.8 .7 3.8 .7 11.1 .7-7.6 .7 16.3 .7-13.8 .7-25.6 .7 14.6 .7 21.6 .7-15.7 .7 15.4 .7-40.6 .7 20.9 .7 .1 .7 2.4 .7-20.1 .7 38.1 .7-2.4 .7-1.4 .7-20.2 .7 16.4 .7 .8 .7-14.3 .7 15.7 .7-15 .7 1.1 .7 14.5 .7 2.8 .7-7.3 .7 3.4 .7 4.5 .7-15 .7-10.7 .7-12.6 .7 24.7 .7-33.8 .7 39.9 .7-38.8 .7 44.7 .7-1.7 .7-39.3 .7 33.5 .7 9.2 .8-22 .7-2.6 .7 9.8 .7-2.5 .7 12 .7 .1 .7-18 .7-18.7 .7 17.7 .7 15.7 .7-16.4 .7 20 .7 2.9 .7-25.3 .7 19.6 .7-11 .7 2.2 .7 4.9 .7 7.7 .7-18.6 .7 9.8 .7-5.2 .7 8.1 .7-13.2 .7 13.9 .7-2.9 .7 1.1 .7-15.1 .7 14.5 .7-9.3 .7 6.9 .7 11.8 .7-2.5 .7-25.1 .7 22 .7-5.2 .7-9.5 .7 13.5 .7-33.1 .7 14.4 .7 18.6 .7-3.3 .7 .6 .7 6.3 .7 2.4 .7-21.4 .7 1.2 .7 8.7 .7-14.1 .7 2.3 .7 23.2 .7-2.5 .7-23.9 .7 .7 .7 18.5 .7-.8 .7-6.2 .8 10.9 .7-6.6 .7-1.1 .7 1.5 .7 9.2 .7-15.1 .7-28.4 .7 20 .7 21.9 .7-23.2 .7 19.7 .7-41.2 .7 41.6 .7-12.4 .7 16.2 .7-23.5 .7 24 .7-9.8 .7 2.7 .7-5.2 .7-5.8 .7 11.9 .7-.9 .7-6.6 .7 13.5 .7-18.1 .7 5.3 .7-8.9 .7 13.7 .7 9.4 .7-23.5 .7 15 .7-3.2 .7-1 .7-26.3 .7 21.1 .7 13.2 .7-18.1 .7 7.3 .7-29.8 .7 21.4 .7 16.4 .7 4.8 .7-16.3 .7 17.8 .7-36.3 .7 21.7 .7-4.2 .7 21.7 .7-22 .7 5.2 .7-.9 .7 7.2 .7 2 .7-14 .7 2.6 .7-.5 .8 14.5 .7-1 .7-.9" stroke="#bf00bf" stroke-width="2.5"/>
<path d="M1157.2 1796.6l.7-32.5 .7-35.7 .8 13.8 .7-2 .7 38.2 .7-7.9 .7 17.3 .7 4.5 .7-15.1 .7 32.6 .7-21.7 .7-7.9 .7 23.4 .7-10.7 .7 19.4 .7 .2 .7-.5 .7 4.2 .7-25.6 .7-22.1 .7 20.5 .7-24.2 .7 36.2 .7 18.9 .7-8.4 .7 8.1 .7-7.3 .7-33.8 .7 46 .7-19 .7-6.6 .7 21.8 .7 2.7 .7-21.3 .7-7.9 .7 12.8 .7 2.6 .7 1.3 .7 14.2 .7-10.7 .7-9.4 .7 14.2 .7-21.9 .7 24.9 .7-10.4 .7 13.5 .7-29.5 .7 24.4 .7-44.7 .7 52.6 .7-16 .7-11.1 .7 25.4 .7-4.4 .7-48.9 .7 53.3 .7-29.9 .7 26 .7-10.9 .8 1.4 .7-15.9 .7 15.6 .7 6.2 .7-25 .7 22.4 .7-7.6 .7 11.3 .7-10.7 .7 17.2 .7-8.6 .7-24.8 .7-7.6 .7 20.3 .7-28.8 .7 20 .7-12 .7 7.8 .7 28.5 .7-.9 .7-19.7 .7 17.3 .7-24 .7 8.7 .7-1.4 .7-35.3 .7 46.1 .7 10 .7-22.3 .7 24.3 .7-16.9 .7 17.3 .7-21.8 .7-6.9 .7 12.1 .7 6.9 .7-12.2 .7 10.2 .7-3.1 .7 13.3 .7 3.4 .7-22.5 .7 11 .7-8.8 .7-5.3 .7 6.3 .7 .8 .7 21.4 .7-7.8 .7-34.2 .7 11.2 .7 17.6 .7-45.8 .7 13.7 .7 41.9 .7 3.8 .7-21.5 .7-8.9 .8 30.9 .7 .2 .7-26.7 .7 5.6 .7 2.6 .7 16.5 .7-6.4 .7-17.8 .7 17.6 .7-18.5 .7-4.9 .7 13.2 .7 8.1 .7-20.6 .7 27 .7-17.1 .7 0 .7 12.4 .7-8.4 .7 1.6 .7-6.8 .7 2.1 .7 19.8 .7 .6 .7-7.1 .7-11.9 .7-22.3 .7 42.3 .7-9.2 .7-35.6 .7 18.5 .7 19.7 .7-7.8 .7-5.7 .7 2.5 .7 10.9 .7 11 .7-26 .7 3.4 .7-1.7 .7 1.4 .7-17.7 .7 44.4 .7-25.1 .7 16.7 .7-3.7 .7-17 .7 8.1 .7-6.1 .7 10.3 .7-11.6 .7 18.4 .7-21.3 .7 25.8 .7 2.6 .7-6.5 .7 7.7 .8-29.5 .7 24.3 .7-6.8 .7-5.4 .7 5.2 .7 15.2 .7-5.9 .7 .6 .7 5.9 .7-51.6 .7 19.8 .7 22.7 .7-16.7 .7 18.8 .7 4.7 .7-7.4 .7-15.2 .7-31.1 .7 27.7 .7 5.2 .7 10.8 .7 6.4 .7-2.3 .7-5.1 .7 17.9 .7-15.8 .7 16.8 .7-9 .7-18.2 .7-14.6 .7 40.1 .7-42 .7 15.9 .7 20.9 .7-5.6 .7 7.6 .7-5.4 .7-11.2 .7 8.1 .7-16.6 .7 19.7 .7 3.6 .7-6.2 .7-11.1 .7 14.2 .7-10.6 .7 2.4 .7 19.8 .7-12.8 .7-17.2 .7 24 .7-17 .7 1 .7 17.6 .7 1.9 .7-7.3 .7 1.9 .8-2.1 .7-11.8 .7 21.9 .7-26.4 .7 27.7 .7-27.6 .7-1.5 .7 2.2 .7 3.9 .7-4.5 .7 2.6 .7 24.7 .7-4.5 .7-1.6 .7-7 .7-.2 .7 3.6 .7 3 .7 5 .7-3.3 .7-18.8 .7 11.9 .7-10.3 .7 19 .7-20.2 .7-7.6 .7 2.6 .7-12.9 .7 18.2 .7 9.5 .7-10.4 .7 12.2 .7-4.5 .7 7.1 .7-36.6 .7 20.3 .7 18.8 .7-8.1 .7-11.4 .7 15.2 .7 2.7 .7 .8 .7-24.3 .7 5.8 .7 22.2 .7-30.8 .7 14.5 .7-4.5 .7 5.1 .7 6.6 .7-6.8 .7 6.5 .7-15.3 .7-6.7 .7-16.1 .7 48.3 .7-11.3 .8-44.4 .7-1.4 .7 28.3 .7 4.7 .7 3.4 .7 2 .7 15.7 .7-10.2 .7-10.8 .7 18.4 .7 1.5 .7-2.3 .7-36.1 .7 39 .7-11.2 .7-19.6 .7 1.2 .7-1.8 .7 9.8 .7-7.9 .7 22.8 .7-15.2 .7-5 .7 26.1 .7-15.3 .7-12.9 .7 .9 .7 1 .7 10.6 .7 1.4 .7-1.8 .7 5.4 .7-2.7 .7-15.5 .7 9.8 .7 8.8 .7-7.4 .7 9.7 .7-25.1 .7 25.2 .7 .4 .7-1.2 .7-7.7 .7 1.5 .7-7.7 .7-3.9 .7 19.4 .7-12.3 .7 1.9 .7 5.6 .7-14.1 .7 10.9 .7-16.3 .7 14.2 .7 1.9 .7 6.4 .7-1.5 .8-18 .7 25.8 .7-4.2 .7-38 .7 28.2 .7-6 .7-4.2 .7-2.7 .7 18.2 .7-10.9 .7-8.2 .7 3.6 .7 8.5 .7-7.8 .7-.3 .7 6.6 .7 12.1 .7-2.6 .7-11.6 .7-4.3 .7 20.3 .7-22.8 .7 9.9 .7-13.4 .7 20.9 .7-4 .7-19.7 .7 14.3 .7 7.6 .7-1.4 .7-14.1 .7 6 .7 9.6 .7-46.8 .7 36 .7 3.8 .7 9.4 .7-37.7 .7 19.8 .7-5.9 .7 9.4 .7 12.4 .7-16.2 .7 17.2 .7-25.3 .7 15.5 .7-16.5 .7 28.8 .7-15.8 .7-1.1 .7-6.5 .7-5.5 .7 .3 .7 9 .7-34 .7 53.7 .7-14.4 .7-41.3 .8 47.5 .7-12 .7 11.3 .7 1.9 .7 5.5 .7-50 .7 51.3 .7-19.7 .7 17.2 .7-12.7 .7-14.7 .7-.1 .7 18.4 .7-4.1 .7 2.4 .7 1.1 .7 6.2 .7-17.9 .7 14.7 .7 8.4 .7-44.5 .7 28.5 .7-6.3 .7 12.8 .7 .3 .7-12.9 .7 24.7 .7-7.2 .7-.1 .7-16.3 .7 14.2 .7-22.3 .7 .5 .7 30.1 .7-11.2 .7-14 .7 14.2 .7 3.1 .7-17.6 .7 1.1 .7 26.8 .7-6.1 .7-10.4 .7 16.7 .7-28.4 .7-3.7 .7 16.9 .7-7.3 .7 10.7 .7 11.1 .7-26.3 .7-3.7 .7-23.8 .7 47.5 .7-1.8 .7-39.3 .7 24.6 .8-4.3 .7 5.5 .7 17.2 .7-4.2 .7-20.9 .7 9.8 .7 .5 .7 15.1 .7-18.6 .7 20.8 .7 1.8 .7-22.9 .7 15.5 .7-8 .7-9.2 .7 17.2 .7-19.5 .7 29.3 .7-6.6 .7-13.7 .7 4.3 .7-9.7 .7 14.6 .7 6.4 .7 4.6 .7-31.7 .7-16.6 .7 19.1 .7 29.6 .7-7.1 .7 .7 .7-39.1 .7-7.7 .7 47.4 .7-21.9 .7-14.9 .7-9.2 .7 37.1 .7-8.7 .7 15.6 .7-7.4 .7 14.4 .7-5.8 .7 2.8 .7-4.8 .7-9.5 .7-4 .7-6.4 .7 29 .7-5.6 .7-9.9 .7 7.1 .7-18.3 .7 5.3 .7 10.8 .7-34.3 .7 44.6 .8-17.8 .7 10.4 .7-30.4" stroke="#00bfbf" stroke-width="2.5"/>
<path d="M1157.2 1810.8l.7-12.5 .7-15 .8 11.9 .7 4.5 .7 23.6 .7 5.1 .7 17.6 .7-15.8 .7 3.6 .7 8.7 .7 6.7 .7-4.1 .7-11 .7 12 .7-5.9 .7-15.2 .7 16 .7-5.9 .7-2.2 .7 3.4 .7-3.5 .7 15.5 .7-11.7 .7-3.2 .7 8.1 .7-8.2 .7 9.9 .7 3.9 .7-4.9 .7-21.8 .7 28.2 .7-8.3 .7-.6 .7 5.1 .7-2 .7 3.6 .7-8.1 .7 11.4 .7-4.1 .7-12.9 .7 7.2 .7 2.2 .7 6.5 .7-1.6 .7-14.3 .7-8.1 .7 6.1 .7 16.7 .7 2.3 .7-15.5 .7 6.2 .7 1.6 .7 6.4 .7-9.3 .7 2 .7-4.7 .7 .4 .7 11.8 .7-2.8 .8-.1 .7-3.9 .7-4.7 .7-3.5 .7-1.6 .7 1.2 .7-2.3 .7-11.4 .7 20.7 .7 8.6 .7-11.5 .7-2.7 .7 8.2 .7-20.8 .7-3.6 .7 15.6 .7-11.6 .7 14.1 .7 12.5 .7-9.1 .7 5.4 .7-28.6 .7 24 .7 7.3 .7-11.4 .7-21.8 .7 .3 .7 26.7 .7-1.7 .7 2.4 .7-.6 .7 4.9 .7-6.7 .7-6.9 .7 10.3 .7-10.9 .7 7.2 .7 5.4 .7-23 .7 26.4 .7-4.1 .7-5.8 .7-2 .7 8.3 .7-11.1 .7 7.5 .7 3.5 .7-8.1 .7 5.2 .7-5.5 .7-2.3 .7-.1 .7-1.9 .7 12.1 .7-.3 .7-3.7 .7-4.5 .7 13.5 .8-17.5 .7-5.5 .7 11.2 .7 1.7 .7 .8 .7 3.5 .7 2.7 .7-5.6 .7 4.3 .7-8.4 .7 7.5 .7 .1 .7-9.3 .7 8.1 .7-.8 .7 5.2 .7-5.8 .7-2.6 .7-.6 .7-3.7 .7 5 .7 9.4 .7-4.1 .7-.3 .7-11.8 .7 10.8 .7 4.2 .7-33.2 .7 20.8 .7 9.9 .7-6.2 .7 7.3 .7-3.2 .7-19.1 .7 18 .7 7.9 .7-2.6 .7-2.3 .7-18 .7 21.6 .7-10.6 .7-3.1 .7 13.7 .7 .9 .7-7.8 .7 5 .7 2 .7-6.5 .7-8.9 .7 .1 .7 2.9 .7 7.5 .7-4.5 .7-3.2 .7 5.1 .7 1.5 .7 3.1 .8-2.5 .7 2 .7-8.5 .7 12.8 .7-10.4 .7-1.8 .7 4.7 .7-5.3 .7 10.9 .7-8.8 .7 6.6 .7-9.1 .7-1.9 .7 6.1 .7 9.4 .7-10.4 .7 9.5 .7-13.2 .7 .2 .7 2.9 .7 3.6 .7-16 .7 22.6 .7-12.8 .7-.5 .7 .2 .7-16.5 .7 24.7 .7-4.2 .7-.1 .7 8.3 .7-3 .7 3.2 .7 .9 .7-22.1 .7 22.4 .7-6.4 .7 4 .7-2 .7 3.8 .7 .1 .7 .6 .7-.4 .7-4.5 .7-5.3 .7 10.2 .7-9.4 .7-.3 .7-1.2 .7-.7 .7 5.9 .7 5.5 .7-7.1 .7-3.8 .7 1.7 .7-5.4 .7 2.9 .8 10.9 .7 1 .7-.4 .7-7.3 .7 2.3 .7 4.9 .7-10.2 .7 6.3 .7 3.6 .7-10 .7 4 .7 2.6 .7 2.2 .7-22.9 .7 14.6 .7-14.2 .7-1.5 .7 26 .7-12.8 .7 2.2 .7 10.7 .7-15.4 .7 10.2 .7 2.2 .7-5.4 .7 4.3 .7-4 .7-1 .7-3.5 .7 1.7 .7 9.8 .7 .4 .7-10 .7-4.4 .7 15 .7-2.6 .7-9.2 .7-1.8 .7 3.9 .7-4.1 .7-10.2 .7 19.3 .7-6.7 .7 7.7 .7 3.3 .7-23.7 .7 13.9 .7 7 .7-7.5 .7 5.1 .7-4 .7-1.5 .7 10.8 .7-14.8 .7 1.6 .7 9.3 .7-1.3 .8-7.9 .7 11.1 .7-9.3 .7 6.4 .7 5.3 .7-5 .7-1.9 .7 2.8 .7-22.3 .7 11.8 .7 5.9 .7-4.5 .7 11.8 .7 1.2 .7-2.9 .7-11 .7 4.9 .7 2.8 .7-2.4 .7-.6 .7 4.4 .7-10.2 .7 14.7 .7-8.4 .7 3.6 .7 3.2 .7-9 .7 7.5 .7 3.4 .7-10.4 .7-4.5 .7 11.7 .7-8.8 .7 3.6 .7 7.7 .7-3.4 .7-5.1 .7 2.3 .7-6.1 .7 13.1 .7-14.7 .7 13 .7-2.9 .7-12.4 .7 2.3 .7 9 .7-7.1 .7-.5 .7 6.4 .7-11.2 .7 16.4 .7-28.3 .7 19.9 .7 1.3 .7-17.2 .7 15.1 .7-3.3 .8-1.3 .7-2.2 .7 11.4 .7 .3 .7-5.3 .7-1.1 .7 2.4 .7-2.8 .7 3.7 .7-21.3 .7 14.4 .7 4.2 .7 9.9 .7-14.6 .7 7.8 .7 1.4 .7 4.9 .7-30.8 .7-.9 .7 25.7 .7 2.1 .7-8.3 .7-7.5 .7-7.8 .7 9.2 .7-12.8 .7 22.4 .7 5.8 .7-4.4 .7-8.2 .7 .2 .7 4.4 .7-1.2 .7-6.9 .7 8.3 .7-7.9 .7-10.8 .7 25.1 .7-5 .7-6.1 .7-2 .7 10.3 .7 .1 .7-8.3 .7 6.5 .7-2.5 .7 1.7 .7 4.2 .7-10.7 .7-2.2 .7-1.5 .7 10.2 .7-6 .7 1.5 .7-2.2 .7-5.2 .7 13 .7 3.2 .8-25.7 .7 20.6 .7-9.4 .7 7.2 .7 7.4 .7-4 .7 3.7 .7-5.5 .7-10.3 .7 3.2 .7-17.6 .7 17.7 .7 7.3 .7 2.3 .7 1.9 .7-2.2 .7-5.7 .7 5.6 .7 .9 .7-16.4 .7 4.1 .7 6.6 .7 6.7 .7-24.2 .7 22 .7-8 .7 7.6 .7-8.6 .7-17.4 .7 19 .7-.4 .7-1 .7-3.3 .7 .3 .7-10.2 .7 9.9 .7 4.3 .7-6.4 .7 16.7 .7-10.3 .7 7 .7-28.1 .7 26.3 .7-7.4 .7 6.3 .7-7 .7 4 .7-21.2 .7 19.2 .7 6.8 .7-4.2 .7-7.9 .7 7.6 .7-.2 .7-21.2 .7 2 .7 16 .8-2.1 .7 1.6 .7 4 .7 7.1 .7-15.8 .7 5.2 .7-23.4 .7 16.3 .7-6.5 .7 6.3 .7 8.1 .7-2.8 .7 .9 .7 7.5 .7-16 .7 16.3 .7-13.3 .7-1.2 .7 4.2 .7-20.5 .7 27.4 .7 5.4 .7-16.8 .7 5.8 .7-19.9 .7 29 .7-7.9 .7-4.2 .7-19.9 .7 22.4 .7-5.2 .7-.3 .7-2.2 .7 8.5 .7-3.9 .7 .3 .7 10.9 .7-.3 .7-8.1 .7 5.1 .7-8 .7 .3 .7 .9 .7-4.9 .7-7 .7 17 .7-.9 .7-11.5 .7 12 .7-11.4 .7 8.3 .7 9.1 .7 .7 .7-2.4 .7-9.8 .7-7.1 .7 17.4 .8-10.2 .7 11.6 .7-18.6" stroke="#0000ff" stroke-width="2.5"/>
</g></svg>
<svg x="1664.4" y="1542" width="401.5" height="312.8" viewBox="1664.4 1542 401.5 312.8" overflow="hidden"><g fill="none" stroke-linejoin="round">
<path d="M1682.7 1795.8l.7-50.3 .7-42.6 .7 26 .7 41.9 .7 18.2 .7-14.8 .7 20.8 .7-19 .7-29.5 .7 43.3 .7-1.7 .7-27.3 .7 22.6 .7-18.1 .7 16 .7-9.7 .7 1.4 .7 23 .7-18.8 .7 20.4 .7 .9 .7-13 .7 4.6 .7 14.3 .7-46 .7 33 .7-32.2 .7 26.3 .7 .9 .7 4.5 .7 19.5 .7-15 .7-45.6 .7 54 .7-18.7 .7 3.6 .7-33.1 .7 45.8 .7-17 .7 19.5 .7-.5 .7 9.5 .7-14.1 .7-42.7 .7 29.5 .7 24.1 .7 3.9 .7-13.5 .7-10.3 .7-6.8 .7 12.5 .7 7.4 .8 2.6 .7-6.9 .7 14 .7-50 .7 42.3 .7 9.8 .7-21.4 .7-9.7 .7 10.9 .7 11.4 .7 2 .7-50.4 .7 57.4 .7-16.7 .7 7.1 .7 6.3 .7-13.1 .7 5 .7 2.7 .7-3.5 .7-9.2 .7 23 .7-24.7 .7 3.7 .7-7.2 .7 24 .7-37.9 .7 39.8 .7-47 .7 41.6 .7-19.6 .7 20.9 .7 2.6 .7-19.4 .7 2 .7 3.5 .7 10.8 .7-15.8 .7 11.1 .7-11.8 .7 16.9 .7-1.3 .7-1.5 .7-11.3 .7 14.1 .7-16.6 .7 1.9 .7 10.8 .7 4.3 .7-3.9 .7 1.6 .7-14.7 .8 22.3 .7-4.7 .7-11.2 .7 15.8 .7 6.7 .7-1.9 .7-8.1 .7-5.5 .7-6.9 .7 8.6 .7 5.5 .7-14.7 .7 13.1 .7-.6 .7-9.9 .7-34.5 .7 34.2 .7-26.5 .7 13.9 .7 .2 .7 23.7 .7 7.6 .7-4.3 .7-21.8 .7-2.7 .7-1.3 .7-3.8 .7 17.9 .7 1.7 .7-1.9 .7-13.7 .7 10.7 .7 1.1 .7 16 .7-6.3 .7 .6 .7-21.7 .7 12.8 .7-1.6 .7-3.7 .7 15.6 .7-20.7 .7 27.1 .7-4.7 .7 4.2 .7-20.2 .7 10.8 .7-3.4 .7 2.8 .7-5.4 .7-6 .7 13.5 .8 5.9 .7-4.2 .7 15.1 .7-7.7 .7 2.9 .7-2.6 .7-40.2 .7 30.6 .7 14.3 .7-50.2 .7 25.5 .7-15.1 .7 43.1 .7-43.4 .7 22.3 .7-4.4 .7-27.7 .7 32.6 .7 23.3 .7 .1 .7-16.9 .7 8 .7-18.8 .7 22.7 .7-5.5 .7-11.1 .7 7.9 .7-17.2 .7 0 .7 20.3 .7-4.6 .7 1.2 .7-27.3 .7 29.1 .7 1.6 .7-19.5 .7 7.6 .7-2.8 .7 22.6 .7-10.7 .7-2.8 .7-12.5 .7 21 .7-33.7 .7 30.2 .7-14.5 .7-3.3 .7 23.9 .7-1.4 .7-8.7 .7 7.9 .7-12.2 .8-6.1 .7 .6 .7 5.3 .7 23.8 .7-10.7 .7-16.6 .7 10.1 .7-2 .7 3.7 .7-11.2 .7 17.5 .7 3.6 .7-10.1 .7-13.4 .7 13.4 .7-2.9 .7 9.6 .7-5.3 .7 9.2 .7 5.1 .7-29 .7 5.5 .7 21.9 .7-18.7 .7-31.3 .7 3.7 .7 25 .7-18.9 .7 39.5 .7 3.3 .7-22 .7 5 .7 7 .7-10.2 .7 19.8 .7-20.1 .7 9 .7-10.9 .7 18 .7-19.4 .7 14.1 .7 10.9 .7-15.2 .7 5.5 .7-27.5 .7 11.9 .7 31.2 .7-7.5 .7-21.7 .7 .9 .7 23.9 .7-13.8 .8 8.3 .7-14.3 .7 15.7 .7 3.7 .7-7.3 .7-11.7 .7 24.6 .7-18.1 .7-1.1 .7-3.1 .7 7.3 .7-5.8 .7 21.3 .7-21.1 .7-7.1 .7 25.7 .7 .5 .7-13.5 .7-1.9 .7-1.4 .7 9.4 .7-10.8 .7 3.7 .7-15.8 .7 6.3 .7 .9 .7-21.9 .7 25 .7 13.8 .7-15.3 .7 5.8 .7 9.8 .7-23.3 .7 8.2 .7-7.9 .7-11.5 .7 13 .7 5.7 .7-8.4 .7 16 .7-14.3 .7 15.8 .7 2.5 .7-14.4 .7-6 .7-7 .7 12.9 .7-36.2 .7 1.8 .7 24.4 .7-7.6 .7 4.6 .8 9.8 .7-18.9 .7 9.7 .7 17.6 .7-2 .7 2.4 .7-19.7 .7 12.1 .7-20.5 .7 3.4 .7-17.4 .7 17.8 .7 16.8 .7 5.4 .7-5.9 .7-17.1 .7 6.2 .7-2.3 .7-37 .7 34.9 .7 22.6 .7-1 .7-26.3 .7 21 .7-35.1 .7 10.6 .7 15.8 .7-15.8 .7 8.8 .7-23.2 .7 35.1 .7-2 .7-6.9 .7 10 .7-11.4 .7-7.6 .7 26.2 .7-21.9 .7 .9 .7-25.3 .7 21.4 .7 12.8 .7 .6 .7-19.6 .7 27.5 .7-1.9 .7-20.8 .7 2.1 .7-37.5 .7 28.5 .7 1 .7 13.3 .8 15.4 .7-6.1 .7-25.4 .7 21.6 .7-12.3 .7-26.9 .7 39.2 .7 1.1 .7-21.1 .7 8.8 .7 1.1 .7 5.3 .7-3.5 .7 2.1 .7-.1 .7 6.5 .7-10.8 .7-9.1 .7 27.9 .7-14.5 .7 15.8 .7-23.1 .7 5.5 .7-41.6 .7 32.4 .7 17.7 .7-6.4 .7 5.5 .7-6.7 .7 6.2 .7-8.2 .7-30.1 .7 20.9 .7 2.1 .7-4.1 .7 20.2 .7-10.1 .7-14.7 .7 15.8 .7 5.3 .7 7.1 .7-13.9 .7-.2 .7-14.2 .7 28.1 .7-26.7 .7 22.7 .7-1.7 .7-45.7 .7 27.4 .7 8.3 .7-13.2 .8 28.6 .7-12.8 .7-3.5 .7 7.8 .7-12.1 .7-7.9 .7 4.4 .7 5.9 .7-4.1 .7 21 .7-16.7 .7 13.2 .7-12 .7 3.8 .7-8.9 .7 1.2 .7 3.8 .7 17 .7-18.7 .7 11 .7 10 .7-13.4 .7-7.9 .7 18.8 .7-27.5 .7 18.1 .7-8.8 .7-12.5 .7 28 .7-.9 .7 2.8 .7-6.8 .7-15 .7 6.3 .7 9.3 .7-43.3 .7 47.6 .7-7 .7 5.1 .7-.4 .7-14.6 .7 3 .7 14.9 .7-7 .7-1.1 .7 9.9 .7-26.6 .7 26.6 .7-9.7 .7-10.5 .7 21.8 .7-17.5 .8 3.6 .7 3.6 .7-12.9 .7 2.6 .7-36.2 .7 54.3 .7-24.9 .7 2.4 .7 23.4 .7-1.8 .7-20.5 .7 17.8 .7-.5 .7-22.3 .7 7.7 .7-29.9 .7 32.2 .7 5.2 .7 13.5 .7-14.7 .7 15.1 .7-23.9 .7 3.5 .7 17.5 .7-26.1 .7 1.9 .7 29 .7-11.5 .7-18.7 .7 28.7 .7 2.7 .7-3 .7-5 .7 7.1 .7-39.8 .7 33.8 .7 2.3 .7-26.9 .7 5 .7-29.3 .7 49.2 .7 2.4 .7-.9 .7-9.9 .7 12.6 .7 2.9 .7-15.4 .7 15.5 .7-8 .7-15.7 .7 18.1 .7-36" stroke="#ff0000" stroke-width="2.5"/>
<path d="M1682.7 1795.4l.7-35.2 .7-37.2 .7 18.1 .7 23.5 .7-3.4 .7 14.6 .7 29.3 .7 1.4 .7-17.7 .7-1.5 .7 4 .7 6.5 .7-2.5 .7 14.1 .7-32.6 .7 29.5 .7-13.5 .7 16.1 .7 2.4 .7-35.6 .7 20.4 .7 14.2 .7-27.2 .7 28.9 .7 1.1 .7-11.6 .7-6.1 .7 12.9 .7-12.8 .7 10.5 .7-.2 .7 7.6 .7-.7 .7-7.6 .7 3.9 .7-15.3 .7 13.3 .7-13.2 .7 3 .7-2.3 .7-16.3 .7 33.4 .7-15.4 .7 20.1 .7-15.2 .7-1 .7 2.6 .7 6.6 .7 .9 .7-22.1 .7 21.8 .7 7.2 .8-5.1 .7-14.8 .7 17.3 .7-31.9 .7 34.7 .7-10.5 .7 11.8 .7-3.6 .7-.6 .7-10.6 .7 15.6 .7-36.1 .7 32 .7-27.6 .7 30.3 .7-11 .7 8.8 .7 8.2 .7-18.4 .7 6.1 .7-5.5 .7 8.9 .7-25.4 .7 18.8 .7-3.4 .7-2.8 .7 8.8 .7 11.5 .7-6.5 .7-22.9 .7 28.7 .7-35.8 .7 40.1 .7-15.7 .7-1.9 .7-16.2 .7 12.9 .7 21.2 .7-4.1 .7 4 .7-1.1 .7 3.7 .7-22.3 .7-17 .7 39.4 .7-9.4 .7-2.1 .7 2.2 .7 2.6 .7 4 .7-7.5 .7-5 .8 7.8 .7-6.1 .7-7.8 .7 3.5 .7 2.9 .7 1.6 .7 13.1 .7-9.9 .7 10 .7-11.8 .7-27.5 .7 24.6 .7-5 .7 8.3 .7 4 .7 10.1 .7-19.3 .7 7.8 .7 9.8 .7-10.7 .7 .3 .7-30.5 .7 21.3 .7 20.7 .7-9.1 .7-10.8 .7 15.2 .7-5.5 .7-5.9 .7 14.5 .7-5.1 .7 7.2 .7-10.8 .7 12.3 .7-15.3 .7-16.9 .7 28.9 .7-2.4 .7 4.5 .7-16.8 .7-2.6 .7-16 .7 23.5 .7-24.3 .7 15.8 .7 13.6 .7-.5 .7-31.2 .7 30.6 .7-2.3 .7-2.7 .7 4.9 .8-16.1 .7 8.4 .7 12.7 .7 3 .7-7.9 .7 14.2 .7-21.8 .7 15.9 .7-24.4 .7 31.7 .7-9.8 .7-2.8 .7 5.4 .7 6.9 .7-20.2 .7-8 .7 27.8 .7-18.9 .7 17.5 .7-3.2 .7-6.1 .7-22.4 .7 31.7 .7-5.8 .7 11.1 .7-6.8 .7 .2 .7-6.9 .7-4.1 .7 9.8 .7 .7 .7-2.2 .7-5.7 .7 10.6 .7 5.6 .7-5 .7 4.4 .7-15.7 .7-23.7 .7 38.9 .7-15.9 .7 13.1 .7-4.7 .7 7.3 .7-13.5 .7 13.6 .7-.4 .7-14.2 .7 8.2 .7-6 .7 14.8 .7-1.8 .8 .3 .7-21.4 .7 10.5 .7-3.5 .7 1.4 .7-6.8 .7 13.5 .7-6.2 .7-6.7 .7 16.1 .7-1.7 .7-12.4 .7 10.4 .7-8.8 .7 4.1 .7-5.4 .7 13 .7 4.6 .7-19 .7 1.7 .7 1.5 .7 2.9 .7 11.6 .7 2.4 .7-20.7 .7 1.3 .7 17.8 .7-10.6 .7 7.3 .7-3.9 .7-4.8 .7-1.6 .7 1.4 .7 3.8 .7-3 .7-1.7 .7-1.2 .7 15.9 .7-29.4 .7 28.1 .7-13.1 .7-7.3 .7-10.8 .7 18.8 .7 7.9 .7-.3 .7-1.8 .7-15 .7 1.4 .7 10.8 .7 3.8 .7 .8 .8-4.8 .7 1.7 .7-1.7 .7-2 .7 5.1 .7-11 .7 2.3 .7 7.1 .7-16.1 .7 9.7 .7 10 .7-13 .7 5.5 .7-3.3 .7-6.1 .7 3.7 .7 4.3 .7-12.7 .7 18.8 .7-18.1 .7 9.7 .7-5.6 .7-22.6 .7 29.6 .7-7.1 .7 6.8 .7-13 .7 10.5 .7-5.1 .7-3.9 .7 4.4 .7 3.9 .7 8.5 .7-4 .7 .6 .7-4.3 .7-7.7 .7 0 .7 3.6 .7 12.3 .7-19.4 .7 12.4 .7 1.9 .7 .4 .7-11.9 .7 1.9 .7-8.2 .7-19.1 .7 26.8 .7 9.4 .7-11.9 .7-6.5 .8 8.9 .7 8.2 .7-4 .7-8.3 .7-12.1 .7 28.6 .7-20.2 .7 2.3 .7-25.1 .7 24.4 .7-1.9 .7 10.9 .7 3 .7-9.8 .7-3.3 .7 16.1 .7-9.9 .7-1.2 .7 12.4 .7-4.4 .7-10.2 .7-25.9 .7 33 .7-10.4 .7-15.4 .7 29.8 .7-1.9 .7-5.3 .7-5.3 .7 13.1 .7-21.5 .7 20 .7 .7 .7-14.3 .7 14 .7-40.8 .7 41.1 .7-.9 .7-38 .7 34.7 .7-13.9 .7 8.2 .7 9.3 .7-7.9 .7-5.7 .7 6.4 .7-3.4 .7 1.8 .7-13.6 .7 3.3 .7 9.5 .7-6.4 .8 14 .7-11.9 .7-22 .7 12.5 .7 18.6 .7-13.5 .7 13.3 .7-35 .7 18 .7 .1 .7 2 .7-17.2 .7 32.7 .7-2 .7-1.2 .7-17.4 .7 14.1 .7 .7 .7-12.4 .7 13.6 .7-13 .7 1 .7 12.5 .7 2.4 .7-6.2 .7 2.8 .7 3.9 .7-12.9 .7-9.2 .7-10.8 .7 21.2 .7-29.1 .7 34.4 .7-33.4 .7 38.4 .7-1.5 .7-33.7 .7 28.8 .7 7.9 .7-18.9 .7-2.2 .7 8.3 .7-2.1 .7 10.3 .7 .1 .7-15.5 .7-16 .7 15.2 .7 13.5 .7-14.1 .7 17.2 .7 2.5 .8-21.8 .7 16.8 .7-9.4 .7 1.9 .7 4.2 .7 6.7 .7-16.1 .7 8.5 .7-4.5 .7 6.9 .7-11.3 .7 12 .7-2.5 .7 .9 .7-13 .7 12.5 .7-8 .7 5.9 .7 10.2 .7-2.2 .7-21.6 .7 19 .7-4.5 .7-8.2 .7 11.6 .7-28.5 .7 12.4 .7 16 .7-2.8 .7 .6 .7 5.3 .7 2.1 .7-18.4 .7 1 .7 7.6 .7-12.2 .7 2 .7 19.9 .7-2.1 .7-20.6 .7 .7 .7 15.9 .7-.7 .7-5.4 .7 9.4 .7-5.7 .7-.9 .7 1.2 .7 7.9 .7-12.9 .7-24.4 .7 17.2 .8 18.8 .7-20 .7 17 .7-35.5 .7 35.8 .7-10.6 .7 13.9 .7-20.2 .7 20.6 .7-8.4 .7 2.4 .7-4.5 .7-5 .7 10.2 .7-.7 .7-5.7 .7 11.6 .7-15.6 .7 4.5 .7-7.6 .7 11.8 .7 8.1 .7-20.2 .7 12.8 .7-2.7 .7-.9 .7-22.6 .7 18.2 .7 11.3 .7-15.6 .7 6.3 .7-25.6 .7 18.4 .7 14.1 .7 4.1 .7-14 .7 15.3 .7-31.2 .7 18.7 .7-3.6 .7 18.6 .7-18.9 .7 4.5 .7-.8 .7 6.2 .7 1.7 .7-12 .7 2.2 .7-.4 .7 12.4 .7-.8 .7-.8" stroke="#bf00bf" stroke-width="2.5"/>
<path d="M1682.7 1804.8l.7-28 .7-30.7 .7 11.9 .7-1.8 .7 32.9 .7-6.8 .7 14.9 .7 3.9 .7-13.1 .7 28.1 .7-18.7 .7-6.7 .7 20 .7-9.2 .7 16.8 .7 .1 .7-.4 .7 3.6 .7-22 .7-19 .7 17.6 .7-20.8 .7 31.2 .7 16.2 .7-7.2 .7 6.9 .7-6.2 .7-29.1 .7 39.5 .7-16.3 .7-5.7 .7 18.8 .7 2.3 .7-18.3 .7-6.8 .7 11 .7 2.2 .7 1.2 .7 12.2 .7-9.2 .7-8.1 .7 12.2 .7-18.9 .7 21.5 .7-9 .7 11.6 .7-25.3 .7 20.9 .7-38.4 .7 45.2 .7-13.8 .7-9.5 .8 21.9 .7-3.8 .7-42 .7 45.8 .7-25.8 .7 22.4 .7-9.3 .7 1.2 .7-13.8 .7 13.5 .7 5.3 .7-21.4 .7 19.2 .7-6.5 .7 9.7 .7-9.3 .7 14.9 .7-7.5 .7-21.3 .7-6.5 .7 17.5 .7-24.8 .7 17.2 .7-10.3 .7 6.7 .7 24.5 .7-.8 .7-16.9 .7 14.9 .7-20.7 .7 7.5 .7-1.2 .7-30.4 .7 39.7 .7 8.5 .7-19.1 .7 20.9 .7-14.5 .7 14.8 .7-18.7 .7-5.9 .7 10.4 .7 5.9 .7-10.5 .7 8.7 .7-2.6 .7 11.5 .7 2.8 .7-19.2 .7 9.4 .7-7.6 .7-4.5 .8 5.4 .7 .7 .7 18.3 .7-6.7 .7-29.4 .7 9.7 .7 15.1 .7-39.4 .7 11.8 .7 36 .7 3.3 .7-18.5 .7-7.7 .7 26.6 .7 .2 .7-23 .7 4.9 .7 2.2 .7 14.2 .7-5.5 .7-15.3 .7 15.1 .7-15.9 .7-4.2 .7 11.4 .7 6.9 .7-17.7 .7 23.2 .7-14.7 .7 0 .7 10.7 .7-7.3 .7 1.4 .7-5.8 .7 1.8 .7 17 .7 .6 .7-6.2 .7-10.2 .7-19.2 .7 36.3 .7-7.8 .7-30.7 .7 16 .7 16.9 .7-6.7 .7-4.9 .7 2.1 .7 9.5 .7 9.4 .7-22.4 .7 2.9 .8-1.4 .7 1.2 .7-15.2 .7 38.1 .7-21.5 .7 14.3 .7-3.2 .7-14.6 .7 7 .7-5.2 .7 8.8 .7-9.9 .7 15.7 .7-18.3 .7 22.2 .7 2.3 .7-5.6 .7 6.6 .7-25.4 .7 20.9 .7-5.9 .7-4.6 .7 4.5 .7 13.1 .7-5.1 .7 .5 .7 5.1 .7-44.4 .7 17.1 .7 19.4 .7-14.3 .7 16.1 .7 4.1 .7-6.4 .7-13 .7-26.8 .7 23.9 .7 4.4 .7 9.3 .7 5.5 .7-2 .7-4.3 .7 15.3 .7-13.5 .7 14.4 .7-7.8 .7-15.6 .7-12.6 .7 34.6 .7-36.2 .7 13.7 .7 18 .8-4.9 .7 6.6 .7-4.7 .7-9.6 .7 7 .7-14.3 .7 16.9 .7 3.1 .7-5.3 .7-9.5 .7 12.2 .7-9.1 .7 2.1 .7 16.9 .7-11 .7-14.8 .7 20.7 .7-14.6 .7 .8 .7 15.2 .7 1.6 .7-6.3 .7 1.6 .7-1.7 .7-10.2 .7 18.9 .7-22.7 .7 23.7 .7-23.6 .7-1.4 .7 1.9 .7 3.4 .7-3.9 .7 2.3 .7 21.2 .7-3.9 .7-1.4 .7-6 .7-.1 .7 3 .7 2.6 .7 4.3 .7-2.8 .7-16.2 .7 10.2 .7-8.8 .7 16.3 .7-17.3 .7-6.5 .7 2.2 .7-11.1 .7 15.6 .8 8.2 .7-9 .7 10.5 .7-3.8 .7 6.1 .7-31.5 .7 17.4 .7 16.2 .7-6.9 .7-9.8 .7 13 .7 2.4 .7 .6 .7-20.9 .7 5 .7 19.1 .7-26.5 .7 12.5 .7-3.9 .7 4.4 .7 5.7 .7-5.9 .7 5.6 .7-13.1 .7-5.8 .7-13.8 .7 41.5 .7-9.7 .7-38.2 .7-1.2 .7 24.3 .7 4.1 .7 2.9 .7 1.7 .7 13.5 .7-8.8 .7-9.2 .7 15.8 .7 1.3 .7-2 .7-31.1 .7 33.6 .7-9.6 .7-16.9 .7 1 .7-1.5 .7 8.4 .7-6.8 .7 19.7 .7-13.1 .7-4.4 .7 22.5 .8-13.1 .7-11.2 .7 .8 .7 .9 .7 9.1 .7 1.2 .7-1.6 .7 4.7 .7-2.3 .7-13.3 .7 8.4 .7 7.6 .7-6.4 .7 8.3 .7-21.6 .7 21.7 .7 .3 .7-1 .7-6.6 .7 1.3 .7-6.6 .7-3.4 .7 16.7 .7-10.6 .7 1.7 .7 4.8 .7-12.1 .7 9.4 .7-14.1 .7 12.2 .7 1.7 .7 5.5 .7-1.3 .7-15.5 .7 22.1 .7-3.6 .7-32.6 .7 24.3 .7-5.2 .7-3.6 .7-2.4 .7 15.7 .7-9.4 .7-7 .7 3.1 .7 7.3 .7-6.8 .7-.2 .7 5.7 .7 10.4 .7-2.2 .7-10 .8-3.7 .7 17.5 .7-19.7 .7 8.6 .7-11.6 .7 18 .7-3.5 .7-16.9 .7 12.3 .7 6.6 .7-1.3 .7-12.1 .7 5.2 .7 8.2 .7-40.2 .7 31 .7 3.2 .7 8.1 .7-32.4 .7 17 .7-5.1 .7 8.1 .7 10.7 .7-14 .7 14.9 .7-21.8 .7 13.3 .7-14.2 .7 24.8 .7-13.6 .7-.9 .7-5.7 .7-4.7 .7 .3 .7 7.7 .7-29.2 .7 46.2 .7-12.5 .7-35.4 .7 40.8 .7-10.3 .7 9.7 .7 1.6 .7 4.8 .7-43.1 .7 44.2 .7-16.9 .7 14.8 .7-11 .7-12.6 .7-.1 .7 15.8 .8-3.5 .7 2.1 .7 .9 .7 5.4 .7-15.5 .7 12.7 .7 7.2 .7-38.3 .7 24.6 .7-5.5 .7 11 .7 .3 .7-11.1 .7 21.3 .7-6.3 .7-.1 .7-14 .7 12.2 .7-19.1 .7 .4 .7 25.9 .7-9.7 .7-11.9 .7 12.1 .7 2.7 .7-15.1 .7 .9 .7 23.1 .7-5.3 .7-9 .7 14.5 .7-24.5 .7-3.2 .7 14.6 .7-6.3 .7 9.1 .7 9.6 .7-22.6 .7-3.2 .7-20.4 .7 40.8 .7-1.5 .7-33.8 .7 21.1 .7-3.7 .7 4.8 .7 14.8 .7-3.7 .7-17.9 .7 8.4 .7 .4 .7 13 .8-16 .7 17.9 .7 1.5 .7-19.7 .7 13.4 .7-6.9 .7-7.9 .7 14.8 .7-16.8 .7 25.2 .7-5.7 .7-11.7 .7 3.6 .7-8.3 .7 12.6 .7 5.5 .7 3.9 .7-27.2 .7-14.3 .7 16.4 .7 25.4 .7-6.1 .7 .6 .7-33.5 .7-6.7 .7 40.8 .7-18.9 .7-12.7 .7-8 .7 31.9 .7-7.5 .7 13.5 .7-6.4 .7 12.4 .7-5 .7 2.4 .7-4.1 .7-8.2 .7-3.4 .7-5.5 .7 24.9 .7-4.8 .7-8.5 .7 6.1 .7-15.8 .7 4.6 .7 9.3 .7-29.5 .7 38.4 .7-15.4 .7 8.9 .7-26.1" stroke="#00bfbf" stroke-width="2.5"/>
<path d="M1682.7 1817l.7-10.8 .7-12.9 .7 10.3 .7 3.8 .7 20.3 .7 4.4 .7 15.1 .7-13.5 .7 3 .7 7.6 .7 5.7 .7-3.6 .7-9.4 .7 10.3 .7-5.1 .7-13 .7 13.7 .7-5.1 .7-1.9 .7 3 .7-3 .7 13.3 .7-10.1 .7-2.7 .7 7 .7-7.1 .7 8.5 .7 3.4 .7-4.3 .7-18.7 .7 24.3 .7-7.1 .7-.6 .7 4.4 .7-1.8 .7 3.2 .7-7 .7 9.8 .7-3.5 .7-11.1 .7 6.2 .7 1.9 .7 5.6 .7-1.4 .7-12.3 .7-6.9 .7 5.2 .7 14.4 .7 1.9 .7-13.3 .7 5.3 .7 1.4 .8 5.5 .7-8 .7 1.7 .7-4 .7 .3 .7 10.2 .7-2.4 .7-.1 .7-3.4 .7-4 .7-3 .7-1.4 .7 1 .7-2 .7-9.7 .7 17.8 .7 7.4 .7-9.9 .7-2.4 .7 7.1 .7-17.9 .7-3.1 .7 13.4 .7-9.9 .7 12.1 .7 10.7 .7-7.8 .7 4.7 .7-24.6 .7 20.5 .7 6.3 .7-9.7 .7-18.8 .7 .2 .7 23 .7-1.5 .7 2.1 .7-.5 .7 4.2 .7-5.7 .7-6 .7 8.9 .7-9.4 .7 6.2 .7 4.6 .7-19.7 .7 22.7 .7-3.6 .7-4.9 .7-1.8 .7 7.2 .7-9.6 .8 6.5 .7 3 .7-7 .7 4.5 .7-4.7 .7-2 .7-.1 .7-1.6 .7 10.4 .7-.3 .7-3.1 .7-3.9 .7 11.5 .7-15 .7-4.7 .7 9.6 .7 1.5 .7 .7 .7 3 .7 2.3 .7-4.9 .7 3.8 .7-7.2 .7 6.4 .7 .1 .7-8 .7 6.9 .7-.6 .7 4.5 .7-5.1 .7-2.1 .7-.6 .7-3.1 .7 4.2 .7 8.1 .7-3.5 .7-.3 .7-10.1 .7 9.3 .7 3.6 .7-28.6 .7 17.9 .7 8.6 .7-5.4 .7 6.3 .7-2.8 .7-16.4 .7 15.5 .7 6.8 .7-2.2 .7-2 .7-15.6 .8 18.6 .7-9.1 .7-2.7 .7 11.8 .7 .9 .7-6.8 .7 4.3 .7 1.7 .7-5.5 .7-7.7 .7 .1 .7 2.5 .7 6.4 .7-3.8 .7-2.8 .7 4.4 .7 1.3 .7 2.7 .7-2.2 .7 1.7 .7-7.3 .7 11 .7-9 .7-1.5 .7 4.1 .7-4.6 .7 9.4 .7-7.6 .7 5.7 .7-7.8 .7-1.7 .7 5.3 .7 8 .7-8.9 .7 8.1 .7-11.3 .7 .2 .7 2.5 .7 3.1 .7-13.7 .7 19.4 .7-11 .7-.5 .7 .2 .7-14.2 .7 21.2 .7-3.6 .7-.1 .7 7.2 .7-2.6 .7 2.8 .7 .7 .8-19 .7 19.3 .7-5.5 .7 3.4 .7-1.7 .7 3.3 .7 .1 .7 .5 .7-.3 .7-4 .7-4.5 .7 8.8 .7-8.1 .7-.2 .7-1.1 .7-.6 .7 5.1 .7 4.7 .7-6.1 .7-3.3 .7 1.5 .7-4.7 .7 2.6 .7 9.4 .7 .8 .7-.3 .7-6.4 .7 2 .7 4.3 .7-8.8 .7 5.4 .7 3.1 .7-8.6 .7 3.5 .7 2.2 .7 1.8 .7-19.7 .7 12.6 .7-12.2 .7-1.3 .7 22.4 .7-11 .7 1.9 .7 9.1 .7-13.2 .7 8.8 .7 1.9 .7-4.6 .7 3.6 .7-3.4 .7-.9 .7-3 .8 1.5 .7 8.5 .7 .3 .7-8.6 .7-3.8 .7 12.9 .7-2.3 .7-7.9 .7-1.5 .7 3.4 .7-3.5 .7-8.9 .7 16.7 .7-5.8 .7 6.6 .7 2.8 .7-20.3 .7 11.9 .7 6 .7-6.4 .7 4.4 .7-3.5 .7-1.2 .7 9.2 .7-12.7 .7 1.4 .7 7.9 .7-1.1 .7-6.8 .7 9.6 .7-8 .7 5.5 .7 4.6 .7-4.3 .7-1.7 .7 2.4 .7-19.1 .7 10.1 .7 5.1 .7-3.9 .7 10.1 .7 1.1 .7-2.5 .7-9.4 .7 4.2 .7 2.4 .7-2.1 .7-.5 .7 3.8 .7-8.8 .7 12.6 .7-7.1 .8 3.1 .7 2.7 .7-7.7 .7 6.4 .7 2.9 .7-8.9 .7-3.9 .7 10 .7-7.5 .7 3.1 .7 6.6 .7-2.9 .7-4.4 .7 2 .7-5.3 .7 11.3 .7-12.7 .7 11.2 .7-2.5 .7-10.7 .7 2 .7 7.8 .7-6.1 .7-.5 .7 5.5 .7-9.6 .7 14.1 .7-24.3 .7 17.1 .7 1.1 .7-14.7 .7 12.9 .7-2.8 .7-1.1 .7-1.9 .7 9.7 .7 .3 .7-4.5 .7-1 .7 2.1 .7-2.4 .7 3.1 .7-18.3 .7 12.4 .7 3.7 .7 8.4 .7-12.5 .7 6.7 .7 1.2 .7 4.2 .7-26.5 .7-.7 .8 22.1 .7 1.8 .7-7.1 .7-6.5 .7-6.7 .7 7.9 .7-11 .7 19.2 .7 5 .7-3.8 .7-7 .7 .2 .7 3.8 .7-1.1 .7-5.9 .7 7.1 .7-6.8 .7-9.2 .7 21.6 .7-4.4 .7-5.2 .7-1.8 .7 8.9 .7 .1 .7-7.2 .7 5.7 .7-2.2 .7 1.5 .7 3.6 .7-9.2 .7-1.9 .7-1.3 .7 8.8 .7-5.2 .7 1.3 .7-1.9 .7-4.4 .7 11.1 .7 2.8 .7-22.1 .7 17.7 .7-8.1 .7 6.2 .7 6.3 .7-3.4 .7 3.2 .7-4.7 .7-8.9 .7 2.7 .7-15.1 .7 15.3 .7 6.2 .8 2 .7 1.7 .7-1.9 .7-5 .7 4.9 .7 .7 .7-14 .7 3.5 .7 5.6 .7 5.8 .7-20.8 .7 18.9 .7-6.9 .7 6.5 .7-7.4 .7-14.9 .7 16.3 .7-.3 .7-.8 .7-3 .7 .4 .7-8.8 .7 8.5 .7 3.7 .7-5.5 .7 14.3 .7-8.8 .7 6 .7-24.1 .7 22.6 .7-6.4 .7 5.4 .7-6 .7 3.4 .7-18.2 .7 16.6 .7 5.8 .7-3.6 .7-6.8 .7 6.5 .7-.1 .7-18.3 .7 1.7 .7 13.7 .7-1.7 .7 1.4 .7 3.4 .7 6.1 .7-13.6 .7 4.5 .7-20.2 .7 14 .8-5.6 .7 5.5 .7 7 .7-2.5 .7 .8 .7 6.5 .7-13.8 .7 14 .7-11.4 .7-1 .7 3.6 .7-17.7 .7 23.6 .7 4.6 .7-14.4 .7 5 .7-17.1 .7 24.9 .7-6.8 .7-3.6 .7-17.1 .7 19.2 .7-4.4 .7-.2 .7-2 .7 7.3 .7-3.3 .7 .3 .7 9.4 .7-.3 .7-7 .7 4.4 .7-6.9 .7 .3 .7 .8 .7-4.3 .7-6 .7 14.6 .7-.8 .7-9.8 .7 10.3 .7-9.8 .7 7.1 .7 7.9 .7 .5 .7-2 .7-8.4 .7-6.2 .7 15 .7-8.8 .7 10 .7-16" stroke="#0000ff" stroke-width="2.5"/>
</g></svg>
<line x1="97.65" y1="1851.7" x2="97.65" y2="1843.4" class="tk"/>
<text transform="translate(97.65 1877.3) scale(1 1.05)" font-family="'Liberation Serif', serif" font-size="24" text-anchor="middle">0</text>
<line x1="244.2" y1="1851.7" x2="244.2" y2="1843.4" class="tk"/>
<text transform="translate(244.2 1877.3) scale(1 1.05)" font-family="'Liberation Serif', serif" font-size="24" text-anchor="middle">500</text>
<line x1="390.74" y1="1851.7" x2="390.74" y2="1843.4" class="tk"/>
<text transform="translate(390.74 1877.3) scale(1 1.05)" font-family="'Liberation Serif', serif" font-size="24" text-anchor="middle">1000</text>
<line x1="83" y1="1851.7" x2="91.3" y2="1851.7" class="tk"/>
<text transform="translate(74.6 1860.02) scale(1 1.05)" font-family="'Liberation Serif', serif" font-size="24" text-anchor="end">0</text>
<line x1="83" y1="1791.41" x2="91.3" y2="1791.41" class="tk"/>
<text transform="translate(74.6 1799.73) scale(1 1.05)" font-family="'Liberation Serif', serif" font-size="24" text-anchor="end">20</text>
<line x1="83" y1="1731.13" x2="91.3" y2="1731.13" class="tk"/>
<text transform="translate(74.6 1739.44) scale(1 1.05)" font-family="'Liberation Serif', serif" font-size="24" text-anchor="end">40</text>
<line x1="83" y1="1670.84" x2="91.3" y2="1670.84" class="tk"/>
<text transform="translate(74.6 1679.16) scale(1 1.05)" font-family="'Liberation Serif', serif" font-size="24" text-anchor="end">60</text>
<line x1="83" y1="1610.56" x2="91.3" y2="1610.56" class="tk"/>
<text transform="translate(74.6 1618.87) scale(1 1.05)" font-family="'Liberation Serif', serif" font-size="24" text-anchor="end">80</text>
<line x1="83" y1="1550.27" x2="91.3" y2="1550.27" class="tk"/>
<text transform="translate(74.6 1558.59) scale(1 1.05)" font-family="'Liberation Serif', serif" font-size="24" text-anchor="end">100</text>
<text transform="translate(286.4 1912.8) scale(1 1.03)" font-family="'Liberation Serif', serif" font-size="29" text-anchor="middle">Time(s)</text>
<text transform="translate(23 1695.95) rotate(-90) scale(1.025 1)" font-family="'Liberation Serif', serif" font-size="29" text-anchor="middle">SOC(%)</text>
<line x1="603.54" y1="1854.7" x2="603.54" y2="1846.4" class="tk"/>
<text transform="translate(603.54 1880.3) scale(1 1.05)" font-family="'Liberation Serif', serif" font-size="24" text-anchor="middle">0</text>
<line x1="756.96" y1="1854.7" x2="756.96" y2="1846.4" class="tk"/>
<text transform="translate(756.96 1880.3) scale(1 1.05)" font-family="'Liberation Serif', serif" font-size="24" text-anchor="middle">500</text>
<line x1="910.39" y1="1854.7" x2="910.39" y2="1846.4" class="tk"/>
<text transform="translate(910.39 1880.3) scale(1 1.05)" font-family="'Liberation Serif', serif" font-size="24" text-anchor="middle">1000</text>
<line x1="588.2" y1="1854.7" x2="596.5" y2="1854.7" class="tk"/>
<text transform="translate(579.8 1863.02) scale(1 1.05)" font-family="'Liberation Serif', serif" font-size="24" text-anchor="end">0</text>
<line x1="588.2" y1="1791.88" x2="596.5" y2="1791.88" class="tk"/>
<text transform="translate(579.8 1800.2) scale(1 1.05)" font-family="'Liberation Serif', serif" font-size="24" text-anchor="end">1</text>
<line x1="588.2" y1="1729.06" x2="596.5" y2="1729.06" class="tk"/>
<text transform="translate(579.8 1737.38) scale(1 1.05)" font-family="'Liberation Serif', serif" font-size="24" text-anchor="end">2</text>
<line x1="588.2" y1="1666.24" x2="596.5" y2="1666.24" class="tk"/>
<text transform="translate(579.8 1674.56) scale(1 1.05)" font-family="'Liberation Serif', serif" font-size="24" text-anchor="end">3</text>
<line x1="588.2" y1="1603.42" x2="596.5" y2="1603.42" class="tk"/>
<text transform="translate(579.8 1611.74) scale(1 1.05)" font-family="'Liberation Serif', serif" font-size="24" text-anchor="end">4</text>
<line x1="588.2" y1="1540.6" x2="596.5" y2="1540.6" class="tk"/>
<text transform="translate(579.8 1548.92) scale(1 1.05)" font-family="'Liberation Serif', serif" font-size="24" text-anchor="end">5</text>
<text transform="translate(801.15 1915.8) scale(1 1.03)" font-family="'Liberation Serif', serif" font-size="29" text-anchor="middle">Time(s)</text>
<text transform="translate(548.5 1699.05) rotate(-90) scale(1.025 1)" font-family="'Liberation Serif', serif" font-size="29" text-anchor="middle">Absolute error(%)</text>
<line x1="1157.25" y1="1854.8" x2="1157.25" y2="1846.5" class="tk"/>
<text transform="translate(1157.25 1880.4) scale(1 1.05)" font-family="'Liberation Serif', serif" font-size="24" text-anchor="middle">0</text>
<line x1="1297.6" y1="1854.8" x2="1297.6" y2="1846.5" class="tk"/>
<text transform="translate(1297.6 1880.4) scale(1 1.05)" font-family="'Liberation Serif', serif" font-size="24" text-anchor="middle">200</text>
<line x1="1437.94" y1="1854.8" x2="1437.94" y2="1846.5" class="tk"/>
<text transform="translate(1437.94 1880.4) scale(1 1.05)" font-family="'Liberation Serif', serif" font-size="24" text-anchor="middle">400</text>
<line x1="1139" y1="1854.8" x2="1147.3" y2="1854.8" class="tk"/>
<text transform="translate(1130.6 1863.12) scale(1 1.05)" font-family="'Liberation Serif', serif" font-size="24" text-anchor="end">0.00</text>
<line x1="1139" y1="1792.24" x2="1147.3" y2="1792.24" class="tk"/>
<text transform="translate(1130.6 1800.56) scale(1 1.05)" font-family="'Liberation Serif', serif" font-size="24" text-anchor="end">0.02</text>
<line x1="1139" y1="1729.68" x2="1147.3" y2="1729.68" class="tk"/>
<text transform="translate(1130.6 1738) scale(1 1.05)" font-family="'Liberation Serif', serif" font-size="24" text-anchor="end">0.04</text>
<line x1="1139" y1="1667.12" x2="1147.3" y2="1667.12" class="tk"/>
<text transform="translate(1130.6 1675.44) scale(1 1.05)" font-family="'Liberation Serif', serif" font-size="24" text-anchor="end">0.06</text>
<line x1="1139" y1="1604.56" x2="1147.3" y2="1604.56" class="tk"/>
<text transform="translate(1130.6 1612.88) scale(1 1.05)" font-family="'Liberation Serif', serif" font-size="24" text-anchor="end">0.08</text>
<line x1="1139" y1="1542" x2="1147.3" y2="1542" class="tk"/>
<text transform="translate(1130.6 1550.32) scale(1 1.05)" font-family="'Liberation Serif', serif" font-size="24" text-anchor="end">0.10</text>
<text transform="translate(1339.7 1915.9) scale(1 1.03)" font-family="'Liberation Serif', serif" font-size="29" text-anchor="middle">Cycle</text>
<text transform="translate(1072 1699) rotate(-90) scale(1.025 1)" font-family="'Liberation Serif', serif" font-size="29" text-anchor="middle">RMSE</text>
<line x1="1682.65" y1="1854.8" x2="1682.65" y2="1846.5" class="tk"/>
<text transform="translate(1682.65 1880.4) scale(1 1.05)" font-family="'Liberation Serif', serif" font-size="24" text-anchor="middle">0</text>
<line x1="1823.03" y1="1854.8" x2="1823.03" y2="1846.5" class="tk"/>
<text transform="translate(1823.03 1880.4) scale(1 1.05)" font-family="'Liberation Serif', serif" font-size="24" text-anchor="middle">200</text>
<line x1="1963.42" y1="1854.8" x2="1963.42" y2="1846.5" class="tk"/>
<text transform="translate(1963.42 1880.4) scale(1 1.05)" font-family="'Liberation Serif', serif" font-size="24" text-anchor="middle">400</text>
<line x1="1664.4" y1="1854.8" x2="1672.7" y2="1854.8" class="tk"/>
<text transform="translate(1656 1863.12) scale(1 1.05)" font-family="'Liberation Serif', serif" font-size="24" text-anchor="end">0.00</text>
<line x1="1664.4" y1="1792.24" x2="1672.7" y2="1792.24" class="tk"/>
<text transform="translate(1656 1800.56) scale(1 1.05)" font-family="'Liberation Serif', serif" font-size="24" text-anchor="end">0.02</text>
<line x1="1664.4" y1="1729.68" x2="1672.7" y2="1729.68" class="tk"/>
<text transform="translate(1656 1738) scale(1 1.05)" font-family="'Liberation Serif', serif" font-size="24" text-anchor="end">0.04</text>
<line x1="1664.4" y1="1667.12" x2="1672.7" y2="1667.12" class="tk"/>
<text transform="translate(1656 1675.44) scale(1 1.05)" font-family="'Liberation Serif', serif" font-size="24" text-anchor="end">0.06</text>
<line x1="1664.4" y1="1604.56" x2="1672.7" y2="1604.56" class="tk"/>
<text transform="translate(1656 1612.88) scale(1 1.05)" font-family="'Liberation Serif', serif" font-size="24" text-anchor="end">0.08</text>
<line x1="1664.4" y1="1542" x2="1672.7" y2="1542" class="tk"/>
<text transform="translate(1656 1550.32) scale(1 1.05)" font-family="'Liberation Serif', serif" font-size="24" text-anchor="end">0.10</text>
<text transform="translate(1865.15 1915.9) scale(1 1.03)" font-family="'Liberation Serif', serif" font-size="29" text-anchor="middle">Cycle</text>
<text transform="translate(1598.2 1699.8) rotate(-90) scale(1.025 1)" font-family="'Liberation Serif', serif" font-size="29" text-anchor="middle">MAE</text>
<rect x="95.6" y="1669.3" width="208.7" height="169.8" rx="5" ry="5" class="lg"/>
<line x1="102.3" y1="1687.4" x2="156.4" y2="1687.4" stroke="#000000" stroke-width="5.1"/>
<text transform="translate(172.4 1696.1) scale(1 0.9)" font-family="'Noto Serif CJK SC', 'IPAGothic', monospace" font-size="24.9" text-anchor="start" fill="#222" style="font-feature-settings:'hwid'">Reference</text>
<line x1="102.3" y1="1719.8" x2="156.4" y2="1719.8" stroke="#ff0000" stroke-width="2.8"/>
<text transform="translate(172.4 1728.5) scale(1 0.9)" font-family="'Noto Serif CJK SC', 'IPAGothic', monospace" font-size="24.9" text-anchor="start" fill="#222" style="font-feature-settings:'hwid'">GRU</text>
<line x1="102.3" y1="1752.2" x2="156.4" y2="1752.2" stroke="#bf00bf" stroke-width="2.8"/>
<text transform="translate(172.4 1760.9) scale(1 0.9)" font-family="'Noto Serif CJK SC', 'IPAGothic', monospace" font-size="24.9" text-anchor="start" fill="#222" style="font-feature-settings:'hwid'">1D CNN-GRU</text>
<line x1="102.3" y1="1784.6" x2="156.4" y2="1784.6" stroke="#00bfbf" stroke-width="2.8"/>
<text transform="translate(172.4 1793.3) scale(1 0.9)" font-family="'Noto Serif CJK SC', 'IPAGothic', monospace" font-size="24.9" text-anchor="start" fill="#222" style="font-feature-settings:'hwid'">2D CNN-GRU</text>
<line x1="102.3" y1="1817" x2="156.4" y2="1817" stroke="#0000ff" stroke-width="2.8"/>
<text transform="translate(172.4 1825.7) scale(1 0.9)" font-family="'Noto Serif CJK SC', 'IPAGothic', monospace" font-size="24.9" text-anchor="start" fill="#222" style="font-feature-settings:'hwid'">Proposed</text>
<rect x="601.5" y="1553.2" width="218.3" height="135.8" rx="5" ry="5" class="lg"/>
<line x1="611" y1="1571.1" x2="662.8" y2="1571.1" stroke="#ff0000" stroke-width="1.6"/>
<circle cx="636.9" cy="1571.1" r="5.2" fill="#ff0000"/>
<text transform="translate(682 1579.8) scale(1 0.9)" font-family="'Noto Serif CJK SC', 'IPAGothic', monospace" font-size="24.9" text-anchor="start" fill="#222" style="font-feature-settings:'hwid'">GRU</text>
<line x1="611" y1="1603.5" x2="662.8" y2="1603.5" stroke="#bf00bf" stroke-width="1.6"/>
<circle cx="636.9" cy="1603.5" r="5.2" fill="#bf00bf"/>
<text transform="translate(682 1612.2) scale(1 0.9)" font-family="'Noto Serif CJK SC', 'IPAGothic', monospace" font-size="24.9" text-anchor="start" fill="#222" style="font-feature-settings:'hwid'">1D CNN-GRU</text>
<line x1="611" y1="1635.9" x2="662.8" y2="1635.9" stroke="#00bfbf" stroke-width="1.6"/>
<circle cx="636.9" cy="1635.9" r="5.2" fill="#00bfbf"/>
<text transform="translate(682 1644.6) scale(1 0.9)" font-family="'Noto Serif CJK SC', 'IPAGothic', monospace" font-size="24.9" text-anchor="start" fill="#222" style="font-feature-settings:'hwid'">2D CNN-GRU</text>
<line x1="611" y1="1668.3" x2="662.8" y2="1668.3" stroke="#0000ff" stroke-width="1.6"/>
<circle cx="636.9" cy="1668.3" r="5.2" fill="#0000ff"/>
<text transform="translate(682 1677) scale(1 0.9)" font-family="'Noto Serif CJK SC', 'IPAGothic', monospace" font-size="24.9" text-anchor="start" fill="#222" style="font-feature-settings:'hwid'">Proposed</text>
<rect x="1322.6" y="1554.4" width="205.6" height="136.1" rx="5" ry="5" class="lg"/>
<line x1="1331" y1="1571.9" x2="1381" y2="1571.9" stroke="#ff0000" stroke-width="2.8"/>
<text transform="translate(1398.3 1580.6) scale(1 0.9)" font-family="'Noto Serif CJK SC', 'IPAGothic', monospace" font-size="24.9" text-anchor="start" fill="#222" style="font-feature-settings:'hwid'">GRU</text>
<line x1="1331" y1="1604.3" x2="1381" y2="1604.3" stroke="#bf00bf" stroke-width="2.8"/>
<text transform="translate(1398.3 1613) scale(1 0.9)" font-family="'Noto Serif CJK SC', 'IPAGothic', monospace" font-size="24.9" text-anchor="start" fill="#222" style="font-feature-settings:'hwid'">1D CNN-GRU</text>
<line x1="1331" y1="1636.7" x2="1381" y2="1636.7" stroke="#00bfbf" stroke-width="2.8"/>
<text transform="translate(1398.3 1645.4) scale(1 0.9)" font-family="'Noto Serif CJK SC', 'IPAGothic', monospace" font-size="24.9" text-anchor="start" fill="#222" style="font-feature-settings:'hwid'">2D CNN-GRU</text>
<line x1="1331" y1="1669.1" x2="1381" y2="1669.1" stroke="#0000ff" stroke-width="2.8"/>
<text transform="translate(1398.3 1677.8) scale(1 0.9)" font-family="'Noto Serif CJK SC', 'IPAGothic', monospace" font-size="24.9" text-anchor="start" fill="#222" style="font-feature-settings:'hwid'">Proposed</text>
<rect x="1848" y="1554.4" width="205.6" height="136.1" rx="5" ry="5" class="lg"/>
<line x1="1856.5" y1="1571.9" x2="1906.3" y2="1571.9" stroke="#ff0000" stroke-width="2.8"/>
<text transform="translate(1923.4 1580.6) scale(1 0.9)" font-family="'Noto Serif CJK SC', 'IPAGothic', monospace" font-size="24.9" text-anchor="start" fill="#222" style="font-feature-settings:'hwid'">GRU</text>
<line x1="1856.5" y1="1604.3" x2="1906.3" y2="1604.3" stroke="#bf00bf" stroke-width="2.8"/>
<text transform="translate(1923.4 1613) scale(1 0.9)" font-family="'Noto Serif CJK SC', 'IPAGothic', monospace" font-size="24.9" text-anchor="start" fill="#222" style="font-feature-settings:'hwid'">1D CNN-GRU</text>
<line x1="1856.5" y1="1636.7" x2="1906.3" y2="1636.7" stroke="#00bfbf" stroke-width="2.8"/>
<text transform="translate(1923.4 1645.4) scale(1 0.9)" font-family="'Noto Serif CJK SC', 'IPAGothic', monospace" font-size="24.9" text-anchor="start" fill="#222" style="font-feature-settings:'hwid'">2D CNN-GRU</text>
<line x1="1856.5" y1="1669.1" x2="1906.3" y2="1669.1" stroke="#0000ff" stroke-width="2.8"/>
<text transform="translate(1923.4 1677.8) scale(1 0.9)" font-family="'Noto Serif CJK SC', 'IPAGothic', monospace" font-size="24.9" text-anchor="start" fill="#222" style="font-feature-settings:'hwid'">Proposed</text>
<rect x="83" y="1535.2" width="406.8" height="316.5" class="fr"/>
<rect x="588.2" y="1540.6" width="425.9" height="314.1" class="fr"/>
<rect x="1139" y="1542" width="401.4" height="312.8" class="fr"/>
<rect x="1664.4" y="1542" width="401.5" height="312.8" class="fr"/>
<text transform="translate(1087 1999.6) scale(1 1.02)" font-family="'Liberation Serif', serif" font-size="49" text-anchor="middle">(d) RW28</text>
</svg>
</body></html>
